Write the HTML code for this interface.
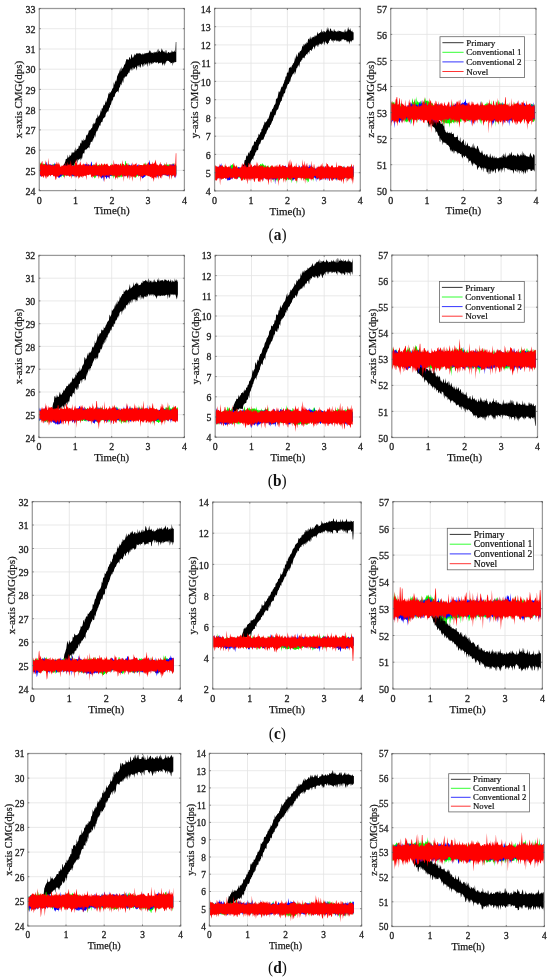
<!DOCTYPE html>
<html><head><meta charset="utf-8"><title>CMG figure</title>
<style>html,body{margin:0;padding:0;background:#fff;width:550px;height:979px;overflow:hidden}svg{display:block}</style>
</head><body>
<svg width="550" height="979" viewBox="0 0 550 979">
<rect width="550" height="979" fill="#fff"/>
<defs><clipPath id="ca1"><rect x="39.3" y="8.5" width="145.1" height="182.1"/></clipPath><clipPath id="ca2"><rect x="214.6" y="8.4" width="145.7" height="182.5"/></clipPath><clipPath id="ca3"><rect x="390.7" y="8.4" width="145.3" height="182.3"/></clipPath><clipPath id="cb1"><rect x="38.9" y="255.4" width="145.5" height="182.1"/></clipPath><clipPath id="cb2"><rect x="215.2" y="255.4" width="145.3" height="181.8"/></clipPath><clipPath id="cb3"><rect x="391.8" y="255.1" width="145.7" height="182.4"/></clipPath><clipPath id="cc1"><rect x="32.3" y="501.6" width="148" height="187.4"/></clipPath><clipPath id="cc2"><rect x="212.7" y="502.1" width="148.5" height="186.9"/></clipPath><clipPath id="cc3"><rect x="392.9" y="501.6" width="149.5" height="187.4"/></clipPath><clipPath id="cd1"><rect x="27.8" y="753.5" width="152.9" height="172.5"/></clipPath><clipPath id="cd2"><rect x="209.4" y="753.4" width="152.2" height="172.6"/></clipPath><clipPath id="cd3"><rect x="391.9" y="753.6" width="152.5" height="172.9"/></clipPath></defs>
<g font-family="'Liberation Serif', 'DejaVu Serif', serif">
<g><path d="M75.6 8.5V190.6M111.9 8.5V190.6M148.1 8.5V190.6M39.3 170.4H184.4M39.3 150.1H184.4M39.3 129.9H184.4M39.3 109.7H184.4M39.3 89.4H184.4M39.3 69.2H184.4M39.3 49H184.4M39.3 28.7H184.4" stroke="#e3e3e3" stroke-width="0.8" fill="none"/><g clip-path="url(#ca1)"><path d="M61.3 168L61.8 168.2 62.3 167.5 62.8 165.9 63.3 166.4 63.8 164.5 64.3 164 64.8 162.8 65.3 161.5 65.8 158.9 66.3 158.8 66.8 159.1 67.3 158 67.8 154.5 68.3 157.8 68.8 157.3 69.3 156.7 69.8 154.5 70.3 155.9 70.8 155.6 71.3 154.4 71.8 152.3 72.3 151.9 72.8 153.4 73.3 151.9 73.8 152.8 74.3 152.3 74.8 149.2 75.3 151.5 75.8 147.1 76.3 151 76.8 149.2 77.3 148.9 77.8 148.7 78.3 148.5 78.8 145.6 79.3 146.5 79.8 145.5 80.3 143.6 80.8 142.4 81.3 143.8 81.8 139.6 82.3 140.7 82.8 140.2 83.3 141.6 83.8 138.4 84.3 140.2 84.8 140.3 85.3 139.8 85.8 137.7 86.3 134.6 86.8 135.5 87.3 135.2 87.8 134 88.3 133 88.8 130.7 89.3 129.8 89.8 131.1 90.3 128.9 90.8 130 91.3 128.2 91.8 127.9 92.3 127.3 92.8 123.8 93.3 124.7 93.8 122.4 94.3 124.3 94.8 122.8 95.3 122.8 95.8 119.3 96.3 117.4 96.8 118.8 97.3 117.6 97.8 113.9 98.3 116.8 98.8 116.4 99.3 115.6 99.8 114.8 100.3 112.7 100.8 110.1 101.3 112 101.8 108.2 102.3 108.6 102.8 108.3 103.3 104 103.8 106.6 104.3 104.5 104.8 105.3 105.3 100.2 105.8 103 106.3 102 106.8 100.6 107.3 98.6 107.8 97.5 108.3 94.3 108.8 92.9 109.3 94.3 109.8 91.7 110.3 92.7 110.8 92.2 111.3 91 111.8 90.5 112.3 88.5 112.8 88.5 113.3 87.6 113.8 82.1 114.3 84.9 114.8 83.1 115.3 80.1 115.8 82.1 116.3 81.1 116.8 79 117.3 74.4 117.8 76.6 118.3 72.5 118.8 74 119.3 71.7 119.8 70.1 120.3 67.7 120.8 71.7 121.3 70.5 121.8 66.2 122.3 68.9 122.8 68.3 123.3 67.4 123.8 66.3 124.3 64.3 124.8 64.7 125.3 63.3 125.8 61.2 126.3 59.4 126.8 59 127.3 59.8 127.8 58.9 128.3 59.9 128.8 59.4 129.3 56.7 129.8 57.5 130.3 59.6 130.8 58 131.3 54.7 131.8 54 132.3 57.9 132.8 57.2 133.3 57.6 133.8 55.9 134.3 53.6 134.8 55.8 135.3 55.1 135.8 54.4 136.3 53.4 136.8 53.2 137.3 53.4 137.8 53.6 138.3 53 138.8 54.1 139.3 53.6 139.8 52.8 140.3 54.3 140.8 52.9 141.3 54.4 141.8 54.5 142.3 54.6 142.8 53 143.3 54.7 143.8 53.5 144.3 54.2 144.8 52.7 145.3 53.3 145.8 53.5 146.3 53.2 146.8 52.8 147.3 53.3 147.8 52.7 148.3 52.2 148.8 53.3 149.3 49.8 149.8 51.6 150.3 50.4 150.8 52.5 151.3 53.3 151.8 52 152.3 52.8 152.8 53 153.3 53.6 153.8 51.7 154.3 53.1 154.8 51.5 155.3 52.8 155.8 51.8 156.3 52.4 156.8 51.4 157.3 48.9 157.8 53 158.3 51.3 158.8 48.4 159.3 51.6 159.8 50.7 160.3 52 160.8 52.3 161.3 50.2 161.8 48 162.3 51.5 162.8 48.9 163.3 52.3 163.8 51.2 164.3 51.3 164.8 52.6 165.3 52.7 165.8 50.1 166.3 50.3 166.8 53.3 167.3 53.5 167.8 52.6 168.3 51.9 168.8 51.9 169.3 52.9 169.8 52.6 170.3 52.5 170.8 52.4 171.3 52.5 171.8 50.3 172.3 51 172.8 52.2 173.3 52.1 173.8 51.5 174.3 50.2 174.8 51.8 175.3 52.1 175.8 41.9 176.3 41.9 176.3 61.8 175.8 62.3 175.3 62 174.8 61.8 174.3 62.6 173.8 63.2 173.3 61.9 172.8 66.3 172.3 62.3 171.8 63 171.3 62.9 170.8 63.6 170.3 62.2 169.8 62 169.3 61.8 168.8 61.1 168.3 60.9 167.8 60.5 167.3 61.1 166.8 61.3 166.3 61.1 165.8 64.5 165.3 62 164.8 63.4 164.3 66.2 163.8 62.4 163.3 64.2 162.8 64.3 162.3 66.1 161.8 62 161.3 63 160.8 63.3 160.3 62.6 159.8 62.7 159.3 62.9 158.8 63.4 158.3 63.8 157.8 62.2 157.3 62 156.8 63.2 156.3 62.6 155.8 61.7 155.3 63.2 154.8 62.1 154.3 62.2 153.8 62.6 153.3 63.6 152.8 61.9 152.3 64.2 151.8 63.1 151.3 64.8 150.8 62.2 150.3 63.2 149.8 66.2 149.3 63 148.8 64.1 148.3 62 147.8 63.7 147.3 67.1 146.8 64.6 146.3 63 145.8 64.8 145.3 64.6 144.8 62.8 144.3 65.2 143.8 66.9 143.3 63.8 142.8 65.1 142.3 67.4 141.8 64.1 141.3 64.1 140.8 66.7 140.3 68.2 139.8 64.5 139.3 67.2 138.8 66.9 138.3 65.3 137.8 65.4 137.3 66.3 136.8 70.7 136.3 68.6 135.8 66.8 135.3 66.9 134.8 68.7 134.3 68.7 133.8 67.3 133.3 70 132.8 67.1 132.3 70.3 131.8 70.8 131.3 68.8 130.8 68.5 130.3 70.3 129.8 70.5 129.3 73.2 128.8 72.3 128.3 73.2 127.8 74 127.3 74.5 126.8 77.2 126.3 75.8 125.8 76.6 125.3 76.7 124.8 76.8 124.3 78.7 123.8 77.4 123.3 82.6 122.8 82.8 122.3 80 121.8 82.9 121.3 85.5 120.8 83.8 120.3 85.6 119.8 87.7 119.3 87.3 118.8 89.9 118.3 92.8 117.8 91.6 117.3 91.1 116.8 92 116.3 92 115.8 93.2 115.3 93.6 114.8 96 114.3 96.9 113.8 96.9 113.3 97.5 112.8 101.6 112.3 99.6 111.8 101 111.3 103.1 110.8 105.2 110.3 104.5 109.8 107.9 109.3 107.2 108.8 109.5 108.3 111.6 107.8 112.1 107.3 111.1 106.8 112.2 106.3 113.1 105.8 114.1 105.3 116.8 104.8 117.1 104.3 117.7 103.8 117.9 103.3 118.5 102.8 119.8 102.3 122.3 101.8 121.7 101.3 122.3 100.8 123.1 100.3 126 99.8 125.1 99.3 126.1 98.8 127.2 98.3 128.4 97.8 129.5 97.3 131.3 96.8 130.8 96.3 132.1 95.8 133.4 95.3 137.7 94.8 134.8 94.3 136.9 93.8 138.2 93.3 138.8 92.8 142.6 92.3 139.4 91.8 141.8 91.3 142.1 90.8 142.1 90.3 144.5 89.8 145 89.3 148.4 88.8 147.2 88.3 147.6 87.8 147.9 87.3 148.2 86.8 149.4 86.3 149.3 85.8 149.3 85.3 150 84.8 150.1 84.3 153.6 83.8 153.8 83.3 152.7 82.8 154.1 82.3 157.4 81.8 159.7 81.3 157.2 80.8 161.2 80.3 158 79.8 159.6 79.3 158.4 78.8 160.4 78.3 159.5 77.8 159.1 77.3 163.8 76.8 160.2 76.3 160.4 75.8 162 75.3 161.9 74.8 163.4 74.3 165 73.8 167.1 73.3 165.9 72.8 164.9 72.3 165.9 71.8 168.2 71.3 166.8 70.8 167.8 70.3 167.7 69.8 167.1 69.3 167.4 68.8 167.9 68.3 171 67.8 168.5 67.3 168.7 66.8 170.6 66.3 172 65.8 170.1 65.3 171.3 64.8 171.3 64.3 171.5 63.8 171.2 63.3 171.5 62.8 172.5 62.3 171.9 61.8 172.1 61.3 173.8Z" fill="#000"/><path d="M39.3 163.8L39.8 163.5 40.3 162.6 40.8 164.1 41.3 163.6 41.8 164.2 42.3 164.3 42.8 164.7 43.3 163.2 43.8 164.1 44.3 164.3 44.8 163.7 45.3 164.5 45.8 163.9 46.3 165.6 46.8 165.4 47.3 164.5 47.8 165.6 48.3 163.2 48.8 165.3 49.3 165.7 49.8 166.3 50.3 166.5 50.8 166.4 51.3 164.6 51.8 166.2 52.3 164.9 52.8 164.7 53.3 164.3 53.8 164.3 54.3 164 54.8 164.2 55.3 163.8 55.8 165.1 56.3 165 56.8 164.3 57.3 163.8 57.8 164.9 58.3 165.3 58.8 165.1 59.3 166.6 59.8 166.9 60.3 167 60.8 167.1 61.3 166.5 61.8 167.2 62.3 166.1 62.8 166.2 63.3 167 63.8 167.9 64.3 167.6 64.8 167.8 65.3 167.9 65.8 167.6 66.3 165.4 66.8 167.8 67.3 167 67.8 167.5 68.3 165.2 68.8 166.1 69.3 166.8 69.8 166.6 70.3 166.6 70.8 166.6 71.3 166.2 71.8 165.9 72.3 165.8 72.8 166.3 73.3 165.6 73.8 165.4 74.3 165.7 74.8 162.6 75.3 165.8 75.8 166 76.3 165.7 76.8 166.3 77.3 165.6 77.8 166.8 78.3 166.1 78.8 166.4 79.3 166.6 79.8 166.8 80.3 167 80.8 167.1 81.3 165.8 81.8 167 82.3 167.2 82.8 166 83.3 166.2 83.8 166.2 84.3 165.8 84.8 165.3 85.3 164.7 85.8 166.1 86.3 165.4 86.8 165.6 87.3 165.2 87.8 164.3 88.3 166.2 88.8 166.5 89.3 165.9 89.8 166.7 90.3 165.8 90.8 166.3 91.3 165.2 91.8 165.3 92.3 165.5 92.8 165.8 93.3 165.5 93.8 164.1 94.3 164.2 94.8 165.9 95.3 164.9 95.8 166.6 96.3 167.3 96.8 166.9 97.3 163.9 97.8 166.3 98.3 164.7 98.8 165.1 99.3 166 99.8 164.7 100.3 165.2 100.8 165.5 101.3 164.7 101.8 165.2 102.3 165 102.8 165.2 103.3 165.2 103.8 164.6 104.3 165.3 104.8 165.3 105.3 165.4 105.8 166 106.3 165.8 106.8 166.8 107.3 166.5 107.8 166.8 108.3 165.8 108.8 166.9 109.3 166.9 109.8 166.6 110.3 166.1 110.8 166.7 111.3 162.8 111.8 165.9 112.3 166.8 112.8 166.5 113.3 166 113.8 166.6 114.3 166.8 114.8 167 115.3 166.7 115.8 167.4 116.3 167.6 116.8 166.4 117.3 167.9 117.8 167.7 118.3 166.8 118.8 166.6 119.3 166.4 119.8 167.4 120.3 164.8 120.8 165.6 121.3 165.5 121.8 163.1 122.3 165.5 122.8 165.1 123.3 165.6 123.8 164 124.3 164.9 124.8 165.4 125.3 160.8 125.8 160.9 126.3 165.2 126.8 163.1 127.3 165.9 127.8 165.4 128.3 165 128.8 162.7 129.3 166.1 129.8 165.4 130.3 166.7 130.8 167.7 131.3 164.9 131.8 169 132.3 166.4 132.8 169.2 133.3 167.6 133.8 168.2 134.3 167.8 134.8 167.1 135.3 167.2 135.8 163.7 136.3 167.7 136.8 167.9 137.3 166.7 137.8 167.3 138.3 167.9 138.8 167.3 139.3 167.3 139.8 166.4 140.3 166.5 140.8 166.5 141.3 164.9 141.8 166.3 142.3 165.2 142.8 165.3 143.3 165.1 143.8 164.6 144.3 164.4 144.8 163.7 145.3 162.3 145.8 164.8 146.3 164.9 146.8 164.4 147.3 164.9 147.8 164.9 148.3 164.2 148.8 166.5 149.3 166.7 149.8 165.2 150.3 166.5 150.8 164.7 151.3 166.4 151.8 165.8 152.3 165.7 152.8 166.3 153.3 166.8 153.8 166.3 154.3 166.4 154.8 166.2 155.3 165.5 155.8 166.8 156.3 167.1 156.8 166.1 157.3 166.7 157.8 165.2 158.3 166.5 158.8 166.4 159.3 166.3 159.8 166.6 160.3 167.7 160.8 167.6 161.3 167.8 161.8 167.7 162.3 166.7 162.8 166.7 163.3 166.3 163.8 165.4 164.3 165.6 164.8 163.2 165.3 164.9 165.8 164.3 166.3 164.8 166.8 164.7 167.3 164.9 167.8 163.9 168.3 165.4 168.8 164 169.3 165.1 169.8 164.3 170.3 165.3 170.8 165.8 171.3 165.7 171.8 163.8 172.3 165.4 172.8 165.2 173.3 165 173.8 162.6 174.3 165.1 174.8 165.8 175.3 164.8 175.8 164.9 176.3 164.8 176.3 173.9 175.8 173.8 175.3 173.9 174.8 174.4 174.3 174.4 173.8 174 173.3 175 172.8 176.1 172.3 175.8 171.8 173.5 171.3 173.3 170.8 174.8 170.3 174.4 169.8 174.4 169.3 173.7 168.8 173.8 168.3 174.4 167.8 173.3 167.3 174 166.8 174 166.3 173.4 165.8 175.4 165.3 175.2 164.8 173.6 164.3 173.5 163.8 173.6 163.3 174.9 162.8 174.5 162.3 173.2 161.8 173.2 161.3 173.3 160.8 175.4 160.3 174.6 159.8 174.7 159.3 175.5 158.8 175.1 158.3 177.7 157.8 175 157.3 174.7 156.8 174.6 156.3 174.4 155.8 174.3 155.3 175.4 154.8 173.9 154.3 173.8 153.8 174.8 153.3 174.6 152.8 174.5 152.3 175.5 151.8 176.6 151.3 174.6 150.8 174.7 150.3 174.7 149.8 176 149.3 175.2 148.8 174.5 148.3 174.4 147.8 175 147.3 175.5 146.8 175.6 146.3 174.4 145.8 175.2 145.3 174.9 144.8 174.8 144.3 174.3 143.8 174 143.3 174 142.8 174.8 142.3 174.8 141.8 174.8 141.3 175.5 140.8 174.5 140.3 174.7 139.8 175.5 139.3 175.1 138.8 175.6 138.3 175.4 137.8 175.8 137.3 175.7 136.8 175.9 136.3 177.3 135.8 177.3 135.3 176.7 134.8 178.3 134.3 176.5 133.8 176.2 133.3 175.9 132.8 175.9 132.3 175.8 131.8 175.3 131.3 175.8 130.8 175.1 130.3 175.4 129.8 175.4 129.3 175.1 128.8 174.3 128.3 174.2 127.8 173.9 127.3 173.4 126.8 174.2 126.3 173.6 125.8 173.2 125.3 174 124.8 173.5 124.3 173.9 123.8 174.9 123.3 174.3 122.8 175.3 122.3 175 121.8 177.8 121.3 176.6 120.8 176.2 120.3 177 119.8 177.8 119.3 176.5 118.8 177.2 118.3 177.1 117.8 176.3 117.3 178 116.8 177.1 116.3 176.3 115.8 177.2 115.3 177.1 114.8 176.9 114.3 175.9 113.8 176 113.3 178.9 112.8 175.8 112.3 175.7 111.8 176.6 111.3 175.8 110.8 175.7 110.3 175.6 109.8 175.1 109.3 175.1 108.8 175.6 108.3 175.1 107.8 174 107.3 174.2 106.8 173.4 106.3 174.4 105.8 173.6 105.3 175.5 104.8 174.2 104.3 174.1 103.8 175.5 103.3 176.6 102.8 174.5 102.3 174 101.8 175.5 101.3 175.5 100.8 173.9 100.3 175.4 99.8 174.2 99.3 174.5 98.8 175.7 98.3 174.8 97.8 174.7 97.3 174.7 96.8 175 96.3 175.2 95.8 176.7 95.3 178.1 94.8 177.3 94.3 178.8 93.8 176.5 93.3 176.5 92.8 175.6 92.3 176.2 91.8 174.7 91.3 174.5 90.8 174.2 90.3 174 89.8 173.5 89.3 174 88.8 174.2 88.3 173.5 87.8 174 87.3 174.2 86.8 174.7 86.3 174.2 85.8 175.2 85.3 175.8 84.8 174.6 84.3 173.9 83.8 174 83.3 174.2 82.8 174.1 82.3 174.6 81.8 175.6 81.3 177 80.8 176.1 80.3 176.1 79.8 177.1 79.3 176.8 78.8 177.5 78.3 176.3 77.8 175.7 77.3 175.3 76.8 175.1 76.3 175.2 75.8 176.8 75.3 175 74.8 175.6 74.3 174.3 73.8 175.1 73.3 174.9 72.8 177.1 72.3 175.7 71.8 174.2 71.3 174.5 70.8 174.8 70.3 174.4 69.8 174.9 69.3 175.1 68.8 174.6 68.3 175.4 67.8 175.5 67.3 174.5 66.8 176.6 66.3 175.4 65.8 175 65.3 174.8 64.8 177.2 64.3 174.6 63.8 176.3 63.3 177.2 62.8 175.5 62.3 175.5 61.8 175.3 61.3 177.7 60.8 176.2 60.3 177.1 59.8 174.3 59.3 174.4 58.8 174.5 58.3 175.1 57.8 173.6 57.3 173.1 56.8 173.2 56.3 172.9 55.8 173.2 55.3 173 54.8 174.2 54.3 176 53.8 173.4 53.3 175.5 52.8 174.5 52.3 173.8 51.8 174.1 51.3 174.3 50.8 175.2 50.3 175.2 49.8 174.5 49.3 174.8 48.8 175 48.3 176.6 47.8 175.4 47.3 175.6 46.8 173.9 46.3 173.5 45.8 173.1 45.3 172.4 44.8 172.4 44.3 173 43.8 172.1 43.3 172.9 42.8 171.3 42.3 172 41.8 172.1 41.3 172.4 40.8 171.7 40.3 172.1 39.8 174.3 39.3 173.8Z" fill="#00ff00"/><path d="M39.3 165.9L39.8 165 40.3 165.8 40.8 165.7 41.3 166.1 41.8 166.4 42.3 165.8 42.8 164.2 43.3 165.8 43.8 166.4 44.3 165.3 44.8 164.4 45.3 165.2 45.8 163.5 46.3 161.4 46.8 163.9 47.3 164.5 47.8 164.7 48.3 164.7 48.8 165.1 49.3 164.5 49.8 164.6 50.3 163.7 50.8 165.3 51.3 164.9 51.8 164.5 52.3 165.4 52.8 164.9 53.3 165.4 53.8 165.5 54.3 164.8 54.8 162.4 55.3 163.9 55.8 165.9 56.3 166 56.8 165.9 57.3 167.1 57.8 164.4 58.3 167.2 58.8 167.1 59.3 167.3 59.8 167.7 60.3 168.2 60.8 168.3 61.3 166.9 61.8 167.7 62.3 167.4 62.8 166.5 63.3 165.1 63.8 165.7 64.3 166.5 64.8 164.9 65.3 164.8 65.8 166.5 66.3 166.4 66.8 166.2 67.3 165.8 67.8 164.9 68.3 165.7 68.8 166.5 69.3 165.9 69.8 166.6 70.3 165.7 70.8 167 71.3 167.1 71.8 166.7 72.3 168.1 72.8 168.1 73.3 164.4 73.8 165.2 74.3 166.8 74.8 167.4 75.3 167.1 75.8 166.7 76.3 166.1 76.8 166 77.3 166.2 77.8 165.1 78.3 166.1 78.8 165.1 79.3 166 79.8 166.3 80.3 165.8 80.8 164.1 81.3 166.8 81.8 166.9 82.3 166.7 82.8 165.4 83.3 165.7 83.8 165.2 84.3 165.3 84.8 164.4 85.3 163.5 85.8 164.8 86.3 163.9 86.8 164 87.3 164.8 87.8 165 88.3 164 88.8 164.4 89.3 165.6 89.8 164.8 90.3 164.9 90.8 165.8 91.3 162.1 91.8 161.6 92.3 166.5 92.8 166.2 93.3 166.6 93.8 166.6 94.3 167.1 94.8 166.7 95.3 167.4 95.8 166.8 96.3 167.4 96.8 167.3 97.3 166.8 97.8 167.3 98.3 167.6 98.8 167.9 99.3 168.1 99.8 166.5 100.3 167.9 100.8 166 101.3 168.6 101.8 166.1 102.3 168.8 102.8 168.9 103.3 169.5 103.8 169.1 104.3 168.4 104.8 169.3 105.3 169.4 105.8 169.3 106.3 168.8 106.8 168.5 107.3 167.5 107.8 167 108.3 166.1 108.8 167.3 109.3 166.6 109.8 166.5 110.3 165.2 110.8 166.1 111.3 166.6 111.8 166.2 112.3 166.5 112.8 165.8 113.3 166.1 113.8 166.6 114.3 165.8 114.8 163.3 115.3 165.3 115.8 165.2 116.3 163.4 116.8 165.7 117.3 165.8 117.8 164.4 118.3 165.7 118.8 164 119.3 166.2 119.8 166.6 120.3 166.7 120.8 167.6 121.3 168 121.8 167.9 122.3 166.9 122.8 167 123.3 167.7 123.8 167.1 124.3 166.2 124.8 166.6 125.3 166.2 125.8 164.7 126.3 166.5 126.8 166.1 127.3 166.6 127.8 166.3 128.3 166.1 128.8 164.9 129.3 164.9 129.8 164.4 130.3 165.6 130.8 166.1 131.3 165.6 131.8 162.9 132.3 166.8 132.8 167.2 133.3 166.7 133.8 165 134.3 165.9 134.8 167 135.3 167 135.8 165.2 136.3 166.5 136.8 166.1 137.3 164.5 137.8 165.6 138.3 166.2 138.8 163.8 139.3 166.3 139.8 165.6 140.3 166.8 140.8 166 141.3 167.3 141.8 167.5 142.3 165.9 142.8 167.3 143.3 167.8 143.8 167.6 144.3 168.1 144.8 165.1 145.3 167.7 145.8 166 146.3 166.2 146.8 166.9 147.3 163.5 147.8 165.4 148.3 164.9 148.8 164.1 149.3 159.7 149.8 162.4 150.3 164.2 150.8 164.4 151.3 164.6 151.8 164.9 152.3 165.4 152.8 165.3 153.3 165.8 153.8 163.8 154.3 165.8 154.8 166.4 155.3 164.3 155.8 166.3 156.3 165.9 156.8 166.6 157.3 166.6 157.8 164.4 158.3 166.4 158.8 166.3 159.3 166.1 159.8 165.7 160.3 164 160.8 165.4 161.3 163.7 161.8 165.1 162.3 166.4 162.8 165.7 163.3 165 163.8 166.6 164.3 165.6 164.8 165.1 165.3 166.6 165.8 166.4 166.3 166.3 166.8 165.9 167.3 165.4 167.8 166.6 168.3 165.9 168.8 166.5 169.3 165.9 169.8 166 170.3 163.9 170.8 165 171.3 165.2 171.8 164.2 172.3 164.4 172.8 164.2 173.3 163.7 173.8 164.6 174.3 165.3 174.8 165 175.3 165.6 175.8 165.8 176.3 166.3 176.3 175 175.8 178.6 175.3 175.1 174.8 177.9 174.3 175.3 173.8 175.3 173.3 175.2 172.8 176.4 172.3 174.5 171.8 174 171.3 174.8 170.8 174 170.3 173.8 169.8 174.4 169.3 174.2 168.8 176.9 168.3 175.3 167.8 175.5 167.3 176.4 166.8 175.5 166.3 175.5 165.8 175.2 165.3 174.9 164.8 175 164.3 174.6 163.8 174.6 163.3 174.8 162.8 175.6 162.3 174.9 161.8 175.4 161.3 175.2 160.8 178.3 160.3 175.2 159.8 175 159.3 175.4 158.8 175 158.3 175 157.8 178 157.3 175.7 156.8 175.5 156.3 175.8 155.8 177 155.3 177.2 154.8 175.1 154.3 175.3 153.8 175.8 153.3 176.1 152.8 175.5 152.3 175.4 151.8 174.9 151.3 174.6 150.8 176.3 150.3 175 149.8 173.6 149.3 174.1 148.8 173.8 148.3 174 147.8 175.3 147.3 174.6 146.8 174.7 146.3 174.8 145.8 175 145.3 176.6 144.8 177.1 144.3 176.6 143.8 177.7 143.3 177.4 142.8 178.5 142.3 178.3 141.8 177.1 141.3 176.7 140.8 176.4 140.3 176.2 139.8 175.6 139.3 175.4 138.8 176 138.3 174.1 137.8 174.5 137.3 174.8 136.8 175.2 136.3 174 135.8 175.2 135.3 176.2 134.8 174.2 134.3 175 133.8 174.7 133.3 174.4 132.8 174.9 132.3 174.7 131.8 176.3 131.3 175.5 130.8 176 130.3 175 129.8 175.7 129.3 174.7 128.8 178.3 128.3 174.5 127.8 175.6 127.3 174.3 126.8 174.8 126.3 175.3 125.8 176 125.3 175.5 124.8 176.2 124.3 176.3 123.8 176.6 123.3 174.9 122.8 175.3 122.3 174.8 121.8 173.9 121.3 174.1 120.8 175.9 120.3 174.2 119.8 174.3 119.3 173.6 118.8 175.2 118.3 174.3 117.8 173.6 117.3 173.9 116.8 173.2 116.3 173.3 115.8 173.6 115.3 176.5 114.8 173 114.3 173.3 113.8 173.4 113.3 173.8 112.8 174.3 112.3 175.2 111.8 175.4 111.3 175.5 110.8 175.4 110.3 176 109.8 176.1 109.3 178.9 108.8 177.9 108.3 176.9 107.8 176.9 107.3 177 106.8 178.8 106.3 178.8 105.8 176.7 105.3 177.2 104.8 176.3 104.3 177.3 103.8 181.7 103.3 177.3 102.8 177 102.3 177.9 101.8 178.4 101.3 178.4 100.8 176.6 100.3 176.7 99.8 176.6 99.3 175.3 98.8 176.6 98.3 175.2 97.8 176.4 97.3 175.6 96.8 175.3 96.3 175.4 95.8 175.5 95.3 174.3 94.8 174.4 94.3 175.1 93.8 175.7 93.3 175.2 92.8 175.1 92.3 176.2 91.8 175 91.3 173.9 90.8 173.1 90.3 173.3 89.8 173.5 89.3 173.3 88.8 173.6 88.3 175.5 87.8 174.1 87.3 173.3 86.8 174.5 86.3 173.6 85.8 173.3 85.3 173.8 84.8 174.6 84.3 174.6 83.8 173.6 83.3 173.6 82.8 174.2 82.3 174.6 81.8 176.7 81.3 175.2 80.8 173.8 80.3 174.1 79.8 174 79.3 173.9 78.8 175.8 78.3 174.3 77.8 174.6 77.3 174.6 76.8 174.9 76.3 177.9 75.8 175.4 75.3 175.6 74.8 175.4 74.3 176 73.8 175.8 73.3 176.4 72.8 176 72.3 174.9 71.8 176.8 71.3 175 70.8 175.4 70.3 174.8 69.8 174.8 69.3 174.5 68.8 174.8 68.3 174.7 67.8 175.5 67.3 175.7 66.8 173.9 66.3 173.8 65.8 173.6 65.3 173.5 64.8 173.2 64.3 173.8 63.8 173.5 63.3 175.1 62.8 175.7 62.3 174.5 61.8 176 61.3 175.7 60.8 177.3 60.3 176.1 59.8 178.5 59.3 177 58.8 177.4 58.3 177.7 57.8 176.7 57.3 175.9 56.8 175.4 56.3 175.8 55.8 174.8 55.3 175.1 54.8 176.3 54.3 174 53.8 175.1 53.3 173.8 52.8 174.4 52.3 174.7 51.8 175.1 51.3 173.9 50.8 176.7 50.3 173.2 49.8 172.7 49.3 172.9 48.8 173 48.3 172.1 47.8 172.4 47.3 172.6 46.8 174.6 46.3 173.3 45.8 172.2 45.3 172.2 44.8 172.4 44.3 172.9 43.8 173 43.3 173.1 42.8 174 42.3 174.3 41.8 176.5 41.3 175.7 40.8 175.4 40.3 176.8 39.8 175.7 39.3 175.6Z" fill="#0000ff"/><path d="M39.3 162L39.8 161.9 40.3 165 40.8 163.8 41.3 163.3 41.8 161.7 42.3 160.7 42.8 165 43.3 163.8 43.8 165 44.3 165 44.8 164.5 45.3 163.6 45.8 160.1 46.3 165 46.8 163.8 47.3 165.4 47.8 164.8 48.3 157.8 48.8 165.3 49.3 164.8 49.8 164.6 50.3 165.2 50.8 164.8 51.3 165.3 51.8 165.5 52.3 165.9 52.8 163.6 53.3 165 53.8 165.8 54.3 165.2 54.8 165.3 55.3 163.6 55.8 164.7 56.3 163.9 56.8 161.5 57.3 163.1 57.8 164.7 58.3 164.3 58.8 161.7 59.3 165.8 59.8 163 60.3 166.9 60.8 166.4 61.3 166.4 61.8 165.3 62.3 165.8 62.8 165.7 63.3 165.4 63.8 164.4 64.3 166.1 64.8 164.4 65.3 166.3 65.8 162.5 66.3 164.9 66.8 166.1 67.3 165.6 67.8 161.8 68.3 164.8 68.8 164.8 69.3 165.3 69.8 163.5 70.3 164.8 70.8 160.3 71.3 164.2 71.8 166 72.3 166 72.8 165.3 73.3 165.5 73.8 165.5 74.3 165.5 74.8 164.9 75.3 159.9 75.8 162.7 76.3 163.6 76.8 158.3 77.3 165.7 77.8 164.6 78.3 164.7 78.8 164.6 79.3 164.8 79.8 163.2 80.3 161.1 80.8 163.8 81.3 164.9 81.8 165.2 82.3 165.2 82.8 163.9 83.3 163.2 83.8 164.6 84.3 164 84.8 164.7 85.3 164.9 85.8 165.7 86.3 165.8 86.8 161.6 87.3 163.8 87.8 165.8 88.3 166.3 88.8 164.1 89.3 165.5 89.8 164.6 90.3 163.2 90.8 165.5 91.3 166.2 91.8 166 92.3 165 92.8 165.3 93.3 165.4 93.8 164.5 94.3 165.1 94.8 164.7 95.3 162.3 95.8 165.7 96.3 161.2 96.8 163.9 97.3 165.9 97.8 165.4 98.3 165.8 98.8 165.4 99.3 163.5 99.8 165.6 100.3 165.7 100.8 164.8 101.3 163.1 101.8 164.2 102.3 163.7 102.8 166.2 103.3 165 103.8 164.6 104.3 163.8 104.8 163.6 105.3 164.2 105.8 165.1 106.3 164.1 106.8 163.7 107.3 163.6 107.8 164.7 108.3 165.9 108.8 165.4 109.3 166.4 109.8 166.2 110.3 164.5 110.8 165.6 111.3 165.6 111.8 164.5 112.3 163.9 112.8 165 113.3 165.5 113.8 159.6 114.3 164.9 114.8 164.1 115.3 163.7 115.8 164.5 116.3 164.3 116.8 163.8 117.3 165.2 117.8 164.3 118.3 163.7 118.8 164.9 119.3 165.6 119.8 164.4 120.3 163.5 120.8 163.4 121.3 165.9 121.8 165.2 122.3 160.1 122.8 164.1 123.3 164.2 123.8 164 124.3 165.8 124.8 165.6 125.3 165.7 125.8 164.3 126.3 162.9 126.8 164 127.3 165.5 127.8 162.7 128.3 165.7 128.8 165 129.3 164.7 129.8 166.1 130.3 165.7 130.8 165.1 131.3 165.1 131.8 165.5 132.3 165.7 132.8 162.1 133.3 165.4 133.8 164.3 134.3 164.7 134.8 164.4 135.3 164.1 135.8 163.8 136.3 162.5 136.8 165.8 137.3 166.4 137.8 166.1 138.3 164.3 138.8 166.3 139.3 164.1 139.8 165.3 140.3 164.9 140.8 165.1 141.3 165.1 141.8 165 142.3 165.6 142.8 165.3 143.3 165.1 143.8 163.6 144.3 163.3 144.8 164.8 145.3 164.4 145.8 164.3 146.3 165.7 146.8 163.2 147.3 164.6 147.8 163.2 148.3 162.7 148.8 161.8 149.3 164.8 149.8 164.9 150.3 163.5 150.8 164.6 151.3 164.2 151.8 164 152.3 161.4 152.8 163.9 153.3 164 153.8 163.3 154.3 163.2 154.8 162.6 155.3 159.6 155.8 161.5 156.3 163.2 156.8 164.8 157.3 164.6 157.8 165.3 158.3 165.1 158.8 166 159.3 164.6 159.8 163.8 160.3 161.7 160.8 164.5 161.3 164.3 161.8 165.2 162.3 165.2 162.8 166.1 163.3 165.7 163.8 165 164.3 165.1 164.8 163.3 165.3 165.3 165.8 165.6 166.3 161.4 166.8 166.3 167.3 165.6 167.8 166 168.3 166.4 168.8 165.6 169.3 163.5 169.8 165.9 170.3 165.1 170.8 163.9 171.3 164.8 171.8 165.4 172.3 165.9 172.8 162.8 173.3 165 173.8 166.1 174.3 165.2 174.8 162.8 175.3 164.9 175.8 153.2 176.3 153.2 176.3 175.2 175.8 175.4 175.3 176.9 174.8 177.6 174.3 176.5 173.8 174.8 173.3 175.6 172.8 176.6 172.3 175.1 171.8 176 171.3 179.7 170.8 175.3 170.3 174.9 169.8 175.7 169.3 179.9 168.8 175.3 168.3 174.4 167.8 175.2 167.3 176 166.8 174.6 166.3 176.1 165.8 175.4 165.3 174.3 164.8 174.5 164.3 175.4 163.8 175.2 163.3 174.5 162.8 174.5 162.3 176 161.8 178.9 161.3 175.3 160.8 177.2 160.3 178.6 159.8 175.8 159.3 176.6 158.8 175.3 158.3 179.8 157.8 175.7 157.3 175.1 156.8 176.3 156.3 178.7 155.8 176.5 155.3 178.5 154.8 176.8 154.3 178 153.8 182 153.3 179.1 152.8 177.8 152.3 178.6 151.8 176.3 151.3 178.9 150.8 176.7 150.3 176.9 149.8 177.1 149.3 175.8 148.8 176.2 148.3 176.1 147.8 176.2 147.3 175.3 146.8 175.4 146.3 175.3 145.8 175.6 145.3 175.7 144.8 175.3 144.3 175.1 143.8 175.7 143.3 175.5 142.8 177.1 142.3 176.5 141.8 176.2 141.3 175.6 140.8 182 140.3 176.2 139.8 175.6 139.3 175.9 138.8 177 138.3 175.7 137.8 174.4 137.3 174.4 136.8 175.6 136.3 175.1 135.8 177.7 135.3 177.6 134.8 177.1 134.3 176.2 133.8 176.3 133.3 177.5 132.8 176.1 132.3 181.8 131.8 176.9 131.3 176.3 130.8 178.3 130.3 176 129.8 174.8 129.3 180.4 128.8 175.2 128.3 175.7 127.8 177.6 127.3 179.1 126.8 175.3 126.3 176.4 125.8 175.4 125.3 177 124.8 175.6 124.3 175.8 123.8 182.1 123.3 174.5 122.8 176.9 122.3 176.7 121.8 174.9 121.3 174.8 120.8 176.1 120.3 175.6 119.8 176.5 119.3 176.8 118.8 175.1 118.3 176.9 117.8 179.6 117.3 176.1 116.8 177 116.3 178 115.8 177.5 115.3 180.2 114.8 175.5 114.3 175.5 113.8 175.5 113.3 176.4 112.8 175 112.3 176.5 111.8 175 111.3 175.2 110.8 175.4 110.3 174.9 109.8 174.3 109.3 179.5 108.8 174.6 108.3 177 107.8 174.9 107.3 177.6 106.8 175.2 106.3 175 105.8 176.6 105.3 175.7 104.8 174.4 104.3 182.5 103.8 178.1 103.3 175.1 102.8 175.4 102.3 175.8 101.8 176.2 101.3 177.4 100.8 177.9 100.3 176.4 99.8 174.9 99.3 176.7 98.8 179 98.3 176.3 97.8 175 97.3 175.1 96.8 175 96.3 176.7 95.8 175.1 95.3 176.2 94.8 176.7 94.3 175.1 93.8 177.1 93.3 175.9 92.8 178.5 92.3 175.8 91.8 177.1 91.3 177.5 90.8 174.6 90.3 174.4 89.8 174.3 89.3 174.9 88.8 174.9 88.3 175.3 87.8 174.8 87.3 175 86.8 174.8 86.3 180.3 85.8 176 85.3 175.8 84.8 175.5 84.3 176.1 83.8 176 83.3 176.5 82.8 178.2 82.3 175.6 81.8 177.4 81.3 176.2 80.8 176 80.3 176.4 79.8 178.3 79.3 177 78.8 176.1 78.3 179.4 77.8 176.2 77.3 175.4 76.8 177.5 76.3 175.4 75.8 177.9 75.3 175.3 74.8 177.7 74.3 175.2 73.8 175.7 73.3 175.2 72.8 174.6 72.3 174.9 71.8 174.5 71.3 179 70.8 176.5 70.3 175.4 69.8 176.3 69.3 177.3 68.8 175.4 68.3 175.8 67.8 176.1 67.3 174.7 66.8 175 66.3 176.2 65.8 175.8 65.3 175.3 64.8 174.9 64.3 178.9 63.8 175 63.3 174.8 62.8 174.5 62.3 175.6 61.8 173.9 61.3 176.1 60.8 173.9 60.3 175.3 59.8 175.2 59.3 175.8 58.8 177.3 58.3 176.3 57.8 175.8 57.3 177.2 56.8 176.3 56.3 178.8 55.8 180.2 55.3 178.4 54.8 175.5 54.3 176.8 53.8 176 53.3 176.5 52.8 174.7 52.3 174.8 51.8 174.9 51.3 175.1 50.8 175.4 50.3 176.2 49.8 175.1 49.3 175.1 48.8 176.8 48.3 175.1 47.8 177.6 47.3 176.7 46.8 175.4 46.3 179.3 45.8 175.7 45.3 179 44.8 175.5 44.3 175.5 43.8 178.2 43.3 177.1 42.8 175.8 42.3 176.7 41.8 176.3 41.3 177.2 40.8 175.5 40.3 175.2 39.8 175.1 39.3 175.8Z" fill="#ff0000"/></g><rect x="39.3" y="8.5" width="145.1" height="182.1" fill="none" stroke="#999" stroke-width="1.25"/><path d="M39.3 190.6v-1.5M39.3 8.5v1.5M75.6 190.6v-1.5M75.6 8.5v1.5M111.9 190.6v-1.5M111.9 8.5v1.5M148.1 190.6v-1.5M148.1 8.5v1.5M184.4 190.6v-1.5M184.4 8.5v1.5M39.3 190.6h1.5M184.4 190.6h-1.5M39.3 170.4h1.5M184.4 170.4h-1.5M39.3 150.1h1.5M184.4 150.1h-1.5M39.3 129.9h1.5M184.4 129.9h-1.5M39.3 109.7h1.5M184.4 109.7h-1.5M39.3 89.4h1.5M184.4 89.4h-1.5M39.3 69.2h1.5M184.4 69.2h-1.5M39.3 49h1.5M184.4 49h-1.5M39.3 28.7h1.5M184.4 28.7h-1.5M39.3 8.5h1.5M184.4 8.5h-1.5" stroke="#555" stroke-width="0.7" fill="none"/><g font-size="10" fill="#222" stroke="#222" stroke-width="0.3"><text x="39.3" y="203.8" text-anchor="middle">0</text><text x="75.6" y="203.8" text-anchor="middle">1</text><text x="111.9" y="203.8" text-anchor="middle">2</text><text x="148.1" y="203.8" text-anchor="middle">3</text><text x="184.4" y="203.8" text-anchor="middle">4</text><text x="35.5" y="194.7" text-anchor="end">24</text><text x="35.5" y="174.5" text-anchor="end">25</text><text x="35.5" y="154.2" text-anchor="end">26</text><text x="35.5" y="134" text-anchor="end">27</text><text x="35.5" y="113.8" text-anchor="end">28</text><text x="35.5" y="93.5" text-anchor="end">29</text><text x="35.5" y="73.3" text-anchor="end">30</text><text x="35.5" y="53.1" text-anchor="end">31</text><text x="35.5" y="32.8" text-anchor="end">32</text><text x="35.5" y="12.6" text-anchor="end">33</text></g><text x="111.8" y="214.2" text-anchor="middle" font-size="11.00" fill="#1a1a1a" stroke="#1a1a1a" stroke-width="0.25">Time(h)</text><text transform="translate(21.8 99.5) rotate(-90)" text-anchor="middle" font-size="11.00" fill="#1a1a1a" stroke="#1a1a1a" stroke-width="0.22">x-axis CMG(dps)</text></g>
<g><path d="M251 8.4V190.9M287.4 8.4V190.9M323.9 8.4V190.9M214.6 172.7H360.3M214.6 154.4H360.3M214.6 136.2H360.3M214.6 117.9H360.3M214.6 99.7H360.3M214.6 81.4H360.3M214.6 63.2H360.3M214.6 44.9H360.3M214.6 26.7H360.3" stroke="#e3e3e3" stroke-width="0.8" fill="none"/><g clip-path="url(#ca2)"><path d="M240.1 170.6L240.6 170.6 241.1 169.5 241.6 169.8 242.1 168.6 242.6 167.1 243.1 164.3 243.6 165 244.1 163.5 244.6 160.2 245.1 160 245.6 160.1 246.1 156.8 246.6 155.6 247.1 155.2 247.6 156.5 248.1 153.6 248.6 152 249.1 154.1 249.6 152.2 250.1 150.8 250.6 150.7 251.1 149.9 251.6 148.1 252.1 146.5 252.6 146 253.1 144.4 253.6 145.7 254.1 141.4 254.6 141.6 255.1 141.8 255.6 142.1 256.1 140.1 256.6 140.1 257.1 137.6 257.6 138.1 258.1 137 258.6 133.6 259.1 135.1 259.6 134.4 260.1 133.2 260.6 132.1 261.1 132.2 261.6 128.8 262.1 129.2 262.6 127.8 263.1 126.5 263.6 124.8 264.1 124.4 264.6 121.2 265.1 123.1 265.6 122 266.1 121.7 266.6 121.2 267.1 120.4 267.6 118.7 268.1 119 268.6 117.9 269.1 116.5 269.6 114.8 270.1 113.1 270.6 111.2 271.1 112.2 271.6 111.3 272.1 109.3 272.6 109.1 273.1 108.3 273.6 106.9 274.1 105.2 274.6 104.8 275.1 104.2 275.6 102.9 276.1 97.9 276.6 99.2 277.1 98.6 277.6 97.6 278.1 94.8 278.6 91.9 279.1 90.8 279.6 92.6 280.1 91.6 280.6 89.5 281.1 87.9 281.6 86.4 282.1 87.1 282.6 86.2 283.1 84.3 283.6 83.6 284.1 82.1 284.6 80.1 285.1 79.5 285.6 76.5 286.1 76.7 286.6 75.8 287.1 71.5 287.6 73.1 288.1 72.9 288.6 71.1 289.1 67.3 289.6 68.1 290.1 67.8 290.6 66.6 291.1 68 291.6 66.5 292.1 65.2 292.6 64.9 293.1 62.7 293.6 63.7 294.1 61.9 294.6 60.3 295.1 56.1 295.6 59.5 296.1 56.7 296.6 53.5 297.1 57 297.6 56.2 298.1 53.6 298.6 52.1 299.1 53.8 299.6 51.7 300.1 51.3 300.6 50.9 301.1 50.4 301.6 49.5 302.1 47 302.6 45.4 303.1 46.8 303.6 44.5 304.1 43.4 304.6 45.5 305.1 44.6 305.6 43 306.1 44.5 306.6 42.1 307.1 43.1 307.6 42.4 308.1 39 308.6 39.3 309.1 37.9 309.6 40.4 310.1 35.9 310.6 38.2 311.1 39.5 311.6 38 312.1 36.7 312.6 38 313.1 36.5 313.6 37 314.1 37.4 314.6 36.1 315.1 34.8 315.6 36.5 316.1 36.1 316.6 35.4 317.1 34.1 317.6 31.4 318.1 34.3 318.6 33.8 319.1 33 319.6 33.3 320.1 32.4 320.6 31.9 321.1 32.8 321.6 28.6 322.1 32.5 322.6 30.9 323.1 33 323.6 30.8 324.1 31.1 324.6 31.6 325.1 32.5 325.6 31.9 326.1 31.3 326.6 30.4 327.1 26.8 327.6 30.5 328.1 27.5 328.6 29.8 329.1 31.1 329.6 31.7 330.1 28.4 330.6 28.5 331.1 29.6 331.6 31 332.1 31.1 332.6 31.4 333.1 29.2 333.6 31.9 334.1 31.2 334.6 28.7 335.1 31.8 335.6 30.7 336.1 31.6 336.6 31.9 337.1 30.8 337.6 32 338.1 30 338.6 31.8 339.1 30.7 339.6 31 340.1 31.3 340.6 31.1 341.1 31.8 341.6 31.6 342.1 31.4 342.6 32.3 343.1 31.4 343.6 32 344.1 32.7 344.6 30.7 345.1 28.7 345.6 31.5 346.1 32.2 346.6 31 347.1 31.5 347.6 29.5 348.1 26.8 348.6 29 349.1 30 349.6 29.3 350.1 31 350.6 27.8 351.1 31.2 351.6 31.4 352.1 30.2 352.6 32 353.1 32.5 353.6 32 353.6 39.3 353.1 40.6 352.6 40 352.1 40.6 351.6 41 351.1 42.6 350.6 40.6 350.1 41.4 349.6 44.6 349.1 41.5 348.6 41 348.1 42.6 347.6 40.7 347.1 42.6 346.6 41.2 346.1 40.1 345.6 40.3 345.1 39.7 344.6 40.4 344.1 39.5 343.6 39.5 343.1 39 342.6 39.4 342.1 39.6 341.6 39.4 341.1 41.6 340.6 40.4 340.1 41.6 339.6 42 339.1 40.5 338.6 40.7 338.1 42.1 337.6 40.7 337.1 40.5 336.6 40.5 336.1 41.7 335.6 39.5 335.1 40.4 334.6 40.7 334.1 40.4 333.6 40.1 333.1 43.2 332.6 40 332.1 41 331.6 40.7 331.1 39.4 330.6 39.1 330.1 39.3 329.6 40.7 329.1 40.8 328.6 43.1 328.1 42.9 327.6 44.5 327.1 44 326.6 42.4 326.1 43.6 325.6 41.7 325.1 41.3 324.6 43.7 324.1 45.4 323.6 41.6 323.1 41.8 322.6 43.8 322.1 43.8 321.6 45.2 321.1 43.3 320.6 44.2 320.1 43.7 319.6 43.6 319.1 45 318.6 44.4 318.1 47.1 317.6 46.4 317.1 44.6 316.6 45.3 316.1 46.1 315.6 45.6 315.1 47.4 314.6 49.7 314.1 47.1 313.6 46.5 313.1 47.2 312.6 49.7 312.1 48.6 311.6 51.3 311.1 50.6 310.6 50.1 310.1 50.1 309.6 51 309.1 54.3 308.6 51.7 308.1 52.3 307.6 53.4 307.1 55.1 306.6 54 306.1 54.3 305.6 56.1 305.1 55.5 304.6 57.8 304.1 58.5 303.6 57.7 303.1 57.6 302.6 58 302.1 59.9 301.6 59.8 301.1 61.6 300.6 61.5 300.1 62.1 299.6 64.7 299.1 67.5 298.6 64.4 298.1 66 297.6 66.5 297.1 68.2 296.6 68.1 296.1 70.3 295.6 74.3 295.1 71.6 294.6 71.7 294.1 74.9 293.6 73.2 293.1 73.6 292.6 74.5 292.1 75.8 291.6 76.8 291.1 77.4 290.6 79.4 290.1 82.1 289.6 81.2 289.1 83.2 288.6 83.9 288.1 84.1 287.6 84.7 287.1 85.9 286.6 88.1 286.1 89.1 285.6 89.6 285.1 92.6 284.6 93.7 284.1 93 283.6 94.5 283.1 97.6 282.6 95.9 282.1 98.5 281.6 101 281.1 101 280.6 102 280.1 103 279.6 104.9 279.1 105.4 278.6 107.4 278.1 109.3 277.6 109.6 277.1 109.9 276.6 110.5 276.1 112.2 275.6 114.6 275.1 115.5 274.6 114.8 274.1 116.4 273.6 117.5 273.1 119.2 272.6 121 272.1 121.3 271.6 122.8 271.1 123.9 270.6 124.9 270.1 125.2 269.6 128.1 269.1 126.9 268.6 127.5 268.1 128.8 267.6 130 267.1 130.5 266.6 132.1 266.1 133.7 265.6 133.8 265.1 135.1 264.6 136.6 264.1 137.5 263.6 139.3 263.1 139.7 262.6 140 262.1 139.6 261.6 140.1 261.1 140.8 260.6 142.4 260.1 143.9 259.6 143.8 259.1 144.9 258.6 145.9 258.1 149.8 257.6 150.4 257.1 149.7 256.6 150.6 256.1 152.1 255.6 152.3 255.1 153.8 254.6 155.9 254.1 155.6 253.6 157.3 253.1 160.3 252.6 158.6 252.1 158.9 251.6 160.5 251.1 160.7 250.6 162.6 250.1 165.7 249.6 163.2 249.1 166.2 248.6 164.8 248.1 166.8 247.6 168.3 247.1 168.5 246.6 172 246.1 172.8 245.6 170.5 245.1 170.8 244.6 174 244.1 172 243.6 172.1 243.1 172.1 242.6 173.1 242.1 173.3 241.6 173.7 241.1 174.1 240.6 174.8 240.1 174.8Z" fill="#000"/><path d="M214.6 165.1L215.1 165.4 215.6 166.6 216.1 167.7 216.6 166.8 217.1 168 217.6 168.6 218.1 168.2 218.6 167.9 219.1 168.8 219.6 167 220.1 167.8 220.6 168.2 221.1 168.8 221.6 168.7 222.1 169.2 222.6 169.4 223.1 169.7 223.6 169.8 224.1 164.8 224.6 168.3 225.1 169.2 225.6 169.2 226.1 169.4 226.6 167.8 227.1 169 227.6 168.5 228.1 168.7 228.6 168.4 229.1 167.8 229.6 167.3 230.1 166.3 230.6 166.6 231.1 165.2 231.6 165.3 232.1 164.5 232.6 164.1 233.1 165.3 233.6 165.9 234.1 166.1 234.6 164.9 235.1 166.2 235.6 167.9 236.1 167.9 236.6 168.2 237.1 165.9 237.6 168.9 238.1 168.9 238.6 169 239.1 168.9 239.6 168 240.1 167.9 240.6 168.9 241.1 168.4 241.6 168.1 242.1 168.7 242.6 164.5 243.1 168.2 243.6 168.1 244.1 168 244.6 166.4 245.1 166.4 245.6 167.9 246.1 169.3 246.6 169.2 247.1 169 247.6 167.9 248.1 168.4 248.6 168.3 249.1 168.1 249.6 168.1 250.1 168.6 250.6 167.8 251.1 168.7 251.6 165.4 252.1 165.9 252.6 167.9 253.1 167.8 253.6 167.5 254.1 166.1 254.6 167 255.1 166 255.6 166.2 256.1 166.5 256.6 166.8 257.1 165.8 257.6 166.7 258.1 166 258.6 166.7 259.1 165.3 259.6 165.4 260.1 164.6 260.6 163.7 261.1 164.6 261.6 164.9 262.1 162.8 262.6 164 263.1 164.7 263.6 164.2 264.1 165.8 264.6 165.8 265.1 164.4 265.6 166.4 266.1 166 266.6 166.6 267.1 167.2 267.6 166.4 268.1 167.5 268.6 164.8 269.1 167.9 269.6 167.7 270.1 165.9 270.6 166.8 271.1 166.2 271.6 167 272.1 166.3 272.6 166.8 273.1 166.6 273.6 167.7 274.1 168.5 274.6 168 275.1 165.9 275.6 166.9 276.1 168 276.6 168.1 277.1 168.7 277.6 168.3 278.1 168 278.6 168.7 279.1 168.7 279.6 169 280.1 169.1 280.6 168.7 281.1 168.4 281.6 168.5 282.1 168.1 282.6 169.3 283.1 168.6 283.6 169.6 284.1 170.2 284.6 169.1 285.1 170.8 285.6 170.6 286.1 169.9 286.6 168.5 287.1 169.9 287.6 169.1 288.1 168 288.6 169.8 289.1 168.4 289.6 169.8 290.1 170 290.6 169.5 291.1 167.7 291.6 169.6 292.1 166 292.6 169.2 293.1 169.6 293.6 169.5 294.1 169.5 294.6 170.9 295.1 170.3 295.6 166.6 296.1 169.4 296.6 167.6 297.1 168.5 297.6 167.6 298.1 168.4 298.6 168.9 299.1 168.2 299.6 168.6 300.1 168.6 300.6 167.3 301.1 167.7 301.6 168.3 302.1 167.5 302.6 168.9 303.1 169.2 303.6 169.3 304.1 169.4 304.6 167.7 305.1 168.3 305.6 168.7 306.1 169.6 306.6 169.1 307.1 169.3 307.6 167.2 308.1 170.2 308.6 168.3 309.1 170.2 309.6 170 310.1 168.5 310.6 169.5 311.1 169 311.6 167.8 312.1 168 312.6 167.9 313.1 166.3 313.6 168.1 314.1 168.4 314.6 168.7 315.1 168.7 315.6 169.5 316.1 169.3 316.6 169.8 317.1 169.7 317.6 169.1 318.1 169.2 318.6 167.7 319.1 166.9 319.6 168.4 320.1 166.5 320.6 167.7 321.1 166.3 321.6 168 322.1 168 322.6 168.3 323.1 165.5 323.6 167.2 324.1 168.3 324.6 168.5 325.1 168.7 325.6 168.4 326.1 168.4 326.6 167.9 327.1 168.1 327.6 168.7 328.1 168 328.6 169.1 329.1 167.8 329.6 168.4 330.1 168.9 330.6 169.2 331.1 166.5 331.6 169.3 332.1 169.2 332.6 170.1 333.1 169.9 333.6 169.8 334.1 170 334.6 170 335.1 169.8 335.6 168.9 336.1 167.2 336.6 168.1 337.1 169.7 337.6 169.4 338.1 167.8 338.6 169.2 339.1 166.6 339.6 169.2 340.1 169.2 340.6 169.9 341.1 167.1 341.6 168.5 342.1 166.8 342.6 166.9 343.1 167 343.6 166.1 344.1 169.3 344.6 169.4 345.1 168.8 345.6 169.1 346.1 169.2 346.6 168 347.1 168.2 347.6 168.4 348.1 168.7 348.6 166.3 349.1 167.6 349.6 167.5 350.1 167.2 350.6 166.1 351.1 166.8 351.6 165 352.1 166.8 352.6 168.1 353.1 168.8 353.6 168.4 353.6 177.2 353.1 176.9 352.6 177 352.1 180.3 351.6 177.6 351.1 177.2 350.6 176.7 350.1 177.6 349.6 180.1 349.1 176.6 348.6 176.9 348.1 175.6 347.6 177.2 347.1 178.6 346.6 176.6 346.1 177 345.6 177.8 345.1 178.3 344.6 178.8 344.1 178.1 343.6 179.5 343.1 178.4 342.6 178.3 342.1 179.4 341.6 178.9 341.1 177.8 340.6 178.7 340.1 178.3 339.6 180.2 339.1 177.5 338.6 178.4 338.1 179.7 337.6 178.7 337.1 178.3 336.6 179.3 336.1 179.3 335.6 179.5 335.1 177.1 334.6 177.5 334.1 178.4 333.6 176.7 333.1 180.1 332.6 177.1 332.1 179.5 331.6 179.4 331.1 178.3 330.6 177.6 330.1 177.5 329.6 177.6 329.1 179.6 328.6 177.4 328.1 177.3 327.6 178.1 327.1 176.8 326.6 177.8 326.1 177.1 325.6 177 325.1 177.2 324.6 176.3 324.1 178.3 323.6 177.4 323.1 177.1 322.6 176.4 322.1 177 321.6 177.5 321.1 176.8 320.6 176.5 320.1 177.2 319.6 177.2 319.1 176.9 318.6 180.1 318.1 177.3 317.6 177.4 317.1 176.7 316.6 178.2 316.1 176.6 315.6 177.7 315.1 176.8 314.6 177.3 314.1 177.5 313.6 177.9 313.1 181.7 312.6 177.9 312.1 178.4 311.6 178 311.1 177.9 310.6 178.5 310.1 177.6 309.6 178 309.1 178.3 308.6 182.3 308.1 181.6 307.6 179.4 307.1 183.3 306.6 179.6 306.1 180.2 305.6 179 305.1 179.9 304.6 178.3 304.1 178.4 303.6 178 303.1 177.6 302.6 178.8 302.1 177.4 301.6 177.8 301.1 176.7 300.6 176.4 300.1 176.9 299.6 177.5 299.1 176.7 298.6 178 298.1 177.7 297.6 178.2 297.1 179.3 296.6 184 296.1 179 295.6 178.4 295.1 178.3 294.6 178.8 294.1 180.1 293.6 178.6 293.1 179.4 292.6 179.3 292.1 179.4 291.6 183.6 291.1 178.8 290.6 178.9 290.1 179.9 289.6 178.3 289.1 179.5 288.6 180.3 288.1 179.1 287.6 178.9 287.1 179.9 286.6 179.2 286.1 181.4 285.6 178.9 285.1 178.4 284.6 178.6 284.1 179.1 283.6 178.4 283.1 179.6 282.6 177.3 282.1 176.9 281.6 176.5 281.1 179.5 280.6 177.4 280.1 176.7 279.6 177.1 279.1 176.6 278.6 178.2 278.1 177.5 277.6 181.9 277.1 179.4 276.6 180.8 276.1 178.3 275.6 178.1 275.1 177.7 274.6 177.4 274.1 178.1 273.6 182.4 273.1 176.7 272.6 176.6 272.1 176.8 271.6 177.4 271.1 177.7 270.6 177.9 270.1 176.5 269.6 177.9 269.1 175.9 268.6 175.7 268.1 177.2 267.6 176.1 267.1 176.4 266.6 174.6 266.1 174.3 265.6 173.6 265.1 173.6 264.6 172.9 264.1 173.3 263.6 173.8 263.1 175.1 262.6 174.2 262.1 175.9 261.6 175.1 261.1 175 260.6 174.8 260.1 175 259.6 175.2 259.1 174.9 258.6 176.7 258.1 175.3 257.6 174.9 257.1 175.7 256.6 176.4 256.1 175.7 255.6 175.3 255.1 175.5 254.6 177 254.1 175.4 253.6 175.2 253.1 177 252.6 180 252.1 175.2 251.6 176.2 251.1 175.1 250.6 174.9 250.1 175.3 249.6 175.6 249.1 175.6 248.6 177.7 248.1 177.6 247.6 175.6 247.1 176.3 246.6 175.6 246.1 177.4 245.6 177.4 245.1 178.1 244.6 176.7 244.1 177.2 243.6 180.4 243.1 177.3 242.6 177 242.1 176.9 241.6 177.3 241.1 177.5 240.6 179.6 240.1 177.6 239.6 177.5 239.1 177.8 238.6 177.5 238.1 177 237.6 177.1 237.1 177.4 236.6 176.7 236.1 178.4 235.6 176.8 235.1 177.2 234.6 179 234.1 177.5 233.6 176.6 233.1 176.5 232.6 177 232.1 176.3 231.6 175.9 231.1 175.4 230.6 175.4 230.1 174.8 229.6 174.7 229.1 174.8 228.6 175.7 228.1 175.5 227.6 177.5 227.1 176.6 226.6 177 226.1 177 225.6 178.6 225.1 177.1 224.6 177.2 224.1 177.5 223.6 177.2 223.1 177.8 222.6 177.9 222.1 179.6 221.6 178.5 221.1 178.1 220.6 176.7 220.1 176.4 219.6 177.5 219.1 176.5 218.6 174.5 218.1 174 217.6 174.5 217.1 175.7 216.6 175.7 216.1 175.3 215.6 175.3 215.1 175.3 214.6 176.1Z" fill="#00ff00"/><path d="M214.6 166.8L215.1 167 215.6 167.5 216.1 167.8 216.6 166.9 217.1 167 217.6 167.1 218.1 167.3 218.6 166.8 219.1 165.7 219.6 166.8 220.1 164.7 220.6 164.4 221.1 167.2 221.6 162.7 222.1 167.7 222.6 166.7 223.1 166.4 223.6 168.1 224.1 168.1 224.6 167.7 225.1 168.5 225.6 168.6 226.1 168.5 226.6 168 227.1 168.1 227.6 169.1 228.1 168.9 228.6 168.8 229.1 168 229.6 168.9 230.1 169.3 230.6 163.7 231.1 169.8 231.6 168.7 232.1 167.2 232.6 169.9 233.1 169.7 233.6 169.4 234.1 168.6 234.6 168.9 235.1 167.6 235.6 167.2 236.1 167.3 236.6 166.2 237.1 168.3 237.6 168.1 238.1 167.2 238.6 166.8 239.1 168 239.6 167.1 240.1 167.7 240.6 168.9 241.1 167.1 241.6 169.2 242.1 163.3 242.6 166.4 243.1 167.3 243.6 165.9 244.1 165.9 244.6 168.1 245.1 165.8 245.6 165.5 246.1 168.6 246.6 168.3 247.1 167.8 247.6 169 248.1 168.5 248.6 169.3 249.1 168.9 249.6 168.5 250.1 168.7 250.6 168.5 251.1 167.9 251.6 166.8 252.1 167 252.6 167.5 253.1 166.6 253.6 165.8 254.1 166.5 254.6 165.9 255.1 167 255.6 165 256.1 166.7 256.6 166.9 257.1 166.9 257.6 167.5 258.1 167.7 258.6 167.9 259.1 166.3 259.6 167.3 260.1 167.6 260.6 167.5 261.1 167.1 261.6 168.7 262.1 167 262.6 168.6 263.1 168.7 263.6 168.9 264.1 168 264.6 169.8 265.1 169.4 265.6 169.1 266.1 167.7 266.6 167.1 267.1 168.7 267.6 168.9 268.1 168.2 268.6 168.6 269.1 168.2 269.6 168.7 270.1 167.8 270.6 168.5 271.1 169 271.6 169.4 272.1 167 272.6 168 273.1 169 273.6 168.3 274.1 168.2 274.6 167.9 275.1 168 275.6 166.9 276.1 169.1 276.6 169 277.1 168.2 277.6 166.5 278.1 166.9 278.6 167.8 279.1 167.1 279.6 167.7 280.1 168.1 280.6 165.8 281.1 167.2 281.6 167.2 282.1 167.3 282.6 166.8 283.1 167 283.6 165.6 284.1 166.2 284.6 166.7 285.1 165.5 285.6 165.8 286.1 166.8 286.6 167.3 287.1 167.6 287.6 167.8 288.1 166.8 288.6 164 289.1 167.7 289.6 167.9 290.1 168.3 290.6 169.6 291.1 168.1 291.6 169.9 292.1 170.2 292.6 168.8 293.1 168.1 293.6 169.8 294.1 170.4 294.6 170.9 295.1 169.5 295.6 170.1 296.1 170.2 296.6 169.6 297.1 169.9 297.6 168 298.1 170 298.6 164.1 299.1 169.6 299.6 169 300.1 168.7 300.6 168.9 301.1 165.9 301.6 166.5 302.1 167.6 302.6 165.3 303.1 168.3 303.6 167.8 304.1 168 304.6 167.1 305.1 168.4 305.6 168 306.1 167.6 306.6 164 307.1 167.2 307.6 166.2 308.1 167.1 308.6 167.2 309.1 166.9 309.6 165.1 310.1 164.2 310.6 166.8 311.1 166.4 311.6 165.7 312.1 167.1 312.6 167.2 313.1 168 313.6 167.9 314.1 169 314.6 169.1 315.1 168.2 315.6 169 316.1 167.9 316.6 168.8 317.1 169 317.6 166.6 318.1 167.7 318.6 167.9 319.1 167.8 319.6 167.1 320.1 167.4 320.6 168.2 321.1 165.8 321.6 167.9 322.1 168.4 322.6 168.4 323.1 168.7 323.6 167.4 324.1 166.1 324.6 168.9 325.1 165.4 325.6 169.1 326.1 169.6 326.6 169 327.1 169.9 327.6 170.3 328.1 169.7 328.6 170.8 329.1 170.5 329.6 170.7 330.1 170.8 330.6 168.8 331.1 169.4 331.6 170.2 332.1 168.3 332.6 169.6 333.1 169.4 333.6 169 334.1 168.7 334.6 167.5 335.1 168.3 335.6 168 336.1 168.7 336.6 169.1 337.1 169.1 337.6 169.6 338.1 167.8 338.6 166.6 339.1 169.5 339.6 169.2 340.1 168.1 340.6 168.2 341.1 168 341.6 167.9 342.1 167.1 342.6 168.4 343.1 168.5 343.6 167.5 344.1 165.6 344.6 168.4 345.1 168.4 345.6 168 346.1 168.6 346.6 167.7 347.1 167.4 347.6 169.1 348.1 168.6 348.6 168.5 349.1 168 349.6 167.6 350.1 167.5 350.6 167.2 351.1 167 351.6 167.1 352.1 165.8 352.6 167.2 353.1 167 353.6 166 353.6 177.2 353.1 175.3 352.6 175.3 352.1 179.8 351.6 176.1 351.1 175.6 350.6 175.7 350.1 175.4 349.6 176.5 349.1 176.6 348.6 175.3 348.1 174.9 347.6 176.7 347.1 175.9 346.6 175.7 346.1 176.7 345.6 177.4 345.1 177.7 344.6 179.6 344.1 177.6 343.6 178.4 343.1 177.7 342.6 178.4 342.1 176.8 341.6 176.5 341.1 177.4 340.6 180.9 340.1 177 339.6 176.2 339.1 178.7 338.6 177 338.1 177.2 337.6 178 337.1 177.6 336.6 180.9 336.1 179 335.6 177.8 335.1 178.3 334.6 178.5 334.1 178.2 333.6 179.4 333.1 179.6 332.6 178.7 332.1 178.2 331.6 178.7 331.1 180.4 330.6 177.7 330.1 177.9 329.6 180.6 329.1 180.4 328.6 178.2 328.1 177.5 327.6 177.8 327.1 180.9 326.6 177.8 326.1 178.8 325.6 177.8 325.1 180.3 324.6 178.7 324.1 177.3 323.6 178.6 323.1 178.1 322.6 177.3 322.1 179.2 321.6 179.7 321.1 178.8 320.6 180.8 320.1 178.2 319.6 178.5 319.1 178.5 318.6 178.6 318.1 178 317.6 179.9 317.1 178.8 316.6 177.6 316.1 182.3 315.6 178 315.1 178.4 314.6 177.7 314.1 177 313.6 177.5 313.1 177.5 312.6 177.6 312.1 177.5 311.6 177.3 311.1 176.9 310.6 176.7 310.1 177.2 309.6 176 309.1 176.6 308.6 176.3 308.1 176 307.6 176.1 307.1 179.1 306.6 175.9 306.1 175.6 305.6 176.9 305.1 176.8 304.6 176.5 304.1 176.9 303.6 176.8 303.1 177.2 302.6 178.4 302.1 177 301.6 177.9 301.1 177.1 300.6 177.7 300.1 177.2 299.6 176.7 299.1 176.6 298.6 176.9 298.1 177.4 297.6 178.2 297.1 178 296.6 178.2 296.1 180.1 295.6 179 295.1 179 294.6 179.1 294.1 178.9 293.6 180.7 293.1 178.8 292.6 181.4 292.1 178.6 291.6 178.1 291.1 177.4 290.6 177.3 290.1 177.2 289.6 179.3 289.1 177.7 288.6 179.8 288.1 177.1 287.6 176.8 287.1 177.5 286.6 176.7 286.1 176.9 285.6 176.4 285.1 176.2 284.6 176.9 284.1 176.5 283.6 176.5 283.1 177.2 282.6 176.1 282.1 176.4 281.6 176.2 281.1 177.7 280.6 176.9 280.1 179.5 279.6 177.2 279.1 178.4 278.6 177.6 278.1 177.4 277.6 178.1 277.1 178.5 276.6 179 276.1 180.2 275.6 179.5 275.1 184.4 274.6 178.5 274.1 178.9 273.6 179.4 273.1 179.2 272.6 178.9 272.1 180.1 271.6 179 271.1 178.3 270.6 179 270.1 178.1 269.6 180.1 269.1 178.6 268.6 179.6 268.1 179.8 267.6 178.9 267.1 178.9 266.6 179.5 266.1 177.1 265.6 176.9 265.1 179.3 264.6 176.3 264.1 176.9 263.6 180.8 263.1 176.8 262.6 177.4 262.1 177.1 261.6 177.2 261.1 177.5 260.6 177.2 260.1 177 259.6 177.4 259.1 176.3 258.6 176.2 258.1 175.9 257.6 175.8 257.1 176.3 256.6 176.2 256.1 177.1 255.6 177.5 255.1 177.6 254.6 177 254.1 176.9 253.6 177.6 253.1 178 252.6 178.5 252.1 179 251.6 177.6 251.1 179.2 250.6 177.7 250.1 177.5 249.6 177.7 249.1 177.4 248.6 178.6 248.1 178.2 247.6 178.4 247.1 177.9 246.6 176.8 246.1 176.6 245.6 176.5 245.1 178.8 244.6 175.8 244.1 175.7 243.6 175.5 243.1 175.9 242.6 175.7 242.1 177 241.6 177.2 241.1 177.4 240.6 178.3 240.1 177.8 239.6 176.2 239.1 176.3 238.6 176.5 238.1 178 237.6 178.3 237.1 179.3 236.6 176.6 236.1 176.4 235.6 177 235.1 176.4 234.6 178.2 234.1 176.6 233.6 177.4 233.1 178 232.6 178.5 232.1 178.3 231.6 178.4 231.1 179.3 230.6 179.2 230.1 179.7 229.6 180.2 229.1 179.9 228.6 180.6 228.1 179.5 227.6 180.9 227.1 179.3 226.6 178.2 226.1 177.9 225.6 179.1 225.1 177.8 224.6 177.8 224.1 177.6 223.6 177.9 223.1 177.6 222.6 177.3 222.1 176.9 221.6 176.9 221.1 177.1 220.6 179.4 220.1 177.9 219.6 177.1 219.1 177.3 218.6 176.3 218.1 179.1 217.6 178.7 217.1 175.9 216.6 178 216.1 176.2 215.6 176.9 215.1 176.3 214.6 177.1Z" fill="#0000ff"/><path d="M214.6 164.5L215.1 164.9 215.6 166.1 216.1 166.6 216.6 166.3 217.1 166 217.6 167.3 218.1 166.2 218.6 167.5 219.1 167.2 219.6 163.5 220.1 167.3 220.6 165 221.1 166.2 221.6 165.2 222.1 165.7 222.6 165 223.1 166.9 223.6 166.7 224.1 167.2 224.6 167.2 225.1 163.2 225.6 166 226.1 165.4 226.6 166.6 227.1 167.1 227.6 167.2 228.1 167 228.6 166 229.1 167.4 229.6 165.4 230.1 168.6 230.6 165.4 231.1 168.4 231.6 168.9 232.1 168.5 232.6 168.5 233.1 165.9 233.6 162.9 234.1 163.6 234.6 166.6 235.1 166.4 235.6 167 236.1 164.9 236.6 165.8 237.1 166.9 237.6 167.8 238.1 168.1 238.6 168.2 239.1 169 239.6 167.6 240.1 166.9 240.6 167.8 241.1 167.2 241.6 166.3 242.1 163.1 242.6 164.6 243.1 166.3 243.6 166.4 244.1 162.5 244.6 164.1 245.1 167.3 245.6 165.3 246.1 165.1 246.6 167.3 247.1 167.5 247.6 166.7 248.1 166.9 248.6 162.8 249.1 163.2 249.6 167.1 250.1 166.6 250.6 162.7 251.1 164.8 251.6 164.7 252.1 166.6 252.6 167.2 253.1 166.6 253.6 166.1 254.1 165.7 254.6 165 255.1 164.5 255.6 166.2 256.1 166.7 256.6 161.3 257.1 166.9 257.6 162 258.1 164.4 258.6 166.7 259.1 165.7 259.6 164.8 260.1 165.9 260.6 166.2 261.1 164.6 261.6 166.7 262.1 165.5 262.6 165.9 263.1 164.7 263.6 167.4 264.1 167.2 264.6 166.9 265.1 167.2 265.6 164.8 266.1 167.4 266.6 167.5 267.1 165.9 267.6 165.5 268.1 166.7 268.6 166.7 269.1 167.7 269.6 167.4 270.1 166.5 270.6 167.7 271.1 164.7 271.6 165.9 272.1 166.5 272.6 164.8 273.1 167.1 273.6 167.3 274.1 165.6 274.6 167 275.1 167.5 275.6 166 276.1 165 276.6 167 277.1 164.2 277.6 167.1 278.1 166.7 278.6 166.4 279.1 164.8 279.6 164.8 280.1 163.7 280.6 167 281.1 165.7 281.6 167.3 282.1 164.9 282.6 165.3 283.1 166.3 283.6 165.4 284.1 166.1 284.6 165.9 285.1 166.3 285.6 166.5 286.1 166.7 286.6 167.4 287.1 167.7 287.6 166.9 288.1 166 288.6 161 289.1 166.2 289.6 161.7 290.1 159.3 290.6 165.8 291.1 164.3 291.6 160.8 292.1 165.5 292.6 167.6 293.1 167.2 293.6 166.8 294.1 166.5 294.6 165.4 295.1 166.8 295.6 166.5 296.1 162.6 296.6 166.2 297.1 167 297.6 167 298.1 167.6 298.6 166.9 299.1 166.7 299.6 165.1 300.1 166.5 300.6 167.8 301.1 167.8 301.6 166.6 302.1 167.6 302.6 159.2 303.1 165.1 303.6 164.2 304.1 166.8 304.6 160.6 305.1 165.2 305.6 167.1 306.1 162.7 306.6 167.6 307.1 162.5 307.6 167.5 308.1 165 308.6 167.9 309.1 167.9 309.6 168.3 310.1 166.3 310.6 166.6 311.1 167.4 311.6 160.6 312.1 167.2 312.6 167.4 313.1 163.7 313.6 168.2 314.1 168.3 314.6 163.5 315.1 169.8 315.6 169.5 316.1 166.2 316.6 168.9 317.1 167.3 317.6 167.9 318.1 165.6 318.6 167 319.1 166.9 319.6 166.2 320.1 166.8 320.6 166 321.1 164 321.6 166.7 322.1 162.4 322.6 165.9 323.1 167.4 323.6 166 324.1 167.6 324.6 167.8 325.1 166.6 325.6 165.8 326.1 167.8 326.6 162.4 327.1 164.1 327.6 163.9 328.1 165.1 328.6 166.4 329.1 166.1 329.6 167.2 330.1 167.1 330.6 167.4 331.1 166 331.6 165.3 332.1 166.3 332.6 164.7 333.1 167.1 333.6 167.6 334.1 167.3 334.6 167.5 335.1 167.3 335.6 167 336.1 167.6 336.6 161.3 337.1 167.3 337.6 167.2 338.1 166.4 338.6 165.5 339.1 165.2 339.6 166.3 340.1 165.5 340.6 165.9 341.1 166.3 341.6 166.1 342.1 166.5 342.6 167.6 343.1 166.3 343.6 167.9 344.1 167.2 344.6 166.6 345.1 168 345.6 167 346.1 167.9 346.6 167 347.1 166.8 347.6 166 348.1 165.7 348.6 167.1 349.1 167.4 349.6 166.4 350.1 166 350.6 167.9 351.1 165 351.6 163.5 352.1 167.6 352.6 167.5 353.1 165.6 353.6 164.5 353.6 183.5 353.1 178.6 352.6 184.7 352.1 177.9 351.6 178.6 351.1 180.9 350.6 177.8 350.1 178.4 349.6 178.5 349.1 178.5 348.6 179.1 348.1 180.6 347.6 181.6 347.1 177.7 346.6 178 346.1 183 345.6 177.2 345.1 177.6 344.6 178.8 344.1 177.4 343.6 184.5 343.1 181 342.6 179.3 342.1 179.1 341.6 182.5 341.1 180.4 340.6 179.1 340.1 180.8 339.6 180.4 339.1 180.1 338.6 179.6 338.1 180.3 337.6 180.2 337.1 177.8 336.6 178.3 336.1 178.4 335.6 178.2 335.1 180.2 334.6 178.7 334.1 178.1 333.6 178.5 333.1 178.3 332.6 181.1 332.1 180.4 331.6 180.5 331.1 178 330.6 178.6 330.1 178.6 329.6 180.8 329.1 180.9 328.6 178.1 328.1 178.4 327.6 178.6 327.1 178.5 326.6 177.7 326.1 178.1 325.6 180.6 325.1 178.4 324.6 177.7 324.1 178.5 323.6 178.4 323.1 179.8 322.6 177.8 322.1 180.2 321.6 179 321.1 179.6 320.6 180.1 320.1 179.3 319.6 181.4 319.1 178.1 318.6 178.8 318.1 177.1 317.6 179.3 317.1 177.7 316.6 178.7 316.1 177.7 315.6 176.3 315.1 175.8 314.6 176.3 314.1 176.2 313.6 178.3 313.1 180.2 312.6 179 312.1 178.9 311.6 179.3 311.1 180.9 310.6 178.3 310.1 179.5 309.6 179.1 309.1 178.3 308.6 178.9 308.1 178.1 307.6 178.3 307.1 180.6 306.6 178.1 306.1 178.4 305.6 178.8 305.1 184.1 304.6 178.5 304.1 178.8 303.6 181.3 303.1 177.9 302.6 178.1 302.1 177.8 301.6 178.9 301.1 180.8 300.6 177.4 300.1 178.5 299.6 177.6 299.1 178.6 298.6 177.8 298.1 177.4 297.6 177.9 297.1 182.5 296.6 180.1 296.1 181.1 295.6 180.9 295.1 179.2 294.6 178.4 294.1 178 293.6 177.7 293.1 178.1 292.6 178.6 292.1 180.8 291.6 178.2 291.1 178.1 290.6 180.5 290.1 179.4 289.6 178.8 289.1 180.2 288.6 178.3 288.1 178.1 287.6 177.3 287.1 178.2 286.6 180.1 286.1 180.3 285.6 178.8 285.1 182.7 284.6 178.4 284.1 178.7 283.6 183 283.1 178.1 282.6 177.9 282.1 178.5 281.6 178.9 281.1 178.5 280.6 178.1 280.1 179 279.6 180.4 279.1 179.4 278.6 186.2 278.1 178.3 277.6 177.9 277.1 178.7 276.6 178.6 276.1 179.2 275.6 178 275.1 181.7 274.6 178.7 274.1 178 273.6 178.6 273.1 179.3 272.6 179.9 272.1 178.3 271.6 178 271.1 183.4 270.6 180.1 270.1 177.9 269.6 180.1 269.1 178.3 268.6 185.4 268.1 182.1 267.6 178 267.1 181.1 266.6 178.7 266.1 179.6 265.6 178.4 265.1 179.4 264.6 177.9 264.1 178.3 263.6 177.7 263.1 180.7 262.6 181.7 262.1 179.3 261.6 180.1 261.1 178.9 260.6 182.8 260.1 178.7 259.6 181.6 259.1 182 258.6 181.3 258.1 181.6 257.6 178.1 257.1 178.1 256.6 178.2 256.1 178.9 255.6 178.1 255.1 179.7 254.6 181.7 254.1 181.9 253.6 178.1 253.1 180.6 252.6 178 252.1 178.4 251.6 178.4 251.1 180.6 250.6 178.3 250.1 181.6 249.6 178.6 249.1 180.6 248.6 178.1 248.1 181 247.6 184.5 247.1 178 246.6 181.3 246.1 178.4 245.6 178.5 245.1 180.2 244.6 179.5 244.1 180 243.6 177.9 243.1 179 242.6 181 242.1 179.6 241.6 181.2 241.1 180.3 240.6 178.2 240.1 177.2 239.6 177 239.1 176.4 238.6 177.2 238.1 176.6 237.6 178 237.1 179.2 236.6 179.5 236.1 178.4 235.6 178.8 235.1 179.3 234.6 178.3 234.1 178.7 233.6 177.5 233.1 176.9 232.6 179.7 232.1 177.9 231.6 177.5 231.1 178.3 230.6 179.9 230.1 177.5 229.6 176.5 229.1 178.3 228.6 178.3 228.1 178 227.6 177.6 227.1 179.8 226.6 178.8 226.1 177.7 225.6 178.9 225.1 178 224.6 178 224.1 178 223.6 178.7 223.1 178.9 222.6 178.8 222.1 178.8 221.6 180.2 221.1 178.6 220.6 177.7 220.1 185.5 219.6 178.9 219.1 177.8 218.6 178.2 218.1 178.2 217.6 178.3 217.1 180.1 216.6 180.4 216.1 180.5 215.6 179.7 215.1 181.1 214.6 178.5Z" fill="#ff0000"/></g><rect x="214.6" y="8.4" width="145.7" height="182.5" fill="none" stroke="#999" stroke-width="1.25"/><path d="M214.6 190.9v-1.5M214.6 8.4v1.5M251 190.9v-1.5M251 8.4v1.5M287.4 190.9v-1.5M287.4 8.4v1.5M323.9 190.9v-1.5M323.9 8.4v1.5M360.3 190.9v-1.5M360.3 8.4v1.5M214.6 190.9h1.5M360.3 190.9h-1.5M214.6 172.7h1.5M360.3 172.7h-1.5M214.6 154.4h1.5M360.3 154.4h-1.5M214.6 136.2h1.5M360.3 136.2h-1.5M214.6 117.9h1.5M360.3 117.9h-1.5M214.6 99.7h1.5M360.3 99.7h-1.5M214.6 81.4h1.5M360.3 81.4h-1.5M214.6 63.2h1.5M360.3 63.2h-1.5M214.6 44.9h1.5M360.3 44.9h-1.5M214.6 26.7h1.5M360.3 26.7h-1.5M214.6 8.4h1.5M360.3 8.4h-1.5" stroke="#555" stroke-width="0.7" fill="none"/><g font-size="10" fill="#222" stroke="#222" stroke-width="0.3"><text x="214.6" y="204.1" text-anchor="middle">0</text><text x="251" y="204.1" text-anchor="middle">1</text><text x="287.4" y="204.1" text-anchor="middle">2</text><text x="323.9" y="204.1" text-anchor="middle">3</text><text x="360.3" y="204.1" text-anchor="middle">4</text><text x="210.8" y="195" text-anchor="end">4</text><text x="210.8" y="176.8" text-anchor="end">5</text><text x="210.8" y="158.5" text-anchor="end">6</text><text x="210.8" y="140.2" text-anchor="end">7</text><text x="210.8" y="122" text-anchor="end">8</text><text x="210.8" y="103.8" text-anchor="end">9</text><text x="210.8" y="85.5" text-anchor="end">10</text><text x="210.8" y="67.2" text-anchor="end">11</text><text x="210.8" y="49" text-anchor="end">12</text><text x="210.8" y="30.8" text-anchor="end">13</text><text x="210.8" y="12.5" text-anchor="end">14</text></g><text x="287.4" y="214.5" text-anchor="middle" font-size="11.00" fill="#1a1a1a" stroke="#1a1a1a" stroke-width="0.25">Time(h)</text><text transform="translate(198.3 99.7) rotate(-90)" text-anchor="middle" font-size="11.00" fill="#1a1a1a" stroke="#1a1a1a" stroke-width="0.22">y-axis CMG(dps)</text></g>
<g><path d="M427 8.4V190.7M463.4 8.4V190.7M499.7 8.4V190.7M390.7 164.7H536M390.7 138.6H536M390.7 112.6H536M390.7 86.5H536M390.7 60.5H536M390.7 34.4H536" stroke="#e3e3e3" stroke-width="0.8" fill="none"/><g clip-path="url(#ca3)"><path d="M423.7 110.5L424.2 109.2 424.7 110.9 425.2 110.9 425.7 108.4 426.2 108.2 426.7 109.3 427.2 109.3 427.7 107.6 428.2 106.3 428.7 108.3 429.2 107.1 429.7 108.9 430.2 106 430.7 111.2 431.2 112.6 431.7 113 432.2 113.3 432.7 113 433.2 114 433.7 114.6 434.2 115.9 434.7 116.9 435.2 116.9 435.7 116.1 436.2 118 436.7 117.9 437.2 118.7 437.7 119.5 438.2 119.4 438.7 121.1 439.2 121.3 439.7 120.7 440.2 121.6 440.7 123.8 441.2 123.7 441.7 123.9 442.2 122.1 442.7 124.6 443.2 124.6 443.7 126.5 444.2 125 444.7 129.7 445.2 130.3 445.7 131.9 446.2 132.2 446.7 132.7 447.2 133.1 447.7 131 448.2 133.3 448.7 132.9 449.2 132.2 449.7 132.9 450.2 133.5 450.7 132.9 451.2 131.4 451.7 133.6 452.2 134.1 452.7 133.9 453.2 134 453.7 132.7 454.2 137.2 454.7 136.9 455.2 137 455.7 137.5 456.2 136.7 456.7 136.9 457.2 137.1 457.7 134.6 458.2 140.3 458.7 139.9 459.2 141.2 459.7 140.5 460.2 136.7 460.7 141.4 461.2 142.4 461.7 142.6 462.2 140.4 462.7 141.7 463.2 139.6 463.7 139.6 464.2 144.7 464.7 145.2 465.2 140.4 465.7 146.1 466.2 145.4 466.7 145 467.2 144.1 467.7 142.3 468.2 146.4 468.7 145.7 469.2 146.1 469.7 146.3 470.2 146.7 470.7 147.7 471.2 147.7 471.7 146.2 472.2 147.9 472.7 145 473.2 142.9 473.7 147.6 474.2 148.2 474.7 144.9 475.2 148.9 475.7 148 476.2 149.4 476.7 148.1 477.2 146.1 477.7 145.7 478.2 147.7 478.7 149 479.2 150.3 479.7 152.1 480.2 152.5 480.7 152.8 481.2 153 481.7 150.3 482.2 154.2 482.7 149.9 483.2 155.2 483.7 154.9 484.2 153.7 484.7 154.3 485.2 156.4 485.7 155.3 486.2 153.9 486.7 154.9 487.2 153.7 487.7 156.4 488.2 156.6 488.7 157.2 489.2 157.8 489.7 155.8 490.2 153.3 490.7 155.9 491.2 158 491.7 157.6 492.2 155.2 492.7 156.4 493.2 158.4 493.7 157.1 494.2 155.6 494.7 158.5 495.2 157.3 495.7 158 496.2 158.6 496.7 156.5 497.2 158.2 497.7 158.3 498.2 158.6 498.7 157.8 499.2 158.2 499.7 157.1 500.2 157.1 500.7 157.9 501.2 155.9 501.7 157.5 502.2 158.2 502.7 154.7 503.2 156.2 503.7 153.5 504.2 154.5 504.7 156.8 505.2 157.5 505.7 152.1 506.2 157.2 506.7 157.4 507.2 155.1 507.7 157 508.2 154.6 508.7 155.9 509.2 155.5 509.7 153 510.2 153.8 510.7 155.4 511.2 151.5 511.7 153.1 512.2 155.7 512.7 155.7 513.2 155.1 513.7 154.6 514.2 156.1 514.7 155.2 515.2 155.4 515.7 155.4 516.2 156.2 516.7 156.8 517.2 152.8 517.7 154.6 518.2 155.5 518.7 154.3 519.2 155.9 519.7 156.4 520.2 153.8 520.7 155.6 521.2 155.4 521.7 154.8 522.2 150.7 522.7 155.7 523.2 155 523.7 152.4 524.2 153.9 524.7 155.6 525.2 156 525.7 154.5 526.2 156.4 526.7 155.9 527.2 156.7 527.7 156.3 528.2 156.6 528.7 156.9 529.2 157.2 529.7 155 530.2 153.8 530.7 152.5 531.2 156.8 531.7 154.9 532.2 157.4 532.7 157.5 533.2 154 533.7 154.6 534.2 154.7 534.7 156.3 534.7 170.1 534.2 171.7 533.7 169.2 533.2 170.4 532.7 169.3 532.2 170.7 531.7 170.9 531.2 170.7 530.7 170.9 530.2 169.2 529.7 169.6 529.2 169.1 528.7 169.8 528.2 169.1 527.7 169.8 527.2 172.8 526.7 169.6 526.2 171 525.7 174.1 525.2 172.5 524.7 169.7 524.2 173 523.7 171.5 523.2 174.8 522.7 171.2 522.2 171 521.7 173 521.2 169.7 520.7 170.8 520.2 170.9 519.7 169.8 519.2 174.2 518.7 170.5 518.2 169.9 517.7 173.1 517.2 169.6 516.7 169 516.2 172.3 515.7 170.4 515.2 171.5 514.7 169.2 514.2 170 513.7 174 513.2 172.1 512.7 169.8 512.2 170.7 511.7 170.2 511.2 169.9 510.7 170.5 510.2 169.5 509.7 168.7 509.2 170.3 508.7 169.9 508.2 168.4 507.7 168.4 507.2 169.9 506.7 167.8 506.2 168.4 505.7 168.1 505.2 168.1 504.7 167.5 504.2 172.8 503.7 167.5 503.2 168.1 502.7 168.9 502.2 170.9 501.7 168.5 501.2 172.9 500.7 170.1 500.2 168.3 499.7 171.4 499.2 169.4 498.7 172.5 498.2 170.7 497.7 169.3 497.2 168.1 496.7 169.3 496.2 168.4 495.7 172.5 495.2 173.4 494.7 169.6 494.2 169.4 493.7 172 493.2 170.7 492.7 170.4 492.2 172.7 491.7 171.2 491.2 169.4 490.7 171.4 490.2 174 489.7 174 489.2 168.8 488.7 169.5 488.2 174.7 487.7 172.4 487.2 171.8 486.7 171.9 486.2 168.6 485.7 168.3 485.2 168.7 484.7 167.2 484.2 169.3 483.7 167.5 483.2 172.4 482.7 167.7 482.2 167.6 481.7 170.7 481.2 167.9 480.7 167.2 480.2 168.5 479.7 166.7 479.2 165.8 478.7 167.8 478.2 167.4 477.7 168.9 477.2 170.2 476.7 164.8 476.2 165.4 475.7 164 475.2 165.3 474.7 163.6 474.2 163.3 473.7 164.5 473.2 162.2 472.7 164.8 472.2 166.5 471.7 164 471.2 162.5 470.7 159.9 470.2 161.6 469.7 160.8 469.2 160.8 468.7 163.2 468.2 158.6 467.7 158.7 467.2 158.1 466.7 158.3 466.2 156.6 465.7 156.1 465.2 155.5 464.7 157.3 464.2 157.1 463.7 155.8 463.2 155.6 462.7 158.7 462.2 157.2 461.7 156.6 461.2 153.8 460.7 153.9 460.2 154.2 459.7 153 459.2 153.3 458.7 153.5 458.2 152.4 457.7 154.6 457.2 152.3 456.7 152.6 456.2 150.9 455.7 151.3 455.2 151 454.7 150.5 454.2 153.7 453.7 149.4 453.2 154.1 452.7 151.1 452.2 151.7 451.7 149.3 451.2 152.1 450.7 149 450.2 151.7 449.7 147.2 449.2 146.7 448.7 145.7 448.2 145.5 447.7 144.8 447.2 144.9 446.7 144.8 446.2 143.2 445.7 143.4 445.2 142.8 444.7 142.4 444.2 142.7 443.7 142.9 443.2 141.5 442.7 145.3 442.2 141.2 441.7 140.2 441.2 139.8 440.7 138.1 440.2 142.2 439.7 141.2 439.2 135.8 438.7 135.8 438.2 135.8 437.7 134 437.2 132.3 436.7 131.7 436.2 131.2 435.7 133.1 435.2 129.1 434.7 128.3 434.2 127.6 433.7 127.2 433.2 127 432.7 125.8 432.2 127 431.7 124.3 431.2 123.4 430.7 124.1 430.2 125.2 429.7 127.4 429.2 123.7 428.7 127.8 428.2 123.5 427.7 122.3 427.2 119.2 426.7 118.1 426.2 117.3 425.7 116.3 425.2 115.9 424.7 115.1 424.2 114.9 423.7 115.9Z" fill="#000"/><path d="M390.7 103.3L391.2 103.4 391.7 102.3 392.2 101.5 392.7 103.2 393.2 101.7 393.7 103.1 394.2 101.6 394.7 104.4 395.2 102.4 395.7 105.4 396.2 104.4 396.7 104.9 397.2 106.9 397.7 106 398.2 106.5 398.7 106 399.2 105.9 399.7 104.2 400.2 103.3 400.7 106.1 401.2 106.2 401.7 104.3 402.2 106.3 402.7 104.1 403.2 106.2 403.7 106.4 404.2 107.2 404.7 108.4 405.2 106.8 405.7 108.9 406.2 106.6 406.7 109.8 407.2 110 407.7 108.8 408.2 108.9 408.7 109.3 409.2 108 409.7 106.7 410.2 106.7 410.7 106.3 411.2 105.4 411.7 104.7 412.2 97.9 412.7 100 413.2 101.9 413.7 102.6 414.2 101.7 414.7 100.9 415.2 98.3 415.7 102.8 416.2 103.1 416.7 96.3 417.2 102.2 417.7 100.6 418.2 103.1 418.7 101.4 419.2 103.2 419.7 102.4 420.2 100.4 420.7 102 421.2 103.2 421.7 103.3 422.2 102.6 422.7 103 423.2 102.8 423.7 101.2 424.2 102.6 424.7 97.8 425.2 101.4 425.7 97.2 426.2 101 426.7 100.9 427.2 100.2 427.7 101.1 428.2 102.1 428.7 100.3 429.2 102.5 429.7 101.9 430.2 103.7 430.7 102.1 431.2 103 431.7 103.3 432.2 103.7 432.7 103.4 433.2 105.3 433.7 105.2 434.2 104.7 434.7 106.6 435.2 106.3 435.7 104.6 436.2 105.7 436.7 105.3 437.2 104.1 437.7 104.4 438.2 106.2 438.7 106 439.2 105.9 439.7 106 440.2 105 440.7 106.7 441.2 106.5 441.7 106.7 442.2 106.4 442.7 107.2 443.2 106.8 443.7 109 444.2 108.8 444.7 109.3 445.2 110.7 445.7 108.5 446.2 108.7 446.7 108.2 447.2 109.5 447.7 108.2 448.2 109.2 448.7 109 449.2 108.5 449.7 108.2 450.2 107.4 450.7 108.4 451.2 108 451.7 105.5 452.2 108.2 452.7 100.9 453.2 108.6 453.7 108.7 454.2 109 454.7 109.1 455.2 108.8 455.7 108.7 456.2 110.1 456.7 108.5 457.2 108.1 457.7 108.5 458.2 109.8 458.7 109.4 459.2 108.2 459.7 107.6 460.2 108.5 460.7 108.2 461.2 107.7 461.7 107.2 462.2 105.9 462.7 106.4 463.2 106.7 463.7 105.4 464.2 105.6 464.7 106.8 465.2 107.2 465.7 107.6 466.2 106.3 466.7 108.6 467.2 108.5 467.7 108 468.2 109.5 468.7 109.2 469.2 108.4 469.7 109.1 470.2 108.4 470.7 106.9 471.2 107.3 471.7 106.7 472.2 106.5 472.7 105.1 473.2 104.4 473.7 104.4 474.2 106.4 474.7 106.6 475.2 106.1 475.7 106.2 476.2 106.8 476.7 106.6 477.2 104.9 477.7 107.4 478.2 106.8 478.7 106.4 479.2 105.5 479.7 106.5 480.2 107 480.7 106.5 481.2 105.2 481.7 100.4 482.2 106.3 482.7 104.4 483.2 107.2 483.7 106.4 484.2 106.4 484.7 104.6 485.2 104.5 485.7 103.6 486.2 104.5 486.7 102.8 487.2 102.1 487.7 104.7 488.2 102.7 488.7 105.1 489.2 105.2 489.7 103.4 490.2 103.2 490.7 106.1 491.2 99.9 491.7 106.5 492.2 107 492.7 107.1 493.2 107.8 493.7 105.2 494.2 105.4 494.7 105.9 495.2 100.2 495.7 108.1 496.2 107.5 496.7 108.1 497.2 107.7 497.7 107.3 498.2 102.5 498.7 99.7 499.2 103 499.7 105 500.2 104.6 500.7 102.6 501.2 103.5 501.7 103.7 502.2 105.1 502.7 102.6 503.2 103.1 503.7 104.3 504.2 104.6 504.7 104.3 505.2 105 505.7 103.6 506.2 105.1 506.7 105 507.2 102.7 507.7 106.8 508.2 105.7 508.7 107.5 509.2 106.1 509.7 108.9 510.2 105.7 510.7 107.8 511.2 108.5 511.7 101.9 512.2 109.1 512.7 108.9 513.2 107.4 513.7 105.7 514.2 101.4 514.7 105.5 515.2 104.2 515.7 104.6 516.2 105.4 516.7 105.3 517.2 106.1 517.7 106.3 518.2 106.8 518.7 106.8 519.2 107 519.7 105.5 520.2 105.5 520.7 106.1 521.2 105.1 521.7 107.6 522.2 107.3 522.7 107.6 523.2 105.1 523.7 107.4 524.2 106.6 524.7 104.4 525.2 106.6 525.7 104.1 526.2 107.2 526.7 106.6 527.2 107.3 527.7 106.8 528.2 105.9 528.7 106.2 529.2 105.9 529.7 105.7 530.2 105.3 530.7 105.5 531.2 104.1 531.7 103.8 532.2 105.1 532.7 103.7 533.2 105.2 533.7 105.2 534.2 104.3 534.7 105.7 534.7 120.1 534.2 121.1 533.7 121.9 533.2 121.7 532.7 118.5 532.2 118.1 531.7 117.9 531.2 117.8 530.7 120.5 530.2 119.4 529.7 118.1 529.2 116.8 528.7 116 528.2 116.8 527.7 115.7 527.2 115.8 526.7 116.7 526.2 118.4 525.7 117.2 525.2 118.6 524.7 118.6 524.2 120.2 523.7 119 523.2 118.6 522.7 121.5 522.2 118.9 521.7 120 521.2 119.6 520.7 119.1 520.2 120.7 519.7 120 519.2 118.8 518.7 117.7 518.2 119.4 517.7 117.3 517.2 118.9 516.7 118.4 516.2 119.3 515.7 121.4 515.2 119.9 514.7 120.7 514.2 118.7 513.7 118.5 513.2 120.3 512.7 118.7 512.2 118.2 511.7 119.9 511.2 121.4 510.7 118.3 510.2 119.3 509.7 119 509.2 118.9 508.7 119.3 508.2 119.4 507.7 120.1 507.2 119.3 506.7 118.1 506.2 117.8 505.7 119.9 505.2 119.3 504.7 121.7 504.2 120.6 503.7 116.9 503.2 118.6 502.7 116.3 502.2 117.3 501.7 116.3 501.2 117 500.7 117.7 500.2 118.3 499.7 118.2 499.2 118.8 498.7 124.1 498.2 123.2 497.7 120.1 497.2 120.1 496.7 121.5 496.2 120.9 495.7 119.3 495.2 127 494.7 118.2 494.2 117.8 493.7 117.6 493.2 118.5 492.7 118.9 492.2 118.8 491.7 117.1 491.2 119 490.7 117 490.2 116.8 489.7 118.1 489.2 116 488.7 119.8 488.2 117 487.7 117.8 487.2 118.3 486.7 120 486.2 118.1 485.7 122.3 485.2 118.6 484.7 118.6 484.2 120.3 483.7 119 483.2 119.8 482.7 119.2 482.2 119.4 481.7 120.1 481.2 125.1 480.7 119.8 480.2 123.7 479.7 119.5 479.2 119.2 478.7 119.4 478.2 117.9 477.7 119.5 477.2 118.1 476.7 119.4 476.2 117.9 475.7 117.7 475.2 117.7 474.7 118.2 474.2 117.6 473.7 118 473.2 117.8 472.7 117.6 472.2 120.6 471.7 118 471.2 118.3 470.7 118.6 470.2 118.7 469.7 122.2 469.2 120.4 468.7 119.3 468.2 121.2 467.7 121.1 467.2 120.9 466.7 119.9 466.2 121 465.7 119.1 465.2 118.9 464.7 119.7 464.2 119.2 463.7 120.4 463.2 119.9 462.7 119.6 462.2 119.3 461.7 119.3 461.2 122 460.7 122 460.2 121.2 459.7 120.9 459.2 122.2 458.7 121.3 458.2 121.9 457.7 121.4 457.2 124.3 456.7 120.9 456.2 120.8 455.7 121.7 455.2 122.7 454.7 120.9 454.2 122.6 453.7 122.3 453.2 123.4 452.7 121.7 452.2 121.8 451.7 122.4 451.2 123.6 450.7 123 450.2 122.8 449.7 127.8 449.2 123.6 448.7 123.5 448.2 123.1 447.7 123.5 447.2 123.2 446.7 123.5 446.2 123 445.7 122.5 445.2 123.7 444.7 121.9 444.2 124 443.7 125.5 443.2 122 442.7 121.4 442.2 122.5 441.7 120.9 441.2 120.2 440.7 120.4 440.2 118.9 439.7 119.7 439.2 120.4 438.7 119.1 438.2 119.2 437.7 118.2 437.2 118.9 436.7 118.1 436.2 119 435.7 120.1 435.2 119.2 434.7 119.2 434.2 121 433.7 118.2 433.2 120.9 432.7 120.1 432.2 118.5 431.7 119.3 431.2 118.4 430.7 118.2 430.2 116.9 429.7 115.7 429.2 115.1 428.7 115.8 428.2 114.5 427.7 116.2 427.2 114.6 426.7 114.2 426.2 114.8 425.7 114.3 425.2 117.8 424.7 112.5 424.2 112.7 423.7 112.9 423.2 113.8 422.7 113.9 422.2 116.2 421.7 117.1 421.2 114.7 420.7 118.2 420.2 118 419.7 115.3 419.2 116.3 418.7 119.3 418.2 117.1 417.7 123.6 417.2 115.5 416.7 115.3 416.2 116.2 415.7 116.9 415.2 116 414.7 117 414.2 116.8 413.7 121.5 413.2 118.3 412.7 117.6 412.2 117.3 411.7 122.5 411.2 124 410.7 118.1 410.2 119.2 409.7 118.3 409.2 121.9 408.7 119.4 408.2 120.7 407.7 122.4 407.2 120.8 406.7 121.8 406.2 122.4 405.7 121.4 405.2 121.3 404.7 119 404.2 120.8 403.7 121.3 403.2 118.3 402.7 117.6 402.2 117.3 401.7 117.5 401.2 118.1 400.7 119.7 400.2 117.8 399.7 120.8 399.2 119.3 398.7 122.4 398.2 119.2 397.7 121.2 397.2 120.2 396.7 120.6 396.2 119.3 395.7 119.4 395.2 118.1 394.7 120.8 394.2 119.3 393.7 117.5 393.2 118.2 392.7 118.4 392.2 117.7 391.7 120.2 391.2 119.6 390.7 121.5Z" fill="#00ff00"/><path d="M390.7 103.4L391.2 107.4 391.7 106.6 392.2 107.9 392.7 109.3 393.2 109.6 393.7 108.6 394.2 108.2 394.7 107.5 395.2 108.3 395.7 109 396.2 106 396.7 109.5 397.2 109.3 397.7 109.6 398.2 109.2 398.7 109.6 399.2 108.3 399.7 109.4 400.2 107.5 400.7 108.2 401.2 105.4 401.7 104.3 402.2 107.1 402.7 103.8 403.2 106.7 403.7 107.4 404.2 107.2 404.7 105.2 405.2 108.4 405.7 107.9 406.2 108.8 406.7 108.4 407.2 107.7 407.7 105 408.2 105 408.7 105.7 409.2 105.3 409.7 105.2 410.2 104.5 410.7 102.3 411.2 104.7 411.7 102.2 412.2 104.6 412.7 104.2 413.2 104.1 413.7 105.4 414.2 105.7 414.7 104.6 415.2 104.1 415.7 106 416.2 104.3 416.7 104.4 417.2 105 417.7 105.4 418.2 105.9 418.7 104.2 419.2 103.9 419.7 101.7 420.2 102.7 420.7 104.5 421.2 103.9 421.7 100.3 422.2 102.9 422.7 104.8 423.2 105.3 423.7 104.9 424.2 104.6 424.7 103.4 425.2 101.8 425.7 104.2 426.2 104.4 426.7 105.5 427.2 105.5 427.7 105.2 428.2 104.9 428.7 105.2 429.2 104.1 429.7 106.8 430.2 102.7 430.7 105.3 431.2 106.9 431.7 107.5 432.2 108.5 432.7 107 433.2 108.1 433.7 108.3 434.2 107.6 434.7 107 435.2 107.4 435.7 105.5 436.2 106.2 436.7 105.3 437.2 105.1 437.7 104.5 438.2 103.5 438.7 105.7 439.2 106.5 439.7 103.5 440.2 105.4 440.7 106.2 441.2 106.6 441.7 107.1 442.2 107.5 442.7 107.4 443.2 106.9 443.7 107.3 444.2 106.7 444.7 108.1 445.2 106.1 445.7 104.7 446.2 106.7 446.7 108.3 447.2 108.4 447.7 108 448.2 107.7 448.7 108.2 449.2 107.9 449.7 108.4 450.2 104.2 450.7 107.3 451.2 105.8 451.7 106.5 452.2 106.7 452.7 106.3 453.2 105.1 453.7 105.4 454.2 105.1 454.7 105 455.2 104.1 455.7 103.2 456.2 105.4 456.7 101.8 457.2 105.7 457.7 104.7 458.2 105.1 458.7 105.7 459.2 105.1 459.7 104.5 460.2 104.4 460.7 104.2 461.2 103.8 461.7 103.3 462.2 103.6 462.7 102.1 463.2 103.2 463.7 103.1 464.2 101.9 464.7 102 465.2 101 465.7 98.5 466.2 103.2 466.7 103 467.2 102.9 467.7 104 468.2 105.3 468.7 103.6 469.2 104.7 469.7 104.7 470.2 107.2 470.7 106.7 471.2 106.6 471.7 109 472.2 109.5 472.7 109.7 473.2 109.9 473.7 109.8 474.2 109.7 474.7 109 475.2 107.2 475.7 108.9 476.2 109.4 476.7 107 477.2 107 477.7 108.9 478.2 107.1 478.7 107 479.2 105.9 479.7 107.4 480.2 100.9 480.7 105.6 481.2 104.9 481.7 104.7 482.2 105.9 482.7 106 483.2 105.6 483.7 106.1 484.2 106.5 484.7 105.7 485.2 108.2 485.7 106.4 486.2 108.3 486.7 106.5 487.2 106.7 487.7 106.7 488.2 107.9 488.7 103.4 489.2 107.3 489.7 107.9 490.2 107.7 490.7 106.6 491.2 104.1 491.7 105 492.2 107.2 492.7 107.7 493.2 103.1 493.7 107.1 494.2 108.2 494.7 107.3 495.2 104.3 495.7 108.2 496.2 105.6 496.7 107.7 497.2 106.6 497.7 105.5 498.2 104.8 498.7 107 499.2 106.2 499.7 105.1 500.2 106.3 500.7 102.9 501.2 106.3 501.7 105.2 502.2 104.9 502.7 101.6 503.2 106.7 503.7 105.2 504.2 105.2 504.7 105.1 505.2 107 505.7 106.6 506.2 107.4 506.7 105.9 507.2 108.5 507.7 108.9 508.2 109.1 508.7 104.4 509.2 108.1 509.7 107 510.2 108.5 510.7 105.6 511.2 107.6 511.7 107.5 512.2 107.1 512.7 107.8 513.2 107.6 513.7 106.1 514.2 107.1 514.7 106.1 515.2 105.5 515.7 105.8 516.2 104.4 516.7 105.4 517.2 105.3 517.7 100.7 518.2 105.3 518.7 105.1 519.2 103.1 519.7 106.1 520.2 105.5 520.7 102.8 521.2 106.4 521.7 106 522.2 105.9 522.7 104.2 523.2 103.2 523.7 104.4 524.2 102.7 524.7 103.4 525.2 105.1 525.7 105.3 526.2 103.8 526.7 105.9 527.2 107.3 527.7 106.4 528.2 105.4 528.7 105.5 529.2 108.1 529.7 106.4 530.2 105.6 530.7 105.8 531.2 103.4 531.7 105.9 532.2 106.4 532.7 105 533.2 102.3 533.7 105.5 534.2 106.4 534.7 105.3 534.7 118.8 534.2 119.2 533.7 119.8 533.2 118.5 532.7 119.1 532.2 119.4 531.7 120 531.2 119.4 530.7 118.3 530.2 121.1 529.7 118.3 529.2 117.5 528.7 117.5 528.2 117.5 527.7 117.8 527.2 117.2 526.7 117.2 526.2 117.7 525.7 118.3 525.2 119.4 524.7 118.2 524.2 117.6 523.7 118.8 523.2 116.3 522.7 117.6 522.2 119.5 521.7 118.9 521.2 116.8 520.7 118.1 520.2 119.3 519.7 118 519.2 118.6 518.7 119.1 518.2 121.3 517.7 120.9 517.2 119.1 516.7 119.3 516.2 120.9 515.7 119.3 515.2 117.7 514.7 119.7 514.2 117.7 513.7 119.9 513.2 118 512.7 118.8 512.2 122.6 511.7 119.3 511.2 121.6 510.7 120.4 510.2 119.8 509.7 126.5 509.2 119.7 508.7 119.9 508.2 123.4 507.7 121.9 507.2 120.3 506.7 120.4 506.2 121.2 505.7 120.4 505.2 120.1 504.7 122.4 504.2 120.6 503.7 121.1 503.2 125 502.7 118.7 502.2 117.9 501.7 118.8 501.2 119.2 500.7 118.8 500.2 119.6 499.7 118.7 499.2 119.4 498.7 118.9 498.2 120.3 497.7 119.9 497.2 119.6 496.7 119.8 496.2 120.2 495.7 122.3 495.2 120.3 494.7 120.2 494.2 121.1 493.7 123.9 493.2 121.9 492.7 125.7 492.2 121.6 491.7 122.7 491.2 121.1 490.7 120 490.2 120.6 489.7 119.7 489.2 119.1 488.7 120.4 488.2 118.9 487.7 118.6 487.2 118.4 486.7 121.3 486.2 118.6 485.7 117.9 485.2 118.4 484.7 120.5 484.2 120.1 483.7 119.5 483.2 118.9 482.7 120.6 482.2 118.5 481.7 118.6 481.2 117.8 480.7 117.6 480.2 119.5 479.7 117.3 479.2 121.2 478.7 116.9 478.2 119.3 477.7 118.3 477.2 118.5 476.7 119.8 476.2 119.5 475.7 120.3 475.2 120.4 474.7 120.2 474.2 124.8 473.7 120.9 473.2 119.8 472.7 122.3 472.2 119.1 471.7 125.8 471.2 118.6 470.7 118.6 470.2 118.3 469.7 118.2 469.2 119 468.7 121.6 468.2 119.4 467.7 118.1 467.2 117.7 466.7 118.1 466.2 118.6 465.7 117.5 465.2 117.5 464.7 121.2 464.2 118.1 463.7 118.1 463.2 120.7 462.7 116.7 462.2 117.9 461.7 116.7 461.2 116.8 460.7 118.3 460.2 119.3 459.7 117.6 459.2 117.5 458.7 117.5 458.2 120.8 457.7 118.8 457.2 118.4 456.7 118.5 456.2 117.8 455.7 118.6 455.2 117.7 454.7 120.1 454.2 118.6 453.7 118 453.2 117.7 452.7 117.2 452.2 118.6 451.7 117.3 451.2 117.6 450.7 117.7 450.2 117.8 449.7 117.5 449.2 119.2 448.7 119 448.2 120.2 447.7 118.7 447.2 119.8 446.7 119.1 446.2 118.1 445.7 118 445.2 118.9 444.7 118.1 444.2 118.1 443.7 117.2 443.2 117.1 442.7 119 442.2 121.1 441.7 117.7 441.2 118 440.7 118.1 440.2 117.4 439.7 119.4 439.2 117.6 438.7 121.6 438.2 121 437.7 121 437.2 120.7 436.7 121.7 436.2 123 435.7 120.4 435.2 123.1 434.7 122 434.2 120.4 433.7 120.6 433.2 121.4 432.7 119.5 432.2 119.9 431.7 119.9 431.2 119.6 430.7 118.1 430.2 117.2 429.7 120.1 429.2 117.7 428.7 118.3 428.2 117.1 427.7 117.3 427.2 117.8 426.7 120.9 426.2 117.9 425.7 120.6 425.2 117.3 424.7 117.5 424.2 117.4 423.7 117.4 423.2 116.8 422.7 116.4 422.2 116.3 421.7 117.3 421.2 117.9 420.7 119 420.2 121.5 419.7 119.9 419.2 117.5 418.7 117 418.2 118.1 417.7 117 417.2 116.7 416.7 120.2 416.2 118.3 415.7 118.2 415.2 117.4 414.7 117.3 414.2 116.4 413.7 117.8 413.2 117.1 412.7 117.9 412.2 117.8 411.7 117.9 411.2 118.2 410.7 118.5 410.2 124.8 409.7 121.2 409.2 119.2 408.7 119.5 408.2 118.7 407.7 117.6 407.2 118 406.7 120.8 406.2 117.8 405.7 116.2 405.2 116.7 404.7 117.3 404.2 117.6 403.7 118.2 403.2 118.6 402.7 120.5 402.2 122.3 401.7 119.6 401.2 122.6 400.7 120.1 400.2 120.5 399.7 122.7 399.2 122.7 398.7 120.5 398.2 120.7 397.7 119.9 397.2 121.1 396.7 121.1 396.2 120.4 395.7 121 395.2 121.7 394.7 128.3 394.2 121.5 393.7 119.7 393.2 119.6 392.7 121 392.2 121.4 391.7 122.2 391.2 123 390.7 119.3Z" fill="#0000ff"/><path d="M390.7 102.5L391.2 103.8 391.7 101.5 392.2 101.2 392.7 105.2 393.2 102.7 393.7 103.1 394.2 105 394.7 103.5 395.2 103.7 395.7 99.3 396.2 99.4 396.7 96.9 397.2 96.9 397.7 104.8 398.2 104.6 398.7 104 399.2 98.2 399.7 98.2 400.2 106.1 400.7 107.6 401.2 98.6 401.7 103.5 402.2 103.6 402.7 103.9 403.2 105.2 403.7 104 404.2 105.7 404.7 106.4 405.2 99.4 405.7 105.9 406.2 105.2 406.7 107.3 407.2 105.2 407.7 106.6 408.2 107.1 408.7 102.6 409.2 99 409.7 103.5 410.2 101.5 410.7 106.2 411.2 107.1 411.7 104.9 412.2 106.5 412.7 100.9 413.2 105.1 413.7 104.3 414.2 104.6 414.7 98.3 415.2 103.2 415.7 105.8 416.2 105.8 416.7 106.1 417.2 106.4 417.7 106.5 418.2 106.2 418.7 103.8 419.2 105.5 419.7 106.9 420.2 106.2 420.7 105.7 421.2 104 421.7 106 422.2 105.5 422.7 99.5 423.2 102.8 423.7 100.2 424.2 104.9 424.7 96.4 425.2 105.2 425.7 104 426.2 103.5 426.7 100.3 427.2 105 427.7 106 428.2 104.2 428.7 101.7 429.2 104.6 429.7 97.7 430.2 102.1 430.7 99.7 431.2 101.9 431.7 104.9 432.2 106.1 432.7 102.2 433.2 104.7 433.7 106.1 434.2 105.1 434.7 102.6 435.2 104.3 435.7 100.5 436.2 101.2 436.7 103.4 437.2 104 437.7 105.6 438.2 105.5 438.7 101 439.2 105.5 439.7 104.4 440.2 104.7 440.7 102.7 441.2 104.6 441.7 102.4 442.2 102.9 442.7 105.1 443.2 105.9 443.7 105.8 444.2 101.7 444.7 103.5 445.2 104.9 445.7 106.3 446.2 105 446.7 106.6 447.2 105 447.7 103.9 448.2 103.1 448.7 101.4 449.2 102.3 449.7 106.5 450.2 106.9 450.7 107.1 451.2 104.8 451.7 98.8 452.2 105.3 452.7 105.9 453.2 105.6 453.7 103.6 454.2 103.2 454.7 106 455.2 106.6 455.7 103.3 456.2 104.7 456.7 101.3 457.2 102.4 457.7 100.7 458.2 105.6 458.7 100 459.2 103.9 459.7 100.7 460.2 99.6 460.7 106.1 461.2 103.5 461.7 105.2 462.2 104.8 462.7 103.3 463.2 105 463.7 103.7 464.2 104.4 464.7 105.6 465.2 104.8 465.7 106.3 466.2 103.7 466.7 105.9 467.2 102.3 467.7 105.9 468.2 103.4 468.7 102.5 469.2 101.4 469.7 105.2 470.2 105.2 470.7 105.4 471.2 100.7 471.7 104.8 472.2 103.9 472.7 101.4 473.2 102.3 473.7 104.3 474.2 104.6 474.7 105.3 475.2 104.8 475.7 104.6 476.2 104.2 476.7 104.5 477.2 102.3 477.7 104.5 478.2 103.4 478.7 105.6 479.2 104.9 479.7 106.6 480.2 101.6 480.7 106.4 481.2 101 481.7 105.5 482.2 104.4 482.7 101.8 483.2 105.4 483.7 105.3 484.2 104.8 484.7 105.5 485.2 105.2 485.7 105.8 486.2 105 486.7 104.7 487.2 103.1 487.7 105.6 488.2 104.8 488.7 102.6 489.2 103.7 489.7 99 490.2 104.4 490.7 104 491.2 105.2 491.7 103.5 492.2 105.4 492.7 105.1 493.2 100.6 493.7 100.9 494.2 104.3 494.7 105.5 495.2 104.9 495.7 106.5 496.2 101.9 496.7 101.6 497.2 106.1 497.7 97.7 498.2 104.5 498.7 104.4 499.2 101.6 499.7 103.9 500.2 104.3 500.7 104.9 501.2 102.3 501.7 104.6 502.2 104.4 502.7 105 503.2 104.3 503.7 104.6 504.2 103.5 504.7 104.6 505.2 97.4 505.7 97 506.2 105.6 506.7 104.1 507.2 105.2 507.7 104.7 508.2 103.5 508.7 106.6 509.2 101.9 509.7 106.7 510.2 105.8 510.7 107 511.2 97.9 511.7 105.3 512.2 103.8 512.7 106.2 513.2 101.3 513.7 106.1 514.2 103 514.7 104.5 515.2 103.1 515.7 104.4 516.2 103.6 516.7 103.4 517.2 102.7 517.7 103.1 518.2 100 518.7 103.6 519.2 104.5 519.7 104.9 520.2 103.9 520.7 105.2 521.2 104.9 521.7 101.9 522.2 102.6 522.7 102.3 523.2 104 523.7 100.1 524.2 104.9 524.7 105.8 525.2 106.3 525.7 104.9 526.2 104.6 526.7 100.2 527.2 105.2 527.7 104.5 528.2 104.3 528.7 104.9 529.2 103.4 529.7 103.9 530.2 103.1 530.7 105 531.2 105.8 531.7 106.4 532.2 106.2 532.7 106.6 533.2 104.8 533.7 105.9 534.2 105.8 534.7 103.7 534.7 121.4 534.2 119.6 533.7 118.6 533.2 117.8 532.7 122.3 532.2 121.5 531.7 125.2 531.2 119.4 530.7 120.9 530.2 121.1 529.7 121.6 529.2 121.9 528.7 123.4 528.2 124.3 527.7 122.3 527.2 129.9 526.7 120.8 526.2 121.7 525.7 119.4 525.2 119.2 524.7 121.9 524.2 124 523.7 119 523.2 119.1 522.7 120.4 522.2 119.4 521.7 122.4 521.2 121.4 520.7 123.2 520.2 123.7 519.7 121.1 519.2 122 518.7 121.6 518.2 120.8 517.7 124.4 517.2 122.9 516.7 120.7 516.2 125.3 515.7 124.3 515.2 121.6 514.7 121.2 514.2 123.5 513.7 120.5 513.2 118.4 512.7 123.6 512.2 122.6 511.7 120 511.2 117.7 510.7 119.2 510.2 120 509.7 118.9 509.2 120 508.7 120.3 508.2 120.7 507.7 123.1 507.2 119.5 506.7 120.1 506.2 121.1 505.7 119.8 505.2 122.9 504.7 122.8 504.2 121.4 503.7 119.8 503.2 121.7 502.7 127.2 502.2 120.2 501.7 120.5 501.2 121.9 500.7 122.6 500.2 122.1 499.7 121.8 499.2 120.3 498.7 121.5 498.2 125 497.7 121.6 497.2 122.6 496.7 122 496.2 120.6 495.7 120.2 495.2 122.5 494.7 119.3 494.2 119 493.7 122 493.2 119.2 492.7 121.4 492.2 120.3 491.7 128.8 491.2 122 490.7 120.3 490.2 122.6 489.7 122.9 489.2 120.4 488.7 133.7 488.2 119.9 487.7 120.2 487.2 121.3 486.7 121.4 486.2 122.1 485.7 120.2 485.2 120.1 484.7 122.7 484.2 121.3 483.7 124.1 483.2 125.9 482.7 119.9 482.2 120.6 481.7 120 481.2 121.4 480.7 119.9 480.2 118.5 479.7 118.7 479.2 120.6 478.7 119 478.2 119.9 477.7 119.6 477.2 123.6 476.7 120.3 476.2 120.6 475.7 120 475.2 122.8 474.7 119.8 474.2 121.9 473.7 123 473.2 123.7 472.7 126.7 472.2 122 471.7 119.3 471.2 120.6 470.7 122 470.2 119.8 469.7 120.2 469.2 119.7 468.7 120.4 468.2 120.4 467.7 121.5 467.2 119 466.7 119.3 466.2 122 465.7 122.5 465.2 121.4 464.7 120.9 464.2 123.7 463.7 120.3 463.2 120.4 462.7 120.8 462.2 119 461.7 119.8 461.2 118.7 460.7 118.8 460.2 118.3 459.7 127.9 459.2 124.5 458.7 119.9 458.2 123.1 457.7 121.8 457.2 119.5 456.7 123.5 456.2 120.2 455.7 121.3 455.2 119.6 454.7 124 454.2 119.3 453.7 120.5 453.2 119.1 452.7 120.6 452.2 120 451.7 118.7 451.2 123.6 450.7 122.5 450.2 117.8 449.7 118.7 449.2 118.2 448.7 119.1 448.2 120 447.7 119.4 447.2 119.8 446.7 118.6 446.2 123.7 445.7 120.1 445.2 119.3 444.7 119 444.2 125.6 443.7 123 443.2 119.4 442.7 119.8 442.2 120 441.7 124.3 441.2 120.5 440.7 121.3 440.2 120.2 439.7 119.8 439.2 120.4 438.7 121.3 438.2 123.8 437.7 122.6 437.2 121.7 436.7 126.1 436.2 119.7 435.7 121.4 435.2 123.5 434.7 123.2 434.2 120 433.7 120 433.2 124.6 432.7 126.2 432.2 118.8 431.7 119.8 431.2 133 430.7 120.5 430.2 128.3 429.7 123.2 429.2 124.6 428.7 120.3 428.2 121.6 427.7 123.3 427.2 121.3 426.7 119.9 426.2 120.2 425.7 120.2 425.2 119.9 424.7 120.6 424.2 123.4 423.7 122.1 423.2 123.3 422.7 120 422.2 119.7 421.7 121.6 421.2 119.2 420.7 119.9 420.2 119.7 419.7 118.9 419.2 118.9 418.7 119.7 418.2 119.9 417.7 118.3 417.2 120.7 416.7 123.1 416.2 119.9 415.7 119.7 415.2 120.4 414.7 119.6 414.2 122.6 413.7 126.7 413.2 123.3 412.7 119.2 412.2 119.8 411.7 118 411.2 119.9 410.7 120.1 410.2 119.3 409.7 121.9 409.2 122.6 408.7 118.9 408.2 122.4 407.7 119 407.2 117.6 406.7 117.9 406.2 116.4 405.7 118.7 405.2 120.7 404.7 118.3 404.2 123 403.7 119.5 403.2 120.8 402.7 123.7 402.2 119.1 401.7 123.5 401.2 118.2 400.7 119.5 400.2 118.3 399.7 118.6 399.2 118 398.7 121 398.2 120.5 397.7 126.4 397.2 122 396.7 122.9 396.2 121 395.7 121.5 395.2 121.3 394.7 121.2 394.2 124.1 393.7 122.2 393.2 120.5 392.7 120 392.2 120.4 391.7 120.7 391.2 126.6 390.7 121Z" fill="#ff0000"/></g><rect x="390.7" y="8.4" width="145.3" height="182.3" fill="none" stroke="#999" stroke-width="1.25"/><path d="M390.7 190.7v-1.5M390.7 8.4v1.5M427 190.7v-1.5M427 8.4v1.5M463.4 190.7v-1.5M463.4 8.4v1.5M499.7 190.7v-1.5M499.7 8.4v1.5M536 190.7v-1.5M536 8.4v1.5M390.7 190.7h1.5M536 190.7h-1.5M390.7 164.7h1.5M536 164.7h-1.5M390.7 138.6h1.5M536 138.6h-1.5M390.7 112.6h1.5M536 112.6h-1.5M390.7 86.5h1.5M536 86.5h-1.5M390.7 60.5h1.5M536 60.5h-1.5M390.7 34.4h1.5M536 34.4h-1.5M390.7 8.4h1.5M536 8.4h-1.5" stroke="#555" stroke-width="0.7" fill="none"/><g font-size="10" fill="#222" stroke="#222" stroke-width="0.3"><text x="390.7" y="203.9" text-anchor="middle">0</text><text x="427" y="203.9" text-anchor="middle">1</text><text x="463.4" y="203.9" text-anchor="middle">2</text><text x="499.7" y="203.9" text-anchor="middle">3</text><text x="536" y="203.9" text-anchor="middle">4</text><text x="386.9" y="194.8" text-anchor="end">50</text><text x="386.9" y="168.8" text-anchor="end">51</text><text x="386.9" y="142.7" text-anchor="end">52</text><text x="386.9" y="116.7" text-anchor="end">53</text><text x="386.9" y="90.6" text-anchor="end">54</text><text x="386.9" y="64.6" text-anchor="end">55</text><text x="386.9" y="38.5" text-anchor="end">56</text><text x="386.9" y="12.5" text-anchor="end">57</text></g><text x="463.4" y="214.3" text-anchor="middle" font-size="11.00" fill="#1a1a1a" stroke="#1a1a1a" stroke-width="0.25">Time(h)</text><text transform="translate(374.1 99.5) rotate(-90)" text-anchor="middle" font-size="11.00" fill="#1a1a1a" stroke="#1a1a1a" stroke-width="0.22">z-axis CMG(dps)</text><rect x="440" y="36.7" width="84.5" height="40.9" fill="#fff" stroke="#666" stroke-width="0.8"/><path d="M442.4 42.7H463.6" stroke="#000" stroke-width="0.8"/><text x="466.2" y="45.8" font-size="9.00" fill="#111" stroke="#111" stroke-width="0.2">Primary</text><path d="M442.4 52.3H463.6" stroke="#00ff00" stroke-width="0.8"/><text x="466.2" y="55.4" font-size="9.00" fill="#111" stroke="#111" stroke-width="0.2">Conventional 1</text><path d="M442.4 61.9H463.6" stroke="#0000ff" stroke-width="0.8"/><text x="466.2" y="65" font-size="9.00" fill="#111" stroke="#111" stroke-width="0.2">Conventional 2</text><path d="M442.4 71.5H463.6" stroke="#ff0000" stroke-width="0.8"/><text x="466.2" y="74.6" font-size="9.00" fill="#111" stroke="#111" stroke-width="0.2">Novel</text></g>
<g><path d="M75.3 255.4V437.5M111.7 255.4V437.5M148 255.4V437.5M38.9 414.7H184.4M38.9 392H184.4M38.9 369.2H184.4M38.9 346.4H184.4M38.9 323.7H184.4M38.9 300.9H184.4M38.9 278.2H184.4" stroke="#e3e3e3" stroke-width="0.8" fill="none"/><g clip-path="url(#cb1)"><path d="M49.9 412.8L50.4 412.5 50.9 412.1 51.4 410.9 51.9 409.4 52.4 407.4 52.9 404.4 53.4 402.4 53.9 402.1 54.4 396.1 54.9 396.4 55.4 398.2 55.9 395.5 56.4 398.3 56.9 394.3 57.4 396 57.9 397.1 58.4 397 58.9 396.2 59.4 393.4 59.9 391.8 60.4 393.8 60.9 395 61.4 394.4 61.9 394.2 62.4 392.2 62.9 392.9 63.4 389.3 63.9 391.3 64.4 390.6 64.9 389.5 65.4 388.2 65.9 388.1 66.4 386.2 66.9 385.8 67.4 386.3 67.9 385.7 68.4 383.2 68.9 385.4 69.4 383.1 69.9 384.5 70.4 381.8 70.9 383 71.4 381.9 71.9 380.8 72.4 377 72.9 379.2 73.4 378.7 73.9 378.5 74.4 376.8 74.9 379 75.4 375.1 75.9 374.2 76.4 376 76.9 371.9 77.4 373.2 77.9 372.5 78.4 371.6 78.9 371.3 79.4 371.2 79.9 367 80.4 371.3 80.9 369.9 81.4 369.2 81.9 367.9 82.4 365.4 82.9 365.6 83.4 364.5 83.9 363.6 84.4 357.8 84.9 357 85.4 360.2 85.9 357.7 86.4 359.3 86.9 356.7 87.4 352.8 87.9 356.2 88.4 354.7 88.9 352.6 89.4 353.5 89.9 351.4 90.4 353.1 90.9 351.8 91.4 350.9 91.9 348.7 92.4 346.9 92.9 346.7 93.4 347.7 93.9 346.1 94.4 345 94.9 340.5 95.4 343.2 95.9 343.1 96.4 340.9 96.9 339.5 97.4 336.8 97.9 333 98.4 337.1 98.9 336.1 99.4 334.6 99.9 332.9 100.4 333.2 100.9 333.4 101.4 329.6 101.9 329.7 102.4 330.8 102.9 329.7 103.4 330.5 103.9 326.6 104.4 328.2 104.9 328.1 105.4 326.6 105.9 325.1 106.4 324.4 106.9 323.3 107.4 321.8 107.9 321.5 108.4 320.8 108.9 320.2 109.4 315.5 109.9 314.4 110.4 316.9 110.9 315.8 111.4 313.9 111.9 309.5 112.4 310.3 112.9 310.9 113.4 308.6 113.9 309.1 114.4 304.8 114.9 308.9 115.4 302.9 115.9 306.3 116.4 301.5 116.9 304.8 117.4 303.4 117.9 300.1 118.4 302.1 118.9 301.3 119.4 299.8 119.9 296.1 120.4 298.6 120.9 297.1 121.4 296 121.9 295.2 122.4 294.1 122.9 294.1 123.4 293.9 123.9 290.1 124.4 291.8 124.9 291.7 125.4 289.6 125.9 290.9 126.4 289.6 126.9 289.8 127.4 290.9 127.9 289.7 128.4 289.8 128.9 289.2 129.4 286.4 129.9 284.1 130.4 288.3 130.9 288.6 131.4 287.8 131.9 287.6 132.4 286.8 132.9 286.5 133.4 281.9 133.9 286.1 134.4 285.5 134.9 284.7 135.4 283.6 135.9 284 136.4 281.9 136.9 284.2 137.4 283.9 137.9 282.6 138.4 285.1 138.9 285.6 139.4 284.9 139.9 285 140.4 284.7 140.9 284.3 141.4 282.1 141.9 283.3 142.4 283 142.9 280.3 143.4 281.9 143.9 280.8 144.4 281 144.9 281.2 145.4 279.7 145.9 280.6 146.4 280.6 146.9 281.4 147.4 281.9 147.9 280.3 148.4 278 148.9 282.8 149.4 281.9 149.9 279.7 150.4 281.6 150.9 280.6 151.4 282.8 151.9 280.2 152.4 282.1 152.9 282.4 153.4 281.8 153.9 279.8 154.4 279.6 154.9 281.9 155.4 281.2 155.9 281.8 156.4 282.3 156.9 282 157.4 278.7 157.9 280.4 158.4 280.8 158.9 277.4 159.4 281.9 159.9 280.2 160.4 280.4 160.9 280.8 161.4 279.9 161.9 280.7 162.4 280.3 162.9 279.7 163.4 280.9 163.9 281.6 164.4 280.1 164.9 278.9 165.4 280.3 165.9 279.2 166.4 280.9 166.9 279.7 167.4 281.2 167.9 280.8 168.4 279.4 168.9 280.4 169.4 281.8 169.9 281.2 170.4 280.8 170.9 278.9 171.4 281.6 171.9 282.6 172.4 279.7 172.9 281.8 173.4 281 173.9 281.9 174.4 281.8 174.9 278.3 175.4 281.1 175.9 280.5 176.4 280.8 176.9 279.1 177.4 281.2 177.9 282.2 177.9 294.3 177.4 296.4 176.9 299.4 176.4 298.1 175.9 296.3 175.4 294.5 174.9 294.7 174.4 294.3 173.9 295.5 173.4 294.3 172.9 294.7 172.4 294.3 171.9 295.1 171.4 294.6 170.9 293.7 170.4 295.3 169.9 297.4 169.4 297.7 168.9 294.6 168.4 295 167.9 299.3 167.4 295.4 166.9 295.1 166.4 294.6 165.9 295.2 165.4 295.3 164.9 295.3 164.4 296.2 163.9 295.3 163.4 295.8 162.9 295.2 162.4 296.2 161.9 295.1 161.4 295.8 160.9 296 160.4 296.3 159.9 295 159.4 296.3 158.9 296.1 158.4 295.4 157.9 295.4 157.4 296 156.9 297.5 156.4 298.9 155.9 295.9 155.4 297 154.9 294.8 154.4 295 153.9 296.7 153.4 294.4 152.9 294.1 152.4 294.8 151.9 296 151.4 294.4 150.9 293.8 150.4 295.8 149.9 294.2 149.4 296.4 148.9 293.8 148.4 294.3 147.9 295.3 147.4 296.9 146.9 295.1 146.4 297.3 145.9 297.1 145.4 296.2 144.9 297.6 144.4 295.7 143.9 297.2 143.4 299.8 142.9 296.4 142.4 298.9 141.9 296.3 141.4 297.9 140.9 300 140.4 294.8 139.9 295.6 139.4 298.5 138.9 296 138.4 298.2 137.9 296.7 137.4 301.5 136.9 299.8 136.4 300.6 135.9 302.4 135.4 299.1 134.9 300.5 134.4 298.8 133.9 300 133.4 299.3 132.9 299.3 132.4 301.3 131.9 303.4 131.4 299.6 130.9 300.8 130.4 303.2 129.9 300.7 129.4 305.2 128.9 302.3 128.4 303.2 127.9 305.9 127.4 303.9 126.9 305.1 126.4 305.1 125.9 306.4 125.4 309.6 124.9 307.2 124.4 308.7 123.9 310.8 123.4 309.1 122.9 311.8 122.4 310 121.9 315.3 121.4 311.1 120.9 311.4 120.4 311.4 119.9 312.2 119.4 313.4 118.9 318.1 118.4 315.2 117.9 316.8 117.4 317.8 116.9 319.2 116.4 320.2 115.9 320.5 115.4 320.8 114.9 324.7 114.4 323.6 113.9 323.6 113.4 327.2 112.9 326.5 112.4 326.5 111.9 327.5 111.4 330.8 110.9 329.3 110.4 330.8 109.9 331.4 109.4 333.2 108.9 333 108.4 334.5 107.9 334.8 107.4 337.8 106.9 337.1 106.4 338.3 105.9 342.7 105.4 338.9 104.9 340 104.4 343.4 103.9 342.1 103.4 344.8 102.9 343.9 102.4 347 101.9 348.2 101.4 349.7 100.9 348.8 100.4 349.7 99.9 352.8 99.4 352.5 98.9 352.8 98.4 354 97.9 359.5 97.4 357.1 96.9 359.6 96.4 356.7 95.9 360.6 95.4 357.9 94.9 357.9 94.4 359.1 93.9 360.3 93.4 361.2 92.9 362.5 92.4 363.8 91.9 366.3 91.4 365.7 90.9 368 90.4 368.3 89.9 371.7 89.4 368.4 88.9 369 88.4 370.5 87.9 372.1 87.4 373.3 86.9 376.4 86.4 373.6 85.9 379.1 85.4 380.1 84.9 380.9 84.4 378.3 83.9 378.9 83.4 379.1 82.9 379.5 82.4 379.3 81.9 383.7 81.4 380 80.9 380.4 80.4 380.4 79.9 383.9 79.4 383.8 78.9 383.7 78.4 389.5 77.9 386.4 77.4 389.4 76.9 390.3 76.4 389.3 75.9 387.8 75.4 388.6 74.9 389.7 74.4 394.5 73.9 393.5 73.4 392.7 72.9 393 72.4 394.7 71.9 397.4 71.4 396.4 70.9 396.1 70.4 396.1 69.9 397.2 69.4 400.8 68.9 402.9 68.4 401.2 67.9 401.4 67.4 404.7 66.9 404.2 66.4 402.3 65.9 403.6 65.4 405.4 64.9 407.6 64.4 403.7 63.9 408.3 63.4 406.4 62.9 406.2 62.4 405.3 61.9 410.2 61.4 406.3 60.9 407.1 60.4 409.3 59.9 408.6 59.4 408.5 58.9 410 58.4 408.4 57.9 410.7 57.4 409.4 56.9 412 56.4 412.6 55.9 413.1 55.4 410.8 54.9 414.8 54.4 412.6 53.9 414.5 53.4 413.8 52.9 415 52.4 414.6 51.9 415.4 51.4 416.4 50.9 415.8 50.4 416.4 49.9 416.5Z" fill="#000"/><path d="M38.9 410.3L39.4 411.5 39.9 409.2 40.4 411.8 40.9 411.4 41.4 411.1 41.9 411.8 42.4 408.8 42.9 409.6 43.4 410.7 43.9 408.7 44.4 410 44.9 410.7 45.4 409.2 45.9 411.4 46.4 410.2 46.9 408.8 47.4 411.3 47.9 410.7 48.4 409.8 48.9 410.4 49.4 410.8 49.9 410.4 50.4 410.4 50.9 410.1 51.4 408.6 51.9 411.4 52.4 411.9 52.9 409.7 53.4 411.4 53.9 412.7 54.4 413.3 54.9 412 55.4 410.4 55.9 412.9 56.4 411.5 56.9 412.8 57.4 412.1 57.9 412.3 58.4 410.3 58.9 410.7 59.4 410.8 59.9 412 60.4 410.1 60.9 411.3 61.4 410.3 61.9 409.9 62.4 409.8 62.9 407.9 63.4 410.3 63.9 409.1 64.4 409.9 64.9 409.5 65.4 409 65.9 408.4 66.4 409.6 66.9 409.8 67.4 409.9 67.9 409.8 68.4 409.8 68.9 409.5 69.4 409 69.9 408.6 70.4 410.4 70.9 409.1 71.4 409.7 71.9 411.1 72.4 410.7 72.9 411.2 73.4 411.2 73.9 410.1 74.4 410.6 74.9 410.2 75.4 410.2 75.9 409.3 76.4 409.5 76.9 408.7 77.4 408.8 77.9 409.5 78.4 409.3 78.9 409.2 79.4 407.8 79.9 408.7 80.4 409.1 80.9 408.7 81.4 409.4 81.9 410 82.4 410.2 82.9 410.8 83.4 410.1 83.9 410.5 84.4 409.5 84.9 409.4 85.4 407.5 85.9 409.1 86.4 409 86.9 408.9 87.4 407.5 87.9 409.1 88.4 409.7 88.9 410.4 89.4 409.2 89.9 409.3 90.4 408.9 90.9 409.5 91.4 409.2 91.9 409.2 92.4 409 92.9 409.6 93.4 410 93.9 410.1 94.4 410.3 94.9 410.2 95.4 410.2 95.9 409.1 96.4 409.8 96.9 407.9 97.4 407 97.9 409.1 98.4 408.9 98.9 408.4 99.4 408.8 99.9 408.6 100.4 407.2 100.9 408.1 101.4 408.1 101.9 408.5 102.4 409 102.9 408.4 103.4 409.5 103.9 409.3 104.4 409.6 104.9 410.7 105.4 410.1 105.9 409.9 106.4 410.7 106.9 411.4 107.4 412.1 107.9 409.5 108.4 409.7 108.9 410.5 109.4 411.7 109.9 412.2 110.4 411.5 110.9 410.6 111.4 411.3 111.9 410.9 112.4 409.1 112.9 410 113.4 409.4 113.9 408 114.4 407.5 114.9 406.1 115.4 408 115.9 409.2 116.4 409.6 116.9 406.1 117.4 409 117.9 406.7 118.4 409.4 118.9 410.3 119.4 409.4 119.9 410.7 120.4 409.8 120.9 411.3 121.4 411.5 121.9 411.6 122.4 411.1 122.9 409.6 123.4 411.7 123.9 411.3 124.4 411.4 124.9 410.8 125.4 409 125.9 411.9 126.4 409.7 126.9 411.1 127.4 412.3 127.9 411.9 128.4 409 128.9 410.5 129.4 409.9 129.9 409.9 130.4 409.8 130.9 408.7 131.4 406.9 131.9 409.7 132.4 408.4 132.9 410.3 133.4 409.9 133.9 410 134.4 410.6 134.9 409.8 135.4 409.6 135.9 409 136.4 409.7 136.9 409.4 137.4 409.3 137.9 408.1 138.4 409.6 138.9 405 139.4 408.4 139.9 407.2 140.4 408.8 140.9 409.1 141.4 408 141.9 407.6 142.4 408.3 142.9 409.3 143.4 409.9 143.9 409.7 144.4 409.4 144.9 409.6 145.4 410 145.9 408.8 146.4 408.5 146.9 409.8 147.4 410.1 147.9 410 148.4 408.9 148.9 410.1 149.4 409.3 149.9 407 150.4 408.9 150.9 409.3 151.4 409 151.9 409.9 152.4 410.1 152.9 410.7 153.4 407.6 153.9 410.8 154.4 410.3 154.9 407.8 155.4 411.1 155.9 410.2 156.4 411 156.9 410.2 157.4 410.5 157.9 410.8 158.4 411.3 158.9 411.8 159.4 411.8 159.9 411.3 160.4 411.3 160.9 412.1 161.4 411.8 161.9 411.2 162.4 410.4 162.9 409 163.4 408.2 163.9 408.7 164.4 409.1 164.9 408.5 165.4 408.7 165.9 406.8 166.4 407.8 166.9 408 167.4 407.6 167.9 408.2 168.4 407.2 168.9 406.1 169.4 404.9 169.9 408.6 170.4 408.8 170.9 407.9 171.4 408.7 171.9 408.7 172.4 407.3 172.9 407.3 173.4 407.3 173.9 407.5 174.4 407.8 174.9 408.2 175.4 408.5 175.9 408.8 176.4 408.4 176.9 408.2 177.4 407.4 177.9 407.2 177.9 418.8 177.4 418.8 176.9 417.2 176.4 417.9 175.9 419 175.4 418.3 174.9 418.2 174.4 420.4 173.9 419 173.4 419.2 172.9 418.8 172.4 418.9 171.9 420.1 171.4 418.9 170.9 419 170.4 419.4 169.9 418.2 169.4 417.7 168.9 420.4 168.4 418.5 167.9 418.6 167.4 420.6 166.9 418.5 166.4 419 165.9 421.9 165.4 418.8 164.9 419.4 164.4 420 163.9 419.7 163.4 420.7 162.9 422.3 162.4 420.2 161.9 421.8 161.4 420.3 160.9 420.7 160.4 422.1 159.9 422.3 159.4 421.6 158.9 423 158.4 422.9 157.9 422.1 157.4 422.1 156.9 421.7 156.4 421.4 155.9 421.3 155.4 421.1 154.9 420.2 154.4 420.5 153.9 420.8 153.4 422.1 152.9 424.7 152.4 418.9 151.9 419.8 151.4 418.9 150.9 421.9 150.4 418.3 149.9 418.3 149.4 418.9 148.9 418.5 148.4 417.9 147.9 421.8 147.4 418 146.9 418.1 146.4 418.9 145.9 417.9 145.4 420.2 144.9 417.1 144.4 417.6 143.9 417.2 143.4 417.7 142.9 417.7 142.4 418.4 141.9 418.9 141.4 419.8 140.9 422.3 140.4 418.6 139.9 418.8 139.4 418.6 138.9 418.9 138.4 419.5 137.9 418.5 137.4 418.9 136.9 418.8 136.4 418.3 135.9 418.7 135.4 417.8 134.9 418.1 134.4 418.4 133.9 418.7 133.4 418.2 132.9 418.1 132.4 418.5 131.9 418.4 131.4 420.8 130.9 419.1 130.4 419.8 129.9 420.4 129.4 421 128.9 420.3 128.4 420.1 127.9 420.2 127.4 420.8 126.9 423.4 126.4 421.2 125.9 421.8 125.4 421.8 124.9 422 124.4 422 123.9 423.2 123.4 421.5 122.9 421.3 122.4 421.6 121.9 421.2 121.4 424.2 120.9 422.9 120.4 420.8 119.9 420.6 119.4 421.8 118.9 421 118.4 420.1 117.9 420.2 117.4 418.9 116.9 418.4 116.4 419.7 115.9 418.9 115.4 418.7 114.9 420.1 114.4 420 113.9 418.8 113.4 418.8 112.9 419.2 112.4 419.5 111.9 419.1 111.4 418.8 110.9 420.8 110.4 420.1 109.9 421.1 109.4 421.6 108.9 422.7 108.4 420.3 107.9 420.3 107.4 420.7 106.9 420.2 106.4 419.9 105.9 420 105.4 421.1 104.9 419.7 104.4 421 103.9 420.6 103.4 420.2 102.9 420.1 102.4 419.6 101.9 421.3 101.4 419.8 100.9 419.3 100.4 419.2 99.9 422.4 99.4 419.1 98.9 418.7 98.4 420.9 97.9 420.5 97.4 423.2 96.9 420.6 96.4 421.7 95.9 421.5 95.4 421 94.9 419.9 94.4 420 93.9 421.1 93.4 421.5 92.9 420 92.4 420.1 91.9 420 91.4 420 90.9 420.2 90.4 421.8 89.9 419.4 89.4 420.8 88.9 419 88.4 418.3 87.9 419.1 87.4 419.2 86.9 419.5 86.4 421.5 85.9 421.4 85.4 420.3 84.9 421 84.4 421 83.9 419.9 83.4 420.3 82.9 421 82.4 420.7 81.9 421.2 81.4 420.6 80.9 420.4 80.4 421 79.9 420.2 79.4 419.4 78.9 420 78.4 419.6 77.9 419.6 77.4 418.5 76.9 423.3 76.4 418.5 75.9 418.9 75.4 418.7 74.9 420 74.4 418.6 73.9 418.7 73.4 418.7 72.9 418.9 72.4 419.8 71.9 419 71.4 418.9 70.9 420.5 70.4 419.6 69.9 419 69.4 419.2 68.9 419 68.4 419.3 67.9 418.6 67.4 419.3 66.9 419.3 66.4 421.8 65.9 419.6 65.4 421.1 64.9 420.7 64.4 420.1 63.9 420.8 63.4 421.4 62.9 419.4 62.4 421.1 61.9 418.8 61.4 419.3 60.9 419.5 60.4 418.3 59.9 418.4 59.4 419.5 58.9 419.3 58.4 419.8 57.9 420 57.4 420.3 56.9 420.7 56.4 420.9 55.9 422.1 55.4 420.9 54.9 421.3 54.4 420.9 53.9 421 53.4 421.2 52.9 420.6 52.4 421 51.9 420.8 51.4 420.6 50.9 420.6 50.4 420.6 49.9 421.6 49.4 420.9 48.9 420.9 48.4 421 47.9 422.7 47.4 421.7 46.9 421 46.4 421.3 45.9 421.1 45.4 422.4 44.9 420.9 44.4 421.8 43.9 421.7 43.4 420.6 42.9 420.3 42.4 421.2 41.9 419.6 41.4 419.3 40.9 419.1 40.4 418.6 39.9 421.5 39.4 419.7 38.9 421Z" fill="#00ff00"/><path d="M38.9 411.1L39.4 409 39.9 407.6 40.4 409.2 40.9 410.8 41.4 409.8 41.9 410.2 42.4 409.8 42.9 410.4 43.4 410 43.9 407.8 44.4 409.4 44.9 409.4 45.4 406.1 45.9 408.1 46.4 410 46.9 410.2 47.4 409.8 47.9 410.5 48.4 410.1 48.9 410.7 49.4 409.7 49.9 410.6 50.4 411.5 50.9 410.2 51.4 412.4 51.9 413.1 52.4 413.3 52.9 412.3 53.4 413.1 53.9 412.1 54.4 410.5 54.9 410.6 55.4 409.7 55.9 412.4 56.4 412.6 56.9 413.2 57.4 411 57.9 413.2 58.4 412.8 58.9 410.4 59.4 412 59.9 411 60.4 410 60.9 411.6 61.4 410.2 61.9 410.9 62.4 411.7 62.9 410.5 63.4 411.6 63.9 411.3 64.4 410.1 64.9 408.1 65.4 410.7 65.9 410.8 66.4 410.8 66.9 410.6 67.4 410.9 67.9 410.9 68.4 410.9 68.9 410.1 69.4 410.1 69.9 411.4 70.4 410.3 70.9 407.7 71.4 412.1 71.9 412.2 72.4 411 72.9 411.4 73.4 410.3 73.9 412.2 74.4 411.6 74.9 411.8 75.4 411.1 75.9 410.3 76.4 410.8 76.9 409.3 77.4 408.8 77.9 407.9 78.4 408.4 78.9 407.8 79.4 405.9 79.9 406.2 80.4 407.9 80.9 407.7 81.4 408.1 81.9 407.5 82.4 407 82.9 408.9 83.4 407.4 83.9 409.2 84.4 409 84.9 406.8 85.4 409.3 85.9 409.9 86.4 409.2 86.9 409.6 87.4 410 87.9 409.7 88.4 410.2 88.9 410.5 89.4 410.7 89.9 409.8 90.4 408.9 90.9 410.9 91.4 412 91.9 411.4 92.4 412.2 92.9 408.8 93.4 412.7 93.9 412.6 94.4 412.5 94.9 412.3 95.4 410.9 95.9 411.2 96.4 411.3 96.9 410.7 97.4 409.6 97.9 406.6 98.4 408.1 98.9 408.9 99.4 408.8 99.9 407.3 100.4 409.1 100.9 409.1 101.4 409.6 101.9 409.8 102.4 409.7 102.9 407.8 103.4 410.2 103.9 410.8 104.4 410.3 104.9 410.9 105.4 410.4 105.9 410 106.4 410.3 106.9 409.1 107.4 411.2 107.9 410.6 108.4 410.7 108.9 410.5 109.4 410.6 109.9 410.6 110.4 409.7 110.9 407.3 111.4 410.5 111.9 410.1 112.4 410 112.9 409.5 113.4 409.9 113.9 409.3 114.4 407.9 114.9 408.5 115.4 408.6 115.9 407.3 116.4 407.2 116.9 409 117.4 409.3 117.9 407.9 118.4 409.9 118.9 410.3 119.4 410.4 119.9 409.7 120.4 410.4 120.9 407.9 121.4 410.8 121.9 409.8 122.4 410.3 122.9 410.1 123.4 410.1 123.9 406.3 124.4 409 124.9 409.3 125.4 409.3 125.9 408.7 126.4 408.2 126.9 404 127.4 408.2 127.9 408.9 128.4 409.4 128.9 409.5 129.4 405.8 129.9 409.2 130.4 407.8 130.9 408.4 131.4 407.9 131.9 409.6 132.4 409.5 132.9 408.9 133.4 410.2 133.9 410.3 134.4 408.3 134.9 409 135.4 408.5 135.9 410.1 136.4 410.2 136.9 408.5 137.4 410.5 137.9 407.4 138.4 407.8 138.9 409.1 139.4 409.4 139.9 408.7 140.4 409.5 140.9 409.2 141.4 409.3 141.9 408.4 142.4 409 142.9 409.1 143.4 407.4 143.9 409.5 144.4 409.6 144.9 409.3 145.4 408.6 145.9 409.1 146.4 409.6 146.9 410 147.4 410.2 147.9 404.8 148.4 410.8 148.9 410.2 149.4 409.4 149.9 410.6 150.4 410.9 150.9 410.8 151.4 411.9 151.9 411.2 152.4 410.6 152.9 411.4 153.4 410.8 153.9 411.3 154.4 410.4 154.9 411.3 155.4 410.5 155.9 411.6 156.4 411.3 156.9 410.6 157.4 410.7 157.9 410.1 158.4 410.6 158.9 410.4 159.4 409.6 159.9 410 160.4 408.5 160.9 408.7 161.4 409.2 161.9 409 162.4 409.3 162.9 408.2 163.4 408.3 163.9 410.1 164.4 408.8 164.9 410.2 165.4 409.6 165.9 408.9 166.4 411.2 166.9 410.4 167.4 411.1 167.9 410.3 168.4 411.4 168.9 409.9 169.4 411 169.9 410.8 170.4 409.8 170.9 409 171.4 410.4 171.9 410.3 172.4 409.5 172.9 410 173.4 409.8 173.9 408.6 174.4 409.7 174.9 410.2 175.4 410.3 175.9 410.4 176.4 410.6 176.9 410.1 177.4 410.7 177.9 410.4 177.9 420.9 177.4 419.3 176.9 421.3 176.4 419.6 175.9 421.2 175.4 420.9 174.9 419.3 174.4 419.7 173.9 418.9 173.4 419.3 172.9 418.8 172.4 418.8 171.9 420.4 171.4 419.8 170.9 423.1 170.4 419.8 169.9 419.3 169.4 419.5 168.9 419.4 168.4 421 167.9 421.3 167.4 420.2 166.9 419.4 166.4 420 165.9 419.5 165.4 419.1 164.9 420.4 164.4 419.5 163.9 418.8 163.4 418.3 162.9 418.5 162.4 418.5 161.9 419.2 161.4 418.4 160.9 418.6 160.4 422 159.9 419.3 159.4 419.6 158.9 419.2 158.4 419.8 157.9 419.8 157.4 419.4 156.9 421.3 156.4 420.4 155.9 419.5 155.4 420.9 154.9 420.2 154.4 422.1 153.9 423.1 153.4 420.3 152.9 420.1 152.4 420.8 151.9 420.3 151.4 420.5 150.9 420 150.4 420.9 149.9 420 149.4 421 148.9 420.7 148.4 420.8 147.9 420.5 147.4 420.4 146.9 420.9 146.4 420 145.9 420.1 145.4 419.4 144.9 420.2 144.4 419 143.9 421.9 143.4 418.8 142.9 418.8 142.4 419.4 141.9 418.8 141.4 419 140.9 419.6 140.4 421.2 139.9 419.7 139.4 418.6 138.9 418.8 138.4 418.5 137.9 417.6 137.4 418.5 136.9 417.4 136.4 416.7 135.9 416.7 135.4 416.6 134.9 418.6 134.4 417.2 133.9 418.8 133.4 419.7 132.9 419.6 132.4 419.3 131.9 419.2 131.4 419.7 130.9 421.9 130.4 421.5 129.9 420.2 129.4 419.8 128.9 421.4 128.4 422.4 127.9 419.2 127.4 419 126.9 419.5 126.4 419 125.9 418.9 125.4 420.9 124.9 419.1 124.4 420.8 123.9 418.6 123.4 419.2 122.9 419.6 122.4 418.8 121.9 419.9 121.4 419.1 120.9 418.9 120.4 418.9 119.9 419 119.4 419.1 118.9 420.8 118.4 419.5 117.9 420.4 117.4 420.1 116.9 420.7 116.4 419.5 115.9 423 115.4 419.9 114.9 420.2 114.4 419.7 113.9 419 113.4 419.1 112.9 420.5 112.4 417.9 111.9 423 111.4 422.2 110.9 417.6 110.4 418.2 109.9 418 109.4 418.6 108.9 419.1 108.4 419.9 107.9 422.6 107.4 421.2 106.9 419.8 106.4 419.8 105.9 420.7 105.4 420.9 104.9 421.7 104.4 419.7 103.9 420.1 103.4 419.5 102.9 418.8 102.4 419.9 101.9 418.6 101.4 419.6 100.9 418.4 100.4 418.8 99.9 419.3 99.4 422.3 98.9 420.7 98.4 420.4 97.9 421.5 97.4 421.8 96.9 422 96.4 421 95.9 421.6 95.4 421.1 94.9 422.5 94.4 424.3 93.9 422.4 93.4 423 92.9 422.8 92.4 420.9 91.9 420.9 91.4 420 90.9 421.1 90.4 420.2 89.9 420.3 89.4 420.3 88.9 421.9 88.4 420.9 87.9 421.5 87.4 419.7 86.9 420.2 86.4 419.9 85.9 419.8 85.4 421.3 84.9 419.2 84.4 419 83.9 419.1 83.4 419.6 82.9 418 82.4 417.8 81.9 418.4 81.4 418.7 80.9 418.6 80.4 418.4 79.9 419.6 79.4 419.6 78.9 420.7 78.4 419.8 77.9 420.9 77.4 419.9 76.9 419.6 76.4 419.9 75.9 423.1 75.4 420.2 74.9 422.5 74.4 422.8 73.9 421.6 73.4 420.6 72.9 422.5 72.4 422.3 71.9 420.9 71.4 420.1 70.9 419.4 70.4 421.2 69.9 420.9 69.4 420.3 68.9 421.3 68.4 421.7 67.9 419.5 67.4 420 66.9 419.9 66.4 419.8 65.9 420.4 65.4 421.5 64.9 420.4 64.4 421.2 63.9 420.6 63.4 421.5 62.9 421 62.4 421 61.9 421.8 61.4 423 60.9 423.6 60.4 423.3 59.9 423.8 59.4 424.2 58.9 424.4 58.4 423.8 57.9 424 57.4 424.9 56.9 423.4 56.4 423.4 55.9 424.7 55.4 423.4 54.9 423.6 54.4 422.7 53.9 422.2 53.4 423.1 52.9 421.9 52.4 421.6 51.9 421.3 51.4 420.5 50.9 423.4 50.4 421.6 49.9 420.5 49.4 420.1 48.9 420.5 48.4 420.8 47.9 419.4 47.4 419.6 46.9 418.8 46.4 418 45.9 419.4 45.4 419.2 44.9 423.5 44.4 418.4 43.9 417.5 43.4 417.7 42.9 419.2 42.4 418.9 41.9 418.1 41.4 418.3 40.9 418.9 40.4 420.3 39.9 419.9 39.4 420.7 38.9 421.3Z" fill="#0000ff"/><path d="M38.9 411L39.4 410.1 39.9 411.5 40.4 411.1 40.9 410 41.4 409.1 41.9 407.3 42.4 409.4 42.9 407.1 43.4 409.3 43.9 409.2 44.4 408 44.9 409 45.4 402.7 45.9 409.2 46.4 406.9 46.9 404.8 47.4 410.2 47.9 410.1 48.4 405.6 48.9 408.6 49.4 407.6 49.9 407.1 50.4 408.1 50.9 406.9 51.4 407.2 51.9 407 52.4 409.3 52.9 406.7 53.4 408.9 53.9 409.2 54.4 408 54.9 409.4 55.4 407.9 55.9 409 56.4 407.7 56.9 408.8 57.4 408.5 57.9 404.7 58.4 405.6 58.9 409.7 59.4 409 59.9 409.8 60.4 408.3 60.9 407.2 61.4 408 61.9 409 62.4 409.1 62.9 408.4 63.4 409.2 63.9 408.4 64.4 405.1 64.9 408.9 65.4 408.9 65.9 408.4 66.4 403.5 66.9 403.8 67.4 407.8 67.9 406.7 68.4 409.2 68.9 407.2 69.4 408.2 69.9 408.2 70.4 408.5 70.9 409.1 71.4 407.3 71.9 409.9 72.4 403.9 72.9 410 73.4 410.2 73.9 409.6 74.4 405.7 74.9 409.3 75.4 405.1 75.9 409.2 76.4 407.9 76.9 408.5 77.4 408.3 77.9 409.4 78.4 409 78.9 407.7 79.4 409.1 79.9 407.9 80.4 407.8 80.9 405.3 81.4 406.1 81.9 408.1 82.4 404.6 82.9 409.9 83.4 410.3 83.9 407.5 84.4 406.2 84.9 410.3 85.4 408.7 85.9 409.6 86.4 409.8 86.9 408.6 87.4 408.1 87.9 408.9 88.4 408.3 88.9 409 89.4 405.6 89.9 407.9 90.4 406.6 90.9 408.7 91.4 407.9 91.9 407.9 92.4 402.7 92.9 408.4 93.4 405.3 93.9 409.8 94.4 408.1 94.9 409 95.4 407.6 95.9 407.6 96.4 401.1 96.9 401.1 97.4 409 97.9 409.2 98.4 407.6 98.9 409.3 99.4 408.6 99.9 408.6 100.4 408.9 100.9 405.9 101.4 408.5 101.9 408.8 102.4 404.7 102.9 409.2 103.4 410.1 103.9 409.7 104.4 401 104.9 409.7 105.4 408.6 105.9 408.9 106.4 407.4 106.9 407.7 107.4 409.9 107.9 409 108.4 408.1 108.9 409 109.4 407 109.9 405.7 110.4 409.7 110.9 407.9 111.4 408.6 111.9 408.4 112.4 407.5 112.9 405.3 113.4 408 113.9 406.5 114.4 404.6 114.9 407.9 115.4 408.6 115.9 406.8 116.4 409.3 116.9 410.2 117.4 409.7 117.9 409.7 118.4 409.2 118.9 408.8 119.4 408.2 119.9 410.4 120.4 410.3 120.9 409.8 121.4 408.2 121.9 409.1 122.4 409.6 122.9 408.2 123.4 408.7 123.9 408.1 124.4 408.4 124.9 409.1 125.4 408.7 125.9 408.6 126.4 407.9 126.9 402.7 127.4 405.4 127.9 407.1 128.4 409.7 128.9 408 129.4 408.2 129.9 408.8 130.4 405.4 130.9 409.4 131.4 409.5 131.9 408.7 132.4 408.1 132.9 407.6 133.4 408.5 133.9 409.2 134.4 402.9 134.9 408.1 135.4 408.6 135.9 405 136.4 408 136.9 408.5 137.4 406.9 137.9 410.1 138.4 409.8 138.9 406.9 139.4 409.1 139.9 406.2 140.4 409.5 140.9 409.2 141.4 409.7 141.9 405.1 142.4 409.7 142.9 406.5 143.4 400.6 143.9 409 144.4 407.9 144.9 409.6 145.4 408.3 145.9 407.8 146.4 407.8 146.9 408.8 147.4 408.2 147.9 408.2 148.4 409.4 148.9 409.1 149.4 407.7 149.9 404.9 150.4 407.9 150.9 408.2 151.4 408.3 151.9 407.7 152.4 404.8 152.9 402.7 153.4 408.2 153.9 408.5 154.4 408.5 154.9 409.2 155.4 408.9 155.9 409.3 156.4 408.6 156.9 408.6 157.4 409.5 157.9 410 158.4 409.5 158.9 410.9 159.4 410.7 159.9 410.1 160.4 408.7 160.9 405.7 161.4 408 161.9 403.2 162.4 408.1 162.9 403.5 163.4 408.1 163.9 409.5 164.4 409.7 164.9 409.9 165.4 409.9 165.9 408.7 166.4 406.8 166.9 410.1 167.4 409.2 167.9 402 168.4 407.1 168.9 410.5 169.4 409.6 169.9 410.6 170.4 410.6 170.9 409.7 171.4 409.3 171.9 409.4 172.4 408.4 172.9 408.3 173.4 408.4 173.9 405 174.4 407.7 174.9 406.8 175.4 405.7 175.9 406.4 176.4 408.5 176.9 408.9 177.4 409.4 177.9 408.1 177.9 420.2 177.4 422.2 176.9 420.5 176.4 420.8 175.9 423.1 175.4 422 174.9 421.3 174.4 421.8 173.9 421.3 173.4 421.5 172.9 420.4 172.4 421.7 171.9 419.4 171.4 419.2 170.9 419 170.4 421.4 169.9 419 169.4 419.6 168.9 419.7 168.4 421.8 167.9 419.8 167.4 421 166.9 420 166.4 419.6 165.9 420.8 165.4 419.3 164.9 424.9 164.4 420.5 163.9 420.7 163.4 420.3 162.9 422.7 162.4 421.7 161.9 425.8 161.4 422.4 160.9 422.3 160.4 419.6 159.9 420.5 159.4 420.4 158.9 420.4 158.4 418.5 157.9 418.7 157.4 419.1 156.9 419.7 156.4 420 155.9 420.2 155.4 420.8 154.9 420.8 154.4 426.5 153.9 421.1 153.4 421.8 152.9 420.9 152.4 421.3 151.9 421.2 151.4 422.7 150.9 420.8 150.4 424.8 149.9 421.5 149.4 423.1 148.9 420.9 148.4 423.3 147.9 420.9 147.4 421.1 146.9 422.9 146.4 421.9 145.9 423.2 145.4 419.6 144.9 420.3 144.4 420.6 143.9 422.9 143.4 421.8 142.9 421.2 142.4 422.7 141.9 421 141.4 420.9 140.9 421.8 140.4 426.9 139.9 419.7 139.4 419.5 138.9 421 138.4 422.2 137.9 420.3 137.4 421.1 136.9 420.7 136.4 420.5 135.9 422.5 135.4 420.5 134.9 420.9 134.4 420.7 133.9 422.6 133.4 421.7 132.9 421.2 132.4 420.3 131.9 422.4 131.4 420.7 130.9 419.9 130.4 420.1 129.9 420.3 129.4 421 128.9 424.2 128.4 420.1 127.9 421.3 127.4 420.1 126.9 420.3 126.4 420.4 125.9 420.7 125.4 423.5 124.9 420.9 124.4 421.7 123.9 423.1 123.4 420.3 122.9 421.5 122.4 420.4 121.9 423.1 121.4 421.5 120.9 420.1 120.4 419.8 119.9 418.9 119.4 422.5 118.9 418.6 118.4 419 117.9 420 117.4 419.1 116.9 419.7 116.4 423.8 115.9 421.5 115.4 423 114.9 420.7 114.4 420.8 113.9 424 113.4 424.1 112.9 420.6 112.4 420.6 111.9 420.8 111.4 421.8 110.9 425.1 110.4 419.9 109.9 419.9 109.4 419.8 108.9 419.7 108.4 420.3 107.9 419.8 107.4 419.9 106.9 423.2 106.4 422.4 105.9 419.8 105.4 420.1 104.9 421.3 104.4 424.1 103.9 420.2 103.4 420 102.9 419.5 102.4 420.3 101.9 420.1 101.4 420.3 100.9 420.2 100.4 421.4 99.9 423.1 99.4 421.6 98.9 429.5 98.4 425 97.9 421.4 97.4 423.2 96.9 419.5 96.4 421.6 95.9 420.4 95.4 419.7 94.9 419.7 94.4 419.6 93.9 422.5 93.4 419.6 92.9 421.7 92.4 421.2 91.9 420 91.4 424.9 90.9 420.7 90.4 421.2 89.9 420.9 89.4 421.3 88.9 421.1 88.4 420.6 87.9 420.8 87.4 420.4 86.9 420.1 86.4 420.1 85.9 420 85.4 419.3 84.9 420.2 84.4 419.1 83.9 419.5 83.4 419.3 82.9 420.4 82.4 421 81.9 419.9 81.4 419.6 80.9 420.7 80.4 423.4 79.9 420.3 79.4 420.6 78.9 421.1 78.4 420.7 77.9 421 77.4 420.4 76.9 420.1 76.4 427.9 75.9 420.1 75.4 420.6 74.9 423.9 74.4 422.6 73.9 420.2 73.4 420.5 72.9 419.4 72.4 422.6 71.9 421.3 71.4 420.1 70.9 420.6 70.4 420.9 69.9 421.8 69.4 420.6 68.9 422.6 68.4 426.2 67.9 421.5 67.4 420.9 66.9 420.8 66.4 420.8 65.9 422.9 65.4 423.9 64.9 420.7 64.4 420.6 63.9 420.9 63.4 424.2 62.9 424.6 62.4 421 61.9 421.7 61.4 424.4 60.9 420.7 60.4 419.6 59.9 421.6 59.4 422.7 58.9 425.3 58.4 422.3 57.9 419.7 57.4 421.2 56.9 422.4 56.4 422.8 55.9 421.2 55.4 423.5 54.9 419.7 54.4 422.2 53.9 419.6 53.4 421.3 52.9 421.6 52.4 420.1 51.9 421 51.4 423.2 50.9 421.8 50.4 421.3 49.9 421.4 49.4 425.6 48.9 419.9 48.4 425.9 47.9 419.1 47.4 422.8 46.9 422.2 46.4 419.8 45.9 420.6 45.4 421.4 44.9 421.3 44.4 420.9 43.9 420.8 43.4 423.2 42.9 423.1 42.4 420.1 41.9 422.8 41.4 421 40.9 419.1 40.4 419.4 39.9 418.8 39.4 418.5 38.9 417.7Z" fill="#ff0000"/></g><rect x="38.9" y="255.4" width="145.5" height="182.1" fill="none" stroke="#999" stroke-width="1.25"/><path d="M38.9 437.5v-1.5M38.9 255.4v1.5M75.3 437.5v-1.5M75.3 255.4v1.5M111.7 437.5v-1.5M111.7 255.4v1.5M148 437.5v-1.5M148 255.4v1.5M184.4 437.5v-1.5M184.4 255.4v1.5M38.9 437.5h1.5M184.4 437.5h-1.5M38.9 414.7h1.5M184.4 414.7h-1.5M38.9 392h1.5M184.4 392h-1.5M38.9 369.2h1.5M184.4 369.2h-1.5M38.9 346.4h1.5M184.4 346.4h-1.5M38.9 323.7h1.5M184.4 323.7h-1.5M38.9 300.9h1.5M184.4 300.9h-1.5M38.9 278.2h1.5M184.4 278.2h-1.5M38.9 255.4h1.5M184.4 255.4h-1.5" stroke="#555" stroke-width="0.7" fill="none"/><g font-size="9.8" fill="#222" stroke="#222" stroke-width="0.3"><text x="38.9" y="450.3" text-anchor="middle">0</text><text x="75.3" y="450.3" text-anchor="middle">1</text><text x="111.7" y="450.3" text-anchor="middle">2</text><text x="148" y="450.3" text-anchor="middle">3</text><text x="184.4" y="450.3" text-anchor="middle">4</text><text x="35.2" y="441.5" text-anchor="end">24</text><text x="35.2" y="418.8" text-anchor="end">25</text><text x="35.2" y="396" text-anchor="end">26</text><text x="35.2" y="373.2" text-anchor="end">27</text><text x="35.2" y="350.5" text-anchor="end">28</text><text x="35.2" y="327.7" text-anchor="end">29</text><text x="35.2" y="304.9" text-anchor="end">30</text><text x="35.2" y="282.2" text-anchor="end">31</text><text x="35.2" y="259.4" text-anchor="end">32</text></g><text x="111.7" y="461" text-anchor="middle" font-size="10.78" fill="#1a1a1a" stroke="#1a1a1a" stroke-width="0.25">Time(h)</text><text transform="translate(21.8 346.4) rotate(-90)" text-anchor="middle" font-size="10.78" fill="#1a1a1a" stroke="#1a1a1a" stroke-width="0.22">x-axis CMG(dps)</text></g>
<g><path d="M251.5 255.4V437.2M287.9 255.4V437.2M324.2 255.4V437.2M215.2 417H360.5M215.2 396.8H360.5M215.2 376.6H360.5M215.2 356.4H360.5M215.2 336.2H360.5M215.2 316H360.5M215.2 295.8H360.5M215.2 275.6H360.5" stroke="#e3e3e3" stroke-width="0.8" fill="none"/><g clip-path="url(#cb2)"><path d="M230.2 414.6L230.7 414.7 231.2 413.4 231.7 412.5 232.2 410.7 232.7 407 233.2 406.9 233.7 405.2 234.2 404 234.7 403.1 235.2 401.2 235.7 401.6 236.2 399.4 236.7 398.4 237.2 399 237.7 398.9 238.2 397.5 238.7 394.4 239.2 397.6 239.7 396 240.2 395.2 240.7 395.3 241.2 393.1 241.7 393.3 242.2 392.8 242.7 392.1 243.2 393.5 243.7 391.6 244.2 388.9 244.7 391.4 245.2 389.9 245.7 390.5 246.2 387.3 246.7 387.7 247.2 387.6 247.7 384.9 248.2 384.8 248.7 384.2 249.2 381.2 249.7 380.7 250.2 380.5 250.7 379.1 251.2 378 251.7 376.8 252.2 373.1 252.7 369.4 253.2 372 253.7 370.2 254.2 369.4 254.7 369 255.2 363.3 255.7 362 256.2 365.5 256.7 363.5 257.2 361.8 257.7 359.2 258.2 361 258.7 359.9 259.2 356.8 259.7 356 260.2 353.8 260.7 354.2 261.2 353.5 261.7 352.6 262.2 350.2 262.7 348.7 263.2 347.4 263.7 347.5 264.2 345.9 264.7 343.5 265.2 342.6 265.7 341.7 266.2 340.4 266.7 338.6 267.2 337.1 267.7 337.9 268.2 335.5 268.7 335.4 269.2 331.6 269.7 330.8 270.2 329.4 270.7 330.1 271.2 325.4 271.7 325.7 272.2 326.2 272.7 326.2 273.2 324.1 273.7 324.4 274.2 323.1 274.7 320.1 275.2 320.8 275.7 319.4 276.2 313.9 276.7 314.7 277.2 315.3 277.7 314.8 278.2 313.6 278.7 310 279.2 310.8 279.7 309.1 280.2 304.9 280.7 307 281.2 308.2 281.7 307 282.2 305.5 282.7 304.7 283.2 303.5 283.7 302.5 284.2 302 284.7 301.3 285.2 300.4 285.7 298.5 286.2 296.6 286.7 294.8 287.2 293.1 287.7 296.9 288.2 295.5 288.7 294.7 289.2 294.7 289.7 292.2 290.2 291.4 290.7 289.5 291.2 290.4 291.7 290.3 292.2 288.3 292.7 288.9 293.2 287.6 293.7 286.4 294.2 286 294.7 283.1 295.2 284.7 295.7 284.7 296.2 282.4 296.7 279.7 297.2 281.6 297.7 280.7 298.2 278.6 298.7 280.1 299.2 279.6 299.7 278.5 300.2 278.1 300.7 272.9 301.2 276 301.7 274.6 302.2 270.5 302.7 273.7 303.2 270.4 303.7 272.4 304.2 272.5 304.7 270 305.2 271.3 305.7 270.6 306.2 270.4 306.7 269.7 307.2 269.9 307.7 267.6 308.2 268.7 308.7 268.6 309.2 267.1 309.7 268.3 310.2 267 310.7 267 311.2 264.9 311.7 267 312.2 262.9 312.7 264.3 313.2 265.6 313.7 266.2 314.2 265.8 314.7 264.3 315.2 263 315.7 264.6 316.2 261.6 316.7 262.7 317.2 262.1 317.7 262.3 318.2 260.3 318.7 262.2 319.2 258.5 319.7 263.4 320.2 260.1 320.7 263.3 321.2 262.5 321.7 260.7 322.2 261.7 322.7 261.6 323.2 260.6 323.7 260.9 324.2 261.4 324.7 262.3 325.2 261.6 325.7 262.6 326.2 260.6 326.7 259.2 327.2 261.1 327.7 261.2 328.2 262.9 328.7 261.4 329.2 261.9 329.7 261.8 330.2 262.2 330.7 262.1 331.2 259.7 331.7 261.5 332.2 261.2 332.7 261.4 333.2 261.4 333.7 259.4 334.2 261.5 334.7 261.6 335.2 262.5 335.7 261.2 336.2 258.6 336.7 262.4 337.2 262.7 337.7 258 338.2 258.5 338.7 262.4 339.2 260.7 339.7 260.7 340.2 258.3 340.7 261.3 341.2 260.3 341.7 260.3 342.2 261.3 342.7 260.9 343.2 258.9 343.7 261.7 344.2 261.2 344.7 260.9 345.2 260.6 345.7 260.1 346.2 262.2 346.7 261.2 347.2 260.6 347.7 261.8 348.2 261.8 348.7 258.6 349.2 261 349.7 261.4 350.2 261 350.7 262.2 351.2 262.2 351.7 262.4 352.2 261.2 352.7 257.9 352.7 271.5 352.2 275 351.7 272.2 351.2 271.7 350.7 271.7 350.2 276.5 349.7 272.2 349.2 273.7 348.7 272.8 348.2 272.6 347.7 272 347.2 275.5 346.7 272.1 346.2 272.7 345.7 271.6 345.2 274.3 344.7 274.7 344.2 275.1 343.7 272.8 343.2 274 342.7 272.5 342.2 274.2 341.7 274.8 341.2 273.1 340.7 272.7 340.2 273.7 339.7 271.9 339.2 272.6 338.7 272.4 338.2 271.2 337.7 270.9 337.2 275.6 336.7 273.3 336.2 273.5 335.7 271.2 335.2 272.3 334.7 272.8 334.2 271.7 333.7 271.7 333.2 272.2 332.7 273.3 332.2 271.8 331.7 271.6 331.2 273.5 330.7 271.5 330.2 271.8 329.7 272.5 329.2 271.3 328.7 274.8 328.2 271.7 327.7 271.4 327.2 274.7 326.7 271.3 326.2 272.2 325.7 271.9 325.2 275.8 324.7 273.3 324.2 273.8 323.7 274.9 323.2 275.3 322.7 278.3 322.2 277.4 321.7 273.6 321.2 276.8 320.7 273.6 320.2 275.1 319.7 276.4 319.2 276.7 318.7 275.2 318.2 278.3 317.7 277.1 317.2 278.8 316.7 276.2 316.2 276 315.7 275.6 315.2 277.8 314.7 276.6 314.2 278.2 313.7 276.9 313.2 276.7 312.7 276.2 312.2 276.7 311.7 278.9 311.2 278 310.7 278.3 310.2 280.5 309.7 278.8 309.2 284 308.7 283.5 308.2 280.5 307.7 281.1 307.2 281 306.7 283.6 306.2 283.4 305.7 284.6 305.2 282.8 304.7 288.2 304.2 284.3 303.7 287.8 303.2 285.6 302.7 286.9 302.2 288.5 301.7 288.4 301.2 288.6 300.7 289.7 300.2 288.4 299.7 289.8 299.2 290.7 298.7 290.4 298.2 291.8 297.7 296.3 297.2 292.8 296.7 297.4 296.2 296.1 295.7 294.9 295.2 295.8 294.7 298.1 294.2 298 293.7 297.6 293.2 298.8 292.7 299.3 292.2 300.5 291.7 302.7 291.2 302.5 290.7 304.8 290.2 303.4 289.7 307 289.2 305.8 288.7 307.3 288.2 307.3 287.7 309.3 287.2 311.2 286.7 309.6 286.2 312.7 285.7 311.9 285.2 313.8 284.7 316.2 284.2 315.4 283.7 318.2 283.2 317.1 282.7 318.2 282.2 319.3 281.7 319 281.2 320.4 280.7 321.3 280.2 325.9 279.7 324.3 279.2 324.7 278.7 330.4 278.2 327.8 277.7 328.8 277.2 331.9 276.7 332 276.2 331.1 275.7 330.6 275.2 331.5 274.7 335.9 274.2 333.8 273.7 335.4 273.2 337.7 272.7 339.1 272.2 340.7 271.7 341.6 271.2 341.6 270.7 343 270.2 344.5 269.7 344.5 269.2 346.5 268.7 349.3 268.2 347.8 267.7 349.8 267.2 351.6 266.7 352.2 266.2 353.5 265.7 355 265.2 360.1 264.7 357.7 264.2 358.2 263.7 360.1 263.2 360.4 262.7 364.1 262.2 365.2 261.7 363.2 261.2 364.3 260.7 365.7 260.2 366.9 259.7 370.2 259.2 369.9 258.7 373.5 258.2 371.4 257.7 374.5 257.2 375.4 256.7 376.4 256.2 380.1 255.7 377.4 255.2 378.2 254.7 379.1 254.2 380.6 253.7 381.7 253.2 383.9 252.7 384.3 252.2 387.1 251.7 387.4 251.2 388.9 250.7 390.9 250.2 391.4 249.7 393.2 249.2 398.5 248.7 395.2 248.2 397.8 247.7 399.7 247.2 399.6 246.7 400.2 246.2 403 245.7 403.3 245.2 403 244.7 403.4 244.2 404.2 243.7 404.6 243.2 405.9 242.7 409.3 242.2 408.9 241.7 409 241.2 408.4 240.7 409.5 240.2 408.2 239.7 407.9 239.2 409.6 238.7 409.4 238.2 409.4 237.7 408.8 237.2 413.4 236.7 410.1 236.2 411.3 235.7 411.2 235.2 415.6 234.7 412.7 234.2 416.7 233.7 417.6 233.2 415.5 232.7 416.8 232.2 417.2 231.7 417.7 231.2 418.9 230.7 418.2 230.2 419.4Z" fill="#000"/><path d="M215.2 412.4L215.7 411.9 216.2 412.2 216.7 411.1 217.2 412.5 217.7 412.4 218.2 411.6 218.7 411.6 219.2 413.4 219.7 412.9 220.2 412.9 220.7 412.9 221.2 411.4 221.7 412.4 222.2 412.6 222.7 411.1 223.2 411.8 223.7 411.4 224.2 411.6 224.7 410.9 225.2 408.1 225.7 411.5 226.2 409.8 226.7 411.1 227.2 408.8 227.7 406.6 228.2 407.8 228.7 409.8 229.2 406.9 229.7 409.5 230.2 410.3 230.7 410.2 231.2 408.2 231.7 409.2 232.2 410.8 232.7 410.3 233.2 410.7 233.7 410.4 234.2 411.6 234.7 411.7 235.2 412.3 235.7 411.8 236.2 412.4 236.7 409.6 237.2 410 237.7 412.7 238.2 412.9 238.7 412.9 239.2 410.8 239.7 410.2 240.2 411.5 240.7 411.2 241.2 411 241.7 410.4 242.2 411.1 242.7 411.3 243.2 410.9 243.7 410.8 244.2 408.1 244.7 406.1 245.2 410 245.7 410.4 246.2 410.5 246.7 408.8 247.2 409.4 247.7 408 248.2 407.8 248.7 409.4 249.2 407.1 249.7 408.5 250.2 409.2 250.7 408.9 251.2 409.5 251.7 409.2 252.2 408.6 252.7 408.6 253.2 409.1 253.7 408.4 254.2 408.4 254.7 408.5 255.2 408.5 255.7 409.5 256.2 409.7 256.7 406.2 257.2 410.2 257.7 410.1 258.2 409.4 258.7 410.7 259.2 410.5 259.7 409.8 260.2 411.1 260.7 410.4 261.2 410.2 261.7 408.3 262.2 410.6 262.7 410.4 263.2 410.4 263.7 410.4 264.2 410.3 264.7 410.3 265.2 407.9 265.7 408.9 266.2 409.4 266.7 409.6 267.2 408.8 267.7 409.3 268.2 406.9 268.7 411.6 269.2 412 269.7 411.6 270.2 412.2 270.7 412.1 271.2 410.7 271.7 411.4 272.2 412.2 272.7 412.4 273.2 413 273.7 412.9 274.2 412.5 274.7 409.8 275.2 412.1 275.7 413.5 276.2 413.5 276.7 412.3 277.2 412.2 277.7 409.8 278.2 411.7 278.7 410.5 279.2 411.5 279.7 411.5 280.2 412.3 280.7 412.6 281.2 406.4 281.7 411.7 282.2 412.5 282.7 411.1 283.2 412.7 283.7 412.7 284.2 410.6 284.7 412 285.2 411.5 285.7 411.5 286.2 404.9 286.7 408.8 287.2 409.3 287.7 408.4 288.2 409.8 288.7 409.5 289.2 410.5 289.7 410 290.2 409.9 290.7 410 291.2 410.1 291.7 410.4 292.2 410.6 292.7 407.7 293.2 408.4 293.7 411.2 294.2 410.2 294.7 411.3 295.2 411 295.7 411.9 296.2 409.9 296.7 411.7 297.2 411.2 297.7 411.9 298.2 413.1 298.7 413.4 299.2 412.9 299.7 413.3 300.2 414.3 300.7 411.6 301.2 413.5 301.7 414.5 302.2 414.6 302.7 414 303.2 410.7 303.7 414 304.2 413.3 304.7 413.5 305.2 411.9 305.7 412 306.2 412.7 306.7 412.7 307.2 410.7 307.7 412.2 308.2 412.7 308.7 411.1 309.2 412.3 309.7 412.3 310.2 411.7 310.7 411.5 311.2 410.5 311.7 410.7 312.2 409.6 312.7 409.8 313.2 409.8 313.7 407.8 314.2 407.2 314.7 407.9 315.2 410.2 315.7 409.8 316.2 411.3 316.7 411.6 317.2 411.8 317.7 411.8 318.2 412.5 318.7 412.8 319.2 411.4 319.7 412.8 320.2 410 320.7 412.3 321.2 411.4 321.7 409.9 322.2 411.3 322.7 410.7 323.2 411.8 323.7 412.2 324.2 412.9 324.7 413.2 325.2 413 325.7 413.3 326.2 413.7 326.7 413.8 327.2 413.6 327.7 413.6 328.2 412.5 328.7 413.6 329.2 413 329.7 414.4 330.2 414 330.7 414.3 331.2 415 331.7 414.6 332.2 414.2 332.7 413.2 333.2 410.1 333.7 410.6 334.2 411.2 334.7 411.2 335.2 410.8 335.7 409.2 336.2 410.4 336.7 409.9 337.2 410.1 337.7 407.2 338.2 409.9 338.7 408.9 339.2 410.7 339.7 408.8 340.2 409.7 340.7 411.2 341.2 411.1 341.7 410.8 342.2 409.1 342.7 411.6 343.2 410.9 343.7 411.6 344.2 411 344.7 411 345.2 408.5 345.7 410.6 346.2 410.5 346.7 410.3 347.2 408.9 347.7 409 348.2 408.9 348.7 409.7 349.2 410.7 349.7 408 350.2 411.3 350.7 409.8 351.2 411.1 351.7 411.6 352.2 411.6 352.7 411.2 352.7 422.3 352.2 421.7 351.7 420.7 351.2 420.7 350.7 422.1 350.2 420.8 349.7 425 349.2 421.7 348.7 421.4 348.2 422.8 347.7 422 347.2 423 346.7 422 346.2 422.2 345.7 423.5 345.2 422.5 344.7 422 344.2 421.6 343.7 421 343.2 421 342.7 421 342.2 421.2 341.7 420.8 341.2 426.4 340.7 419.4 340.2 419.2 339.7 419 339.2 419.7 338.7 419 338.2 419.5 337.7 420.5 337.2 420.1 336.7 420.5 336.2 421.5 335.7 421.9 335.2 423.1 334.7 421.8 334.2 422.8 333.7 422.6 333.2 422.4 332.7 422.6 332.2 422.6 331.7 422.2 331.2 422.9 330.7 422.5 330.2 422.6 329.7 424.1 329.2 422.5 328.7 423.2 328.2 423.4 327.7 422.2 327.2 422.3 326.7 421.1 326.2 421.5 325.7 421.5 325.2 420.3 324.7 420.7 324.2 420.9 323.7 422.7 323.2 421.9 322.7 422.1 322.2 421.8 321.7 422.8 321.2 421.8 320.7 422.5 320.2 424 319.7 421.9 319.2 420.5 318.7 420.6 318.2 422.9 317.7 421.4 317.2 420.6 316.7 421.7 316.2 420.4 315.7 422.4 315.2 421.1 314.7 420.6 314.2 423.8 313.7 422 313.2 424.4 312.7 422.3 312.2 422.7 311.7 422.3 311.2 421.2 310.7 421.3 310.2 421.7 309.7 422 309.2 422.4 308.7 423.4 308.2 423.4 307.7 425.3 307.2 424 306.7 424.1 306.2 425.3 305.7 424.4 305.2 424 304.7 423.7 304.2 423.9 303.7 424 303.2 424.2 302.7 423.4 302.2 425.4 301.7 423.9 301.2 424 300.7 423.7 300.2 423.5 299.7 425.3 299.2 424.1 298.7 425.3 298.2 423.8 297.7 424.6 297.2 425.3 296.7 424.5 296.2 424.4 295.7 423.3 295.2 423.3 294.7 422.4 294.2 423.1 293.7 424.4 293.2 423.8 292.7 421.8 292.2 421.6 291.7 421 291.2 421.4 290.7 424.8 290.2 421.5 289.7 420.1 289.2 419.8 288.7 421.6 288.2 422.1 287.7 420.8 287.2 422.6 286.7 420.7 286.2 422.5 285.7 422.2 285.2 420.9 284.7 422.3 284.2 422.8 283.7 422.7 283.2 423.2 282.7 421.5 282.2 422.2 281.7 423.4 281.2 422.5 280.7 423 280.2 422.1 279.7 422.5 279.2 422.6 278.7 424.8 278.2 422.6 277.7 424.8 277.2 421.6 276.7 421.1 276.2 420.8 275.7 420.5 275.2 423 274.7 423.9 274.2 421.9 273.7 423.1 273.2 421.7 272.7 421.4 272.2 421.6 271.7 421.9 271.2 422.6 270.7 423.5 270.2 424.4 269.7 422.2 269.2 422.2 268.7 422.5 268.2 422.9 267.7 422.8 267.2 422.3 266.7 421.4 266.2 420.8 265.7 420.6 265.2 421 264.7 421 264.2 420.4 263.7 419.8 263.2 420.8 262.7 421.7 262.2 421.7 261.7 420 261.2 420.9 260.7 419.6 260.2 419.6 259.7 425.5 259.2 420.1 258.7 419 258.2 420.6 257.7 420 257.2 419.3 256.7 419.7 256.2 424.3 255.7 422.4 255.2 421 254.7 420.5 254.2 420.3 253.7 419.2 253.2 420.5 252.7 419.7 252.2 419.5 251.7 418.7 251.2 418.9 250.7 418.3 250.2 418.6 249.7 418.4 249.2 418.6 248.7 419.6 248.2 418.9 247.7 419 247.2 419.9 246.7 418.7 246.2 419.2 245.7 419.4 245.2 420.4 244.7 419.4 244.2 419.7 243.7 422.5 243.2 421 242.7 421.3 242.2 421.4 241.7 421.7 241.2 421.8 240.7 422.6 240.2 423.9 239.7 424.6 239.2 421.8 238.7 424.7 238.2 423.5 237.7 421.9 237.2 424.5 236.7 423.8 236.2 422.6 235.7 423.2 235.2 422.6 234.7 422.1 234.2 421.9 233.7 423.7 233.2 424.2 232.7 420.1 232.2 419.7 231.7 420.1 231.2 420.4 230.7 420.5 230.2 420.4 229.7 421.2 229.2 421.8 228.7 422.4 228.2 422.8 227.7 422.3 227.2 425.9 226.7 422.6 226.2 425.2 225.7 422.5 225.2 423.6 224.7 422.7 224.2 423 223.7 423.9 223.2 422.7 222.7 422.6 222.2 422.7 221.7 422.4 221.2 422.1 220.7 422.3 220.2 422.6 219.7 421.9 219.2 422.5 218.7 425.1 218.2 422.3 217.7 422.9 217.2 424.9 216.7 423.9 216.2 422.5 215.7 422.6 215.2 423.2Z" fill="#00ff00"/><path d="M215.2 412.3L215.7 411.8 216.2 410.2 216.7 408.1 217.2 411.9 217.7 412.4 218.2 411.9 218.7 412.1 219.2 412.6 219.7 412.5 220.2 412.3 220.7 412 221.2 412.9 221.7 412.5 222.2 411.9 222.7 413.1 223.2 411.9 223.7 412.6 224.2 413 224.7 408.8 225.2 411.3 225.7 413 226.2 412.9 226.7 413.5 227.2 413.4 227.7 412.8 228.2 411.1 228.7 410.7 229.2 409.4 229.7 412.3 230.2 410 230.7 411.8 231.2 412.3 231.7 410.7 232.2 411.4 232.7 410.9 233.2 409.4 233.7 410 234.2 411 234.7 411.5 235.2 411.4 235.7 410.8 236.2 412.3 236.7 411.5 237.2 412.2 237.7 412.7 238.2 411.2 238.7 411.5 239.2 411.7 239.7 410.9 240.2 411 240.7 411.9 241.2 410.9 241.7 411.4 242.2 409.3 242.7 411.1 243.2 409.9 243.7 411.3 244.2 410 244.7 411.3 245.2 412.2 245.7 411.8 246.2 412.8 246.7 412.7 247.2 413.6 247.7 412.5 248.2 409.7 248.7 414.6 249.2 414.1 249.7 412.8 250.2 412.9 250.7 413.1 251.2 410.9 251.7 413.2 252.2 413.8 252.7 412.2 253.2 412.5 253.7 412.1 254.2 413.9 254.7 412.6 255.2 413.8 255.7 414.5 256.2 415 256.7 413.9 257.2 413.7 257.7 413.9 258.2 413.9 258.7 413.4 259.2 412.7 259.7 412.6 260.2 412.2 260.7 409.6 261.2 412.5 261.7 410.4 262.2 412.4 262.7 410 263.2 411.6 263.7 410.5 264.2 411.3 264.7 410 265.2 410.6 265.7 409 266.2 410.3 266.7 410.5 267.2 411.6 267.7 412.1 268.2 412.7 268.7 412.1 269.2 412.5 269.7 413 270.2 413.1 270.7 412 271.2 412.5 271.7 412.5 272.2 411.5 272.7 411.9 273.2 410.6 273.7 408.9 274.2 409 274.7 409.8 275.2 412.6 275.7 412.3 276.2 411 276.7 412.4 277.2 412.2 277.7 408.7 278.2 412.3 278.7 410 279.2 411.5 279.7 411 280.2 409.2 280.7 409.3 281.2 409.5 281.7 410.9 282.2 410.3 282.7 409.4 283.2 410.2 283.7 410.9 284.2 411.3 284.7 411.9 285.2 410.5 285.7 412.1 286.2 409.6 286.7 410.6 287.2 409.9 287.7 411.1 288.2 411.2 288.7 411.4 289.2 410.8 289.7 410.5 290.2 411.4 290.7 409.1 291.2 412.2 291.7 411.2 292.2 412 292.7 411.2 293.2 412.3 293.7 412.5 294.2 412.5 294.7 412.9 295.2 411.1 295.7 413.4 296.2 413.1 296.7 412.1 297.2 412.4 297.7 413.5 298.2 412.7 298.7 411.5 299.2 411.3 299.7 410.5 300.2 412.3 300.7 411.4 301.2 412.4 301.7 409.6 302.2 411 302.7 411.9 303.2 409.7 303.7 409.3 304.2 411.3 304.7 411.3 305.2 411.6 305.7 411.6 306.2 410.3 306.7 408.2 307.2 410.8 307.7 409.8 308.2 409.4 308.7 410.3 309.2 407.8 309.7 410.2 310.2 408.9 310.7 410.2 311.2 410.3 311.7 409.5 312.2 411.1 312.7 411.1 313.2 411.5 313.7 411.2 314.2 409.6 314.7 407.8 315.2 411.5 315.7 413 316.2 411.6 316.7 413.4 317.2 413.4 317.7 411 318.2 412.3 318.7 411 319.2 409.3 319.7 411.2 320.2 410.8 320.7 410.5 321.2 410.6 321.7 410.6 322.2 411 322.7 411.3 323.2 411.5 323.7 411.9 324.2 412.3 324.7 412.4 325.2 412.1 325.7 411.1 326.2 412.8 326.7 411.7 327.2 410 327.7 411.4 328.2 413.4 328.7 413.4 329.2 413.4 329.7 412.8 330.2 411.5 330.7 411.9 331.2 411.7 331.7 413.3 332.2 413.1 332.7 414.1 333.2 413.2 333.7 411.5 334.2 411 334.7 413 335.2 413 335.7 413.1 336.2 413.4 336.7 411.7 337.2 413 337.7 411.3 338.2 412.3 338.7 411.8 339.2 412.3 339.7 412.5 340.2 409.9 340.7 412.8 341.2 412.4 341.7 411.7 342.2 412.6 342.7 412 343.2 412.9 343.7 412.5 344.2 409.2 344.7 412.5 345.2 411.4 345.7 412.2 346.2 412.4 346.7 413 347.2 411.4 347.7 410.6 348.2 410.8 348.7 413 349.2 412 349.7 412 350.2 411.6 350.7 412.3 351.2 412.4 351.7 411.7 352.2 412.3 352.7 412.3 352.7 421 352.2 421.4 351.7 421.7 351.2 421.2 350.7 421.2 350.2 421.3 349.7 422.3 349.2 422.6 348.7 421.7 348.2 422.2 347.7 422 347.2 426.4 346.7 424.5 346.2 422.9 345.7 423.4 345.2 423.9 344.7 423.2 344.2 423.4 343.7 422.3 343.2 423.2 342.7 421.4 342.2 421.9 341.7 421.4 341.2 420.8 340.7 420.2 340.2 420.7 339.7 420.1 339.2 423.6 338.7 420.4 338.2 420.5 337.7 420.9 337.2 420.2 336.7 420.9 336.2 420.7 335.7 421.3 335.2 422.4 334.7 421.6 334.2 421.8 333.7 421.9 333.2 421.9 332.7 424.7 332.2 422.2 331.7 422.8 331.2 423.5 330.7 422.6 330.2 423.9 329.7 422.9 329.2 424.6 328.7 422.9 328.2 422.8 327.7 423.3 327.2 422.4 326.7 422.3 326.2 424.3 325.7 421.9 325.2 421.8 324.7 422.3 324.2 421.4 323.7 421.4 323.2 422.5 322.7 420.7 322.2 420.8 321.7 422.2 321.2 422.6 320.7 424.1 320.2 423.6 319.7 423 319.2 421.7 318.7 422.9 318.2 422.6 317.7 423.3 317.2 423.4 316.7 422.2 316.2 422.7 315.7 422.6 315.2 423 314.7 422.4 314.2 422.3 313.7 422.3 313.2 422.5 312.7 421.3 312.2 421 311.7 422.4 311.2 420.2 310.7 420.5 310.2 419.9 309.7 419.6 309.2 419.9 308.7 420.1 308.2 419.4 307.7 420.7 307.2 420.7 306.7 420.1 306.2 420.9 305.7 421.7 305.2 421.6 304.7 421.2 304.2 421.6 303.7 421.7 303.2 422.1 302.7 421.8 302.2 422.2 301.7 425.5 301.2 422.2 300.7 421.4 300.2 421.8 299.7 421.5 299.2 423.7 298.7 421.8 298.2 424.1 297.7 420.8 297.2 421.3 296.7 421 296.2 420.7 295.7 422.6 295.2 425.8 294.7 422.3 294.2 422.3 293.7 423.6 293.2 422.9 292.7 422.8 292.2 421.9 291.7 422.6 291.2 422 290.7 422.3 290.2 424.3 289.7 423.7 289.2 424.8 288.7 424.8 288.2 423.7 287.7 424.5 287.2 421.3 286.7 421.1 286.2 420.7 285.7 421.1 285.2 421.7 284.7 421.6 284.2 422.2 283.7 421.2 283.2 422 282.7 421 282.2 421.2 281.7 420.8 281.2 422.4 280.7 421.2 280.2 422 279.7 421.1 279.2 421.4 278.7 421.1 278.2 421.5 277.7 425.5 277.2 421.8 276.7 421.8 276.2 422.5 275.7 424.5 275.2 426.9 274.7 423.7 274.2 423.6 273.7 424 273.2 424.8 272.7 424.1 272.2 424.1 271.7 424.9 271.2 423.3 270.7 423.7 270.2 426.4 269.7 425 269.2 424.6 268.7 422.8 268.2 422.3 267.7 422.7 267.2 422.4 266.7 422.8 266.2 423.7 265.7 422.8 265.2 422.3 264.7 422.2 264.2 422.9 263.7 422.1 263.2 423.4 262.7 422.1 262.2 422.8 261.7 422.8 261.2 423.5 260.7 423 260.2 423.9 259.7 423.9 259.2 424.3 258.7 425.7 258.2 423.5 257.7 427.2 257.2 424.6 256.7 423.4 256.2 423.6 255.7 423.6 255.2 424.3 254.7 425.7 254.2 424.4 253.7 424.6 253.2 424.3 252.7 424.6 252.2 424 251.7 426.3 251.2 428.2 250.7 426.5 250.2 422.8 249.7 423.9 249.2 422.7 248.7 424.2 248.2 422.5 247.7 424.2 247.2 423.7 246.7 421.9 246.2 421.7 245.7 421.5 245.2 423 244.7 421 244.2 420.5 243.7 419.9 243.2 419.3 242.7 419.4 242.2 422.6 241.7 419.3 241.2 419.7 240.7 419.9 240.2 419.7 239.7 419.9 239.2 422 238.7 419.8 238.2 420.2 237.7 419.8 237.2 420.2 236.7 419.5 236.2 422.3 235.7 419.5 235.2 420.6 234.7 421.1 234.2 422.8 233.7 420.7 233.2 421 232.7 421.7 232.2 421.9 231.7 425.2 231.2 421.2 230.7 422.1 230.2 424.1 229.7 423.1 229.2 423.3 228.7 424.4 228.2 423.5 227.7 425.1 227.2 424.6 226.7 424 226.2 424.7 225.7 425.6 225.2 424.7 224.7 423.4 224.2 424.4 223.7 423.2 223.2 425.9 222.7 423.2 222.2 422.5 221.7 425.6 221.2 423.5 220.7 423.8 220.2 423.5 219.7 422.6 219.2 424 218.7 422.2 218.2 423.5 217.7 423.1 217.2 424 216.7 423.5 216.2 423.8 215.7 422.5 215.2 423Z" fill="#0000ff"/><path d="M215.2 411.7L215.7 410.5 216.2 409.4 216.7 411.1 217.2 405.9 217.7 410.4 218.2 409.9 218.7 409.8 219.2 410.8 219.7 411.1 220.2 409.9 220.7 403.9 221.2 412.1 221.7 411.7 222.2 412.2 222.7 411 223.2 411.3 223.7 410.5 224.2 411.1 224.7 407.1 225.2 406.7 225.7 410.4 226.2 411.8 226.7 409.2 227.2 411.8 227.7 409.4 228.2 411.2 228.7 411 229.2 407.4 229.7 408.4 230.2 410.9 230.7 410.6 231.2 411.3 231.7 411.4 232.2 404.7 232.7 411.5 233.2 412.2 233.7 412.3 234.2 410.3 234.7 411.6 235.2 411 235.7 411.2 236.2 407.9 236.7 411 237.2 408.4 237.7 412.3 238.2 412.6 238.7 411.2 239.2 410.3 239.7 411.7 240.2 409.9 240.7 409.7 241.2 410.9 241.7 410 242.2 411.7 242.7 410.9 243.2 410.8 243.7 408.3 244.2 411.7 244.7 411.3 245.2 409.5 245.7 410.6 246.2 410.7 246.7 409.3 247.2 409 247.7 407.3 248.2 410 248.7 410.3 249.2 409.5 249.7 411 250.2 410.5 250.7 410.5 251.2 405.7 251.7 411.9 252.2 411.4 252.7 411.4 253.2 408.1 253.7 411 254.2 411.7 254.7 410.1 255.2 409.9 255.7 411.2 256.2 409.8 256.7 411.7 257.2 411.1 257.7 413.3 258.2 411 258.7 413.3 259.2 412.3 259.7 411.7 260.2 409.9 260.7 411.7 261.2 410.7 261.7 411 262.2 410.6 262.7 411.2 263.2 411.5 263.7 411.1 264.2 411.3 264.7 411.1 265.2 406.6 265.7 411.2 266.2 409.2 266.7 409.7 267.2 410.3 267.7 404.2 268.2 411.2 268.7 410.9 269.2 411.2 269.7 411.3 270.2 410.7 270.7 411.9 271.2 410.9 271.7 410.6 272.2 410.4 272.7 409.5 273.2 408.2 273.7 409.8 274.2 409.4 274.7 411.6 275.2 410.6 275.7 411.1 276.2 411.6 276.7 407.1 277.2 412.1 277.7 407.3 278.2 412.3 278.7 407.8 279.2 411.9 279.7 411.7 280.2 411.4 280.7 409.7 281.2 411.7 281.7 409.4 282.2 410.5 282.7 410.5 283.2 409.1 283.7 408 284.2 411.3 284.7 410.9 285.2 409.6 285.7 408.4 286.2 410.4 286.7 410.6 287.2 407 287.7 408.7 288.2 408.7 288.7 410.1 289.2 410.5 289.7 408.8 290.2 411.8 290.7 410.3 291.2 411.7 291.7 410.4 292.2 411.6 292.7 411.1 293.2 411.1 293.7 408.4 294.2 409.4 294.7 411.1 295.2 405.3 295.7 407.2 296.2 410 296.7 408.5 297.2 408.6 297.7 409.4 298.2 406.4 298.7 410.7 299.2 411.1 299.7 410.9 300.2 410.5 300.7 411.4 301.2 411.7 301.7 405.2 302.2 409.1 302.7 401 303.2 406.4 303.7 409 304.2 410.3 304.7 406.3 305.2 410.1 305.7 407.1 306.2 410.6 306.7 408.7 307.2 411 307.7 410 308.2 410 308.7 409.7 309.2 410.9 309.7 410.8 310.2 411.9 310.7 412.6 311.2 410.8 311.7 412.3 312.2 412.2 312.7 411.9 313.2 412.5 313.7 411.4 314.2 411.3 314.7 410.7 315.2 411.2 315.7 411.2 316.2 410.3 316.7 409.9 317.2 411.7 317.7 410.6 318.2 410.2 318.7 409.1 319.2 412 319.7 406.5 320.2 410.6 320.7 409 321.2 411.2 321.7 411.6 322.2 412.3 322.7 412 323.2 411.4 323.7 411.2 324.2 409.9 324.7 410.6 325.2 411.9 325.7 411.8 326.2 411.7 326.7 410.9 327.2 409.7 327.7 408.5 328.2 408.7 328.7 409.7 329.2 409.4 329.7 406.8 330.2 409 330.7 412 331.2 408.2 331.7 411.9 332.2 405.4 332.7 411.8 333.2 411.8 333.7 409.4 334.2 411.3 334.7 410.8 335.2 411.1 335.7 406.3 336.2 411.4 336.7 409.7 337.2 411.1 337.7 411.5 338.2 410.3 338.7 408.5 339.2 411.4 339.7 407.6 340.2 402.7 340.7 410.7 341.2 410.8 341.7 408.7 342.2 405.5 342.7 411 343.2 410.1 343.7 410.5 344.2 410.4 344.7 410.2 345.2 411.6 345.7 411.3 346.2 411.4 346.7 409.9 347.2 410.5 347.7 405.7 348.2 407.9 348.7 409.9 349.2 409.2 349.7 410.2 350.2 408 350.7 410.2 351.2 404.6 351.7 410.4 352.2 408.1 352.7 409.8 352.7 424.4 352.2 424.4 351.7 424.5 351.2 423.6 350.7 427 350.2 428 349.7 424.7 349.2 425.6 348.7 424.4 348.2 425 347.7 423.6 347.2 426.1 346.7 423.3 346.2 423.4 345.7 422.5 345.2 422.3 344.7 429.6 344.2 428 343.7 422.6 343.2 424.5 342.7 422.8 342.2 429.8 341.7 425 341.2 423.9 340.7 424.3 340.2 426.6 339.7 423.5 339.2 425.2 338.7 423.2 338.2 422.5 337.7 425.9 337.2 423.5 336.7 423.6 336.2 424.4 335.7 422.7 335.2 424 334.7 427.2 334.2 422.5 333.7 422.4 333.2 423 332.7 423.5 332.2 425.7 331.7 424.2 331.2 423.4 330.7 423.2 330.2 423.1 329.7 424 329.2 423.4 328.7 424.3 328.2 426.2 327.7 425.8 327.2 423.6 326.7 422.7 326.2 423.8 325.7 423.3 325.2 427 324.7 424.3 324.2 423.3 323.7 424.6 323.2 423 322.7 423.3 322.2 424 321.7 422.7 321.2 422.2 320.7 421.8 320.2 421.6 319.7 422.2 319.2 422.6 318.7 422.8 318.2 424.3 317.7 425 317.2 422.1 316.7 426.5 316.2 422.6 315.7 423.9 315.2 424.4 314.7 423.3 314.2 426.5 313.7 424.3 313.2 428 312.7 421.5 312.2 423.3 311.7 423.6 311.2 424.3 310.7 422.2 310.2 422.8 309.7 424.3 309.2 422.5 308.7 424 308.2 422.7 307.7 423.5 307.2 423.7 306.7 425.1 306.2 423.7 305.7 422.9 305.2 424.3 304.7 423.6 304.2 425.4 303.7 427.3 303.2 424 302.7 426.3 302.2 423.2 301.7 426 301.2 422.7 300.7 422 300.2 421.9 299.7 421.8 299.2 424.5 298.7 423 298.2 422.9 297.7 423.7 297.2 428.6 296.7 423.5 296.2 424.4 295.7 432.1 295.2 426.2 294.7 425.5 294.2 425.3 293.7 422.7 293.2 424.1 292.7 422.4 292.2 426.5 291.7 423.6 291.2 422.6 290.7 424.3 290.2 422.6 289.7 422.9 289.2 422.8 288.7 422.8 288.2 427.6 287.7 426.9 287.2 423.4 286.7 425.7 286.2 423.3 285.7 425 285.2 422.8 284.7 423.1 284.2 423 283.7 423.3 283.2 426.4 282.7 422.7 282.2 422.9 281.7 422.9 281.2 422.5 280.7 422.3 280.2 422.2 279.7 428 279.2 422.6 278.7 423.6 278.2 427.3 277.7 424.2 277.2 421.7 276.7 422.7 276.2 421.4 275.7 422.8 275.2 421.9 274.7 423.4 274.2 422.7 273.7 423.2 273.2 423.2 272.7 423.4 272.2 424.6 271.7 423.5 271.2 425.1 270.7 422.5 270.2 422.7 269.7 421.5 269.2 425 268.7 424.4 268.2 422 267.7 422.4 267.2 423.8 266.7 422.8 266.2 423.2 265.7 422.7 265.2 428.4 264.7 426 264.2 422.6 263.7 422.1 263.2 422.9 262.7 424 262.2 423 261.7 422.8 261.2 428.7 260.7 422.1 260.2 422.1 259.7 424.1 259.2 421.4 258.7 422.6 258.2 420.7 257.7 422.4 257.2 423.3 256.7 422.4 256.2 426.2 255.7 422.6 255.2 422.3 254.7 423.3 254.2 423.4 253.7 425 253.2 423.4 252.7 426.8 252.2 422.6 251.7 425.1 251.2 426.4 250.7 425.2 250.2 423.2 249.7 424.7 249.2 424.3 248.7 425.1 248.2 425.2 247.7 424.3 247.2 425.4 246.7 425.6 246.2 422.8 245.7 428.1 245.2 427.3 244.7 423.9 244.2 422.5 243.7 426 243.2 422.5 242.7 423.8 242.2 423.8 241.7 422.8 241.2 422.8 240.7 422.7 240.2 423 239.7 423.1 239.2 422.4 238.7 421.4 238.2 421.8 237.7 424.4 237.2 422.2 236.7 422.7 236.2 423 235.7 422.7 235.2 422.8 234.7 427.7 234.2 422.9 233.7 422.6 233.2 422.8 232.7 424.4 232.2 424.8 231.7 422.9 231.2 423.6 230.7 423.5 230.2 423.8 229.7 425.3 229.2 422.7 228.7 422.7 228.2 423.8 227.7 427.6 227.2 421.8 226.7 422.4 226.2 423.4 225.7 422.5 225.2 423.1 224.7 422.4 224.2 422.7 223.7 425 223.2 426.5 222.7 422.2 222.2 423.3 221.7 425.4 221.2 421.9 220.7 422.5 220.2 422.4 219.7 424.9 219.2 422.5 218.7 422.9 218.2 423.8 217.7 423.9 217.2 423.2 216.7 423.4 216.2 424.9 215.7 423.8 215.2 422.7Z" fill="#ff0000"/></g><rect x="215.2" y="255.4" width="145.3" height="181.8" fill="none" stroke="#999" stroke-width="1.25"/><path d="M215.2 437.2v-1.5M215.2 255.4v1.5M251.5 437.2v-1.5M251.5 255.4v1.5M287.9 437.2v-1.5M287.9 255.4v1.5M324.2 437.2v-1.5M324.2 255.4v1.5M360.5 437.2v-1.5M360.5 255.4v1.5M215.2 437.2h1.5M360.5 437.2h-1.5M215.2 417h1.5M360.5 417h-1.5M215.2 396.8h1.5M360.5 396.8h-1.5M215.2 376.6h1.5M360.5 376.6h-1.5M215.2 356.4h1.5M360.5 356.4h-1.5M215.2 336.2h1.5M360.5 336.2h-1.5M215.2 316h1.5M360.5 316h-1.5M215.2 295.8h1.5M360.5 295.8h-1.5M215.2 275.6h1.5M360.5 275.6h-1.5M215.2 255.4h1.5M360.5 255.4h-1.5" stroke="#555" stroke-width="0.7" fill="none"/><g font-size="9.8" fill="#222" stroke="#222" stroke-width="0.3"><text x="215.2" y="450" text-anchor="middle">0</text><text x="251.5" y="450" text-anchor="middle">1</text><text x="287.9" y="450" text-anchor="middle">2</text><text x="324.2" y="450" text-anchor="middle">3</text><text x="360.5" y="450" text-anchor="middle">4</text><text x="211.5" y="441.2" text-anchor="end">4</text><text x="211.5" y="421" text-anchor="end">5</text><text x="211.5" y="400.8" text-anchor="end">6</text><text x="211.5" y="380.6" text-anchor="end">7</text><text x="211.5" y="360.4" text-anchor="end">8</text><text x="211.5" y="340.2" text-anchor="end">9</text><text x="211.5" y="320" text-anchor="end">10</text><text x="211.5" y="299.8" text-anchor="end">11</text><text x="211.5" y="279.6" text-anchor="end">12</text><text x="211.5" y="259.4" text-anchor="end">13</text></g><text x="287.9" y="460.7" text-anchor="middle" font-size="10.78" fill="#1a1a1a" stroke="#1a1a1a" stroke-width="0.25">Time(h)</text><text transform="translate(199.2 346.3) rotate(-90)" text-anchor="middle" font-size="10.78" fill="#1a1a1a" stroke="#1a1a1a" stroke-width="0.22">y-axis CMG(dps)</text></g>
<g><path d="M428.2 255.1V437.5M464.6 255.1V437.5M501.1 255.1V437.5M391.8 411.4H537.5M391.8 385.4H537.5M391.8 359.3H537.5M391.8 333.3H537.5M391.8 307.2H537.5M391.8 281.2H537.5" stroke="#e3e3e3" stroke-width="0.8" fill="none"/><g clip-path="url(#cb3)"><path d="M412.3 355.6L412.8 357 413.3 357.1 413.8 357.1 414.3 357.3 414.8 356.3 415.3 358.3 415.8 358.6 416.3 356.3 416.8 358.7 417.3 359.1 417.8 353.9 418.3 357.3 418.8 358.7 419.3 359.9 419.8 355.6 420.3 360.8 420.8 362.4 421.3 362.1 421.8 361.9 422.3 364 422.8 364.5 423.3 363.1 423.8 365.4 424.3 364.5 424.8 362.9 425.3 367.6 425.8 368.4 426.3 368.8 426.8 369.1 427.3 369.1 427.8 369.5 428.3 370.6 428.8 370.7 429.3 370.4 429.8 367.4 430.3 371.5 430.8 368.1 431.3 370.5 431.8 373.1 432.3 372.9 432.8 373.4 433.3 372.8 433.8 368.9 434.3 369.4 434.8 373.4 435.3 372.3 435.8 376.2 436.3 376 436.8 377.2 437.3 376.6 437.8 374.8 438.3 377.9 438.8 376 439.3 377.3 439.8 375.6 440.3 379.3 440.8 380.9 441.3 382 441.8 380 442.3 383.1 442.8 381.9 443.3 378.5 443.8 380.3 444.3 382.7 444.8 383.3 445.3 378.1 445.8 382.1 446.3 383.7 446.8 382.7 447.3 382.8 447.8 382.1 448.3 381.1 448.8 385.6 449.3 384.7 449.8 381 450.3 386.4 450.8 385.1 451.3 382.6 451.8 385.1 452.3 387.1 452.8 386.7 453.3 389 453.8 385.9 454.3 388.9 454.8 385.8 455.3 389.4 455.8 389.4 456.3 389.1 456.8 385.9 457.3 389.9 457.8 389.1 458.3 387.1 458.8 388.4 459.3 390.9 459.8 391.3 460.3 388.9 460.8 389.4 461.3 392.5 461.8 393.2 462.3 394 462.8 391.6 463.3 392.7 463.8 394.4 464.3 394.8 464.8 394 465.3 395.3 465.8 394 466.3 391.4 466.8 395.8 467.3 396.1 467.8 398.6 468.3 398 468.8 398.7 469.3 397.9 469.8 396.3 470.3 396.1 470.8 399.2 471.3 399.3 471.8 399.9 472.3 394.6 472.8 397.7 473.3 399.5 473.8 398.7 474.3 397.9 474.8 399.2 475.3 400.1 475.8 400.7 476.3 399 476.8 401.3 477.3 402.3 477.8 401.4 478.3 400.8 478.8 398.6 479.3 401.5 479.8 401.6 480.3 399.4 480.8 397 481.3 399.2 481.8 400.5 482.3 402.2 482.8 400 483.3 402.4 483.8 400.1 484.3 399.8 484.8 402.4 485.3 399.9 485.8 401.2 486.3 398 486.8 401 487.3 400.9 487.8 402.9 488.3 404.2 488.8 404.3 489.3 402.7 489.8 401.2 490.3 402.8 490.8 401.1 491.3 403.5 491.8 403.1 492.3 400.9 492.8 401.9 493.3 397.8 493.8 401 494.3 401.9 494.8 402 495.3 402.7 495.8 400.3 496.3 400 496.8 402.9 497.3 401.7 497.8 403.9 498.3 402.1 498.8 402.8 499.3 403.7 499.8 403.8 500.3 404.2 500.8 403.5 501.3 403.9 501.8 405.2 502.3 404.5 502.8 402.6 503.3 399.3 503.8 403.4 504.3 404.2 504.8 402.4 505.3 403.7 505.8 403.4 506.3 402.2 506.8 403.9 507.3 404.5 507.8 402.2 508.3 403.8 508.8 402.3 509.3 403.6 509.8 402.1 510.3 399.3 510.8 403.8 511.3 402.4 511.8 399.8 512.3 403.8 512.8 400.1 513.3 401.4 513.8 404.3 514.3 404.5 514.8 405.1 515.3 404.9 515.8 405.2 516.3 402.9 516.8 401.1 517.3 404.7 517.8 401 518.3 404.4 518.8 404.7 519.3 403.8 519.8 403.2 520.3 404.7 520.8 404.5 521.3 405.1 521.8 404.8 522.3 404.2 522.8 400.2 523.3 404.8 523.8 404.4 524.3 404.6 524.8 402.2 525.3 404.2 525.8 405.8 526.3 405.9 526.8 404.7 527.3 405.6 527.8 406 528.3 405.8 528.8 402 529.3 404.8 529.8 402.2 530.3 403.3 530.8 405.3 531.3 404.3 531.8 403 532.3 406 532.8 404.8 533.3 403.3 533.8 405.5 534.3 406.3 534.8 406.1 535.3 405.5 535.8 405.1 535.8 425.8 535.3 425.8 534.8 421.3 534.3 417.3 533.8 416.9 533.3 418.9 532.8 417.6 532.3 418.6 531.8 417.4 531.3 417.1 530.8 418.3 530.3 419.4 529.8 417.6 529.3 418.5 528.8 418.5 528.3 416.6 527.8 417 527.3 416.5 526.8 416.4 526.3 416.7 525.8 418.7 525.3 417.6 524.8 419.9 524.3 416.4 523.8 419.4 523.3 417.4 522.8 418.2 522.3 416.6 521.8 417.3 521.3 416.3 520.8 417.5 520.3 417.7 519.8 417.6 519.3 419.4 518.8 418.1 518.3 421.8 517.8 417.5 517.3 420.4 516.8 418.5 516.3 417.1 515.8 415.8 515.3 418.6 514.8 420.8 514.3 418.2 513.8 417.3 513.3 416.7 512.8 417 512.3 416.9 511.8 417.5 511.3 419.8 510.8 416.9 510.3 416.4 509.8 420 509.3 415.9 508.8 416.4 508.3 416.4 507.8 416.1 507.3 415.9 506.8 415.4 506.3 415.6 505.8 415.7 505.3 415.8 504.8 414.8 504.3 415.6 503.8 415.9 503.3 414.7 502.8 414.7 502.3 419.4 501.8 414.7 501.3 414.9 500.8 414.8 500.3 417.5 499.8 415.5 499.3 416.6 498.8 415.2 498.3 415 497.8 415.1 497.3 417.7 496.8 414.8 496.3 416.3 495.8 415.2 495.3 419.8 494.8 417.1 494.3 419.1 493.8 419.4 493.3 417.1 492.8 417.9 492.3 415.9 491.8 416.6 491.3 415 490.8 414.6 490.3 415.5 489.8 415.3 489.3 415.9 488.8 414.9 488.3 418.6 487.8 414.9 487.3 416.1 486.8 417.4 486.3 416 485.8 421.2 485.3 417.1 484.8 416.4 484.3 420.4 483.8 416.5 483.3 418.9 482.8 416.5 482.3 418.8 481.8 417.1 481.3 416.7 480.8 418.1 480.3 416.1 479.8 418.1 479.3 416.9 478.8 417.9 478.3 418.3 477.8 416.8 477.3 419.3 476.8 415.3 476.3 415.7 475.8 414.7 475.3 417.8 474.8 415.6 474.3 415.4 473.8 414.4 473.3 416.8 472.8 413.7 472.3 413.5 471.8 412.1 471.3 412.1 470.8 411 470.3 412.1 469.8 410.1 469.3 410.4 468.8 409.7 468.3 408.7 467.8 410.8 467.3 410 466.8 408.6 466.3 410.2 465.8 408.3 465.3 412.7 464.8 410.9 464.3 407.7 463.8 409.4 463.3 407.3 462.8 407.6 462.3 406.5 461.8 406 461.3 410.3 460.8 408.1 460.3 406.5 459.8 406.5 459.3 407.8 458.8 405.2 458.3 404.6 457.8 404.8 457.3 404.8 456.8 405.7 456.3 405.1 455.8 404.5 455.3 402.8 454.8 402.4 454.3 402.2 453.8 402.7 453.3 401 452.8 401.3 452.3 400 451.8 401.2 451.3 400 450.8 403.4 450.3 401.2 449.8 400 449.3 399.2 448.8 399.5 448.3 398.3 447.8 400.5 447.3 396.8 446.8 397.7 446.3 396.2 445.8 396.2 445.3 396.5 444.8 394.4 444.3 399 443.8 395.9 443.3 392.4 442.8 392.3 442.3 391.7 441.8 391.2 441.3 394.7 440.8 393.3 440.3 393.6 439.8 392.8 439.3 390.8 438.8 392.7 438.3 393.3 437.8 390 437.3 390.1 436.8 389.5 436.3 391.9 435.8 387.5 435.3 388.6 434.8 390.3 434.3 387 433.8 387.4 433.3 386.2 432.8 386.8 432.3 389 431.8 385.3 431.3 386.4 430.8 385.6 430.3 384 429.8 384.1 429.3 382.6 428.8 385.8 428.3 383.5 427.8 382.8 427.3 381.7 426.8 380.9 426.3 379.9 425.8 380.3 425.3 379.2 424.8 382.8 424.3 380.6 423.8 377.9 423.3 377.1 422.8 376.5 422.3 378.6 421.8 375.5 421.3 376.4 420.8 375.3 420.3 374.9 419.8 374.2 419.3 374.1 418.8 373 418.3 373.4 417.8 374.3 417.3 372.3 416.8 370.7 416.3 368.3 415.8 368.3 415.3 365.9 414.8 365 414.3 363.9 413.8 364 413.3 362.8 412.8 363.4 412.3 361.6Z" fill="#000"/><path d="M391.8 351.3L392.3 350.6 392.8 347 393.3 350.8 393.8 352.5 394.3 352 394.8 352.3 395.3 349.6 395.8 352.9 396.3 348.4 396.8 350.7 397.3 352.7 397.8 351.8 398.3 350 398.8 353.6 399.3 352.9 399.8 353.4 400.3 353.7 400.8 352.2 401.3 351.7 401.8 353.8 402.3 353.8 402.8 353.9 403.3 353.8 403.8 352.7 404.3 353.1 404.8 353.3 405.3 351 405.8 351.4 406.3 349.7 406.8 351.3 407.3 346.4 407.8 350.4 408.3 349.6 408.8 349.4 409.3 347.8 409.8 347.8 410.3 352.2 410.8 349.8 411.3 352.6 411.8 353.1 412.3 351.4 412.8 351.9 413.3 352.1 413.8 350.7 414.3 350.3 414.8 347 415.3 347.4 415.8 344.9 416.3 346.5 416.8 346.6 417.3 349.2 417.8 350.5 418.3 350.3 418.8 349.7 419.3 349.3 419.8 348.1 420.3 351.2 420.8 352.1 421.3 351.7 421.8 352.7 422.3 353.3 422.8 352.5 423.3 351.9 423.8 351.7 424.3 352.8 424.8 353.5 425.3 352.9 425.8 349.6 426.3 352.2 426.8 354 427.3 354.2 427.8 354.1 428.3 355 428.8 352.6 429.3 355 429.8 354.7 430.3 355.5 430.8 355.7 431.3 355.4 431.8 355.9 432.3 352 432.8 355.5 433.3 354.8 433.8 352.3 434.3 351.7 434.8 352.4 435.3 354.7 435.8 354.1 436.3 354.4 436.8 355.2 437.3 355 437.8 352.4 438.3 354.3 438.8 354.8 439.3 353.3 439.8 353 440.3 354.6 440.8 354.1 441.3 353.8 441.8 354.1 442.3 348.3 442.8 353.5 443.3 353.8 443.8 353.6 444.3 353.7 444.8 352.7 445.3 350.7 445.8 353.4 446.3 350.3 446.8 352.4 447.3 353.3 447.8 348.1 448.3 353.4 448.8 352.8 449.3 352.1 449.8 349.6 450.3 354.1 450.8 353.4 451.3 349.4 451.8 354 452.3 353.3 452.8 353.8 453.3 352.9 453.8 348.9 454.3 352.6 454.8 350.8 455.3 352.4 455.8 352.4 456.3 350.5 456.8 347 457.3 351 457.8 349.8 458.3 351.1 458.8 348.6 459.3 348 459.8 348.6 460.3 349.2 460.8 348.6 461.3 349.5 461.8 347.8 462.3 348.1 462.8 349.9 463.3 350.5 463.8 349.8 464.3 351.3 464.8 351.5 465.3 351.8 465.8 352 466.3 352.8 466.8 353.2 467.3 351.7 467.8 348.9 468.3 353.5 468.8 353.3 469.3 354.8 469.8 354.3 470.3 353.7 470.8 354.4 471.3 353.2 471.8 352.6 472.3 352.1 472.8 352.8 473.3 350.6 473.8 352.9 474.3 351.2 474.8 353.2 475.3 354.2 475.8 353.5 476.3 353.3 476.8 351.7 477.3 349.4 477.8 353.7 478.3 353.3 478.8 351.6 479.3 347.7 479.8 352 480.3 351.2 480.8 352.4 481.3 352.3 481.8 351.9 482.3 351.4 482.8 351.6 483.3 348.1 483.8 352.8 484.3 352.1 484.8 353.8 485.3 352.7 485.8 353.9 486.3 352.8 486.8 355 487.3 354.3 487.8 355.3 488.3 354.8 488.8 354.9 489.3 355.8 489.8 355.4 490.3 353.3 490.8 353.5 491.3 354.1 491.8 355.1 492.3 354.3 492.8 354 493.3 349.6 493.8 354 494.3 354.5 494.8 349.3 495.3 354 495.8 354.6 496.3 354.7 496.8 351.1 497.3 353.9 497.8 353.2 498.3 351.2 498.8 350.1 499.3 352.5 499.8 349.9 500.3 350.4 500.8 353.6 501.3 352.4 501.8 354.1 502.3 352.5 502.8 354.5 503.3 353.7 503.8 354.1 504.3 354 504.8 353.2 505.3 352.5 505.8 353.3 506.3 351.8 506.8 352.9 507.3 349.5 507.8 353 508.3 352.2 508.8 352.6 509.3 353.8 509.8 354 510.3 353.6 510.8 353.2 511.3 353.7 511.8 352.8 512.3 351.7 512.8 353.2 513.3 353.8 513.8 353.3 514.3 353.8 514.8 352.1 515.3 354.4 515.8 354.7 516.3 354.5 516.8 354.3 517.3 353.7 517.8 352.3 518.3 352.9 518.8 352.3 519.3 352.5 519.8 351.2 520.3 351.2 520.8 350.8 521.3 346.9 521.8 351.9 522.3 350.7 522.8 350.5 523.3 352.4 523.8 353 524.3 351.8 524.8 351.1 525.3 350.9 525.8 350.8 526.3 348 526.8 352 527.3 351.5 527.8 347.9 528.3 351.4 528.8 350.5 529.3 350.6 529.8 351.8 530.3 351.8 530.8 352.3 531.3 350.2 531.8 352.6 532.3 351.6 532.8 352.8 533.3 352.8 533.8 348.4 534.3 352.4 534.8 352.5 535.3 349.9 535.8 351.4 535.8 365.5 535.3 365.8 534.8 366 534.3 370 533.8 367.9 533.3 365.6 532.8 365.5 532.3 364.2 531.8 364.3 531.3 363.9 530.8 363.5 530.3 363.8 529.8 364.7 529.3 365.4 528.8 363.4 528.3 364.7 527.8 363.3 527.3 363.7 526.8 367.5 526.3 365.3 525.8 366.4 525.3 364.9 524.8 368.1 524.3 366.3 523.8 366 523.3 365.3 522.8 365.9 522.3 367.4 521.8 366.3 521.3 367.4 520.8 367.9 520.3 366.7 519.8 367.1 519.3 367.8 518.8 367.6 518.3 366.1 517.8 365.7 517.3 365.7 516.8 369.1 516.3 365.8 515.8 365 515.3 365.3 514.8 364.8 514.3 365.8 513.8 366.5 513.3 366.9 512.8 368.3 512.3 367.1 511.8 366.8 511.3 366.5 510.8 369.5 510.3 365.9 509.8 369.8 509.3 366.6 508.8 366.7 508.3 368.3 507.8 369.6 507.3 367.1 506.8 369.1 506.3 368.1 505.8 368.1 505.3 368.8 504.8 370.9 504.3 367 503.8 366.7 503.3 367.4 502.8 368.2 502.3 365.9 501.8 365.9 501.3 370.1 500.8 366.2 500.3 366.7 499.8 365.7 499.3 368.9 498.8 369.2 498.3 364.2 497.8 364 497.3 363.5 496.8 365.1 496.3 363.3 495.8 364.5 495.3 364.7 494.8 366.2 494.3 366.2 493.8 366.3 493.3 368 492.8 367.6 492.3 368 491.8 367.4 491.3 367.9 490.8 367.9 490.3 368.6 489.8 368 489.3 367.6 488.8 366.8 488.3 366.4 487.8 365.7 487.3 365.9 486.8 367.8 486.3 364.8 485.8 364.9 485.3 365 484.8 364.8 484.3 364 483.8 365.2 483.3 364.7 482.8 370.5 482.3 365.9 481.8 365.5 481.3 366.7 480.8 371.1 480.3 367.7 479.8 368.8 479.3 374.2 478.8 369.5 478.3 369.5 477.8 368.8 477.3 368.3 476.8 369.2 476.3 367.6 475.8 367.8 475.3 366.7 474.8 366.4 474.3 366.6 473.8 368.8 473.3 368.5 472.8 367.4 472.3 367.6 471.8 367.5 471.3 366.6 470.8 366.1 470.3 365.8 469.8 365.2 469.3 365.6 468.8 368.2 468.3 369.8 467.8 366.2 467.3 366.3 466.8 367.9 466.3 366.6 465.8 366.7 465.3 365.7 464.8 365.4 464.3 366 463.8 366 463.3 364.2 462.8 365.1 462.3 366.4 461.8 364.2 461.3 363.2 460.8 363.6 460.3 363 459.8 364.4 459.3 362.5 458.8 363.4 458.3 364.7 457.8 364 457.3 363.7 456.8 365.9 456.3 364.9 455.8 365 455.3 366.3 454.8 365.1 454.3 369.5 453.8 366.2 453.3 367.7 452.8 367.6 452.3 368.3 451.8 367.9 451.3 376.5 450.8 368.8 450.3 371.5 449.8 368.8 449.3 368.1 448.8 368.2 448.3 368.4 447.8 368.3 447.3 367.9 446.8 365.8 446.3 367.6 445.8 366.7 445.3 364.7 444.8 363.7 444.3 365.9 443.8 364 443.3 365 442.8 364.6 442.3 365.2 441.8 366.2 441.3 369.4 440.8 366.7 440.3 368.1 439.8 367.4 439.3 366.9 438.8 367 438.3 366.7 437.8 366.6 437.3 368.6 436.8 367.6 436.3 366.2 435.8 366.9 435.3 370.2 434.8 367.7 434.3 366.7 433.8 368.1 433.3 367.9 432.8 366.5 432.3 366.7 431.8 368.3 431.3 368.2 430.8 367.3 430.3 369.3 429.8 367.6 429.3 366.5 428.8 367 428.3 367.6 427.8 367.8 427.3 367.1 426.8 366.5 426.3 368.3 425.8 366.6 425.3 368.2 424.8 366.1 424.3 368.1 423.8 366.3 423.3 365.5 422.8 365 422.3 365.2 421.8 364.3 421.3 364.7 420.8 365.5 420.3 365.4 419.8 365.8 419.3 364.8 418.8 363.4 418.3 363.2 417.8 363.3 417.3 362.5 416.8 361.7 416.3 364.6 415.8 365 415.3 363.2 414.8 362.8 414.3 364.3 413.8 362.9 413.3 363 412.8 363.1 412.3 364.4 411.8 365.3 411.3 365.1 410.8 367.7 410.3 368.3 409.8 364.3 409.3 368.2 408.8 364.3 408.3 364 407.8 364.5 407.3 363.8 406.8 365.8 406.3 370.1 405.8 363.7 405.3 365.8 404.8 363.8 404.3 364.9 403.8 366.1 403.3 363.9 402.8 364.8 402.3 365.3 401.8 365.3 401.3 366.3 400.8 366.2 400.3 365.8 399.8 365.9 399.3 365.7 398.8 367.8 398.3 365.2 397.8 365.3 397.3 366.2 396.8 367.2 396.3 364.8 395.8 365.6 395.3 364.8 394.8 364.5 394.3 364.5 393.8 365.7 393.3 364.6 392.8 364.7 392.3 364.7 391.8 368.8Z" fill="#00ff00"/><path d="M391.8 352.5L392.3 351.5 392.8 351.2 393.3 351 393.8 351 394.3 350.1 394.8 351.1 395.3 349.9 395.8 349.4 396.3 351.5 396.8 350.3 397.3 352.2 397.8 352.2 398.3 352.6 398.8 351.1 399.3 351.4 399.8 352.8 400.3 352.6 400.8 352.6 401.3 351.3 401.8 352 402.3 353.5 402.8 352.1 403.3 352.3 403.8 354 404.3 353.5 404.8 353.3 405.3 354.2 405.8 353.3 406.3 353.2 406.8 353 407.3 352.1 407.8 353.7 408.3 354 408.8 350.1 409.3 353.6 409.8 352.4 410.3 353.5 410.8 352.9 411.3 349.9 411.8 353.4 412.3 353.9 412.8 350.6 413.3 353.9 413.8 352.7 414.3 353.9 414.8 353.5 415.3 353.3 415.8 353.6 416.3 352.5 416.8 354.8 417.3 354 417.8 353.8 418.3 351.6 418.8 349.5 419.3 352.7 419.8 350.5 420.3 352.3 420.8 352.1 421.3 352.9 421.8 352.1 422.3 354.5 422.8 353.8 423.3 352.1 423.8 352.7 424.3 351.5 424.8 351 425.3 353.2 425.8 353.7 426.3 352.4 426.8 354.5 427.3 349.2 427.8 353.4 428.3 355 428.8 354.7 429.3 352.3 429.8 353.1 430.3 354.3 430.8 353.4 431.3 355 431.8 353.1 432.3 354.7 432.8 354.5 433.3 353.1 433.8 352 434.3 353 434.8 350.8 435.3 352.8 435.8 352.7 436.3 352.1 436.8 350.9 437.3 352.1 437.8 349.8 438.3 352.1 438.8 352 439.3 349.4 439.8 349.6 440.3 351.2 440.8 348 441.3 351.4 441.8 350.5 442.3 350.9 442.8 351.2 443.3 352.5 443.8 351.2 444.3 353.3 444.8 352.8 445.3 352.9 445.8 350.8 446.3 352.7 446.8 352.1 447.3 352.8 447.8 352.3 448.3 353.1 448.8 353.4 449.3 353.6 449.8 353.7 450.3 351 450.8 354.2 451.3 354.1 451.8 355.3 452.3 356 452.8 353.2 453.3 354.8 453.8 355.8 454.3 355.4 454.8 355.4 455.3 355.2 455.8 353.6 456.3 353.3 456.8 353.7 457.3 352.1 457.8 351.8 458.3 351.9 458.8 353 459.3 352.2 459.8 353 460.3 353.1 460.8 353.3 461.3 354.6 461.8 354.3 462.3 353.5 462.8 354.5 463.3 353.3 463.8 346.4 464.3 354.4 464.8 354.3 465.3 355.3 465.8 355.7 466.3 356.2 466.8 354.3 467.3 355.6 467.8 356 468.3 356.2 468.8 354.8 469.3 355.3 469.8 349.3 470.3 355.3 470.8 355.4 471.3 355 471.8 353.7 472.3 354.3 472.8 352.6 473.3 353.9 473.8 350.6 474.3 352.1 474.8 350.4 475.3 351.8 475.8 349 476.3 352 476.8 352.3 477.3 350.8 477.8 352.9 478.3 353.2 478.8 353 479.3 352.2 479.8 353.9 480.3 354.5 480.8 352.6 481.3 353.1 481.8 355 482.3 355.6 482.8 353.5 483.3 355.9 483.8 354.7 484.3 353.9 484.8 355.5 485.3 355.6 485.8 355.7 486.3 355.6 486.8 355.6 487.3 353.5 487.8 355.9 488.3 354.5 488.8 355.2 489.3 355.6 489.8 354.9 490.3 355.2 490.8 353 491.3 354.8 491.8 353.3 492.3 354.3 492.8 354.3 493.3 354.3 493.8 354.4 494.3 353.7 494.8 352.1 495.3 354.6 495.8 353.7 496.3 353.8 496.8 353.6 497.3 349.6 497.8 353.2 498.3 349.4 498.8 352.9 499.3 352.6 499.8 351.4 500.3 349.9 500.8 352.6 501.3 352.6 501.8 351.4 502.3 352.2 502.8 352.8 503.3 353 503.8 351.8 504.3 353.1 504.8 352.6 505.3 350.9 505.8 352.8 506.3 354.3 506.8 355.4 507.3 354.8 507.8 355.7 508.3 351.8 508.8 354.5 509.3 354 509.8 353.7 510.3 352.6 510.8 351.9 511.3 350.1 511.8 351.9 512.3 349 512.8 352.1 513.3 351 513.8 352.3 514.3 347.8 514.8 352.2 515.3 351.8 515.8 352.4 516.3 352.7 516.8 350.5 517.3 352.3 517.8 353.6 518.3 352.8 518.8 354.1 519.3 353.9 519.8 352.6 520.3 353.2 520.8 352.1 521.3 352.4 521.8 352.5 522.3 352 522.8 352.1 523.3 352.4 523.8 352.2 524.3 352.4 524.8 352.8 525.3 350.9 525.8 350.8 526.3 352.7 526.8 352 527.3 350.5 527.8 351.8 528.3 352.5 528.8 353.3 529.3 353.8 529.8 354.2 530.3 353.8 530.8 353.7 531.3 349.7 531.8 353.4 532.3 355 532.8 354.7 533.3 354.2 533.8 353.2 534.3 353.2 534.8 354.9 535.3 352.4 535.8 353.8 535.8 366.2 535.3 367.5 534.8 368.1 534.3 367 533.8 367.1 533.3 367.3 532.8 367 532.3 367.6 531.8 367.9 531.3 366.1 530.8 365.9 530.3 369.2 529.8 367.7 529.3 365 528.8 368.3 528.3 366.8 527.8 365.8 527.3 365.3 526.8 365.4 526.3 367.1 525.8 366.3 525.3 366.5 524.8 364.3 524.3 367.3 523.8 364.9 523.3 365.6 522.8 366.4 522.3 366.3 521.8 367.9 521.3 368.3 520.8 370.1 520.3 369.4 519.8 368.8 519.3 367.4 518.8 367.8 518.3 367.6 517.8 367.2 517.3 366.8 516.8 366.4 516.3 366.8 515.8 366.4 515.3 367 514.8 367.6 514.3 371.2 513.8 367 513.3 368.3 512.8 363.4 512.3 364.1 511.8 366.8 511.3 365.4 510.8 369.8 510.3 366.3 509.8 364 509.3 367.1 508.8 364.9 508.3 367.4 507.8 365.1 507.3 364.7 506.8 366.3 506.3 367.5 505.8 365.3 505.3 365.2 504.8 364.6 504.3 365 503.8 365.2 503.3 364.1 502.8 363.4 502.3 364.2 501.8 362.7 501.3 363.7 500.8 363.2 500.3 364.3 499.8 364.8 499.3 365.6 498.8 367.5 498.3 365.2 497.8 365.6 497.3 365.7 496.8 366.7 496.3 367 495.8 366.1 495.3 366.1 494.8 368.1 494.3 367.5 493.8 368.4 493.3 366.6 492.8 368.5 492.3 366.8 491.8 368.8 491.3 369.1 490.8 366.9 490.3 369.3 489.8 367.4 489.3 369.9 488.8 367.3 488.3 369.2 487.8 368.1 487.3 369 486.8 367.4 486.3 367 485.8 367.4 485.3 367.3 484.8 374.5 484.3 367.9 483.8 369.6 483.3 368.7 482.8 367.1 482.3 368.9 481.8 369.5 481.3 368.1 480.8 368.2 480.3 367.4 479.8 367.4 479.3 368.7 478.8 367.2 478.3 367.2 477.8 366.7 477.3 367.4 476.8 367.6 476.3 367.3 475.8 367.4 475.3 368.1 474.8 366.2 474.3 365.4 473.8 365.8 473.3 368.2 472.8 365.1 472.3 369.2 471.8 366.8 471.3 365.3 470.8 368 470.3 365.6 469.8 365.8 469.3 367.5 468.8 366.2 468.3 367.8 467.8 365.5 467.3 368 466.8 366.9 466.3 366.4 465.8 367.6 465.3 366.6 464.8 368.3 464.3 367.9 463.8 369.5 463.3 368.3 462.8 367.8 462.3 367.8 461.8 367.1 461.3 367 460.8 366.7 460.3 365.9 459.8 366.6 459.3 367.7 458.8 366.1 458.3 366.7 457.8 366.9 457.3 365.4 456.8 365.5 456.3 366.2 455.8 371 455.3 367.2 454.8 366.9 454.3 367.1 453.8 366.9 453.3 366.8 452.8 367.9 452.3 366.7 451.8 365.7 451.3 366 450.8 366.1 450.3 364.9 449.8 363.8 449.3 367.1 448.8 364.4 448.3 363.1 447.8 363.3 447.3 365.1 446.8 364.3 446.3 365.2 445.8 363.9 445.3 363.7 444.8 364.1 444.3 364.7 443.8 364.3 443.3 365 442.8 364.7 442.3 367.3 441.8 363.9 441.3 363.1 440.8 366.9 440.3 363.5 439.8 363 439.3 366.4 438.8 364.7 438.3 366.8 437.8 364.8 437.3 365.3 436.8 370.5 436.3 365.1 435.8 365.4 435.3 366.3 434.8 365.1 434.3 364.8 433.8 363.5 433.3 366.9 432.8 363.8 432.3 366.7 431.8 363.5 431.3 363.3 430.8 363.3 430.3 364.1 429.8 366.9 429.3 364.2 428.8 365.1 428.3 365.2 427.8 364.6 427.3 368.2 426.8 365.4 426.3 368.3 425.8 374.2 425.3 366.4 424.8 365.7 424.3 366.5 423.8 366.9 423.3 366.5 422.8 368 422.3 367.5 421.8 366.9 421.3 368 420.8 367.2 420.3 367.1 419.8 366.9 419.3 368.1 418.8 373.8 418.3 369.9 417.8 366.2 417.3 366.5 416.8 366.6 416.3 365.2 415.8 365.8 415.3 368.4 414.8 365.7 414.3 367.7 413.8 368.4 413.3 365.5 412.8 365.7 412.3 365 411.8 365.5 411.3 365.6 410.8 366.7 410.3 366.1 409.8 368 409.3 367.9 408.8 367.4 408.3 369.6 407.8 367.7 407.3 368.6 406.8 370.2 406.3 369.4 405.8 368.3 405.3 367.3 404.8 368 404.3 367 403.8 367.1 403.3 366.9 402.8 365.5 402.3 365.3 401.8 365.1 401.3 364.9 400.8 367.5 400.3 363.7 399.8 364.5 399.3 363.5 398.8 363.1 398.3 363.3 397.8 362.6 397.3 366.7 396.8 363.4 396.3 364.1 395.8 362.4 395.3 364 394.8 363.1 394.3 363.9 393.8 362.6 393.3 363.8 392.8 363.4 392.3 363.6 391.8 364.2Z" fill="#0000ff"/><path d="M391.8 353L392.3 352.5 392.8 349.9 393.3 348.9 393.8 346.3 394.3 354.2 394.8 349.4 395.3 351.2 395.8 353.8 396.3 351.3 396.8 353.6 397.3 353.1 397.8 352.6 398.3 350 398.8 350.4 399.3 347.2 399.8 348.5 400.3 351.6 400.8 352.1 401.3 351.5 401.8 351.1 402.3 351.2 402.8 353 403.3 349.4 403.8 350.3 404.3 348.8 404.8 347.9 405.3 345.8 405.8 346.1 406.3 352 406.8 352.1 407.3 350.3 407.8 349.2 408.3 352.2 408.8 344.3 409.3 348.6 409.8 352.7 410.3 351.2 410.8 351.6 411.3 352.7 411.8 353.4 412.3 350.3 412.8 349 413.3 352.2 413.8 345.8 414.3 348.9 414.8 351.3 415.3 348.6 415.8 345.5 416.3 350.8 416.8 351 417.3 349.4 417.8 350 418.3 351.3 418.8 352.5 419.3 349.1 419.8 343.7 420.3 343.7 420.8 353.3 421.3 350.3 421.8 353.2 422.3 349.5 422.8 352.3 423.3 351.8 423.8 348.2 424.3 347.9 424.8 348.3 425.3 351.7 425.8 349.6 426.3 352.2 426.8 351.5 427.3 351.3 427.8 350.6 428.3 352.9 428.8 349.4 429.3 353.9 429.8 353.1 430.3 353 430.8 353.3 431.3 352.4 431.8 347.8 432.3 352.2 432.8 350.2 433.3 352.5 433.8 351.7 434.3 350.5 434.8 349.9 435.3 350.9 435.8 351.9 436.3 350.9 436.8 351.5 437.3 348.6 437.8 348.1 438.3 346.9 438.8 350.3 439.3 351.2 439.8 349.6 440.3 347.2 440.8 348.5 441.3 349.4 441.8 351.4 442.3 351.2 442.8 349.2 443.3 352.3 443.8 346.4 444.3 352.6 444.8 346.1 445.3 351.6 445.8 350.6 446.3 351.7 446.8 346.9 447.3 350.3 447.8 351.3 448.3 350.5 448.8 351 449.3 348.2 449.8 345.1 450.3 350.1 450.8 351.9 451.3 350.7 451.8 351 452.3 350.2 452.8 347.2 453.3 351.8 453.8 351 454.3 349 454.8 345 455.3 347.6 455.8 349.3 456.3 351.1 456.8 348 457.3 350 457.8 348.7 458.3 351.2 458.8 350.8 459.3 344.8 459.8 338.4 460.3 350.3 460.8 349.8 461.3 347.4 461.8 348.9 462.3 351.6 462.8 350.9 463.3 352.3 463.8 352.8 464.3 350.2 464.8 348.9 465.3 352.5 465.8 352.7 466.3 349.7 466.8 352.6 467.3 352.6 467.8 352.5 468.3 352.8 468.8 351.7 469.3 343.1 469.8 351.8 470.3 350.6 470.8 351.6 471.3 351.3 471.8 350 472.3 350.2 472.8 352.3 473.3 349.9 473.8 350.7 474.3 351.8 474.8 352.3 475.3 347.4 475.8 352.3 476.3 353 476.8 348.6 477.3 350.3 477.8 352.4 478.3 351.4 478.8 350.9 479.3 352.3 479.8 344.4 480.3 351.6 480.8 350.2 481.3 351.3 481.8 349 482.3 347.8 482.8 349.8 483.3 351.4 483.8 351.9 484.3 348.2 484.8 351.4 485.3 349.1 485.8 350.9 486.3 349.1 486.8 352.1 487.3 352.7 487.8 349.1 488.3 352.4 488.8 351.7 489.3 349.5 489.8 352.5 490.3 352.9 490.8 351.6 491.3 353.3 491.8 351.5 492.3 351.6 492.8 345.2 493.3 354 493.8 353.9 494.3 353.4 494.8 350.8 495.3 353.3 495.8 352.2 496.3 349.4 496.8 353 497.3 348.5 497.8 350.2 498.3 351.9 498.8 349.6 499.3 350.6 499.8 350.4 500.3 349.3 500.8 352.3 501.3 351 501.8 351.6 502.3 352.4 502.8 352.1 503.3 351.8 503.8 353 504.3 353 504.8 345.3 505.3 348 505.8 351.8 506.3 351.3 506.8 352.4 507.3 353.2 507.8 350 508.3 350.4 508.8 353.3 509.3 349.8 509.8 352 510.3 346.8 510.8 347.8 511.3 348.5 511.8 348 512.3 351.3 512.8 351.7 513.3 351.9 513.8 348 514.3 352.6 514.8 350.6 515.3 352.6 515.8 352.9 516.3 350.9 516.8 351.2 517.3 352.7 517.8 350.2 518.3 348.4 518.8 351.9 519.3 352.2 519.8 352.7 520.3 353.2 520.8 353 521.3 345.7 521.8 352.4 522.3 348.8 522.8 351.3 523.3 349.5 523.8 350 524.3 348 524.8 350.9 525.3 352.3 525.8 352.8 526.3 352 526.8 352.4 527.3 351.5 527.8 352 528.3 352.2 528.8 349.9 529.3 351.7 529.8 351.4 530.3 350.8 530.8 350.6 531.3 346.3 531.8 351 532.3 352.2 532.8 349.1 533.3 351.7 533.8 351.3 534.3 349.6 534.8 350.8 535.3 349.8 535.8 349.9 535.8 367.7 535.3 367.5 534.8 370 534.3 367.8 533.8 368.1 533.3 366.7 532.8 367.4 532.3 372 531.8 368.1 531.3 369.8 530.8 367 530.3 368.2 529.8 372.6 529.3 367.3 528.8 368 528.3 365.8 527.8 367.2 527.3 367.3 526.8 368.4 526.3 367 525.8 366.3 525.3 366.7 524.8 372.4 524.3 368.2 523.8 367 523.3 366.7 522.8 368.7 522.3 367.1 521.8 369.8 521.3 366.3 520.8 368.8 520.3 369.3 519.8 366 519.3 366 518.8 369.9 518.3 366 517.8 367.4 517.3 374.2 516.8 366 516.3 368.7 515.8 367.9 515.3 366.3 514.8 365.6 514.3 367.3 513.8 370.7 513.3 371.5 512.8 375.7 512.3 373.1 511.8 369.8 511.3 368.7 510.8 368.5 510.3 371.5 509.8 367.3 509.3 365.7 508.8 366 508.3 367.3 507.8 365.9 507.3 366.6 506.8 365.1 506.3 365.4 505.8 367.5 505.3 365.8 504.8 368.2 504.3 368.6 503.8 369.8 503.3 367.4 502.8 366.6 502.3 366.8 501.8 367.6 501.3 371 500.8 371.9 500.3 366.8 499.8 371.8 499.3 372.6 498.8 368 498.3 367.9 497.8 367.4 497.3 367 496.8 365.7 496.3 371.8 495.8 365.5 495.3 374.4 494.8 367.8 494.3 364.7 493.8 365.2 493.3 367.6 492.8 369.1 492.3 373.8 491.8 366 491.3 364.9 490.8 375.7 490.3 366.4 489.8 366.3 489.3 368.9 488.8 367 488.3 368.8 487.8 368 487.3 366.1 486.8 367.9 486.3 368.5 485.8 369.5 485.3 367 484.8 368.1 484.3 370.8 483.8 369.3 483.3 369 482.8 370 482.3 368.4 481.8 370.2 481.3 370 480.8 367.3 480.3 366.5 479.8 367.3 479.3 366.2 478.8 366.3 478.3 365.2 477.8 365.9 477.3 367.5 476.8 372.5 476.3 368 475.8 365.9 475.3 379.5 474.8 366.6 474.3 367.4 473.8 366.2 473.3 368.4 472.8 366.2 472.3 366.3 471.8 375.2 471.3 367.3 470.8 367.2 470.3 369.9 469.8 367.3 469.3 374.7 468.8 366.3 468.3 367.5 467.8 367.7 467.3 365.8 466.8 367.2 466.3 365.6 465.8 371.2 465.3 366.9 464.8 369 464.3 370.9 463.8 367.6 463.3 366.7 462.8 371.6 462.3 367.1 461.8 367.2 461.3 366.9 460.8 367.1 460.3 370.1 459.8 372.6 459.3 367.5 458.8 367.8 458.3 370 457.8 373.4 457.3 369 456.8 368.2 456.3 367.8 455.8 370.7 455.3 371.5 454.8 366.3 454.3 366.6 453.8 367.7 453.3 365.3 452.8 364.9 452.3 367.5 451.8 369.1 451.3 365.8 450.8 366.3 450.3 371.3 449.8 375 449.3 368.3 448.8 368 448.3 369.3 447.8 367.3 447.3 368.7 446.8 368.4 446.3 369.9 445.8 370.2 445.3 367.8 444.8 366.7 444.3 366 443.8 367.2 443.3 366.5 442.8 369 442.3 366.8 441.8 366.6 441.3 367.4 440.8 370.4 440.3 368.3 439.8 370.8 439.3 371.2 438.8 367.4 438.3 369 437.8 367.9 437.3 367.8 436.8 371.9 436.3 368.2 435.8 367.3 435.3 367.8 434.8 369.8 434.3 370.4 433.8 374.8 433.3 368.4 432.8 371.9 432.3 369 431.8 366.6 431.3 366.4 430.8 365 430.3 364.7 429.8 372.2 429.3 365.8 428.8 367.9 428.3 365.3 427.8 368.6 427.3 367 426.8 368.4 426.3 366.6 425.8 371 425.3 371.9 424.8 367.7 424.3 367.8 423.8 373.7 423.3 369.3 422.8 366.6 422.3 379.4 421.8 365.9 421.3 365.2 420.8 364.8 420.3 364.7 419.8 369.9 419.3 367.6 418.8 370 418.3 367.7 417.8 367.3 417.3 369.9 416.8 370.7 416.3 369.4 415.8 371.9 415.3 369 414.8 367.3 414.3 370.9 413.8 366.6 413.3 370.2 412.8 373.1 412.3 367 411.8 365.7 411.3 366 410.8 368.8 410.3 367.1 409.8 366.5 409.3 366.8 408.8 366.2 408.3 366.9 407.8 370.7 407.3 370 406.8 368.9 406.3 367.2 405.8 366.5 405.3 370.6 404.8 367.2 404.3 370.3 403.8 372.2 403.3 366 402.8 367.6 402.3 369.4 401.8 366.6 401.3 366.5 400.8 368.1 400.3 375.6 399.8 366.5 399.3 372.9 398.8 367.3 398.3 367.7 397.8 365.3 397.3 366.5 396.8 365 396.3 369.5 395.8 370.3 395.3 365.9 394.8 364.9 394.3 369.2 393.8 364.4 393.3 365.3 392.8 369.8 392.3 368.1 391.8 366.3Z" fill="#ff0000"/></g><rect x="391.8" y="255.1" width="145.7" height="182.4" fill="none" stroke="#999" stroke-width="1.25"/><path d="M391.8 437.5v-1.5M391.8 255.1v1.5M428.2 437.5v-1.5M428.2 255.1v1.5M464.6 437.5v-1.5M464.6 255.1v1.5M501.1 437.5v-1.5M501.1 255.1v1.5M537.5 437.5v-1.5M537.5 255.1v1.5M391.8 437.5h1.5M537.5 437.5h-1.5M391.8 411.4h1.5M537.5 411.4h-1.5M391.8 385.4h1.5M537.5 385.4h-1.5M391.8 359.3h1.5M537.5 359.3h-1.5M391.8 333.3h1.5M537.5 333.3h-1.5M391.8 307.2h1.5M537.5 307.2h-1.5M391.8 281.2h1.5M537.5 281.2h-1.5M391.8 255.1h1.5M537.5 255.1h-1.5" stroke="#555" stroke-width="0.7" fill="none"/><g font-size="9.8" fill="#222" stroke="#222" stroke-width="0.3"><text x="391.8" y="450.3" text-anchor="middle">0</text><text x="428.2" y="450.3" text-anchor="middle">1</text><text x="464.6" y="450.3" text-anchor="middle">2</text><text x="501.1" y="450.3" text-anchor="middle">3</text><text x="537.5" y="450.3" text-anchor="middle">4</text><text x="388.1" y="441.5" text-anchor="end">50</text><text x="388.1" y="415.5" text-anchor="end">51</text><text x="388.1" y="389.4" text-anchor="end">52</text><text x="388.1" y="363.3" text-anchor="end">53</text><text x="388.1" y="337.3" text-anchor="end">54</text><text x="388.1" y="311.2" text-anchor="end">55</text><text x="388.1" y="285.2" text-anchor="end">56</text><text x="388.1" y="259.1" text-anchor="end">57</text></g><text x="464.6" y="461" text-anchor="middle" font-size="10.78" fill="#1a1a1a" stroke="#1a1a1a" stroke-width="0.25">Time(h)</text><text transform="translate(375.5 346.3) rotate(-90)" text-anchor="middle" font-size="10.78" fill="#1a1a1a" stroke="#1a1a1a" stroke-width="0.22">z-axis CMG(dps)</text><rect x="439.5" y="281.4" width="84.8" height="40.9" fill="#fff" stroke="#666" stroke-width="0.8"/><path d="M441.9 287.4H462.6" stroke="#000" stroke-width="0.8"/><text x="465.2" y="290.6" font-size="9.25" fill="#111" stroke="#111" stroke-width="0.2">Primary</text><path d="M441.9 297H462.6" stroke="#00ff00" stroke-width="0.8"/><text x="465.2" y="300.2" font-size="9.25" fill="#111" stroke="#111" stroke-width="0.2">Conventional 1</text><path d="M441.9 306.6H462.6" stroke="#0000ff" stroke-width="0.8"/><text x="465.2" y="309.8" font-size="9.25" fill="#111" stroke="#111" stroke-width="0.2">Conventional 2</text><path d="M441.9 316.2H462.6" stroke="#ff0000" stroke-width="0.8"/><text x="465.2" y="319.4" font-size="9.25" fill="#111" stroke="#111" stroke-width="0.2">Novel</text></g>
<g><path d="M69.3 501.6V689M106.3 501.6V689M143.3 501.6V689M32.3 665.6H180.3M32.3 642.1H180.3M32.3 618.7H180.3M32.3 595.3H180.3M32.3 571.9H180.3M32.3 548.5H180.3M32.3 525H180.3" stroke="#e3e3e3" stroke-width="0.8" fill="none"/><g clip-path="url(#cc1)"><path d="M62.3 662.4L62.8 660.6 63.3 660 63.8 658.8 64.3 654.7 64.8 653.3 65.3 652 65.8 650 66.3 648.4 66.8 644.2 67.3 640.8 67.8 642.4 68.3 644.8 68.8 642.9 69.3 639.7 69.8 642.3 70.3 642.9 70.8 642.1 71.3 641.6 71.8 641.3 72.3 640.4 72.8 636.5 73.3 637.2 73.8 637.5 74.3 634.3 74.8 633.4 75.3 635.8 75.8 634.7 76.3 635.3 76.8 635.2 77.3 634.2 77.8 634.9 78.3 633.3 78.8 633.5 79.3 631.6 79.8 629.9 80.3 629.3 80.8 626 81.3 627.1 81.8 626.2 82.3 626.1 82.8 624 83.3 620.6 83.8 620.1 84.3 622.8 84.8 619.2 85.3 619.2 85.8 617.4 86.3 615.7 86.8 617.1 87.3 616.4 87.8 613.4 88.3 613.4 88.8 614.2 89.3 611.9 89.8 612.8 90.3 610.7 90.8 610.9 91.3 610.5 91.8 609.3 92.3 608.8 92.8 604 93.3 604.9 93.8 603.9 94.3 602.1 94.8 599.4 95.3 599 95.8 598.2 96.3 595.7 96.8 594.8 97.3 591.1 97.8 594.1 98.3 591.5 98.8 590.7 99.3 589 99.8 590.1 100.3 588.5 100.8 587.6 101.3 585.7 101.8 581.4 102.3 583.3 102.8 580.2 103.3 576.9 103.8 578 104.3 577.1 104.8 573 105.3 573.5 105.8 574.2 106.3 570.9 106.8 571.8 107.3 570.8 107.8 568.5 108.3 566.3 108.8 566.9 109.3 564.5 109.8 564.2 110.3 563.6 110.8 560.5 111.3 562.6 111.8 561.8 112.3 558.9 112.8 558.4 113.3 553.4 113.8 555.8 114.3 552.7 114.8 554.5 115.3 554.8 115.8 552.1 116.3 552.6 116.8 551.1 117.3 545.7 117.8 549 118.3 548 118.8 547.3 119.3 543.3 119.8 546.5 120.3 545 120.8 544.7 121.3 543.6 121.8 541.6 122.3 542 122.8 538.9 123.3 539.8 123.8 540.7 124.3 540 124.8 539.6 125.3 538.2 125.8 536.2 126.3 533.1 126.8 537.5 127.3 534.9 127.8 536.7 128.3 533.5 128.8 534.6 129.3 535.3 129.8 534.2 130.3 531.8 130.8 534.3 131.3 531.3 131.8 533.3 132.3 530.5 132.8 532.3 133.3 533.6 133.8 534.2 134.3 532.3 134.8 531.8 135.3 534.6 135.8 531.8 136.3 533.7 136.8 532.8 137.3 534 137.8 528.7 138.3 532.9 138.8 532.2 139.3 530 139.8 532.2 140.3 532.7 140.8 532.4 141.3 529.5 141.8 532 142.3 532.2 142.8 529.1 143.3 532.2 143.8 529.8 144.3 531.3 144.8 531.3 145.3 527.2 145.8 525.7 146.3 527.5 146.8 529.5 147.3 530.4 147.8 530.3 148.3 530 148.8 527.8 149.3 525.6 149.8 529.9 150.3 529.8 150.8 529.8 151.3 528.4 151.8 529.9 152.3 531 152.8 531.3 153.3 529.2 153.8 531.8 154.3 530.7 154.8 531.8 155.3 531.1 155.8 530.5 156.3 530 156.8 529.8 157.3 527.6 157.8 529.7 158.3 529.4 158.8 528.7 159.3 527.4 159.8 529.4 160.3 528.2 160.8 528.8 161.3 529.1 161.8 526.7 162.3 529.7 162.8 529.2 163.3 529.2 163.8 527.9 164.3 527.3 164.8 528.6 165.3 525.3 165.8 526.8 166.3 528.7 166.8 529.5 167.3 526.7 167.8 527.6 168.3 528.7 168.8 530.3 169.3 528.5 169.8 529.3 170.3 529.5 170.8 527.8 171.3 529.3 171.8 523.9 172.3 527.5 172.8 528.4 173.3 528.8 173.8 528.9 173.8 541.9 173.3 542.6 172.8 545.6 172.3 542.3 171.8 541.6 171.3 543 170.8 541.3 170.3 543.8 169.8 545.8 169.3 540.4 168.8 540.4 168.3 542.6 167.8 542.3 167.3 540.9 166.8 541.5 166.3 541.5 165.8 541.5 165.3 541.6 164.8 542.3 164.3 541.8 163.8 543.5 163.3 541.9 162.8 540.9 162.3 543 161.8 543.5 161.3 542.1 160.8 542.5 160.3 545.3 159.8 541.8 159.3 542.2 158.8 541.8 158.3 546.7 157.8 541.5 157.3 542.1 156.8 541.3 156.3 543.3 155.8 541.9 155.3 540.2 154.8 539.9 154.3 543.4 153.8 540.6 153.3 539.4 152.8 541.7 152.3 541.2 151.8 546.3 151.3 546 150.8 541.8 150.3 542.2 149.8 541.9 149.3 542.2 148.8 542 148.3 544.4 147.8 543.9 147.3 543.3 146.8 543.6 146.3 543.9 145.8 544.2 145.3 544.7 144.8 543.6 144.3 545.9 143.8 542 143.3 542.3 142.8 542.2 142.3 543.8 141.8 543.9 141.3 544 140.8 543.5 140.3 545.7 139.8 543.7 139.3 544.3 138.8 545.5 138.3 544.4 137.8 544.7 137.3 545 136.8 544.2 136.3 547.3 135.8 549.5 135.3 548.5 134.8 548.8 134.3 550.3 133.8 548.2 133.3 547.9 132.8 550.1 132.3 548 131.8 549.1 131.3 550.5 130.8 549.2 130.3 551.5 129.8 552.8 129.3 549.9 128.8 555.4 128.3 552.8 127.8 552 127.3 551.6 126.8 553.4 126.3 552.8 125.8 555.4 125.3 556.2 124.8 553.3 124.3 554.4 123.8 557.8 123.3 555.4 122.8 559.7 122.3 559.1 121.8 558.9 121.3 557.9 120.8 558.9 120.3 559.9 119.8 559.2 119.3 564 118.8 561.5 118.3 562.4 117.8 562.8 117.3 563.3 116.8 564 116.3 565.4 115.8 567.3 115.3 566.5 114.8 568.1 114.3 569.1 113.8 570.9 113.3 572.2 112.8 571.9 112.3 574.6 111.8 573.4 111.3 574.9 110.8 575.8 110.3 577.3 109.8 579.5 109.3 580.4 108.8 582.4 108.3 581.8 107.8 586.2 107.3 583.4 106.8 589.9 106.3 587.2 105.8 589.3 105.3 588.7 104.8 595.3 104.3 593.6 103.8 594.8 103.3 594.6 102.8 597.1 102.3 600 101.8 598.4 101.3 599.2 100.8 600.2 100.3 601.3 99.8 603.9 99.3 604.4 98.8 605.8 98.3 607.5 97.8 607.9 97.3 609.9 96.8 611.1 96.3 612 95.8 614.5 95.3 616.8 94.8 614.8 94.3 619.5 93.8 620.1 93.3 620.3 92.8 618.5 92.3 619.9 91.8 621.6 91.3 621.7 90.8 623.3 90.3 624.5 89.8 626.5 89.3 628.3 88.8 628.5 88.3 630.3 87.8 630.2 87.3 630.1 86.8 632.1 86.3 632.6 85.8 634.1 85.3 639 84.8 636.8 84.3 637.2 83.8 638.6 83.3 639.1 82.8 640.1 82.3 640.7 81.8 640.5 81.3 641.5 80.8 644.3 80.3 642.5 79.8 643.4 79.3 647.1 78.8 644.1 78.3 645.2 77.8 649 77.3 647.5 76.8 648 76.3 650.4 75.8 650.2 75.3 651.2 74.8 650.9 74.3 653.3 73.8 655 73.3 653.4 72.8 652.9 72.3 654.8 71.8 653.9 71.3 658.8 70.8 654.8 70.3 655.3 69.8 656.5 69.3 657.1 68.8 658.4 68.3 662.9 67.8 663.3 67.3 659.9 66.8 663 66.3 660.3 65.8 660.6 65.3 661.5 64.8 661.9 64.3 663.1 63.8 664 63.3 665.9 62.8 667.5 62.3 667.8Z" fill="#000"/><path d="M32.3 655.5L32.8 659.6 33.3 660 33.8 660.1 34.3 660.5 34.8 659.9 35.3 658.9 35.8 661 36.3 660.7 36.8 658.5 37.3 658 37.8 659.5 38.3 660.4 38.8 660.2 39.3 660 39.8 660.3 40.3 660.3 40.8 660 41.3 660.6 41.8 660.4 42.3 657.3 42.8 659.6 43.3 660 43.8 660 44.3 658.9 44.8 657 45.3 659.5 45.8 659.4 46.3 656.6 46.8 658.4 47.3 659.5 47.8 660.7 48.3 659 48.8 660.5 49.3 661.4 49.8 661.8 50.3 662.4 50.8 662.4 51.3 662.9 51.8 662.3 52.3 662.6 52.8 661.7 53.3 662.1 53.8 661.9 54.3 658.6 54.8 661.8 55.3 661.3 55.8 660.3 56.3 659.9 56.8 659.3 57.3 659.9 57.8 658.9 58.3 659.9 58.8 660.2 59.3 659.8 59.8 660 60.3 661 60.8 659.9 61.3 660.9 61.8 659.7 62.3 658.7 62.8 660.3 63.3 660 63.8 657.9 64.3 658 64.8 659.4 65.3 660.6 65.8 660.3 66.3 661.1 66.8 659.1 67.3 660.1 67.8 660.1 68.3 659.9 68.8 659.3 69.3 659.2 69.8 656 70.3 658.4 70.8 658.4 71.3 658.9 71.8 656.8 72.3 659.4 72.8 655.8 73.3 659.3 73.8 659.7 74.3 659.8 74.8 659.7 75.3 659.8 75.8 660.1 76.3 659.3 76.8 659.6 77.3 659.5 77.8 659.7 78.3 658.5 78.8 660 79.3 660.7 79.8 660.8 80.3 660.6 80.8 661 81.3 660.6 81.8 661.7 82.3 659.6 82.8 660.1 83.3 660.1 83.8 658.8 84.3 660.2 84.8 659.7 85.3 660 85.8 660.4 86.3 660.5 86.8 660.4 87.3 660.6 87.8 659.8 88.3 659.1 88.8 658.8 89.3 659.5 89.8 657.6 90.3 658.6 90.8 659 91.3 660.2 91.8 658.7 92.3 659.4 92.8 659.9 93.3 659.8 93.8 659.7 94.3 660 94.8 656.9 95.3 659.5 95.8 656.6 96.3 660.3 96.8 659 97.3 659.1 97.8 661.5 98.3 661 98.8 662.3 99.3 663 99.8 663.2 100.3 663.5 100.8 663.7 101.3 661.1 101.8 661.9 102.3 658 102.8 663.4 103.3 662.4 103.8 663 104.3 661.8 104.8 662.8 105.3 662.1 105.8 661.5 106.3 661 106.8 660.8 107.3 659.6 107.8 659.7 108.3 659.7 108.8 660.3 109.3 659.4 109.8 659.7 110.3 659.4 110.8 660.3 111.3 659.3 111.8 659.7 112.3 660.8 112.8 660.2 113.3 661.1 113.8 661.3 114.3 661.9 114.8 662.5 115.3 660.3 115.8 661.4 116.3 662.5 116.8 662.2 117.3 662.1 117.8 661.5 118.3 660 118.8 657 119.3 657.1 119.8 659.2 120.3 661.3 120.8 661.4 121.3 660.8 121.8 661.7 122.3 661 122.8 661.4 123.3 658.6 123.8 662.9 124.3 662.7 124.8 662.3 125.3 659.8 125.8 661.8 126.3 661.2 126.8 661.1 127.3 661.1 127.8 660.7 128.3 661.5 128.8 661.4 129.3 662.1 129.8 661.8 130.3 662.1 130.8 661.5 131.3 661.2 131.8 662.2 132.3 662.2 132.8 661.7 133.3 661.5 133.8 660.6 134.3 661.3 134.8 661.2 135.3 661.8 135.8 661.9 136.3 659.8 136.8 661 137.3 661.4 137.8 660.7 138.3 660.1 138.8 659.8 139.3 658.1 139.8 659.2 140.3 658.8 140.8 658.9 141.3 657.8 141.8 659.4 142.3 660.1 142.8 659.6 143.3 658.8 143.8 660.1 144.3 660 144.8 660.4 145.3 659.8 145.8 659.3 146.3 660.6 146.8 660 147.3 660.5 147.8 659.7 148.3 661.3 148.8 660.8 149.3 661.7 149.8 661.2 150.3 661.5 150.8 661.2 151.3 660.4 151.8 656.9 152.3 660.6 152.8 660.3 153.3 660.8 153.8 660.9 154.3 660.9 154.8 659.4 155.3 661 155.8 660.4 156.3 660.8 156.8 662 157.3 659.2 157.8 662.3 158.3 661.9 158.8 662.7 159.3 662.4 159.8 663.3 160.3 660.5 160.8 662.6 161.3 662.2 161.8 661.6 162.3 661 162.8 660.7 163.3 654.8 163.8 659.7 164.3 659.6 164.8 659.4 165.3 656.4 165.8 655.4 166.3 658.9 166.8 658.6 167.3 658.6 167.8 658.2 168.3 659.8 168.8 660.2 169.3 660.6 169.8 659.1 170.3 658.6 170.8 661 171.3 660.3 171.8 659.6 172.3 661.8 172.8 661.7 173.3 659.5 173.8 661.6 173.8 673 173.3 670.3 172.8 670.8 172.3 670.4 171.8 670.8 171.3 670.3 170.8 670.5 170.3 670.5 169.8 670 169.3 670 168.8 669.8 168.3 669.6 167.8 670.1 167.3 669.4 166.8 670.2 166.3 669.4 165.8 670.4 165.3 669.5 164.8 668.9 164.3 668.5 163.8 669.2 163.3 668.7 162.8 668.9 162.3 671 161.8 669.4 161.3 671.1 160.8 670.9 160.3 672.5 159.8 671.4 159.3 672.6 158.8 673.8 158.3 671.9 157.8 671.8 157.3 672.6 156.8 673.2 156.3 671.5 155.8 673.5 155.3 671.4 154.8 671.6 154.3 671.4 153.8 671.2 153.3 670.6 152.8 671.3 152.3 669.4 151.8 670.2 151.3 669.9 150.8 670 150.3 670.1 149.8 670.4 149.3 672.5 148.8 670.2 148.3 670.5 147.8 670.9 147.3 671.8 146.8 672.1 146.3 671.1 145.8 670.7 145.3 670.5 144.8 669.4 144.3 668.4 143.8 669 143.3 667.9 142.8 667.9 142.3 667.7 141.8 668.7 141.3 673.3 140.8 669.9 140.3 672 139.8 670.5 139.3 671.7 138.8 671.7 138.3 672.2 137.8 671 137.3 670.9 136.8 671 136.3 671.2 135.8 671.7 135.3 672.7 134.8 672.1 134.3 673 133.8 672.8 133.3 672.3 132.8 672.7 132.3 671.8 131.8 671.6 131.3 672.5 130.8 670.9 130.3 670.5 129.8 672.1 129.3 670.8 128.8 671 128.3 670.7 127.8 669.9 127.3 671.2 126.8 670.6 126.3 670.3 125.8 671.3 125.3 670.5 124.8 672.3 124.3 670.5 123.8 673.9 123.3 671.9 122.8 674.3 122.3 673.8 121.8 671.3 121.3 672.5 120.8 671.5 120.3 671.3 119.8 672.4 119.3 672.8 118.8 671 118.3 671.3 117.8 672.5 117.3 669.8 116.8 670.4 116.3 668.8 115.8 668.9 115.3 668.8 114.8 668.9 114.3 669.9 113.8 669.5 113.3 670.2 112.8 669.4 112.3 670.5 111.8 672 111.3 670.3 110.8 670.2 110.3 670.4 109.8 669.6 109.3 672.3 108.8 671.3 108.3 670.9 107.8 672.8 107.3 672.5 106.8 672.5 106.3 673.9 105.8 672.7 105.3 672.7 104.8 674.1 104.3 674 103.8 675 103.3 675.1 102.8 675.2 102.3 673.4 101.8 673.6 101.3 673.5 100.8 673.6 100.3 672.5 99.8 672.4 99.3 671.5 98.8 671.4 98.3 671.2 97.8 673 97.3 670.6 96.8 670.1 96.3 670.4 95.8 669.2 95.3 668.7 94.8 668.7 94.3 669.2 93.8 669.2 93.3 669.3 92.8 669.6 92.3 670.7 91.8 669.5 91.3 672 90.8 670.5 90.3 670.6 89.8 673.2 89.3 671.3 88.8 670.8 88.3 670.5 87.8 669.6 87.3 669.6 86.8 670.4 86.3 670.3 85.8 670 85.3 670.3 84.8 674 84.3 672 83.8 673.8 83.3 671.8 82.8 672.3 82.3 672.6 81.8 673.3 81.3 671.5 80.8 671.8 80.3 672 79.8 671.8 79.3 672.9 78.8 671.5 78.3 672.1 77.8 671.6 77.3 670.5 76.8 672.1 76.3 670.2 75.8 669.7 75.3 670.2 74.8 669.9 74.3 673 73.8 668.5 73.3 668.6 72.8 668.1 72.3 667.9 71.8 668.1 71.3 669 70.8 668.1 70.3 671.6 69.8 668.8 69.3 668.8 68.8 671.3 68.3 669.5 67.8 669.2 67.3 668.7 66.8 669.6 66.3 672.2 65.8 670.2 65.3 671.2 64.8 671.5 64.3 670.5 63.8 671.9 63.3 671.6 62.8 670.1 62.3 670.1 61.8 671.6 61.3 670.1 60.8 670.4 60.3 670.7 59.8 670.9 59.3 671.8 58.8 672.2 58.3 672.4 57.8 671.8 57.3 672.6 56.8 671.9 56.3 671.7 55.8 674.2 55.3 671.7 54.8 671.1 54.3 671.8 53.8 672.6 53.3 673.2 52.8 671.6 52.3 670.8 51.8 672.9 51.3 670.3 50.8 670.7 50.3 670.9 49.8 671.6 49.3 670.7 48.8 670.9 48.3 670.9 47.8 670.2 47.3 670.3 46.8 672.8 46.3 671.4 45.8 671.8 45.3 669.2 44.8 670.3 44.3 668.6 43.8 672.3 43.3 668.2 42.8 668.8 42.3 669.1 41.8 669.9 41.3 670.3 40.8 670 40.3 671.3 39.8 673.1 39.3 672.4 38.8 671.7 38.3 671.5 37.8 673.7 37.3 670.8 36.8 670.9 36.3 670.1 35.8 670.5 35.3 669.4 34.8 670 34.3 670.3 33.8 669.8 33.3 667.9 32.8 671.7 32.3 669.3Z" fill="#00ff00"/><path d="M32.3 661.1L32.8 660 33.3 661.2 33.8 660.3 34.3 660.9 34.8 661.8 35.3 662.2 35.8 661.4 36.3 659.3 36.8 660.8 37.3 660.6 37.8 662 38.3 661.8 38.8 661.9 39.3 661.2 39.8 661.7 40.3 660.2 40.8 660.6 41.3 660.6 41.8 660.1 42.3 659.3 42.8 658.3 43.3 659.2 43.8 658.2 44.3 656.9 44.8 660 45.3 658.6 45.8 660.5 46.3 660.4 46.8 661.2 47.3 661.3 47.8 661.4 48.3 662 48.8 658.9 49.3 661.4 49.8 663 50.3 663 50.8 662.9 51.3 661.4 51.8 661.9 52.3 659.2 52.8 660.5 53.3 660 53.8 660.9 54.3 660.1 54.8 661 55.3 659.1 55.8 660.1 56.3 660.5 56.8 660.9 57.3 660.2 57.8 660.1 58.3 659.9 58.8 660 59.3 659.1 59.8 659.2 60.3 659.5 60.8 657.3 61.3 659.6 61.8 659.8 62.3 660.5 62.8 658.8 63.3 660.6 63.8 659.9 64.3 661.5 64.8 661.4 65.3 658.1 65.8 661.6 66.3 661.3 66.8 659.5 67.3 659.4 67.8 659.9 68.3 658 68.8 657.9 69.3 658.4 69.8 656.4 70.3 658.4 70.8 658.6 71.3 658.8 71.8 658.4 72.3 656.7 72.8 655.1 73.3 660.8 73.8 661.2 74.3 661.2 74.8 660.9 75.3 661.4 75.8 660.1 76.3 659.3 76.8 659 77.3 659.3 77.8 659.6 78.3 658.9 78.8 655.4 79.3 657.1 79.8 658.3 80.3 658.5 80.8 659.2 81.3 658.7 81.8 660.5 82.3 660.8 82.8 662 83.3 663 83.8 661.7 84.3 663.8 84.8 664.3 85.3 664.4 85.8 664.3 86.3 665 86.8 661.3 87.3 665.3 87.8 664.5 88.3 664 88.8 664.4 89.3 664.3 89.8 664.5 90.3 664.2 90.8 663.1 91.3 663.5 91.8 662.7 92.3 663 92.8 661.7 93.3 662.5 93.8 661.4 94.3 662.3 94.8 661.6 95.3 661.6 95.8 660.6 96.3 660.5 96.8 659.4 97.3 660.8 97.8 661.8 98.3 659.1 98.8 657.9 99.3 659.8 99.8 661.3 100.3 662.3 100.8 661.4 101.3 660.3 101.8 661.9 102.3 661.2 102.8 661.9 103.3 661.8 103.8 661.2 104.3 661.8 104.8 661.8 105.3 661.7 105.8 660.7 106.3 660.9 106.8 660.7 107.3 661.6 107.8 661.1 108.3 661.3 108.8 661.2 109.3 660.1 109.8 660.1 110.3 659.5 110.8 658.6 111.3 657.4 111.8 658.6 112.3 658.3 112.8 658.5 113.3 659.6 113.8 660 114.3 659.8 114.8 660 115.3 660.8 115.8 661.3 116.3 661.4 116.8 662 117.3 658.7 117.8 663.1 118.3 662 118.8 661.5 119.3 662.5 119.8 659.3 120.3 661.5 120.8 659.9 121.3 661.7 121.8 661.2 122.3 659.2 122.8 657.4 123.3 660.4 123.8 658 124.3 660.2 124.8 660.1 125.3 659.4 125.8 659 126.3 658.1 126.8 659.1 127.3 656.1 127.8 656.5 128.3 657.4 128.8 657.4 129.3 659.4 129.8 660.2 130.3 659.8 130.8 660.8 131.3 660.8 131.8 660.3 132.3 659.7 132.8 658.8 133.3 659.7 133.8 659 134.3 657.5 134.8 656.8 135.3 658.8 135.8 658.7 136.3 659.3 136.8 659.3 137.3 659.2 137.8 660.2 138.3 661.3 138.8 661.8 139.3 661.3 139.8 659 140.3 660.9 140.8 661.3 141.3 659.2 141.8 660.5 142.3 659.4 142.8 659.5 143.3 659.7 143.8 660.9 144.3 661.1 144.8 660.8 145.3 661.2 145.8 661 146.3 660.9 146.8 661.8 147.3 661.8 147.8 661.3 148.3 658.5 148.8 661.6 149.3 660.5 149.8 657.9 150.3 661 150.8 660 151.3 660.5 151.8 659.7 152.3 659.4 152.8 661.1 153.3 660.3 153.8 661.4 154.3 659.1 154.8 662.1 155.3 661.8 155.8 656.9 156.3 662.7 156.8 662.2 157.3 662.7 157.8 662.7 158.3 663.2 158.8 660.2 159.3 663.2 159.8 662.2 160.3 657.4 160.8 662.6 161.3 662.1 161.8 660.8 162.3 661.9 162.8 660.6 163.3 661 163.8 660.9 164.3 659.8 164.8 661 165.3 660.7 165.8 659.9 166.3 657.9 166.8 659.9 167.3 659.3 167.8 659.7 168.3 659 168.8 659.1 169.3 657.9 169.8 657.4 170.3 658 170.8 655.2 171.3 657.5 171.8 658.1 172.3 658.1 172.8 658.5 173.3 657.6 173.8 658.5 173.8 671.2 173.3 670.3 172.8 673.2 172.3 672 171.8 671.1 171.3 669.8 170.8 669.4 170.3 670.7 169.8 671 169.3 668.7 168.8 669.4 168.3 669.7 167.8 669.5 167.3 669.9 166.8 670.4 166.3 669.7 165.8 672.3 165.3 669.6 164.8 670 164.3 670.8 163.8 670.1 163.3 670.4 162.8 670 162.3 670.2 161.8 670.7 161.3 670.6 160.8 671.7 160.3 673 159.8 671.8 159.3 671.8 158.8 673.2 158.3 672 157.8 674.7 157.3 673.1 156.8 672.7 156.3 676.4 155.8 672.2 155.3 673.3 154.8 671.3 154.3 671.2 153.8 670.8 153.3 670.8 152.8 671.8 152.3 669.7 151.8 669.7 151.3 670.9 150.8 670 150.3 672 149.8 671.2 149.3 669.8 148.8 671.2 148.3 670.9 147.8 670.4 147.3 670.2 146.8 670.1 146.3 671 145.8 670.1 145.3 671.4 144.8 671.8 144.3 671 143.8 671.3 143.3 671.3 142.8 672.1 142.3 672.7 141.8 671.3 141.3 671.7 140.8 672.4 140.3 671.1 139.8 670.4 139.3 671 138.8 670.8 138.3 670.7 137.8 672.5 137.3 673 136.8 671.5 136.3 670.9 135.8 671.8 135.3 671.1 134.8 671.5 134.3 672 133.8 671 133.3 673.5 132.8 671.6 132.3 670.3 131.8 670.9 131.3 669.8 130.8 670.1 130.3 670 129.8 670.1 129.3 669.9 128.8 670.7 128.3 674.4 127.8 669.2 127.3 668.5 126.8 668.2 126.3 669.2 125.8 670.3 125.3 671.3 124.8 670.1 124.3 669.5 123.8 670.7 123.3 669.9 122.8 670 122.3 670.2 121.8 672.9 121.3 673.3 120.8 672.6 120.3 672.2 119.8 671.6 119.3 671.8 118.8 672.4 118.3 670.7 117.8 670.8 117.3 670.5 116.8 670.3 116.3 669.8 115.8 671.3 115.3 669.6 114.8 669.5 114.3 669.1 113.8 669.3 113.3 669.5 112.8 669.4 112.3 670 111.8 672.4 111.3 669.7 110.8 669.9 110.3 671.5 109.8 670.9 109.3 670.5 108.8 670.4 108.3 671.2 107.8 671.1 107.3 669.6 106.8 670.4 106.3 669.8 105.8 669.8 105.3 670.7 104.8 671.4 104.3 671 103.8 672.5 103.3 671.2 102.8 672.9 102.3 672.6 101.8 671.8 101.3 671.1 100.8 671.7 100.3 671.6 99.8 671.2 99.3 673.7 98.8 671.6 98.3 672.6 97.8 673 97.3 672.3 96.8 672.4 96.3 673.5 95.8 672.6 95.3 672.6 94.8 673.9 94.3 672.8 93.8 672.7 93.3 673 92.8 675.5 92.3 673.6 91.8 673.1 91.3 674.8 90.8 673.8 90.3 674 89.8 674.2 89.3 673.2 88.8 673.2 88.3 673.4 87.8 673.2 87.3 673.5 86.8 674.8 86.3 673 85.8 672.8 85.3 672.6 84.8 672.4 84.3 671.7 83.8 672.9 83.3 671.2 82.8 671 82.3 672 81.8 670.6 81.3 673.4 80.8 670.8 80.3 671.1 79.8 670.1 79.3 670.2 78.8 672.5 78.3 669.1 77.8 669 77.3 668.5 76.8 668.9 76.3 668.5 75.8 668.1 75.3 668.3 74.8 669.5 74.3 669.3 73.8 669.8 73.3 670.8 72.8 671.8 72.3 670.8 71.8 675.7 71.3 670.1 70.8 672 70.3 671 69.8 671.3 69.3 670.5 68.8 671 68.3 671.2 67.8 671.5 67.3 671.9 66.8 670 66.3 674.2 65.8 669.7 65.3 670 64.8 671.9 64.3 670 63.8 670 63.3 671.2 62.8 672.6 62.3 669.6 61.8 671.4 61.3 670.5 60.8 672.3 60.3 669.9 59.8 670.7 59.3 670.9 58.8 670.4 58.3 672 57.8 670.1 57.3 671.4 56.8 673 56.3 672.5 55.8 670.3 55.3 669.7 54.8 670.4 54.3 670.5 53.8 670.4 53.3 670.9 52.8 672.6 52.3 670.9 51.8 670.7 51.3 670.7 50.8 670.9 50.3 670.2 49.8 674.1 49.3 671.1 48.8 672.6 48.3 671.6 47.8 671.6 47.3 670.2 46.8 670.7 46.3 669.9 45.8 670.5 45.3 669.3 44.8 669.5 44.3 669.5 43.8 669.3 43.3 669.3 42.8 670.2 42.3 670.2 41.8 670 41.3 672.1 40.8 670.6 40.3 671.5 39.8 672.2 39.3 671.1 38.8 671.9 38.3 672.2 37.8 672 37.3 675.4 36.8 677.2 36.3 672.9 35.8 672.4 35.3 671.9 34.8 674.1 34.3 671.9 33.8 672 33.3 671.2 32.8 671.8 32.3 672.1Z" fill="#0000ff"/><path d="M32.3 660.3L32.8 660.5 33.3 661.1 33.8 657.6 34.3 661.2 34.8 660.8 35.3 657.4 35.8 659.8 36.3 657.5 36.8 660.3 37.3 659.9 37.8 659.7 38.3 660 38.8 651.8 39.3 650.6 39.8 658.2 40.3 657.3 40.8 655.4 41.3 658.9 41.8 658.9 42.3 659.9 42.8 657.8 43.3 659.7 43.8 660.7 44.3 660.7 44.8 659 45.3 658.6 45.8 657.9 46.3 659 46.8 659.6 47.3 658.6 47.8 659.2 48.3 659.6 48.8 658.5 49.3 657.8 49.8 660.3 50.3 656.7 50.8 660.2 51.3 659.9 51.8 659.3 52.3 657.4 52.8 659.8 53.3 658.7 53.8 659.4 54.3 659.2 54.8 660.7 55.3 661.3 55.8 657.7 56.3 660.5 56.8 660.3 57.3 658.6 57.8 659.7 58.3 659 58.8 658.3 59.3 659.4 59.8 657.8 60.3 659.7 60.8 660.2 61.3 660.1 61.8 660.1 62.3 659.8 62.8 660.2 63.3 659.9 63.8 659.8 64.3 658.8 64.8 660.3 65.3 660.2 65.8 656.7 66.3 660.2 66.8 657.2 67.3 660.5 67.8 657.8 68.3 653.6 68.8 658.9 69.3 658.3 69.8 654.2 70.3 660.3 70.8 660.2 71.3 660.4 71.8 660.2 72.3 658.3 72.8 656.9 73.3 660.1 73.8 660 74.3 659.4 74.8 658.1 75.3 659.3 75.8 659.3 76.3 658.9 76.8 660 77.3 660.8 77.8 661.2 78.3 656.5 78.8 661.1 79.3 653.7 79.8 660.4 80.3 659.6 80.8 659.5 81.3 659.4 81.8 659.8 82.3 659.4 82.8 659.9 83.3 659.7 83.8 658.5 84.3 659.7 84.8 656.9 85.3 659 85.8 659.5 86.3 659.4 86.8 658.2 87.3 659.9 87.8 654.5 88.3 659.9 88.8 659.8 89.3 659.7 89.8 652.8 90.3 659.8 90.8 659.7 91.3 657.8 91.8 659.8 92.3 658.7 92.8 659.2 93.3 656.9 93.8 658.1 94.3 659.4 94.8 657 95.3 657.8 95.8 659.2 96.3 659.2 96.8 659.8 97.3 657.7 97.8 658.2 98.3 658.3 98.8 659 99.3 658.3 99.8 654.5 100.3 658.9 100.8 657.5 101.3 657.1 101.8 657.9 102.3 659.9 102.8 659.4 103.3 658.9 103.8 660.3 104.3 659.7 104.8 657.2 105.3 658.2 105.8 659.3 106.3 657.8 106.8 656 107.3 659.8 107.8 659.8 108.3 659.9 108.8 659.1 109.3 659.8 109.8 660.1 110.3 657.5 110.8 659.6 111.3 657.4 111.8 658.5 112.3 660.5 112.8 660.1 113.3 660.4 113.8 661.1 114.3 654 114.8 661 115.3 655.4 115.8 657.5 116.3 656.8 116.8 660.2 117.3 659.7 117.8 660.3 118.3 659.3 118.8 658.6 119.3 659 119.8 659.3 120.3 659.6 120.8 658.6 121.3 658 121.8 659.7 122.3 658.3 122.8 658.3 123.3 659.2 123.8 660.3 124.3 659.8 124.8 660.3 125.3 659.3 125.8 658.1 126.3 660.6 126.8 659 127.3 660.5 127.8 660.3 128.3 655.4 128.8 657 129.3 659.9 129.8 660 130.3 660.2 130.8 659.1 131.3 659.1 131.8 659.8 132.3 660.1 132.8 659.3 133.3 658.9 133.8 653.9 134.3 656.7 134.8 657.8 135.3 658.1 135.8 658.6 136.3 657.7 136.8 657.5 137.3 658.3 137.8 660.2 138.3 660 138.8 660 139.3 660.4 139.8 660.2 140.3 660.1 140.8 660.4 141.3 660.1 141.8 659.8 142.3 659.6 142.8 658.6 143.3 659.4 143.8 657.7 144.3 659 144.8 657.1 145.3 658.9 145.8 657.3 146.3 655.8 146.8 651.5 147.3 658.2 147.8 658.8 148.3 657.2 148.8 658.3 149.3 660.1 149.8 660.2 150.3 660.9 150.8 657.3 151.3 660.7 151.8 659.1 152.3 656.1 152.8 658.7 153.3 660 153.8 660.1 154.3 660 154.8 659.7 155.3 660.9 155.8 660.6 156.3 658.2 156.8 660.5 157.3 660.1 157.8 661 158.3 659 158.8 658.1 159.3 660.3 159.8 659.5 160.3 660.1 160.8 657.2 161.3 660.3 161.8 659.1 162.3 660.2 162.8 659.4 163.3 660 163.8 659.7 164.3 656.1 164.8 659 165.3 658.7 165.8 659.9 166.3 661 166.8 661 167.3 661.8 167.8 660.6 168.3 661.7 168.8 661 169.3 660.9 169.8 658.2 170.3 659.8 170.8 660.6 171.3 660.5 171.8 659.8 172.3 658.8 172.8 657.6 173.3 660 173.8 657.2 173.8 671.4 173.3 672.3 172.8 674.2 172.3 672.9 171.8 672.1 171.3 670.8 170.8 670.5 170.3 670.2 169.8 673.3 169.3 670.2 168.8 669.9 168.3 670 167.8 670.2 167.3 672.7 166.8 670 166.3 670.3 165.8 670.6 165.3 671.2 164.8 672.1 164.3 672.2 163.8 672.3 163.3 673.9 162.8 676.4 162.3 673.6 161.8 678.4 161.3 673.1 160.8 675 160.3 672.1 159.8 671.9 159.3 670.9 158.8 670.5 158.3 673.8 157.8 670.1 157.3 669.2 156.8 671.2 156.3 671.6 155.8 673.3 155.3 670.4 154.8 671.4 154.3 671.3 153.8 670.9 153.3 672 152.8 671.1 152.3 671.3 151.8 670.3 151.3 672.2 150.8 673.8 150.3 670.6 149.8 671.8 149.3 671.6 148.8 671.8 148.3 673 147.8 677.2 147.3 674.4 146.8 674.8 146.3 672.6 145.8 672.4 145.3 674.1 144.8 673.4 144.3 672.7 143.8 671.3 143.3 673.2 142.8 671.6 142.3 670.7 141.8 671.1 141.3 671.6 140.8 671.7 140.3 671.1 139.8 670.5 139.3 677.2 138.8 670.6 138.3 671.1 137.8 671.7 137.3 671 136.8 673.2 136.3 671 135.8 671 135.3 671.8 134.8 672.3 134.3 674.2 133.8 671.3 133.3 671.1 132.8 673.2 132.3 671.1 131.8 671.7 131.3 671.1 130.8 673 130.3 671.7 129.8 672.8 129.3 672.3 128.8 670.8 128.3 675.4 127.8 671.7 127.3 671.4 126.8 670.5 126.3 670.7 125.8 673.2 125.3 670.7 124.8 675.1 124.3 671.4 123.8 670.5 123.3 671.2 122.8 671.3 122.3 671.7 121.8 671.1 121.3 672.5 120.8 672 120.3 675.5 119.8 672.6 119.3 673.5 118.8 671.2 118.3 675.4 117.8 676.7 117.3 671.4 116.8 671.2 116.3 672.1 115.8 670.5 115.3 671.9 114.8 670.3 114.3 672 113.8 672.5 113.3 669.9 112.8 669.5 112.3 669.7 111.8 669.6 111.3 671.2 110.8 671.1 110.3 673 109.8 671.5 109.3 671.5 108.8 671.3 108.3 672.1 107.8 671.7 107.3 671.8 106.8 674.8 106.3 673.6 105.8 671.3 105.3 673.9 104.8 671.1 104.3 671.5 103.8 671.5 103.3 671.6 102.8 676.9 102.3 673.4 101.8 672.1 101.3 671.5 100.8 672.2 100.3 673 99.8 672.4 99.3 672.1 98.8 673.7 98.3 674.5 97.8 671.6 97.3 671.6 96.8 673.3 96.3 670.8 95.8 672.2 95.3 671 94.8 671.3 94.3 671.8 93.8 673.3 93.3 672 92.8 677.2 92.3 673.5 91.8 672.6 91.3 675.1 90.8 671.5 90.3 671.2 89.8 681 89.3 671.7 88.8 671.5 88.3 672.1 87.8 673.2 87.3 671.4 86.8 671.2 86.3 675.1 85.8 673.1 85.3 672 84.8 671.5 84.3 672.8 83.8 672.7 83.3 673.8 82.8 672.8 82.3 671.6 81.8 671.5 81.3 671.2 80.8 671.4 80.3 672.3 79.8 672.4 79.3 670.2 78.8 676.2 78.3 670.3 77.8 672.1 77.3 670.7 76.8 671.6 76.3 671.4 75.8 672.3 75.3 672.5 74.8 671.2 74.3 678.4 73.8 672.4 73.3 671.5 72.8 671.6 72.3 671.5 71.8 671.1 71.3 671.2 70.8 670.7 70.3 670.9 69.8 672.3 69.3 676.2 68.8 672 68.3 671.6 67.8 670.5 67.3 670.8 66.8 674.8 66.3 670.7 65.8 671.2 65.3 671.1 64.8 671.7 64.3 670.6 63.8 672.5 63.3 672 62.8 670.1 62.3 670.3 61.8 671.5 61.3 671.8 60.8 671.1 60.3 677.4 59.8 671.6 59.3 672.6 58.8 672.5 58.3 671.3 57.8 672.6 57.3 670.8 56.8 670.4 56.3 670.1 55.8 670.7 55.3 669.9 54.8 671.7 54.3 672.9 53.8 671.1 53.3 671.5 52.8 671.7 52.3 673.6 51.8 671.9 51.3 674.8 50.8 672.5 50.3 671 49.8 671.2 49.3 671.7 48.8 670.9 48.3 671.1 47.8 672.7 47.3 678.2 46.8 679.8 46.3 673.8 45.8 671 45.3 670.8 44.8 671.3 44.3 670.7 43.8 670.4 43.3 669.9 42.8 671 42.3 671.2 41.8 671.3 41.3 673.2 40.8 672.5 40.3 673.9 39.8 671.9 39.3 673.1 38.8 673 38.3 671.6 37.8 671.1 37.3 670.4 36.8 670.3 36.3 670.2 35.8 674.4 35.3 673.5 34.8 670.2 34.3 669.9 33.8 674.5 33.3 671.5 32.8 671.2 32.3 674Z" fill="#ff0000"/></g><rect x="32.3" y="501.6" width="148" height="187.4" fill="none" stroke="#999" stroke-width="1.25"/><path d="M32.3 689v-1.5M32.3 501.6v1.5M69.3 689v-1.5M69.3 501.6v1.5M106.3 689v-1.5M106.3 501.6v1.5M143.3 689v-1.5M143.3 501.6v1.5M180.3 689v-1.5M180.3 501.6v1.5M32.3 689h1.5M180.3 689h-1.5M32.3 665.6h1.5M180.3 665.6h-1.5M32.3 642.1h1.5M180.3 642.1h-1.5M32.3 618.7h1.5M180.3 618.7h-1.5M32.3 595.3h1.5M180.3 595.3h-1.5M32.3 571.9h1.5M180.3 571.9h-1.5M32.3 548.5h1.5M180.3 548.5h-1.5M32.3 525h1.5M180.3 525h-1.5M32.3 501.6h1.5M180.3 501.6h-1.5" stroke="#555" stroke-width="0.7" fill="none"/><g font-size="10.1" fill="#222" stroke="#222" stroke-width="0.3"><text x="32.3" y="701.9" text-anchor="middle">0</text><text x="69.3" y="701.9" text-anchor="middle">1</text><text x="106.3" y="701.9" text-anchor="middle">2</text><text x="143.3" y="701.9" text-anchor="middle">3</text><text x="180.3" y="701.9" text-anchor="middle">4</text><text x="28.5" y="693.1" text-anchor="end">24</text><text x="28.5" y="669.7" text-anchor="end">25</text><text x="28.5" y="646.3" text-anchor="end">26</text><text x="28.5" y="622.9" text-anchor="end">27</text><text x="28.5" y="599.4" text-anchor="end">28</text><text x="28.5" y="576" text-anchor="end">29</text><text x="28.5" y="552.6" text-anchor="end">30</text><text x="28.5" y="529.2" text-anchor="end">31</text><text x="28.5" y="505.7" text-anchor="end">32</text></g><text x="106.3" y="713.3" text-anchor="middle" font-size="11.11" fill="#1a1a1a" stroke="#1a1a1a" stroke-width="0.25">Time(h)</text><text transform="translate(14.6 595.3) rotate(-90)" text-anchor="middle" font-size="11.11" fill="#1a1a1a" stroke="#1a1a1a" stroke-width="0.22">x-axis CMG(dps)</text></g>
<g><path d="M249.8 502.1V689M286.9 502.1V689M324.1 502.1V689M212.7 657.9H361.2M212.7 626.7H361.2M212.7 595.5H361.2M212.7 564.4H361.2M212.7 533.2H361.2" stroke="#e3e3e3" stroke-width="0.8" fill="none"/><g clip-path="url(#cc2)"><path d="M238.7 640L239.2 639.9 239.7 639.6 240.2 639.2 240.7 637.6 241.2 637.3 241.7 635.8 242.2 634.3 242.7 632.8 243.2 631.6 243.7 628.7 244.2 629 244.7 627.6 245.2 628.7 245.7 627.2 246.2 627.4 246.7 627.1 247.2 624.7 247.7 624.4 248.2 624 248.7 624 249.2 622.6 249.7 623.3 250.2 623.2 250.7 620.4 251.2 619.8 251.7 621 252.2 619.9 252.7 620.2 253.2 619.9 253.7 618.4 254.2 619.4 254.7 618.7 255.2 617.4 255.7 616.2 256.2 613.7 256.7 615.5 257.2 613.5 257.7 612.7 258.2 612.7 258.7 611.9 259.2 611.3 259.7 611 260.2 607.7 260.7 609.8 261.2 608.5 261.7 604.5 262.2 604.5 262.7 606.1 263.2 605.5 263.7 605.2 264.2 604.5 264.7 600.2 265.2 602.5 265.7 601.6 266.2 600.5 266.7 600.9 267.2 598.8 267.7 598.5 268.2 598.1 268.7 595.8 269.2 596.5 269.7 595.4 270.2 594.9 270.7 594.1 271.2 591 271.7 592.2 272.2 591.5 272.7 589.8 273.2 589.2 273.7 588.5 274.2 586.8 274.7 587.5 275.2 586.8 275.7 583.6 276.2 583.4 276.7 582.7 277.2 581.9 277.7 581.5 278.2 579.1 278.7 579 279.2 578.6 279.7 577.8 280.2 576 280.7 573 281.2 575.3 281.7 573.9 282.2 574 282.7 571.9 283.2 571.3 283.7 567.5 284.2 569 284.7 567.4 285.2 563.6 285.7 565.2 286.2 563.9 286.7 560.4 287.2 561.4 287.7 560.4 288.2 556.6 288.7 559.2 289.2 556.6 289.7 556.5 290.2 554.1 290.7 554.7 291.2 553.8 291.7 552.7 292.2 551.1 292.7 549.6 293.2 548.5 293.7 548.5 294.2 547.9 294.7 546.7 295.2 544.7 295.7 544.6 296.2 543.8 296.7 543.4 297.2 542.9 297.7 542.7 298.2 539.7 298.7 537.8 299.2 538.7 299.7 538.8 300.2 538.1 300.7 537.4 301.2 537.5 301.7 535.3 302.2 535.5 302.7 534.5 303.2 535.1 303.7 534 304.2 533.8 304.7 531.5 305.2 532.4 305.7 530.1 306.2 529.9 306.7 531.8 307.2 528.9 307.7 531.4 308.2 531.3 308.7 528 309.2 529.7 309.7 529.6 310.2 528.8 310.7 526.6 311.2 529.7 311.7 529.1 312.2 526.8 312.7 529 313.2 529.2 313.7 527.6 314.2 527.8 314.7 527.3 315.2 525.5 315.7 526.1 316.2 523.8 316.7 524.8 317.2 525.3 317.7 523.7 318.2 525.1 318.7 526.4 319.2 525.7 319.7 526.1 320.2 525.6 320.7 524.9 321.2 523.9 321.7 520.5 322.2 522.2 322.7 523.4 323.2 523.4 323.7 523.5 324.2 523.4 324.7 522.5 325.2 523.1 325.7 523.3 326.2 522.4 326.7 522.1 327.2 522.4 327.7 522.7 328.2 522.4 328.7 521.4 329.2 520.6 329.7 521.8 330.2 521.7 330.7 521.4 331.2 521.2 331.7 521.1 332.2 521.1 332.7 521.4 333.2 518.6 333.7 518.7 334.2 521.6 334.7 521.2 335.2 521.4 335.7 521.9 336.2 519.1 336.7 520.6 337.2 521.8 337.7 522.2 338.2 521.2 338.7 522.1 339.2 521.6 339.7 522 340.2 522 340.7 518.7 341.2 522.2 341.7 521.5 342.2 521.2 342.7 518.9 343.2 522 343.7 521.6 344.2 521.4 344.7 521.7 345.2 521.6 345.7 521.3 346.2 519.9 346.7 518.4 347.2 521.5 347.7 521.7 348.2 521.6 348.7 521.4 349.2 522.1 349.7 521.5 350.2 520.2 350.7 521.9 351.2 521.6 351.7 520.7 352.2 521.6 352.7 521.9 353.2 521.1 353.7 521.1 353.7 530.5 353.2 539.5 352.7 539.5 352.2 530.7 351.7 532 351.2 531.2 350.7 529.7 350.2 529.5 349.7 530 349.2 530.8 348.7 530.3 348.2 530.5 347.7 532.8 347.2 533.4 346.7 533 346.2 529.9 345.7 530.6 345.2 532.9 344.7 530.1 344.2 531.8 343.7 529.2 343.2 532.6 342.7 529.2 342.2 531.2 341.7 529.2 341.2 529.4 340.7 529.2 340.2 530.7 339.7 530.9 339.2 529.4 338.7 530.9 338.2 530.6 337.7 532.9 337.2 532.9 336.7 532.9 336.2 531.3 335.7 529.7 335.2 531.3 334.7 530.1 334.2 530 333.7 530 333.2 530.5 332.7 533.4 332.2 533.6 331.7 531.7 331.2 532.3 330.7 531.2 330.2 533.6 329.7 531.2 329.2 531.8 328.7 531 328.2 533.1 327.7 530.6 327.2 533.6 326.7 530.3 326.2 531.3 325.7 530.1 325.2 530.4 324.7 532.7 324.2 530.8 323.7 531.9 323.2 531.4 322.7 531.7 322.2 533.5 321.7 532 321.2 532.7 320.7 532.9 320.2 533.3 319.7 533.3 319.2 532.4 318.7 533.3 318.2 533.4 317.7 534.2 317.2 535 316.7 536.1 316.2 537.9 315.7 536.1 315.2 535.8 314.7 536.1 314.2 537.1 313.7 536 313.2 537 312.7 537.8 312.2 537.6 311.7 537.2 311.2 541.1 310.7 538.5 310.2 541.9 309.7 540.3 309.2 542.1 308.7 540.8 308.2 540.2 307.7 542.9 307.2 541 306.7 542.2 306.2 544.1 305.7 542.6 305.2 545.1 304.7 543.2 304.2 544.5 303.7 543.5 303.2 546.8 302.7 544.3 302.2 544.8 301.7 545 301.2 547.3 300.7 546.5 300.2 547.2 299.7 547.9 299.2 548.5 298.7 551.3 298.2 551 297.7 550.3 297.2 552.2 296.7 552.5 296.2 553.5 295.7 555 295.2 555.9 294.7 556.9 294.2 558.1 293.7 558.6 293.2 560.4 292.7 562.7 292.2 565.1 291.7 563 291.2 565 290.7 566.9 290.2 568.4 289.7 568.3 289.2 571.3 288.7 568.7 288.2 570.8 287.7 571.1 287.2 572.3 286.7 573.2 286.2 575.4 285.7 576.7 285.2 576.5 284.7 576.7 284.2 578.4 283.7 579.4 283.2 580.8 282.7 582.9 282.2 581.6 281.7 582.7 281.2 585.9 280.7 584.7 280.2 586 279.7 587.4 279.2 588.3 278.7 590.1 278.2 590.3 277.7 591.2 277.2 593.5 276.7 595.6 276.2 595.3 275.7 594.4 275.2 596.4 274.7 596.8 274.2 597.6 273.7 601.3 273.2 600.4 272.7 600.8 272.2 601.5 271.7 601.7 271.2 602.6 270.7 604.5 270.2 607 269.7 604.9 269.2 608.3 268.7 606.4 268.2 610.6 267.7 610.4 267.2 611.3 266.7 610.1 266.2 610.8 265.7 610.3 265.2 611.6 264.7 612 264.2 612.9 263.7 614.4 263.2 615.7 262.7 614.9 262.2 616.2 261.7 617.2 261.2 617 260.7 619.3 260.2 620.1 259.7 619.9 259.2 621.1 258.7 621.8 258.2 621.5 257.7 622.6 257.2 623.2 256.7 624.1 256.2 627 255.7 625.8 255.2 626 254.7 629.1 254.2 628.9 253.7 629 253.2 629.8 252.7 630.7 252.2 630.7 251.7 631.9 251.2 635.8 250.7 636.3 250.2 633.2 249.7 633.9 249.2 634.7 248.7 634.8 248.2 638.3 247.7 639.1 247.2 637.9 246.7 636.9 246.2 637.3 245.7 641.2 245.2 640.3 244.7 639.5 244.2 641.5 243.7 640.2 243.2 641.1 242.7 640.9 242.2 641.8 241.7 642.1 241.2 643.9 240.7 643.4 240.2 643.3 239.7 643.6 239.2 644 238.7 644.6Z" fill="#000"/><path d="M212.7 639.9L213.2 639.9 213.7 639.1 214.2 639.6 214.7 639.5 215.2 637.9 215.7 638.2 216.2 637.4 216.7 637.6 217.2 633.4 217.7 637.5 218.2 636.1 218.7 637.7 219.2 637.3 219.7 637.8 220.2 638.8 220.7 639.1 221.2 639.5 221.7 639.8 222.2 639.5 222.7 639.1 223.2 639.2 223.7 639.3 224.2 638.9 224.7 639.1 225.2 638.2 225.7 638.3 226.2 638.6 226.7 638.1 227.2 637 227.7 638 228.2 637.8 228.7 638.2 229.2 638.4 229.7 639.2 230.2 639.2 230.7 638.9 231.2 637.6 231.7 638.4 232.2 638 232.7 638.8 233.2 638.6 233.7 638.5 234.2 638 234.7 637.4 235.2 638.3 235.7 638.3 236.2 637.6 236.7 637.7 237.2 637.4 237.7 637.3 238.2 637 238.7 636.9 239.2 637.6 239.7 638 240.2 637.7 240.7 638.6 241.2 636 241.7 637.5 242.2 637.4 242.7 638.2 243.2 638.2 243.7 638.7 244.2 638.8 244.7 637 245.2 637.7 245.7 638.8 246.2 637.7 246.7 638 247.2 638.3 247.7 637.6 248.2 638.8 248.7 637.9 249.2 638.5 249.7 636.6 250.2 634.3 250.7 638.6 251.2 638.2 251.7 637.9 252.2 635.6 252.7 638 253.2 638 253.7 638.1 254.2 637.3 254.7 637 255.2 638.1 255.7 637.7 256.2 638 256.7 636.9 257.2 636.7 257.7 637.5 258.2 638.2 258.7 637 259.2 638.4 259.7 636.9 260.2 638.3 260.7 637.9 261.2 637.5 261.7 637.6 262.2 637.1 262.7 637.5 263.2 636.8 263.7 638 264.2 638.3 264.7 638 265.2 638.5 265.7 638.8 266.2 638.7 266.7 638 267.2 638.3 267.7 638 268.2 638 268.7 635.7 269.2 638 269.7 635.7 270.2 637.5 270.7 636.4 271.2 637.5 271.7 637.7 272.2 637.7 272.7 637.7 273.2 637 273.7 637.3 274.2 637.2 274.7 637.3 275.2 637 275.7 637.3 276.2 637.7 276.7 636.7 277.2 637.5 277.7 637.6 278.2 638.4 278.7 638.2 279.2 638.2 279.7 638.9 280.2 638.5 280.7 637.2 281.2 637.5 281.7 638.6 282.2 638.5 282.7 635.6 283.2 639.3 283.7 639.1 284.2 639.5 284.7 638.7 285.2 640.6 285.7 640.3 286.2 639.7 286.7 640.3 287.2 640 287.7 637.8 288.2 639.9 288.7 639.1 289.2 637.9 289.7 639.6 290.2 640.9 290.7 641.5 291.2 640.8 291.7 641.2 292.2 641.2 292.7 641.6 293.2 640.2 293.7 639.7 294.2 641.5 294.7 641.7 295.2 641.9 295.7 639.2 296.2 641 296.7 641.4 297.2 641.4 297.7 639.1 298.2 640.9 298.7 638.7 299.2 639.4 299.7 639.2 300.2 639.7 300.7 639.9 301.2 638.9 301.7 638 302.2 636.9 302.7 637.5 303.2 638.7 303.7 638.7 304.2 638.8 304.7 638.8 305.2 637.5 305.7 638.3 306.2 639.2 306.7 639.1 307.2 639.4 307.7 639.6 308.2 638.7 308.7 638.4 309.2 636.5 309.7 638.5 310.2 637.2 310.7 638.8 311.2 638.4 311.7 638.8 312.2 638.6 312.7 637.9 313.2 634 313.7 636.1 314.2 639.1 314.7 639.2 315.2 639 315.7 638.9 316.2 639.5 316.7 638.2 317.2 638.4 317.7 637.6 318.2 638.8 318.7 636.3 319.2 638 319.7 634.8 320.2 636.6 320.7 638.1 321.2 637.9 321.7 638.4 322.2 637.7 322.7 638.6 323.2 635.8 323.7 635.3 324.2 638.1 324.7 637.4 325.2 637.4 325.7 637.8 326.2 638.4 326.7 636.6 327.2 638.1 327.7 638 328.2 638.3 328.7 638.7 329.2 638.9 329.7 638.7 330.2 636.7 330.7 638.2 331.2 637.9 331.7 637.4 332.2 638.5 332.7 637.9 333.2 638.5 333.7 638.5 334.2 638.7 334.7 638.8 335.2 638.9 335.7 640.3 336.2 639.6 336.7 639.8 337.2 639.3 337.7 638.8 338.2 637.9 338.7 637.4 339.2 636.5 339.7 638.1 340.2 637.9 340.7 637.6 341.2 637.2 341.7 638.1 342.2 636.2 342.7 638 343.2 636.7 343.7 638.1 344.2 636.6 344.7 638.4 345.2 638 345.7 638.5 346.2 634.8 346.7 638.4 347.2 638.1 347.7 638 348.2 636.3 348.7 638.6 349.2 638.4 349.7 637.9 350.2 636.9 350.7 638.4 351.2 638.1 351.7 636.4 352.2 637.5 352.7 637.6 353.2 637.4 353.7 638.2 353.7 645.1 353.2 646.7 352.7 645.2 352.2 645.4 351.7 645.4 351.2 645.4 350.7 645.7 350.2 645.8 349.7 646 349.2 645.5 348.7 646.5 348.2 646.5 347.7 645.5 347.2 645.5 346.7 645.2 346.2 645.3 345.7 645.3 345.2 645.5 344.7 645.4 344.2 646 343.7 644.9 343.2 644.6 342.7 645.5 342.2 645.4 341.7 645.9 341.2 645.7 340.7 645 340.2 645.5 339.7 646.5 339.2 647.5 338.7 650.6 338.2 647.8 337.7 647 337.2 646.5 336.7 646.4 336.2 646.1 335.7 645.8 335.2 646.4 334.7 645.6 334.2 645.5 333.7 645.8 333.2 646.9 332.7 645.7 332.2 645 331.7 644.9 331.2 646.3 330.7 646 330.2 644.4 329.7 644.6 329.2 644.8 328.7 646.2 328.2 645.3 327.7 645.9 327.2 646 326.7 648.2 326.2 646.9 325.7 646.7 325.2 646.9 324.7 648.8 324.2 646.2 323.7 645.6 323.2 645.9 322.7 646 322.2 645.4 321.7 645.6 321.2 646.4 320.7 646.1 320.2 646.8 319.7 645.5 319.2 647.6 318.7 645.6 318.2 646 317.7 648.1 317.2 645.9 316.7 648.2 316.2 646.5 315.7 646.9 315.2 646.6 314.7 649.6 314.2 648.4 313.7 648.2 313.2 649.7 312.7 650.5 312.2 647.9 311.7 648 311.2 647.8 310.7 647.6 310.2 648.4 309.7 647.5 309.2 646.7 308.7 646.6 308.2 645.2 307.7 645.4 307.2 644.8 306.7 645.6 306.2 646.1 305.7 645.3 305.2 645.5 304.7 646 304.2 646.5 303.7 646.6 303.2 646.8 302.7 647.7 302.2 648 301.7 647.5 301.2 648.1 300.7 648.4 300.2 648.2 299.7 648.1 299.2 648.4 298.7 650 298.2 648.9 297.7 648.9 297.2 649 296.7 649.1 296.2 649.4 295.7 649.4 295.2 649.9 294.7 649.6 294.2 649.8 293.7 648.7 293.2 649.6 292.7 648 292.2 647.6 291.7 648.3 291.2 647.4 290.7 646.9 290.2 647.1 289.7 647.4 289.2 648.7 288.7 648.9 288.2 649 287.7 649.5 287.2 649.1 286.7 648.7 286.2 647.5 285.7 649.8 285.2 648.5 284.7 648 284.2 647.8 283.7 647.4 283.2 648.5 282.7 647.9 282.2 647 281.7 651.5 281.2 648 280.7 646 280.2 647.7 279.7 646 279.2 646.9 278.7 645 278.2 646 277.7 646.8 277.2 645.2 276.7 645.1 276.2 646.5 275.7 645.3 275.2 645.7 274.7 645.4 274.2 644.7 273.7 645.1 273.2 645.7 272.7 645.2 272.2 645.9 271.7 644.7 271.2 645.5 270.7 645 270.2 644.8 269.7 644.9 269.2 648.3 268.7 645.4 268.2 645.1 267.7 645.3 267.2 645.2 266.7 645.2 266.2 645.3 265.7 644.9 265.2 646.3 264.7 645.9 264.2 645.4 263.7 646.4 263.2 645.9 262.7 648.4 262.2 645.9 261.7 647 261.2 646.7 260.7 648.2 260.2 648.8 259.7 645.6 259.2 646.7 258.7 646.2 258.2 647.7 257.7 650.2 257.2 647.4 256.7 647.2 256.2 647.1 255.7 646.7 255.2 646.5 254.7 646.9 254.2 646.8 253.7 646.5 253.2 646.9 252.7 647.9 252.2 646.6 251.7 647.9 251.2 646.1 250.7 646.4 250.2 647.3 249.7 649.1 249.2 647.3 248.7 647.9 248.2 647.3 247.7 647.2 247.2 647.3 246.7 647.9 246.2 646.5 245.7 647.2 245.2 648 244.7 646.1 244.2 647 243.7 646.1 243.2 648.3 242.7 647.4 242.2 644.7 241.7 645.3 241.2 646 240.7 644.5 240.2 645.1 239.7 644.7 239.2 644.8 238.7 645.1 238.2 645.2 237.7 645.4 237.2 645.4 236.7 645 236.2 645.1 235.7 644.8 235.2 645.6 234.7 649.8 234.2 644.9 233.7 646.4 233.2 645.5 232.7 645.3 232.2 646.8 231.7 646.4 231.2 645.6 230.7 646.2 230.2 645.7 229.7 647.6 229.2 649.5 228.7 646 228.2 645.4 227.7 646.1 227.2 646.5 226.7 645.9 226.2 646.4 225.7 646.6 225.2 645.6 224.7 646.3 224.2 647.5 223.7 646.7 223.2 646.5 222.7 646.7 222.2 646.5 221.7 647.5 221.2 648.4 220.7 646.8 220.2 646.2 219.7 646.3 219.2 646.4 218.7 648.2 218.2 646.1 217.7 647.6 217.2 645.3 216.7 645.6 216.2 645.2 215.7 645.8 215.2 646.1 214.7 647 214.2 645.5 213.7 646 213.2 646.3 212.7 651.4Z" fill="#00ff00"/><path d="M212.7 634.4L213.2 636.6 213.7 637.2 214.2 635 214.7 637 215.2 638 215.7 637.9 216.2 636.4 216.7 637.5 217.2 636.8 217.7 636.9 218.2 637.2 218.7 635.8 219.2 634.9 219.7 637.3 220.2 636.7 220.7 636.9 221.2 637.8 221.7 637.6 222.2 638.3 222.7 637.9 223.2 637.8 223.7 638.4 224.2 639.8 224.7 639.2 225.2 639.9 225.7 639.5 226.2 639.5 226.7 638.9 227.2 638.9 227.7 640.9 228.2 641 228.7 638.4 229.2 641.2 229.7 640.6 230.2 639 230.7 639.6 231.2 640.1 231.7 638.9 232.2 637.7 232.7 639.5 233.2 638.3 233.7 639.4 234.2 639.2 234.7 637.7 235.2 638.2 235.7 638 236.2 637.5 236.7 638.4 237.2 638.1 237.7 638.3 238.2 637.7 238.7 638.7 239.2 636.4 239.7 637.8 240.2 637.2 240.7 638.6 241.2 638.8 241.7 639.2 242.2 637.4 242.7 639.5 243.2 639.7 243.7 639.9 244.2 637.3 244.7 639.7 245.2 639.5 245.7 638.4 246.2 638 246.7 638.8 247.2 638.7 247.7 638.6 248.2 638.3 248.7 638.3 249.2 636.6 249.7 637.4 250.2 638.7 250.7 639.2 251.2 637.9 251.7 638.1 252.2 639.2 252.7 639 253.2 639.7 253.7 639.7 254.2 637.5 254.7 639.2 255.2 639.6 255.7 639.7 256.2 639.3 256.7 638.2 257.2 639.2 257.7 637.2 258.2 638.6 258.7 638.9 259.2 639.4 259.7 636.9 260.2 639.6 260.7 640 261.2 639.7 261.7 640.7 262.2 640.3 262.7 640 263.2 640.3 263.7 639 264.2 638.6 264.7 638.1 265.2 638.9 265.7 638.8 266.2 638.9 266.7 638.9 267.2 638.9 267.7 638 268.2 638.8 268.7 636.9 269.2 638.7 269.7 637.9 270.2 638.3 270.7 633.7 271.2 638.3 271.7 638.5 272.2 637.7 272.7 636.8 273.2 635.5 273.7 638.6 274.2 637.7 274.7 638.8 275.2 639.1 275.7 638.6 276.2 639.1 276.7 638.7 277.2 638.8 277.7 638 278.2 638.7 278.7 638.2 279.2 639 279.7 638.6 280.2 639.7 280.7 638.5 281.2 639.6 281.7 638.5 282.2 637.9 282.7 638.6 283.2 638.6 283.7 638 284.2 637.9 284.7 638.2 285.2 637.4 285.7 638.2 286.2 637.5 286.7 638 287.2 637.7 287.7 637.5 288.2 636.3 288.7 638 289.2 638.3 289.7 638.2 290.2 637.9 290.7 638.9 291.2 637.8 291.7 638.4 292.2 638.7 292.7 635.3 293.2 637.2 293.7 638.2 294.2 638 294.7 638.4 295.2 638.3 295.7 638.8 296.2 637 296.7 638.4 297.2 638 297.7 633.1 298.2 637.3 298.7 637.9 299.2 638 299.7 637.8 300.2 638.1 300.7 638.2 301.2 638.1 301.7 637.5 302.2 637.3 302.7 637 303.2 637.8 303.7 637 304.2 637.8 304.7 636.6 305.2 636.7 305.7 637.3 306.2 636.7 306.7 638.9 307.2 639.1 307.7 639.4 308.2 638.2 308.7 638 309.2 638.9 309.7 639.2 310.2 638.6 310.7 637.9 311.2 638.1 311.7 636.5 312.2 637.7 312.7 637.9 313.2 637.9 313.7 637.4 314.2 637.4 314.7 639.1 315.2 639.6 315.7 639.4 316.2 640.7 316.7 640.9 317.2 640.2 317.7 639.5 318.2 640.6 318.7 639.8 319.2 639.9 319.7 638.9 320.2 640 320.7 638.9 321.2 639.8 321.7 639.5 322.2 638.9 322.7 636.6 323.2 637.6 323.7 637 324.2 636.1 324.7 637.1 325.2 637.6 325.7 637.8 326.2 637.6 326.7 637.6 327.2 635.2 327.7 637.2 328.2 637.9 328.7 638.1 329.2 637.7 329.7 637.5 330.2 638 330.7 638.5 331.2 638.4 331.7 638.3 332.2 637.5 332.7 637.9 333.2 637.9 333.7 638.5 334.2 637.6 334.7 639.1 335.2 638.1 335.7 636.1 336.2 639.1 336.7 636.4 337.2 639.1 337.7 637.5 338.2 638.5 338.7 639.2 339.2 638.4 339.7 638.4 340.2 638.9 340.7 639.3 341.2 639.4 341.7 638.6 342.2 637.9 342.7 640 343.2 640 343.7 640.3 344.2 640.5 344.7 639.7 345.2 639.4 345.7 640.1 346.2 638.2 346.7 637.7 347.2 639.3 347.7 638.4 348.2 637 348.7 636.7 349.2 637.7 349.7 637.4 350.2 639.2 350.7 638.4 351.2 638.1 351.7 638.8 352.2 637.8 352.7 636 353.2 637.8 353.7 636.3 353.7 645.8 353.2 646.1 352.7 645.5 352.2 645.8 351.7 645.5 351.2 646.9 350.7 646 350.2 646.7 349.7 647.2 349.2 647.3 348.7 647.9 348.2 647.7 347.7 649.5 347.2 647.3 346.7 648.6 346.2 648.1 345.7 647.1 345.2 648.4 344.7 648.1 344.2 647.7 343.7 648.4 343.2 647.6 342.7 648.1 342.2 648.4 341.7 648.4 341.2 648.1 340.7 652 340.2 650.8 339.7 649 339.2 649 338.7 649.9 338.2 649.7 337.7 647.9 337.2 648 336.7 648.5 336.2 647.3 335.7 648 335.2 646.7 334.7 646.6 334.2 647.3 333.7 646.4 333.2 646.4 332.7 647.1 332.2 646.8 331.7 646.8 331.2 646.4 330.7 646.8 330.2 645.7 329.7 645.8 329.2 646.9 328.7 646 328.2 647 327.7 646.4 327.2 646.3 326.7 645.6 326.2 645.8 325.7 646 325.2 646.2 324.7 645.9 324.2 646.5 323.7 645.5 323.2 645.9 322.7 646.4 322.2 646 321.7 645.7 321.2 647.4 320.7 646.2 320.2 648.2 319.7 652 319.2 648 318.7 648.8 318.2 648 317.7 648.8 317.2 648.3 316.7 647.9 316.2 647.9 315.7 649 315.2 648.1 314.7 648.4 314.2 647.4 313.7 648.6 313.2 647.5 312.7 647.1 312.2 648.2 311.7 647.5 311.2 646 310.7 647 310.2 646.2 309.7 645.7 309.2 645.8 308.7 645.7 308.2 645.7 307.7 646.1 307.2 648.8 306.7 646.7 306.2 646.8 305.7 647.7 305.2 646.7 304.7 646.9 304.2 646.5 303.7 646.5 303.2 645.8 302.7 645 302.2 645.3 301.7 644.8 301.2 646.1 300.7 646.4 300.2 644.8 299.7 645.3 299.2 645.2 298.7 646.3 298.2 647.2 297.7 646.1 297.2 645.7 296.7 645.8 296.2 645.9 295.7 646 295.2 646.8 294.7 647 294.2 646.6 293.7 647.5 293.2 648.5 292.7 647.2 292.2 646.5 291.7 646.3 291.2 646.5 290.7 646.3 290.2 650.7 289.7 647 289.2 646.4 288.7 645.8 288.2 645.5 287.7 646 287.2 645.5 286.7 646.4 286.2 645.4 285.7 646.5 285.2 648.6 284.7 645.7 284.2 648 283.7 645.7 283.2 646.2 282.7 646.2 282.2 645.4 281.7 645.8 281.2 646.5 280.7 645.1 280.2 646.9 279.7 646.4 279.2 646.6 278.7 647.4 278.2 647.4 277.7 647.6 277.2 646.9 276.7 646.2 276.2 646.4 275.7 646 275.2 646.3 274.7 646.2 274.2 646.1 273.7 646.8 273.2 646.3 272.7 646.4 272.2 646.5 271.7 646.9 271.2 647.8 270.7 646.7 270.2 646.7 269.7 646.5 269.2 648.7 268.7 646.1 268.2 646.1 267.7 646 267.2 645.9 266.7 647.2 266.2 646.2 265.7 647.2 265.2 647.8 264.7 647.6 264.2 648.7 263.7 647.8 263.2 648.4 262.7 646.7 262.2 646.3 261.7 646.8 261.2 646.4 260.7 646.2 260.2 646.1 259.7 645.5 259.2 645.7 258.7 646.4 258.2 645.5 257.7 645.3 257.2 646.3 256.7 645.3 256.2 645.7 255.7 646.4 255.2 647 254.7 647.7 254.2 647.1 253.7 647 253.2 648.2 252.7 647.2 252.2 646.6 251.7 646.5 251.2 648.6 250.7 646.8 250.2 647.4 249.7 648.5 249.2 649.7 248.7 649.1 248.2 649.4 247.7 647 247.2 646.4 246.7 646.9 246.2 648.6 245.7 646.4 245.2 647.2 244.7 646 244.2 646 243.7 646 243.2 647 242.7 646.5 242.2 645.8 241.7 646.7 241.2 645.9 240.7 647.6 240.2 646.1 239.7 646.2 239.2 645.6 238.7 645.8 238.2 645.5 237.7 645.7 237.2 646.5 236.7 646.8 236.2 647.1 235.7 647.7 235.2 651.9 234.7 649.5 234.2 647.9 233.7 647.2 233.2 650 232.7 648.3 232.2 647 231.7 647.7 231.2 647.7 230.7 647.6 230.2 649.6 229.7 647.4 229.2 649.9 228.7 648.2 228.2 647.7 227.7 648.2 227.2 647.7 226.7 649 226.2 649.3 225.7 648.7 225.2 648.3 224.7 647.6 224.2 647.4 223.7 648.5 223.2 647.6 222.7 646.8 222.2 646.5 221.7 647.2 221.2 647.2 220.7 646.2 220.2 646.6 219.7 645.9 219.2 645.9 218.7 647.3 218.2 646.3 217.7 645.7 217.2 647.9 216.7 645.3 216.2 645 215.7 645.4 215.2 644.6 214.7 645 214.2 646.1 213.7 646 213.2 645.2 212.7 645.2Z" fill="#0000ff"/><path d="M212.7 637.6L213.2 635.9 213.7 635.7 214.2 635.3 214.7 637.2 215.2 638 215.7 637.5 216.2 635.8 216.7 635.8 217.2 637.9 217.7 636.5 218.2 635.8 218.7 636.5 219.2 637.1 219.7 637.8 220.2 636.3 220.7 637.7 221.2 637.2 221.7 638 222.2 635.6 222.7 636.7 223.2 637.4 223.7 636.3 224.2 638.4 224.7 638.8 225.2 639 225.7 638.2 226.2 638.7 226.7 630.5 227.2 636.8 227.7 638.2 228.2 638 228.7 637.9 229.2 638.2 229.7 637.5 230.2 633.6 230.7 636.4 231.2 637.2 231.7 636.2 232.2 637.6 232.7 636.6 233.2 637.3 233.7 637.1 234.2 637.7 234.7 636.4 235.2 638 235.7 637.3 236.2 637.9 236.7 638 237.2 636.4 237.7 635.6 238.2 637.5 238.7 636.3 239.2 635.9 239.7 636.9 240.2 635.3 240.7 634.4 241.2 637.4 241.7 635.1 242.2 637.2 242.7 637.6 243.2 632.4 243.7 636.5 244.2 637.1 244.7 636.5 245.2 637 245.7 636.8 246.2 637.4 246.7 636.9 247.2 636 247.7 632.8 248.2 635.7 248.7 634.8 249.2 636.7 249.7 636.3 250.2 634.9 250.7 635.9 251.2 637.7 251.7 638.2 252.2 637.3 252.7 638.7 253.2 637 253.7 636.3 254.2 634.3 254.7 637.6 255.2 638.1 255.7 637.3 256.2 636.8 256.7 637.3 257.2 636.9 257.7 636 258.2 633.2 258.7 636.4 259.2 636.2 259.7 636.1 260.2 637.5 260.7 637.7 261.2 638.1 261.7 636.5 262.2 637.4 262.7 636.2 263.2 637.4 263.7 635 264.2 637.6 264.7 638.1 265.2 637.1 265.7 638.4 266.2 638.4 266.7 637.6 267.2 638.5 267.7 636.3 268.2 636.6 268.7 637.3 269.2 636.8 269.7 637.7 270.2 637.1 270.7 637.7 271.2 634.9 271.7 634.4 272.2 638 272.7 634.4 273.2 637.4 273.7 637.6 274.2 637.8 274.7 637.4 275.2 636.7 275.7 633.7 276.2 636.4 276.7 632.5 277.2 634.2 277.7 635.9 278.2 636.7 278.7 636.5 279.2 636.6 279.7 634.1 280.2 636.2 280.7 637.9 281.2 636 281.7 636.3 282.2 638 282.7 634.4 283.2 638.6 283.7 637.8 284.2 635.4 284.7 637.2 285.2 636.9 285.7 635.8 286.2 637.8 286.7 638.1 287.2 637.7 287.7 632.2 288.2 635.6 288.7 637.8 289.2 638.3 289.7 636.8 290.2 636.4 290.7 637.9 291.2 637.5 291.7 635 292.2 637.9 292.7 636.6 293.2 635.9 293.7 637.5 294.2 637.2 294.7 635 295.2 634 295.7 637 296.2 636.9 296.7 638.4 297.2 638.7 297.7 638.6 298.2 636.2 298.7 638.2 299.2 635.8 299.7 634.9 300.2 637 300.7 635.5 301.2 632.9 301.7 637.2 302.2 637.8 302.7 636.2 303.2 638.8 303.7 638.7 304.2 638 304.7 636.3 305.2 633.3 305.7 637.3 306.2 636.5 306.7 636.9 307.2 636 307.7 637.8 308.2 637 308.7 637.6 309.2 637.6 309.7 635.3 310.2 635.7 310.7 636.4 311.2 636.8 311.7 637.2 312.2 637.5 312.7 635.9 313.2 635.9 313.7 636.7 314.2 635.2 314.7 636.8 315.2 636.5 315.7 636.8 316.2 635.4 316.7 637.3 317.2 636.3 317.7 634.2 318.2 636.7 318.7 638 319.2 637.9 319.7 632.4 320.2 638.3 320.7 638.4 321.2 638.5 321.7 637.9 322.2 637.9 322.7 637.4 323.2 637.3 323.7 637.2 324.2 635.8 324.7 638.3 325.2 636.7 325.7 635.6 326.2 638.2 326.7 638.4 327.2 633 327.7 637.2 328.2 635.7 328.7 636.1 329.2 637.4 329.7 637.7 330.2 638.1 330.7 635.3 331.2 636.7 331.7 632.2 332.2 637.5 332.7 637.8 333.2 635.5 333.7 636.7 334.2 637.4 334.7 637.6 335.2 634 335.7 636.3 336.2 634.4 336.7 636 337.2 637 337.7 637.2 338.2 638.5 338.7 638 339.2 635.8 339.7 637.7 340.2 637.1 340.7 637.6 341.2 637.8 341.7 636.5 342.2 635.6 342.7 635.6 343.2 636.1 343.7 635.4 344.2 636.6 344.7 636.1 345.2 631.8 345.7 635.8 346.2 637.9 346.7 638 347.2 637.4 347.7 636.7 348.2 638.7 348.7 636.9 349.2 638.4 349.7 638.7 350.2 636.8 350.7 638 351.2 636 351.7 632.9 352.2 637 352.7 637 353.2 637.5 353.7 637.4 353.7 649.4 353.2 661 352.7 661 352.2 648.9 351.7 648 351.2 648.2 350.7 647.3 350.2 646.2 349.7 648.1 349.2 650.8 348.7 646.2 348.2 649.4 347.7 646.4 347.2 646.3 346.7 646.5 346.2 647.1 345.7 650.3 345.2 648.8 344.7 647.8 344.2 649.3 343.7 648.7 343.2 648.6 342.7 648.7 342.2 647.5 341.7 648.8 341.2 647.9 340.7 646.7 340.2 646.5 339.7 650.2 339.2 646.6 338.7 646 338.2 649.7 337.7 646 337.2 647.7 336.7 646.7 336.2 648.5 335.7 651.7 335.2 647.1 334.7 648 334.2 648.4 333.7 649.2 333.2 646.8 332.7 650.7 332.2 647.1 331.7 647 331.2 646.5 330.7 648.4 330.2 646.8 329.7 647.1 329.2 647.9 328.7 646.5 328.2 647 327.7 647.5 327.2 647.1 326.7 646.7 326.2 652.2 325.7 646.4 325.2 648.4 324.7 646.8 324.2 646.4 323.7 647.2 323.2 648.2 322.7 650.3 322.2 647 321.7 646.5 321.2 646.8 320.7 646.2 320.2 647.5 319.7 646.2 319.2 646 318.7 646.1 318.2 648 317.7 647.9 317.2 648.8 316.7 648.1 316.2 648.2 315.7 647.3 315.2 648.7 314.7 647.1 314.2 647.3 313.7 648.5 313.2 647.7 312.7 648.1 312.2 646.9 311.7 647.6 311.2 646.2 310.7 650.5 310.2 646.7 309.7 647.7 309.2 646.6 308.7 646.3 308.2 649 307.7 646.9 307.2 646.8 306.7 648.5 306.2 647.2 305.7 647.9 305.2 646.3 304.7 648.5 304.2 645.8 303.7 646.9 303.2 646.5 302.7 646.5 302.2 646.2 301.7 646.9 301.2 651.1 300.7 647.5 300.2 649.1 299.7 646.4 299.2 648.8 298.7 646.1 298.2 646.1 297.7 645.7 297.2 648.3 296.7 646.5 296.2 649.4 295.7 648 295.2 647.9 294.7 648 294.2 647.2 293.7 647.3 293.2 649.3 292.7 649 292.2 647.8 291.7 648.4 291.2 647.7 290.7 649.1 290.2 649.8 289.7 648.6 289.2 646.7 288.7 646.1 288.2 646.5 287.7 648.3 287.2 648.6 286.7 649.8 286.2 646.7 285.7 646.7 285.2 646.7 284.7 646.5 284.2 646.3 283.7 646.1 283.2 648.9 282.7 646.2 282.2 645.8 281.7 646 281.2 648.9 280.7 647 280.2 646.9 279.7 647.7 279.2 648.7 278.7 647.7 278.2 648.8 277.7 650.2 277.2 648.5 276.7 653.1 276.2 650.1 275.7 647.5 275.2 651.7 274.7 651.7 274.2 649.9 273.7 648.2 273.2 648 272.7 646.8 272.2 647 271.7 648.2 271.2 646.7 270.7 647.5 270.2 646.9 269.7 650.6 269.2 648.1 268.7 648 268.2 648.5 267.7 649.4 267.2 651.1 266.7 648.9 266.2 646.8 265.7 646.5 265.2 650.7 264.7 648.1 264.2 649.5 263.7 646.4 263.2 647.1 262.7 648.2 262.2 648.5 261.7 647.5 261.2 646.1 260.7 647 260.2 646.9 259.7 649.5 259.2 648.3 258.7 648.8 258.2 647.7 257.7 647.4 257.2 647.4 256.7 650.2 256.2 647.1 255.7 648.4 255.2 647.4 254.7 647.6 254.2 648.5 253.7 647 253.2 646.9 252.7 649.3 252.2 649.6 251.7 646.4 251.2 648.1 250.7 647.3 250.2 647.1 249.7 647.5 249.2 648.8 248.7 648.2 248.2 647.9 247.7 647.8 247.2 647.3 246.7 649.4 246.2 648.2 245.7 647.5 245.2 646.9 244.7 647 244.2 646.9 243.7 649.3 243.2 647.6 242.7 646.8 242.2 648.2 241.7 647.5 241.2 647 240.7 648.8 240.2 648.1 239.7 647 239.2 648.8 238.7 648.7 238.2 648.1 237.7 647.7 237.2 646.6 236.7 647.3 236.2 648.6 235.7 647.1 235.2 646.3 234.7 647.5 234.2 650.1 233.7 649.1 233.2 647.1 232.7 647.5 232.2 646.9 231.7 646.8 231.2 646.8 230.7 646.9 230.2 646.4 229.7 647.1 229.2 646.8 228.7 647.3 228.2 652.5 227.7 647.3 227.2 646.5 226.7 646.9 226.2 646.6 225.7 651.2 225.2 645.5 224.7 646.4 224.2 646.9 223.7 648.3 223.2 651.4 222.7 646.1 222.2 647.2 221.7 647.4 221.2 648.6 220.7 651 220.2 646.6 219.7 647.2 219.2 646.7 218.7 648.3 218.2 648.1 217.7 647 217.2 646.4 216.7 647.4 216.2 647.3 215.7 646.7 215.2 648.7 214.7 651.3 214.2 647 213.7 646.7 213.2 648.5 212.7 647.9Z" fill="#ff0000"/></g><rect x="212.7" y="502.1" width="148.5" height="186.9" fill="none" stroke="#999" stroke-width="1.25"/><path d="M212.7 689v-1.5M212.7 502.1v1.5M249.8 689v-1.5M249.8 502.1v1.5M286.9 689v-1.5M286.9 502.1v1.5M324.1 689v-1.5M324.1 502.1v1.5M361.2 689v-1.5M361.2 502.1v1.5M212.7 689h1.5M361.2 689h-1.5M212.7 657.9h1.5M361.2 657.9h-1.5M212.7 626.7h1.5M361.2 626.7h-1.5M212.7 595.5h1.5M361.2 595.5h-1.5M212.7 564.4h1.5M361.2 564.4h-1.5M212.7 533.2h1.5M361.2 533.2h-1.5M212.7 502.1h1.5M361.2 502.1h-1.5" stroke="#555" stroke-width="0.7" fill="none"/><g font-size="10.1" fill="#222" stroke="#222" stroke-width="0.3"><text x="212.7" y="701.9" text-anchor="middle">0</text><text x="249.8" y="701.9" text-anchor="middle">1</text><text x="286.9" y="701.9" text-anchor="middle">2</text><text x="324.1" y="701.9" text-anchor="middle">3</text><text x="361.2" y="701.9" text-anchor="middle">4</text><text x="208.9" y="693.1" text-anchor="end">2</text><text x="208.9" y="662" text-anchor="end">4</text><text x="208.9" y="630.8" text-anchor="end">6</text><text x="208.9" y="599.7" text-anchor="end">8</text><text x="208.9" y="568.5" text-anchor="end">10</text><text x="208.9" y="537.4" text-anchor="end">12</text><text x="208.9" y="506.2" text-anchor="end">14</text></g><text x="286.9" y="713.3" text-anchor="middle" font-size="11.11" fill="#1a1a1a" stroke="#1a1a1a" stroke-width="0.25">Time(h)</text><text transform="translate(196.2 595.5) rotate(-90)" text-anchor="middle" font-size="11.11" fill="#1a1a1a" stroke="#1a1a1a" stroke-width="0.22">y-axis CMG(dps)</text></g>
<g><path d="M430.3 501.6V689M467.6 501.6V689M505 501.6V689M392.9 662.2H542.4M392.9 635.5H542.4M392.9 608.7H542.4M392.9 581.9H542.4M392.9 555.1H542.4M392.9 528.4H542.4" stroke="#e3e3e3" stroke-width="0.8" fill="none"/><g clip-path="url(#cc3)"><path d="M428.9 606.4L429.4 606.9 429.9 606.3 430.4 607.2 430.9 606.5 431.4 606.4 431.9 603.3 432.4 606.2 432.9 607 433.4 602.7 433.9 604.6 434.4 603.5 434.9 607.5 435.4 607.6 435.9 607.3 436.4 609.6 436.9 609 437.4 611.2 437.9 611.9 438.4 611.4 438.9 613.7 439.4 609.7 439.9 614.5 440.4 611.1 440.9 614.2 441.4 613.4 441.9 617.1 442.4 617.2 442.9 617.9 443.4 619.1 443.9 617.8 444.4 619.7 444.9 621 445.4 621.4 445.9 620 446.4 618.9 446.9 623.1 447.4 624.7 447.9 623 448.4 625.8 448.9 625.5 449.4 626.3 449.9 622.9 450.4 626.6 450.9 627.2 451.4 626.4 451.9 628.8 452.4 628.6 452.9 628.1 453.4 628.5 453.9 628.8 454.4 629.5 454.9 629.1 455.4 630.1 455.9 628 456.4 627.9 456.9 631.2 457.4 631.7 457.9 631.6 458.4 631.9 458.9 632.6 459.4 634.2 459.9 634.4 460.4 631.8 460.9 633.2 461.4 635.3 461.9 631.6 462.4 636.3 462.9 636.5 463.4 636.2 463.9 636.9 464.4 634.8 464.9 635.2 465.4 637.8 465.9 633.2 466.4 638.2 466.9 636.3 467.4 638.8 467.9 639 468.4 637.5 468.9 640.9 469.4 636.5 469.9 642.1 470.4 639.6 470.9 642.3 471.4 643.1 471.9 643.3 472.4 643.1 472.9 641.6 473.4 643 473.9 641.9 474.4 644.8 474.9 643.5 475.4 646.6 475.9 646.4 476.4 647 476.9 645.7 477.4 644.7 477.9 644.9 478.4 644.3 478.9 649.7 479.4 649.6 479.9 646.4 480.4 650.6 480.9 647.7 481.4 648.8 481.9 647.7 482.4 650.4 482.9 650.2 483.4 651.4 483.9 649.8 484.4 649.9 484.9 651.9 485.4 652.1 485.9 652.3 486.4 651.3 486.9 651.3 487.4 651.8 487.9 650.9 488.4 653.2 488.9 651.2 489.4 652.1 489.9 650 490.4 653.7 490.9 654.1 491.4 650.2 491.9 653.3 492.4 648.8 492.9 652.1 493.4 650.9 493.9 653.9 494.4 651.4 494.9 653.2 495.4 652.5 495.9 650.8 496.4 652 496.9 654.6 497.4 654.6 497.9 651 498.4 652.9 498.9 651.1 499.4 651.5 499.9 653.5 500.4 648.4 500.9 653.2 501.4 653 501.9 653.6 502.4 652.5 502.9 654.6 503.4 654.8 503.9 653 504.4 653.8 504.9 653.4 505.4 654.3 505.9 654.4 506.4 651.5 506.9 653.7 507.4 653.4 507.9 654.2 508.4 653.6 508.9 652.9 509.4 651.9 509.9 652.6 510.4 653.7 510.9 650.5 511.4 652.6 511.9 653.9 512.4 650.3 512.9 651.8 513.4 653.3 513.9 652.5 514.4 654.4 514.9 653.5 515.4 654.8 515.9 654 516.4 650.6 516.9 655.2 517.4 654.4 517.9 653.2 518.4 654.1 518.9 653 519.4 648 519.9 652.2 520.4 651.5 520.9 651.7 521.4 650.6 521.9 652.5 522.4 652.5 522.9 647.5 523.4 652.4 523.9 647.7 524.4 653 524.9 652.9 525.4 653.7 525.9 653.6 526.4 652.4 526.9 653.9 527.4 649.1 527.9 652.5 528.4 654.9 528.9 651.9 529.4 650.9 529.9 653.4 530.4 654.8 530.9 654.8 531.4 654.4 531.9 654.1 532.4 654 532.9 653.4 533.4 650.2 533.9 654.4 534.4 655.4 534.9 653.3 535.4 654.5 535.9 653.6 536.4 654.6 536.9 654.4 537.4 654 537.9 652.9 538.4 654.2 538.9 649.6 539.4 651.3 539.9 653.1 540.4 653.6 540.9 652.9 540.9 669.6 540.4 667.8 539.9 667.8 539.4 666.5 538.9 667.1 538.4 669.4 537.9 671.4 537.4 666.5 536.9 667.4 536.4 666.2 535.9 667.6 535.4 665.1 534.9 670.6 534.4 669.9 533.9 665.7 533.4 666.9 532.9 665.6 532.4 670.5 531.9 670.6 531.4 668.6 530.9 666.6 530.4 669 529.9 665.6 529.4 665.7 528.9 666.4 528.4 668.6 527.9 667.3 527.4 670.5 526.9 667.6 526.4 667.3 525.9 668.8 525.4 671.1 524.9 667.3 524.4 669.4 523.9 669 523.4 668.4 522.9 669.4 522.4 670.7 521.9 669 521.4 671.7 520.9 669.5 520.4 667.3 519.9 668.8 519.4 668.8 518.9 668.9 518.4 666.1 517.9 665.5 517.4 665.5 516.9 663.9 516.4 664 515.9 666.1 515.4 664.2 514.9 667.4 514.4 670.1 513.9 666.5 513.4 666.1 512.9 666.5 512.4 671.1 511.9 666.4 511.4 668.3 510.9 665.5 510.4 666.1 509.9 666.3 509.4 668.2 508.9 667.3 508.4 670.1 507.9 666.6 507.4 667.4 506.9 668.8 506.4 666.5 505.9 668.8 505.4 669.3 504.9 665.5 504.4 665.1 503.9 665.8 503.4 666.4 502.9 665.1 502.4 666.6 501.9 667.5 501.4 667 500.9 671.6 500.4 670 499.9 667.8 499.4 670.8 498.9 666.5 498.4 667.3 497.9 667.1 497.4 666.1 496.9 671.6 496.4 668.1 495.9 666.3 495.4 670.9 494.9 667.9 494.4 667.7 493.9 666.8 493.4 667.6 492.9 667.3 492.4 666.3 491.9 666.2 491.4 668.5 490.9 669.3 490.4 667 489.9 669.8 489.4 666.6 488.9 667.1 488.4 666.9 487.9 666 487.4 667.1 486.9 667.2 486.4 666.4 485.9 665.4 485.4 668.7 484.9 667.2 484.4 666.5 483.9 664.5 483.4 664.5 482.9 663.1 482.4 664.4 481.9 662.7 481.4 661.7 480.9 666.1 480.4 660.6 479.9 665.1 479.4 665 478.9 662.2 478.4 661.4 477.9 660.4 477.4 660.5 476.9 659.6 476.4 662.6 475.9 661.3 475.4 663.6 474.9 660.2 474.4 658 473.9 659.2 473.4 657.7 472.9 658.8 472.4 659.2 471.9 658.2 471.4 656.5 470.9 655.8 470.4 656.2 469.9 656.9 469.4 654.5 468.9 654.4 468.4 657.5 467.9 654.1 467.4 653.8 466.9 654.1 466.4 658 465.9 652.2 465.4 651.9 464.9 651.5 464.4 655 463.9 650.2 463.4 651 462.9 651.1 462.4 649.2 461.9 649.7 461.4 651.5 460.9 648.5 460.4 651.2 459.9 647.7 459.4 648.4 458.9 650.1 458.4 650.8 457.9 647.8 457.4 645.5 456.9 647.7 456.4 646 455.9 644.6 455.4 644.2 454.9 644.3 454.4 644 453.9 642.3 453.4 641.6 452.9 643.5 452.4 641.8 451.9 640.7 451.4 640.6 450.9 641.3 450.4 640.3 449.9 641.1 449.4 640.3 448.9 638.8 448.4 640.4 447.9 636.7 447.4 637.8 446.9 638.3 446.4 638.3 445.9 635.5 445.4 635.7 444.9 637.9 444.4 636.4 443.9 633.9 443.4 633.5 442.9 632.9 442.4 635.4 441.9 634.5 441.4 633.5 440.9 631.4 440.4 629.9 439.9 630.5 439.4 630.8 438.9 628.1 438.4 628.4 437.9 629.6 437.4 630.2 436.9 627 436.4 626.5 435.9 624.6 435.4 625.5 434.9 625.7 434.4 622.8 433.9 621.2 433.4 623.6 432.9 620.1 432.4 618.1 431.9 618.1 431.4 615.4 430.9 614.8 430.4 612.4 429.9 611.7 429.4 611.4 428.9 611.1Z" fill="#000"/><path d="M392.9 595.2L393.4 599.2 393.9 595.3 394.4 598.4 394.9 592.2 395.4 597.3 395.9 597.7 396.4 599.7 396.9 597.2 397.4 601.3 397.9 602.4 398.4 600.7 398.9 600.7 399.4 602.5 399.9 604.3 400.4 601.6 400.9 603.3 401.4 605 401.9 604.8 402.4 604.2 402.9 605.2 403.4 604.6 403.9 603.4 404.4 605.7 404.9 602.7 405.4 606.1 405.9 605.5 406.4 606.1 406.9 604.5 407.4 605 407.9 604.4 408.4 603 408.9 600.5 409.4 602.3 409.9 601.2 410.4 595.5 410.9 600.7 411.4 597.7 411.9 597.7 412.4 596 412.9 600 413.4 599.3 413.9 599.2 414.4 600.4 414.9 599.7 415.4 596.9 415.9 601.6 416.4 601.2 416.9 599 417.4 602 417.9 602.7 418.4 601.9 418.9 599 419.4 602.2 419.9 598.7 420.4 601.7 420.9 600.5 421.4 599.6 421.9 595.3 422.4 600.8 422.9 600.2 423.4 600.1 423.9 600.5 424.4 600 424.9 599.1 425.4 598.5 425.9 597.1 426.4 596.4 426.9 594.9 427.4 595.4 427.9 596.8 428.4 594.2 428.9 597.4 429.4 597 429.9 596.4 430.4 597.8 430.9 594.3 431.4 597.9 431.9 599 432.4 596.7 432.9 599 433.4 600.6 433.9 600.7 434.4 601.7 434.9 594 435.4 602.9 435.9 602.7 436.4 602.2 436.9 603.1 437.4 600.7 437.9 603 438.4 603 438.9 600.3 439.4 601.7 439.9 600.6 440.4 602.2 440.9 599.1 441.4 601.7 441.9 603 442.4 602.3 442.9 603.7 443.4 603 443.9 602.8 444.4 602.2 444.9 601 445.4 605.7 445.9 606.1 446.4 604.6 446.9 605.4 447.4 605.6 447.9 606.8 448.4 605.3 448.9 605.9 449.4 604.4 449.9 602 450.4 604.5 450.9 605.3 451.4 603.1 451.9 605.1 452.4 602.1 452.9 606.1 453.4 605.8 453.9 606.1 454.4 602.3 454.9 603.8 455.4 605.2 455.9 604.8 456.4 605.2 456.9 605.3 457.4 602.8 457.9 604.6 458.4 605.4 458.9 604.3 459.4 602.2 459.9 599.9 460.4 602.1 460.9 604 461.4 603.8 461.9 602.6 462.4 600.9 462.9 603.2 463.4 602.1 463.9 602.7 464.4 602.3 464.9 601.1 465.4 597.5 465.9 602.3 466.4 602.2 466.9 603.5 467.4 602.4 467.9 602.5 468.4 598.8 468.9 602.7 469.4 602.4 469.9 599.7 470.4 598.1 470.9 601.1 471.4 601.6 471.9 600.9 472.4 600.3 472.9 600.7 473.4 599.5 473.9 601.1 474.4 600.6 474.9 601 475.4 601.4 475.9 601.3 476.4 601.1 476.9 602.3 477.4 602.9 477.9 603.4 478.4 602.5 478.9 603.7 479.4 603 479.9 602.7 480.4 602.6 480.9 601 481.4 600.7 481.9 601.9 482.4 602 482.9 602.6 483.4 601.7 483.9 601.5 484.4 601.9 484.9 600 485.4 600.1 485.9 601.7 486.4 604.1 486.9 601.5 487.4 604.7 487.9 603.3 488.4 604.3 488.9 603.9 489.4 603.1 489.9 603.3 490.4 603.1 490.9 600 491.4 602.7 491.9 602.4 492.4 602.4 492.9 601.3 493.4 599.5 493.9 601.1 494.4 598.8 494.9 600.8 495.4 600.6 495.9 600 496.4 597.6 496.9 599.7 497.4 596.7 497.9 600.4 498.4 601.3 498.9 602.5 499.4 602.2 499.9 602.8 500.4 601.7 500.9 598.6 501.4 602.5 501.9 599 502.4 602.1 502.9 601.1 503.4 599.7 503.9 601.4 504.4 600.9 504.9 600.2 505.4 599.2 505.9 599.8 506.4 599.3 506.9 600.5 507.4 600.8 507.9 601.3 508.4 601.7 508.9 600.4 509.4 601.8 509.9 600.9 510.4 600.6 510.9 601.9 511.4 603.8 511.9 603.6 512.4 603.2 512.9 603 513.4 601.5 513.9 600.3 514.4 600.3 514.9 599 515.4 595.2 515.9 598.7 516.4 601.6 516.9 600.5 517.4 599.7 517.9 600.5 518.4 599.9 518.9 601.3 519.4 602 519.9 601.9 520.4 602.3 520.9 602.4 521.4 602.1 521.9 600 522.4 600.7 522.9 600.2 523.4 601.4 523.9 598 524.4 600.4 524.9 602.1 525.4 602.5 525.9 604 526.4 604.1 526.9 605.1 527.4 605.7 527.9 604.4 528.4 605.4 528.9 604 529.4 604.2 529.9 604.7 530.4 605.3 530.9 605 531.4 603.4 531.9 603.1 532.4 603.1 532.9 601 533.4 601 533.9 602.8 534.4 603 534.9 603 535.4 602.9 535.9 603 536.4 602.5 536.9 603.4 537.4 602.1 537.9 602.7 538.4 602.9 538.9 601.8 539.4 601.9 539.9 601.9 540.4 601.9 540.9 602.2 540.9 612.9 540.4 618 539.9 613.4 539.4 614.1 538.9 612.2 538.4 612.8 537.9 611.9 537.4 616 536.9 613.1 536.4 615 535.9 618 535.4 614.2 534.9 614.1 534.4 615.6 533.9 616.2 533.4 616.2 532.9 616.5 532.4 615.9 531.9 616.3 531.4 618.2 530.9 618 530.4 619.2 529.9 617.9 529.4 616 528.9 618 528.4 616 527.9 616.5 527.4 618 526.9 615.5 526.4 616.4 525.9 615.9 525.4 616.7 524.9 618.7 524.4 617.9 523.9 617 523.4 617.6 522.9 619.6 522.4 616.1 521.9 616.9 521.4 616.7 520.9 614.3 520.4 615.9 519.9 613.8 519.4 614.1 518.9 617.1 518.4 613.6 517.9 613.7 517.4 613.6 516.9 612.9 516.4 613.2 515.9 613.6 515.4 616.1 514.9 615.4 514.4 614.3 513.9 615.8 513.4 615.4 512.9 616.1 512.4 616.6 511.9 613.6 511.4 613.8 510.9 614.5 510.4 618.6 509.9 615.4 509.4 614.2 508.9 614.6 508.4 614.9 507.9 614.8 507.4 617.3 506.9 615.5 506.4 615.1 505.9 613.5 505.4 613.2 504.9 612.9 504.4 613 503.9 612.7 503.4 616.8 502.9 616.2 502.4 613.5 501.9 614.4 501.4 613.9 500.9 617.5 500.4 615.4 499.9 614.2 499.4 616.7 498.9 616.2 498.4 614.7 497.9 616.4 497.4 615.2 496.9 616.6 496.4 615.8 495.9 615.5 495.4 615.9 494.9 615.1 494.4 620.4 493.9 615.9 493.4 614.3 492.9 614 492.4 614.4 491.9 615.4 491.4 614.4 490.9 616.9 490.4 614.5 489.9 618.1 489.4 615.2 488.9 618.5 488.4 616 487.9 616.6 487.4 615.8 486.9 616.3 486.4 617.2 485.9 616.9 485.4 617.6 484.9 617.5 484.4 616.7 483.9 615.6 483.4 616.9 482.9 616 482.4 618.3 481.9 616.3 481.4 616.6 480.9 615.5 480.4 616.5 479.9 615.5 479.4 616.5 478.9 616.4 478.4 617.5 477.9 616.2 477.4 615 476.9 613.7 476.4 617.1 475.9 621.3 475.4 613.6 474.9 617 474.4 616.5 473.9 615.5 473.4 614.9 472.9 613.9 472.4 617.9 471.9 615.9 471.4 615.1 470.9 616.9 470.4 617.1 469.9 618.2 469.4 620.3 468.9 621.6 468.4 618.6 467.9 615.9 467.4 615 466.9 614.6 466.4 615.4 465.9 616.4 465.4 615.8 464.9 617.8 464.4 616.5 463.9 614.5 463.4 614.8 462.9 614.9 462.4 614.4 461.9 616.3 461.4 616.2 460.9 623.6 460.4 617.6 459.9 617.9 459.4 616.8 458.9 616.9 458.4 617.5 457.9 617.7 457.4 617.9 456.9 617.8 456.4 618 455.9 619.9 455.4 617.9 454.9 618.6 454.4 617.8 453.9 617.4 453.4 617.1 452.9 618.5 452.4 620.2 451.9 617.6 451.4 618.1 450.9 617.9 450.4 621.9 449.9 624.8 449.4 617.7 448.9 617.7 448.4 619.2 447.9 618.1 447.4 619.9 446.9 619.5 446.4 623.6 445.9 624.8 445.4 620.3 444.9 621.6 444.4 620.2 443.9 618.9 443.4 621.1 442.9 620.9 442.4 618.1 441.9 617 441.4 617 440.9 621.9 440.4 615 439.9 615.1 439.4 615.1 438.9 615.9 438.4 618 437.9 615.8 437.4 615.7 436.9 618.6 436.4 616.4 435.9 616.4 435.4 616.1 434.9 615.9 434.4 617.5 433.9 616 433.4 614.8 432.9 614.4 432.4 618.1 431.9 612.9 431.4 617 430.9 612.4 430.4 613.3 429.9 610.2 429.4 610.9 428.9 611.8 428.4 610.6 427.9 610.1 427.4 609.8 426.9 610.7 426.4 610.6 425.9 611.4 425.4 611.8 424.9 610.3 424.4 614.2 423.9 610.7 423.4 613.8 422.9 615.4 422.4 612.5 421.9 617.6 421.4 615 420.9 615.6 420.4 616.8 419.9 616 419.4 616.5 418.9 618.3 418.4 617.7 417.9 616 417.4 616.8 416.9 618.9 416.4 616.6 415.9 616.1 415.4 615.2 414.9 614.7 414.4 617.1 413.9 617.2 413.4 615.5 412.9 615.4 412.4 615.3 411.9 619 411.4 616.4 410.9 616.7 410.4 617.8 409.9 620.4 409.4 621.2 408.9 617.5 408.4 617.7 407.9 616.9 407.4 617 406.9 619 406.4 615.7 405.9 615.7 405.4 616.3 404.9 615.5 404.4 616.4 403.9 616.5 403.4 617.8 402.9 616.7 402.4 617.3 401.9 617.4 401.4 617.4 400.9 617.7 400.4 617.5 399.9 617.7 399.4 618.7 398.9 616.1 398.4 617.8 397.9 615.9 397.4 616.9 396.9 615.3 396.4 613.6 395.9 614.3 395.4 612.7 394.9 611.4 394.4 612.7 393.9 611.5 393.4 611.8 392.9 612.7Z" fill="#00ff00"/><path d="M392.9 600.2L393.4 600 393.9 600.9 394.4 598.9 394.9 601.1 395.4 601.4 395.9 602.3 396.4 602.6 396.9 602.6 397.4 601.6 397.9 603.6 398.4 604.3 398.9 602.2 399.4 603.9 399.9 602.9 400.4 604.5 400.9 600.5 401.4 602.9 401.9 605 402.4 605.4 402.9 604.1 403.4 606.3 403.9 606.6 404.4 604.6 404.9 607.4 405.4 607.2 405.9 605.9 406.4 608 406.9 604.7 407.4 605.5 407.9 605.6 408.4 602.9 408.9 605.7 409.4 604.3 409.9 604.2 410.4 603.6 410.9 601.1 411.4 601.7 411.9 602.4 412.4 602.7 412.9 602.9 413.4 603 413.9 602.3 414.4 601.4 414.9 600.3 415.4 601.2 415.9 600.3 416.4 599.6 416.9 602.3 417.4 596.7 417.9 602.6 418.4 604.1 418.9 603.6 419.4 603.4 419.9 601.3 420.4 600.1 420.9 601.5 421.4 602.3 421.9 598.7 422.4 601.7 422.9 601.8 423.4 601.6 423.9 598.7 424.4 600.1 424.9 600.8 425.4 600.3 425.9 601.1 426.4 599.7 426.9 599.1 427.4 599.3 427.9 598.2 428.4 600.8 428.9 600.1 429.4 600.8 429.9 597.8 430.4 599.2 430.9 601.3 431.4 596.2 431.9 602.2 432.4 600.6 432.9 602.8 433.4 602.8 433.9 603.3 434.4 601.4 434.9 603.2 435.4 602.7 435.9 600.1 436.4 601.9 436.9 601.7 437.4 600.7 437.9 601.8 438.4 597.6 438.9 600.9 439.4 602.9 439.9 603.1 440.4 601.8 440.9 599 441.4 602.5 441.9 601.8 442.4 603.3 442.9 601.1 443.4 604.2 443.9 603.5 444.4 603.8 444.9 603.7 445.4 603.8 445.9 603.7 446.4 603.5 446.9 603.1 447.4 603.9 447.9 602.3 448.4 603.5 448.9 602.9 449.4 603.2 449.9 603.3 450.4 602.7 450.9 599 451.4 601.3 451.9 601.7 452.4 601.6 452.9 598.2 453.4 600.4 453.9 599.9 454.4 600.9 454.9 599.5 455.4 601 455.9 599.5 456.4 601.8 456.9 596.6 457.4 601.9 457.9 601.2 458.4 601.2 458.9 600.2 459.4 600.1 459.9 597.4 460.4 601.9 460.9 602.8 461.4 603.4 461.9 601.9 462.4 602.4 462.9 602.1 463.4 602.6 463.9 602.9 464.4 600.5 464.9 600.8 465.4 601.8 465.9 602.2 466.4 600.8 466.9 601.8 467.4 600.1 467.9 598.8 468.4 600.9 468.9 600 469.4 600.5 469.9 599.7 470.4 601.1 470.9 599.6 471.4 600.4 471.9 601.3 472.4 601.4 472.9 601.6 473.4 602 473.9 602.7 474.4 602.4 474.9 602.3 475.4 601.5 475.9 599.7 476.4 601.1 476.9 595.6 477.4 601.1 477.9 600.7 478.4 601.3 478.9 601.3 479.4 602.8 479.9 600.8 480.4 602.1 480.9 600 481.4 597.1 481.9 601.1 482.4 600.7 482.9 599.2 483.4 600.9 483.9 601.8 484.4 602.3 484.9 601.7 485.4 603.3 485.9 602.3 486.4 604.3 486.9 604.2 487.4 604 487.9 603.8 488.4 601 488.9 602.6 489.4 602.6 489.9 603.8 490.4 603.2 490.9 603.4 491.4 602.3 491.9 601.4 492.4 601.3 492.9 601.6 493.4 602.7 493.9 602.9 494.4 600.1 494.9 597.9 495.4 602.9 495.9 600.9 496.4 599.7 496.9 601.4 497.4 601.6 497.9 598 498.4 601.5 498.9 602.2 499.4 602.3 499.9 596.9 500.4 603.2 500.9 603.5 501.4 602.2 501.9 601.6 502.4 599.5 502.9 601.3 503.4 600.4 503.9 600.8 504.4 599.3 504.9 601.2 505.4 595.9 505.9 599.6 506.4 599.9 506.9 595.8 507.4 595.3 507.9 597.3 508.4 595.5 508.9 596.9 509.4 600 509.9 600.1 510.4 593 510.9 601.2 511.4 602 511.9 602.1 512.4 603.1 512.9 599.4 513.4 600.2 513.9 601 514.4 602.2 514.9 601.2 515.4 599.9 515.9 602.7 516.4 599.8 516.9 602.6 517.4 601.8 517.9 601.8 518.4 602.7 518.9 602.1 519.4 603.8 519.9 604.1 520.4 603.6 520.9 604.1 521.4 602.4 521.9 604 522.4 602.9 522.9 603.9 523.4 604.7 523.9 603.7 524.4 601.8 524.9 604.4 525.4 604.6 525.9 604.9 526.4 605.7 526.9 604.9 527.4 601.9 527.9 604.6 528.4 602.6 528.9 603.8 529.4 602.2 529.9 600.4 530.4 602.9 530.9 602.2 531.4 602 531.9 601.3 532.4 600.4 532.9 599.6 533.4 601.2 533.9 600.6 534.4 600.8 534.9 599.8 535.4 598.1 535.9 602.2 536.4 602.6 536.9 603.2 537.4 603.5 537.9 601.6 538.4 604.7 538.9 604.9 539.4 604.9 539.9 602.7 540.4 601.7 540.9 604.1 540.9 616.2 540.4 616.9 539.9 616 539.4 617.7 538.9 618.8 538.4 618.1 537.9 613.1 537.4 615.1 536.9 613.3 536.4 613.1 535.9 620 535.4 612.9 534.9 615.4 534.4 613.6 533.9 613.6 533.4 613.8 532.9 616 532.4 617 531.9 614.3 531.4 614.5 530.9 614.9 530.4 614.1 529.9 616.2 529.4 615.6 528.9 617.9 528.4 614.6 527.9 616.5 527.4 615.3 526.9 616.7 526.4 617.3 525.9 615.6 525.4 618.1 524.9 616.4 524.4 617.6 523.9 620.5 523.4 617.8 522.9 620.8 522.4 618.4 521.9 618 521.4 616.9 520.9 619.9 520.4 617.5 519.9 617.1 519.4 615.1 518.9 616.5 518.4 614.7 517.9 614.3 517.4 614.3 516.9 612.9 516.4 612.8 515.9 615.1 515.4 612.9 514.9 614.9 514.4 615.5 513.9 613.3 513.4 614.9 512.9 612.6 512.4 612.1 511.9 614.1 511.4 612.7 510.9 612.3 510.4 613.3 509.9 613.5 509.4 612.2 508.9 614.1 508.4 613.6 507.9 614.2 507.4 612.1 506.9 614.6 506.4 613.2 505.9 613.3 505.4 612.7 504.9 613.9 504.4 614.8 503.9 615.3 503.4 615.7 502.9 615.6 502.4 614.2 501.9 615.3 501.4 615.2 500.9 615.1 500.4 614.8 499.9 617.4 499.4 615.5 498.9 617.8 498.4 616 497.9 622.7 497.4 618.6 496.9 616.7 496.4 619.2 495.9 615.8 495.4 616.7 494.9 616.8 494.4 615.1 493.9 615 493.4 615.5 492.9 617.6 492.4 616.9 491.9 616.4 491.4 615.3 490.9 616 490.4 615.5 489.9 623.3 489.4 615.2 488.9 615.6 488.4 616.9 487.9 620.1 487.4 615.4 486.9 614.9 486.4 614.3 485.9 617 485.4 613.8 484.9 615.2 484.4 615 483.9 615.8 483.4 617 482.9 615.6 482.4 616 481.9 616.6 481.4 613.6 480.9 614 480.4 612.4 479.9 612.5 479.4 615.2 478.9 615.5 478.4 612.3 477.9 612.6 477.4 614.5 476.9 614.8 476.4 617.8 475.9 611.6 475.4 616.1 474.9 613.4 474.4 609.9 473.9 610.8 473.4 612.2 472.9 612.6 472.4 611.3 471.9 616 471.4 612 470.9 612 470.4 612.7 469.9 613.1 469.4 613.7 468.9 615.9 468.4 617 467.9 615.9 467.4 618.3 466.9 614.3 466.4 615.4 465.9 614.2 465.4 617.1 464.9 613.2 464.4 614.2 463.9 614.2 463.4 613.4 462.9 614.1 462.4 612.8 461.9 612.7 461.4 614 460.9 615.1 460.4 613.9 459.9 614.7 459.4 617.4 458.9 614.6 458.4 618.8 457.9 614.7 457.4 612.2 456.9 612 456.4 612.8 455.9 614.1 455.4 613.5 454.9 612.7 454.4 612.6 453.9 613.1 453.4 615.8 452.9 614.2 452.4 614.4 451.9 614.5 451.4 620.8 450.9 614.9 450.4 615.7 449.9 615.6 449.4 617.6 448.9 616.6 448.4 616.6 447.9 618.2 447.4 616.4 446.9 619.2 446.4 619.1 445.9 617.6 445.4 617 444.9 616.9 444.4 616.6 443.9 615.9 443.4 621.1 442.9 615 442.4 614.9 441.9 617.3 441.4 616.4 440.9 616.7 440.4 614.5 439.9 616.8 439.4 616.4 438.9 614.9 438.4 615.3 437.9 614.9 437.4 616.6 436.9 617 436.4 618.8 435.9 615.5 435.4 615.5 434.9 616.3 434.4 615.5 433.9 615 433.4 616.1 432.9 616.5 432.4 615.5 431.9 615.5 431.4 617.3 430.9 614.3 430.4 615.3 429.9 616.3 429.4 618.3 428.9 616.1 428.4 615 427.9 613.7 427.4 613.5 426.9 613.5 426.4 613.1 425.9 613.4 425.4 612.9 424.9 613.4 424.4 613.4 423.9 614.1 423.4 617.9 422.9 617.9 422.4 615.2 421.9 614.9 421.4 618.2 420.9 618.4 420.4 615.2 419.9 615.3 419.4 617.2 418.9 616.4 418.4 614.6 417.9 614.1 417.4 617 416.9 615.1 416.4 615.6 415.9 615.1 415.4 617.9 414.9 616.1 414.4 615.3 413.9 614.7 413.4 616.6 412.9 614.6 412.4 620.5 411.9 617.2 411.4 616.7 410.9 615.7 410.4 619.3 409.9 617.3 409.4 619.1 408.9 618.3 408.4 617.8 407.9 618.7 407.4 626.1 406.9 619.5 406.4 619.9 405.9 619.2 405.4 618.8 404.9 620.2 404.4 619 403.9 618.4 403.4 623.7 402.9 619.3 402.4 621.4 401.9 621 401.4 619.4 400.9 619.5 400.4 617.2 399.9 618.6 399.4 618.9 398.9 618.3 398.4 618.6 397.9 615.7 397.4 617.3 396.9 618.8 396.4 615.9 395.9 615.3 395.4 616.6 394.9 615.5 394.4 620.7 393.9 619.4 393.4 617.9 392.9 617.5Z" fill="#0000ff"/><path d="M392.9 595.6L393.4 601.1 393.9 600 394.4 591.3 394.9 597.2 395.4 595.8 395.9 599.4 396.4 599.3 396.9 599.5 397.4 601.2 397.9 594.4 398.4 599.4 398.9 599 399.4 602.1 399.9 587.3 400.4 587.3 400.9 598.4 401.4 601.8 401.9 588.6 402.4 588.6 402.9 601 403.4 600 403.9 599.7 404.4 599.2 404.9 598 405.4 600.5 405.9 601.6 406.4 601.6 406.9 599.1 407.4 600 407.9 601.7 408.4 597.3 408.9 601.5 409.4 600.9 409.9 598.6 410.4 598.8 410.9 600.3 411.4 599.4 411.9 600.9 412.4 597 412.9 600.5 413.4 592.5 413.9 600.9 414.4 593.1 414.9 597 415.4 600.5 415.9 600.9 416.4 598.9 416.9 596.7 417.4 600.9 417.9 599.3 418.4 599.8 418.9 600.5 419.4 601.5 419.9 601.6 420.4 599.3 420.9 602.6 421.4 602.4 421.9 596 422.4 597.9 422.9 602.9 423.4 603 423.9 601.8 424.4 603.2 424.9 600.9 425.4 600.2 425.9 600.8 426.4 600.6 426.9 598.2 427.4 600.1 427.9 600.3 428.4 594.5 428.9 599.1 429.4 598.9 429.9 599.9 430.4 602.2 430.9 601.8 431.4 602.1 431.9 600.4 432.4 602.2 432.9 599.6 433.4 599 433.9 598.6 434.4 601.6 434.9 596.8 435.4 588.6 435.9 588.6 436.4 602.1 436.9 601.8 437.4 601.2 437.9 602 438.4 601.7 438.9 602.7 439.4 602.2 439.9 602.1 440.4 598.8 440.9 602.6 441.4 597.8 441.9 599.7 442.4 602.4 442.9 603 443.4 600.2 443.9 601.1 444.4 601.6 444.9 602.5 445.4 600.4 445.9 602.5 446.4 601.8 446.9 600.6 447.4 603.4 447.9 603.6 448.4 593.2 448.9 600 449.4 603.9 449.9 602.1 450.4 602.5 450.9 601.9 451.4 601.9 451.9 595.7 452.4 598.6 452.9 600.7 453.4 596.2 453.9 599.7 454.4 600.2 454.9 600.8 455.4 601.6 455.9 600.7 456.4 601.8 456.9 602.5 457.4 600.5 457.9 600.2 458.4 595.6 458.9 602.5 459.4 600.2 459.9 601.8 460.4 600.1 460.9 601.2 461.4 595.7 461.9 601.4 462.4 600.4 462.9 599.2 463.4 599.3 463.9 601.1 464.4 600.7 464.9 595 465.4 597.8 465.9 593.8 466.4 592 466.9 602.8 467.4 601.7 467.9 602.8 468.4 601.8 468.9 601.2 469.4 602.7 469.9 589.4 470.4 600.3 470.9 598.5 471.4 600.2 471.9 601.4 472.4 600.3 472.9 592.7 473.4 600.1 473.9 600.3 474.4 599.1 474.9 601.7 475.4 600.1 475.9 601.1 476.4 597.4 476.9 602.8 477.4 591.4 477.9 601.8 478.4 602.5 478.9 598.5 479.4 601.3 479.9 600 480.4 594.5 480.9 593.2 481.4 598.5 481.9 601.7 482.4 601 482.9 600.5 483.4 599 483.9 600.5 484.4 602.1 484.9 599.1 485.4 599.8 485.9 602 486.4 601.6 486.9 598.2 487.4 594.9 487.9 594.5 488.4 600.1 488.9 600.7 489.4 601 489.9 599.9 490.4 599 490.9 600.5 491.4 601.5 491.9 589.7 492.4 601.1 492.9 603.1 493.4 600.7 493.9 600.1 494.4 601.6 494.9 598.3 495.4 598.9 495.9 600.6 496.4 600.9 496.9 600.6 497.4 600.7 497.9 597.4 498.4 600.7 498.9 599.5 499.4 601 499.9 596.3 500.4 600.6 500.9 600.6 501.4 601.1 501.9 600.6 502.4 600.4 502.9 597 503.4 602 503.9 596.2 504.4 600.9 504.9 600.3 505.4 598.6 505.9 598.7 506.4 600.4 506.9 599.1 507.4 598.7 507.9 598.9 508.4 601 508.9 600.8 509.4 601.7 509.9 601.5 510.4 600.9 510.9 601.2 511.4 601.5 511.9 599.6 512.4 597.6 512.9 599.8 513.4 599.4 513.9 597.3 514.4 600.9 514.9 596.7 515.4 596.4 515.9 598.6 516.4 602.1 516.9 602.1 517.4 599.3 517.9 594.7 518.4 599.6 518.9 601.6 519.4 601.3 519.9 600.2 520.4 595.8 520.9 598.5 521.4 600.1 521.9 596.8 522.4 602.5 522.9 602.4 523.4 602.3 523.9 598.4 524.4 600.8 524.9 599.9 525.4 601 525.9 602.8 526.4 596.6 526.9 602 527.4 597 527.9 599.7 528.4 600.3 528.9 600.2 529.4 598.3 529.9 591.6 530.4 595.1 530.9 599.7 531.4 600.8 531.9 599.5 532.4 601.9 532.9 602.1 533.4 602.2 533.9 602.6 534.4 601.1 534.9 599.1 535.4 597.3 535.9 599 536.4 601.6 536.9 592.3 537.4 600.1 537.9 601.1 538.4 599.2 538.9 602.2 539.4 599.1 539.9 589.9 540.4 589.9 540.9 598.6 540.9 614.9 540.4 619.7 539.9 614.6 539.4 616.5 538.9 622.3 538.4 617.8 537.9 615.5 537.4 616.3 536.9 615.5 536.4 618.6 535.9 615.4 535.4 616.1 534.9 615.3 534.4 615 533.9 614.9 533.4 616.4 532.9 615.1 532.4 618.7 531.9 618 531.4 617.8 530.9 617.5 530.4 620.3 529.9 618.8 529.4 616.7 528.9 617.2 528.4 616.7 527.9 616.5 527.4 617.1 526.9 616.6 526.4 618.1 525.9 616.9 525.4 616.5 524.9 617.5 524.4 623 523.9 617.5 523.4 615.7 522.9 617.2 522.4 616 521.9 616.7 521.4 616.7 520.9 619.6 520.4 619.6 519.9 618.5 519.4 619.4 518.9 615.9 518.4 617.1 517.9 615.5 517.4 617.6 516.9 615.3 516.4 616 515.9 615.7 515.4 615.4 514.9 617.3 514.4 625.1 513.9 617.3 513.4 619.6 512.9 619.5 512.4 618.4 511.9 616.1 511.4 619.5 510.9 616.5 510.4 616.1 509.9 616.5 509.4 615.7 508.9 616.2 508.4 616.8 507.9 619.6 507.4 616.6 506.9 617.2 506.4 616.6 505.9 618.7 505.4 617 504.9 618.5 504.4 616.5 503.9 616.4 503.4 615.2 502.9 617.9 502.4 620.4 501.9 617 501.4 621.4 500.9 629.9 500.4 618.8 499.9 617.7 499.4 616.5 498.9 621 498.4 616.3 497.9 616.2 497.4 618.7 496.9 621.6 496.4 616.7 495.9 619.5 495.4 621.7 494.9 616.1 494.4 617.7 493.9 614.6 493.4 622.7 492.9 615.2 492.4 614.8 491.9 615.2 491.4 614.7 490.9 622.2 490.4 615.7 489.9 617.1 489.4 617.6 488.9 617.8 488.4 617.7 487.9 617.2 487.4 619.4 486.9 616.7 486.4 619.3 485.9 615.1 485.4 614.9 484.9 614.7 484.4 615.4 483.9 616.4 483.4 615.4 482.9 629.3 482.4 616.5 481.9 615.6 481.4 617.6 480.9 615.8 480.4 620.7 479.9 617.5 479.4 617 478.9 616.3 478.4 614.7 477.9 614.2 477.4 616.8 476.9 615.6 476.4 614.8 475.9 617.5 475.4 618.4 474.9 616 474.4 617.4 473.9 619.7 473.4 618 472.9 627.2 472.4 617.6 471.9 617.2 471.4 621 470.9 618.6 470.4 617.3 469.9 614.7 469.4 614.7 468.9 615.2 468.4 614.9 467.9 615.6 467.4 616.7 466.9 616.7 466.4 620.2 465.9 614.9 465.4 617.3 464.9 616 464.4 616 463.9 617 463.4 617.6 462.9 621.9 462.4 616 461.9 617.6 461.4 615.9 460.9 617 460.4 616.2 459.9 615.5 459.4 619.3 458.9 617.4 458.4 614.5 457.9 614.5 457.4 615.1 456.9 623.1 456.4 626.8 455.9 615 455.4 621.2 454.9 615.8 454.4 618.7 453.9 625.7 453.4 616.3 452.9 616.2 452.4 617.9 451.9 615.4 451.4 615.4 450.9 614.4 450.4 615.2 449.9 613.8 449.4 614.6 448.9 614.4 448.4 613.2 447.9 614.9 447.4 614 446.9 614 446.4 614.7 445.9 617.6 445.4 618.4 444.9 615.5 444.4 617.6 443.9 621.7 443.4 615.6 442.9 617 442.4 614.2 441.9 619.2 441.4 615.4 440.9 615.5 440.4 615.9 439.9 615.1 439.4 617 438.9 615.2 438.4 619.2 437.9 617.8 437.4 617.6 436.9 616.1 436.4 616.2 435.9 624.7 435.4 615.1 434.9 615.9 434.4 617.7 433.9 619.2 433.4 616.2 432.9 619 432.4 614.9 431.9 617.1 431.4 615.4 430.9 616 430.4 616.1 429.9 616.5 429.4 617.6 428.9 618 428.4 618.4 427.9 617.5 427.4 620.4 426.9 616.2 426.4 615.3 425.9 615.3 425.4 615.7 424.9 615.8 424.4 618.4 423.9 616.1 423.4 614.2 422.9 618 422.4 617.1 421.9 615.4 421.4 617.1 420.9 617.2 420.4 619.1 419.9 617.2 419.4 615.7 418.9 617.2 418.4 618.5 417.9 616.7 417.4 616.4 416.9 617.7 416.4 615.4 415.9 615.6 415.4 615.2 414.9 614.7 414.4 617 413.9 618.6 413.4 618.8 412.9 616.8 412.4 619.9 411.9 618.6 411.4 616.9 410.9 622.5 410.4 618.8 409.9 616.6 409.4 616.2 408.9 624.9 408.4 620.9 407.9 619 407.4 615.7 406.9 618.8 406.4 617.5 405.9 616.9 405.4 618.9 404.9 617.1 404.4 619.2 403.9 620.5 403.4 615.9 402.9 616.9 402.4 615.4 401.9 615.4 401.4 616.2 400.9 614.8 400.4 615.5 399.9 615.6 399.4 616.5 398.9 616.3 398.4 618.1 397.9 623.3 397.4 619.1 396.9 616.7 396.4 617.1 395.9 617.4 395.4 616.3 394.9 623 394.4 617.1 393.9 620.2 393.4 619.5 392.9 618.1Z" fill="#ff0000"/></g><rect x="392.9" y="501.6" width="149.5" height="187.4" fill="none" stroke="#999" stroke-width="1.25"/><path d="M392.9 689v-1.5M392.9 501.6v1.5M430.3 689v-1.5M430.3 501.6v1.5M467.6 689v-1.5M467.6 501.6v1.5M505 689v-1.5M505 501.6v1.5M542.4 689v-1.5M542.4 501.6v1.5M392.9 689h1.5M542.4 689h-1.5M392.9 662.2h1.5M542.4 662.2h-1.5M392.9 635.5h1.5M542.4 635.5h-1.5M392.9 608.7h1.5M542.4 608.7h-1.5M392.9 581.9h1.5M542.4 581.9h-1.5M392.9 555.1h1.5M542.4 555.1h-1.5M392.9 528.4h1.5M542.4 528.4h-1.5M392.9 501.6h1.5M542.4 501.6h-1.5" stroke="#555" stroke-width="0.7" fill="none"/><g font-size="10.1" fill="#222" stroke="#222" stroke-width="0.3"><text x="392.9" y="701.9" text-anchor="middle">0</text><text x="430.3" y="701.9" text-anchor="middle">1</text><text x="467.6" y="701.9" text-anchor="middle">2</text><text x="505" y="701.9" text-anchor="middle">3</text><text x="542.4" y="701.9" text-anchor="middle">4</text><text x="389.1" y="693.1" text-anchor="end">50</text><text x="389.1" y="666.4" text-anchor="end">51</text><text x="389.1" y="639.6" text-anchor="end">52</text><text x="389.1" y="612.8" text-anchor="end">53</text><text x="389.1" y="586.1" text-anchor="end">54</text><text x="389.1" y="559.3" text-anchor="end">55</text><text x="389.1" y="532.5" text-anchor="end">56</text><text x="389.1" y="505.7" text-anchor="end">57</text></g><text x="467.6" y="713.3" text-anchor="middle" font-size="11.11" fill="#1a1a1a" stroke="#1a1a1a" stroke-width="0.25">Time(h)</text><text transform="translate(376.1 595.3) rotate(-90)" text-anchor="middle" font-size="11.11" fill="#1a1a1a" stroke="#1a1a1a" stroke-width="0.22">z-axis CMG(dps)</text><rect x="447.3" y="528.3" width="86.1" height="41.5" fill="#fff" stroke="#666" stroke-width="0.8"/><path d="M449.7 534.4H471.1" stroke="#000" stroke-width="0.8"/><text x="473.8" y="537.7" font-size="9.55" fill="#111" stroke="#111" stroke-width="0.2">Primary</text><path d="M449.7 544.2H471.1" stroke="#00ff00" stroke-width="0.8"/><text x="473.8" y="547.4" font-size="9.55" fill="#111" stroke="#111" stroke-width="0.2">Conventional 1</text><path d="M449.7 553.9H471.1" stroke="#0000ff" stroke-width="0.8"/><text x="473.8" y="557.2" font-size="9.55" fill="#111" stroke="#111" stroke-width="0.2">Conventional 2</text><path d="M449.7 563.7H471.1" stroke="#ff0000" stroke-width="0.8"/><text x="473.8" y="566.9" font-size="9.55" fill="#111" stroke="#111" stroke-width="0.2">Novel</text></g>
<g><path d="M66 753.5V926M104.2 753.5V926M142.5 753.5V926M27.8 901.4H180.7M27.8 876.7H180.7M27.8 852.1H180.7M27.8 827.4H180.7M27.8 802.8H180.7M27.8 778.1H180.7" stroke="#e3e3e3" stroke-width="0.8" fill="none"/><g clip-path="url(#cd1)"><path d="M41.3 898.7L41.8 898.7 42.3 896.3 42.8 895.7 43.3 894.6 43.8 893 44.3 888.2 44.8 887.2 45.3 885.6 45.8 884.4 46.3 883.1 46.8 883.8 47.3 878.3 47.8 882.1 48.3 882.3 48.8 881.6 49.3 881.5 49.8 881.7 50.3 879.9 50.8 876 51.3 878.6 51.8 878.4 52.3 878.8 52.8 877.3 53.3 879.8 53.8 879.5 54.3 877.8 54.8 878.5 55.3 876.7 55.8 876.7 56.3 875.2 56.8 874 57.3 874.1 57.8 873.9 58.3 874.6 58.8 870.9 59.3 871.5 59.8 870.8 60.3 870.3 60.8 868.3 61.3 869.6 61.8 870.6 62.3 864.6 62.8 863.9 63.3 867.4 63.8 867.3 64.3 865.2 64.8 864.9 65.3 862.3 65.8 862.8 66.3 863.1 66.8 859.5 67.3 861.6 67.8 859.8 68.3 860.1 68.8 858.1 69.3 855.7 69.8 857.5 70.3 854.4 70.8 854.1 71.3 854.3 71.8 847.9 72.3 849.3 72.8 848.7 73.3 844.6 73.8 846.1 74.3 844.9 74.8 845.1 75.3 846.8 75.8 844.3 76.3 844 76.8 839.1 77.3 843.1 77.8 841.2 78.3 840.8 78.8 837.7 79.3 836.3 79.8 835.3 80.3 834.3 80.8 835.2 81.3 834.6 81.8 829.3 82.3 833.8 82.8 832.7 83.3 831.4 83.8 830.9 84.3 827.2 84.8 828.2 85.3 826.7 85.8 824.7 86.3 823.9 86.8 825.3 87.3 824.8 87.8 822.8 88.3 823.7 88.8 821.1 89.3 821.8 89.8 821.6 90.3 821.1 90.8 818.9 91.3 815.8 91.8 816.6 92.3 814.1 92.8 809.2 93.3 812.1 93.8 810.9 94.3 809.8 94.8 807.8 95.3 808.8 95.8 806 96.3 807.8 96.8 806.3 97.3 800.3 97.8 804.1 98.3 801.1 98.8 802.4 99.3 801.1 99.8 799 100.3 800.4 100.8 797.3 101.3 798.1 101.8 797 102.3 792.9 102.8 792.6 103.3 793.7 103.8 789.6 104.3 792.8 104.8 791.5 105.3 791.4 105.8 789.4 106.3 784.9 106.8 788.1 107.3 787.4 107.8 787.4 108.3 784.9 108.8 785.7 109.3 784.1 109.8 784 110.3 779.1 110.8 782.5 111.3 780.5 111.8 781.7 112.3 779.6 112.8 776.1 113.3 777.8 113.8 771.5 114.3 775.4 114.8 771.5 115.3 774.5 115.8 771.9 116.3 772.2 116.8 771 117.3 772.8 117.8 772.1 118.3 771.2 118.8 771.1 119.3 769.7 119.8 768.8 120.3 764 120.8 762.5 121.3 766.9 121.8 763.5 122.3 763 122.8 763.5 123.3 765.2 123.8 763.8 124.3 764.3 124.8 764.6 125.3 764 125.8 759.9 126.3 762 126.8 762.4 127.3 762.1 127.8 762.8 128.3 759.6 128.8 762.3 129.3 761.9 129.8 762.2 130.3 757.7 130.8 756.3 131.3 761.4 131.8 760.5 132.3 759.9 132.8 760.1 133.3 756.8 133.8 758.7 134.3 754.8 134.8 759.3 135.3 757.3 135.8 754.1 136.3 758.5 136.8 758.6 137.3 757.3 137.8 755 138.3 754.8 138.8 758.5 139.3 758.8 139.8 759.2 140.3 759.1 140.8 759.1 141.3 759 141.8 757 142.3 757.5 142.8 756 143.3 758.6 143.8 754.1 144.3 757.7 144.8 759.4 145.3 760.1 145.8 756.9 146.3 760.2 146.8 759.4 147.3 759.1 147.8 754.6 148.3 759.2 148.8 758.4 149.3 757.4 149.8 756.8 150.3 756 150.8 755.5 151.3 757.9 151.8 759.2 152.3 756.9 152.8 757.5 153.3 759.2 153.8 757.8 154.3 759 154.8 759 155.3 757.2 155.8 757.3 156.3 758.4 156.8 756.1 157.3 755.8 157.8 758.5 158.3 758.2 158.8 758.8 159.3 755.5 159.8 757.6 160.3 754.1 160.8 758 161.3 758.4 161.8 755.9 162.3 759.6 162.8 759.2 163.3 759.3 163.8 759.2 164.3 757.6 164.8 759.1 165.3 756.8 165.8 754.3 166.3 757.8 166.8 758.1 167.3 755.9 167.8 758.8 168.3 757 168.8 755.7 169.3 757.9 169.8 758.1 170.3 755.4 170.8 757.4 171.3 755.2 171.8 755 172.3 757.8 172.8 756.5 173.3 756.8 173.3 771 172.8 772.9 172.3 771.6 171.8 772.3 171.3 776.4 170.8 775.2 170.3 772.6 169.8 773 169.3 771.6 168.8 771.2 168.3 772.1 167.8 770.2 167.3 774.8 166.8 771.1 166.3 770.7 165.8 773.6 165.3 772 164.8 770.7 164.3 770 163.8 770.3 163.3 769.1 162.8 768.9 162.3 772.5 161.8 771.1 161.3 771.5 160.8 769.8 160.3 772.2 159.8 770.6 159.3 770.5 158.8 771.9 158.3 772.2 157.8 770.8 157.3 770.9 156.8 770.7 156.3 771.7 155.8 774.3 155.3 771 154.8 771.3 154.3 772.7 153.8 774.3 153.3 771 152.8 775.6 152.3 775.7 151.8 773.3 151.3 771.8 150.8 770.9 150.3 771.3 149.8 772.3 149.3 774 148.8 771.6 148.3 772.8 147.8 770.3 147.3 770 146.8 770.2 146.3 770 145.8 770.1 145.3 770.7 144.8 770.1 144.3 775.5 143.8 774.1 143.3 771.2 142.8 772.1 142.3 773.3 141.8 771.4 141.3 776.6 140.8 773.1 140.3 772.9 139.8 771.8 139.3 772.2 138.8 771.7 138.3 772.2 137.8 772.6 137.3 775.8 136.8 774 136.3 773.1 135.8 772.7 135.3 774 134.8 774.1 134.3 778 133.8 773.5 133.3 775.5 132.8 774.5 132.3 774.9 131.8 773.7 131.3 774.5 130.8 774.6 130.3 776 129.8 778.8 129.3 775.9 128.8 774.2 128.3 776.9 127.8 775.6 127.3 780.6 126.8 776 126.3 779.3 125.8 776.3 125.3 778.4 124.8 778.6 124.3 778.3 123.8 781.7 123.3 779.1 122.8 779.7 122.3 781.6 121.8 782.1 121.3 781.1 120.8 781.7 120.3 781.6 119.8 782.7 119.3 784.9 118.8 784.3 118.3 784.3 117.8 783.2 117.3 784.2 116.8 784.3 116.3 786 115.8 791 115.3 792.7 114.8 788.9 114.3 794.6 113.8 791 113.3 790.5 112.8 795.6 112.3 791 111.8 792.4 111.3 792.3 110.8 795.5 110.3 793.5 109.8 797.5 109.3 797.8 108.8 798.2 108.3 798.1 107.8 802.5 107.3 799.9 106.8 801.4 106.3 803 105.8 802.2 105.3 806.7 104.8 808.1 104.3 807 103.8 810.3 103.3 808.9 102.8 811.5 102.3 811 101.8 813.1 101.3 810.5 100.8 811.2 100.3 813.3 99.8 817.1 99.3 814.6 98.8 816.5 98.3 817.5 97.8 817.6 97.3 820 96.8 821.2 96.3 824.1 95.8 823.5 95.3 826.7 94.8 826 94.3 829.9 93.8 826.6 93.3 826.6 92.8 830.9 92.3 830.1 91.8 828.8 91.3 832.3 90.8 832.1 90.3 832.6 89.8 833.9 89.3 832.5 88.8 833.7 88.3 839.3 87.8 836.6 87.3 841.8 86.8 840.6 86.3 843.5 85.8 841.3 85.3 846.2 84.8 844.7 84.3 845.8 83.8 845.5 83.3 849.2 82.8 848.7 82.3 849.1 81.8 849.6 81.3 850.7 80.8 853 80.3 854.8 79.8 854.8 79.3 859.3 78.8 857.9 78.3 860.1 77.8 860.3 77.3 858.9 76.8 859.8 76.3 860.5 75.8 861.2 75.3 862.5 74.8 862.6 74.3 863.4 73.8 864.4 73.3 865.1 72.8 871.3 72.3 867.6 71.8 868.2 71.3 869.7 70.8 870.2 70.3 869.6 69.8 872.3 69.3 871.3 68.8 872.1 68.3 874.1 67.8 874 67.3 875 66.8 881.2 66.3 878 65.8 877.3 65.3 878.7 64.8 882.9 64.3 880.6 63.8 883.4 63.3 882.7 62.8 881 62.3 882 61.8 885.7 61.3 884.2 60.8 885.7 60.3 886.1 59.8 890.6 59.3 887.1 58.8 889.9 58.3 888.3 57.8 887.6 57.3 887.7 56.8 887.3 56.3 887.9 55.8 888.6 55.3 893 54.8 889.8 54.3 889.5 53.8 891 53.3 890.1 52.8 890.9 52.3 891.9 51.8 891.9 51.3 893.5 50.8 894.5 50.3 893.4 49.8 894.3 49.3 896.2 48.8 898.4 48.3 895.8 47.8 899.7 47.3 896.8 46.8 897.4 46.3 899.9 45.8 898.9 45.3 903.3 44.8 899.5 44.3 902.5 43.8 900.9 43.3 902.7 42.8 902.5 42.3 903.2 41.8 904.2 41.3 903.7Z" fill="#000"/><path d="M27.8 896.4L28.3 897.6 28.8 895.8 29.3 896.6 29.8 897.1 30.3 894.9 30.8 895.3 31.3 896.5 31.8 894.7 32.3 895.9 32.8 895 33.3 895.6 33.8 894.4 34.3 895.9 34.8 895.1 35.3 893.9 35.8 893.6 36.3 894.7 36.8 895.3 37.3 896.2 37.8 890.2 38.3 893.6 38.8 895.7 39.3 893.6 39.8 895.1 40.3 894.8 40.8 893.8 41.3 895 41.8 895.9 42.3 895.5 42.8 896.2 43.3 894.7 43.8 894.7 44.3 894.8 44.8 895.1 45.3 895.8 45.8 892 46.3 891.7 46.8 895.6 47.3 894.8 47.8 896.8 48.3 896.6 48.8 896.7 49.3 896.7 49.8 896.1 50.3 896.6 50.8 895.5 51.3 896.3 51.8 896.6 52.3 894.8 52.8 896.3 53.3 897 53.8 897.3 54.3 897.2 54.8 898.1 55.3 897.8 55.8 893.1 56.3 897.1 56.8 894.5 57.3 895.9 57.8 895.4 58.3 895.8 58.8 896.6 59.3 896.2 59.8 896.1 60.3 896.3 60.8 895.7 61.3 896.6 61.8 896.8 62.3 896.9 62.8 896.6 63.3 896 63.8 895.9 64.3 895.8 64.8 895.3 65.3 895.4 65.8 893.3 66.3 893.9 66.8 894.5 67.3 893.5 67.8 894.6 68.3 892.4 68.8 893.7 69.3 893.3 69.8 894.7 70.3 895.3 70.8 893.6 71.3 895.5 71.8 895.3 72.3 892.6 72.8 893.6 73.3 895.5 73.8 895.7 74.3 896.3 74.8 896.7 75.3 897.1 75.8 896.5 76.3 896.6 76.8 896.8 77.3 896.4 77.8 894.8 78.3 894.6 78.8 895.5 79.3 896.4 79.8 895.4 80.3 896.3 80.8 895.7 81.3 896.3 81.8 896.5 82.3 896.2 82.8 897.5 83.3 894.9 83.8 897.5 84.3 897.4 84.8 895.6 85.3 895.4 85.8 896.7 86.3 896.4 86.8 896.7 87.3 895.4 87.8 896 88.3 897.3 88.8 897.3 89.3 897.8 89.8 899 90.3 897.7 90.8 898.3 91.3 898.6 91.8 898.1 92.3 895 92.8 897.2 93.3 897 93.8 896.7 94.3 895.8 94.8 896 95.3 897.2 95.8 897.3 96.3 895.7 96.8 898 97.3 898.2 97.8 897.4 98.3 898 98.8 897.3 99.3 897.4 99.8 897.2 100.3 896.9 100.8 896 101.3 895.8 101.8 894.6 102.3 895.6 102.8 894.8 103.3 895.4 103.8 895.1 104.3 895.1 104.8 895 105.3 895.3 105.8 895.7 106.3 895.4 106.8 896.3 107.3 895 107.8 896.9 108.3 896.9 108.8 894.7 109.3 897.5 109.8 897.8 110.3 897.3 110.8 898 111.3 897.3 111.8 898.1 112.3 898.1 112.8 896.4 113.3 898.4 113.8 897.9 114.3 895 114.8 898.1 115.3 896.9 115.8 896.3 116.3 895.9 116.8 897.6 117.3 897.7 117.8 897.6 118.3 895.5 118.8 896.7 119.3 895.8 119.8 896.4 120.3 896.1 120.8 895.8 121.3 895 121.8 894.9 122.3 894.5 122.8 894.6 123.3 894.9 123.8 894.8 124.3 894.7 124.8 894.1 125.3 892.7 125.8 894.6 126.3 895.5 126.8 895.4 127.3 894.9 127.8 894 128.3 895.3 128.8 894.1 129.3 891.9 129.8 895.1 130.3 895.1 130.8 895.9 131.3 896.1 131.8 895.7 132.3 896.4 132.8 895.9 133.3 894.9 133.8 894.9 134.3 895.6 134.8 895.3 135.3 894.9 135.8 896 136.3 895.9 136.8 896.1 137.3 897 137.8 897 138.3 897.9 138.8 898 139.3 898.4 139.8 896.5 140.3 898.4 140.8 897.7 141.3 897.3 141.8 897 142.3 897.2 142.8 897.4 143.3 897.2 143.8 895.9 144.3 897.2 144.8 896.1 145.3 896 145.8 896.1 146.3 897.5 146.8 896.3 147.3 898.4 147.8 897.3 148.3 898.6 148.8 899 149.3 899.6 149.8 899.4 150.3 896 150.8 896.2 151.3 899.2 151.8 899.4 152.3 897.4 152.8 898.2 153.3 898.6 153.8 897.4 154.3 898.6 154.8 896.9 155.3 898.9 155.8 898.8 156.3 897.4 156.8 896.5 157.3 897.8 157.8 897.2 158.3 897.4 158.8 895.9 159.3 896.8 159.8 896.7 160.3 895.7 160.8 895.5 161.3 894 161.8 894.7 162.3 894.6 162.8 894.3 163.3 894.3 163.8 894.1 164.3 894.3 164.8 894.3 165.3 892.3 165.8 891.7 166.3 893.2 166.8 894.4 167.3 896.1 167.8 895.4 168.3 896.5 168.8 896.5 169.3 895.1 169.8 897.1 170.3 897 170.8 897.4 171.3 897.4 171.8 896.7 172.3 897.3 172.8 897 173.3 897.5 173.3 907.1 172.8 907.3 172.3 911.2 171.8 907.4 171.3 908.5 170.8 908 170.3 907.1 169.8 905.8 169.3 905.6 168.8 905 168.3 904.8 167.8 904.1 167.3 904.9 166.8 904.6 166.3 903.9 165.8 905.8 165.3 904.7 164.8 905.2 164.3 907.2 163.8 905.9 163.3 905.6 162.8 907.1 162.3 905.5 161.8 907.2 161.3 906.9 160.8 905.9 160.3 908.7 159.8 906.6 159.3 909.7 158.8 906.1 158.3 907.5 157.8 908.3 157.3 906.1 156.8 912 156.3 906.5 155.8 906.5 155.3 907 154.8 907.4 154.3 907.6 153.8 908.5 153.3 909 152.8 910.2 152.3 909.9 151.8 910.3 151.3 912.9 150.8 912.5 150.3 910.4 149.8 910.9 149.3 910.3 148.8 910.1 148.3 909.6 147.8 909 147.3 909.2 146.8 908.6 146.3 908.6 145.8 908.5 145.3 909.3 144.8 907.8 144.3 909.3 143.8 908.3 143.3 906.9 142.8 909.9 142.3 906.8 141.8 909.8 141.3 906.7 140.8 907.5 140.3 910.4 139.8 906.8 139.3 906.5 138.8 908.1 138.3 906.2 137.8 906.4 137.3 906.7 136.8 909.4 136.3 906.4 135.8 906.3 135.3 906.3 134.8 906.2 134.3 907.2 133.8 907.4 133.3 908.7 132.8 907.9 132.3 906.1 131.8 907 131.3 906.3 130.8 906.8 130.3 907.2 129.8 908.9 129.3 910.1 128.8 907.1 128.3 907.5 127.8 907 127.3 909.2 126.8 907.5 126.3 907.2 125.8 906.7 125.3 907.9 124.8 907.2 124.3 906.3 123.8 906.2 123.3 906 122.8 907.1 122.3 907 121.8 905.7 121.3 905.7 120.8 906.3 120.3 907.3 119.8 906 119.3 907.5 118.8 907.1 118.3 907.5 117.8 908.8 117.3 908.6 116.8 909.7 116.3 909.3 115.8 909.1 115.3 909.1 114.8 909.9 114.3 909.2 113.8 908.2 113.3 908.5 112.8 908.1 112.3 909 111.8 908.5 111.3 907.9 110.8 910.5 110.3 907.1 109.8 907.3 109.3 906.6 108.8 906.5 108.3 909 107.8 907.3 107.3 906.2 106.8 907.1 106.3 907.4 105.8 909 105.3 905.6 104.8 906 104.3 905.4 103.8 906.2 103.3 906.5 102.8 906.9 102.3 908.8 101.8 906.5 101.3 908 100.8 910.1 100.3 907.6 99.8 909.7 99.3 907.9 98.8 908.7 98.3 906.7 97.8 908.2 97.3 907.6 96.8 908.4 96.3 906 95.8 907.5 95.3 906.5 94.8 905.8 94.3 905.7 93.8 906.9 93.3 906.7 92.8 906.7 92.3 907 91.8 905.7 91.3 911.2 90.8 906.6 90.3 908 89.8 908.8 89.3 908.5 88.8 908.4 88.3 908.7 87.8 913.5 87.3 908.3 86.8 908 86.3 907.8 85.8 907.3 85.3 906.4 84.8 907.7 84.3 906.2 83.8 905.8 83.3 905.8 82.8 906.3 82.3 906.4 81.8 908.2 81.3 908 80.8 907.7 80.3 908.8 79.8 908.9 79.3 909 78.8 907.9 78.3 907.8 77.8 907.5 77.3 907.7 76.8 906.4 76.3 906.5 75.8 905.8 75.3 906.6 74.8 905.2 74.3 905.8 73.8 905.8 73.3 907 72.8 906.9 72.3 907.3 71.8 906.3 71.3 907 70.8 909.3 70.3 905.8 69.8 906.8 69.3 904.7 68.8 904.7 68.3 905.3 67.8 906.1 67.3 906.1 66.8 905.6 66.3 905.3 65.8 905.4 65.3 905.2 64.8 905.4 64.3 907 63.8 908.3 63.3 906.1 62.8 905.1 62.3 905.1 61.8 905.5 61.3 905.8 60.8 907.5 60.3 905.3 59.8 906.4 59.3 905.5 58.8 905.7 58.3 905 57.8 905.6 57.3 906.4 56.8 906.6 56.3 908.3 55.8 905.4 55.3 906.1 54.8 905.5 54.3 905.8 53.8 906.2 53.3 906.4 52.8 909.7 52.3 908.4 51.8 907.3 51.3 907.5 50.8 907.3 50.3 907.1 49.8 906.8 49.3 906.2 48.8 906.5 48.3 905.9 47.8 905 47.3 904.7 46.8 906.1 46.3 905 45.8 906.3 45.3 905.5 44.8 906.3 44.3 906.3 43.8 907.9 43.3 904.7 42.8 904.5 42.3 905.1 41.8 905.7 41.3 907.5 40.8 905.8 40.3 906.4 39.8 905.7 39.3 907.8 38.8 907.7 38.3 905.8 37.8 904.8 37.3 905.2 36.8 906.1 36.3 908.9 35.8 906.4 35.3 907.2 34.8 907 34.3 906.6 33.8 906.7 33.3 908.8 32.8 909.6 32.3 908.1 31.8 907.4 31.3 907.5 30.8 908 30.3 907.9 29.8 908.2 29.3 911.1 28.8 909.5 28.3 911.1 27.8 909.1Z" fill="#00ff00"/><path d="M27.8 897.6L28.3 897.7 28.8 896.4 29.3 897.5 29.8 896.5 30.3 896.6 30.8 894.8 31.3 896.6 31.8 896.9 32.3 896.1 32.8 897.7 33.3 895.8 33.8 897.6 34.3 895 34.8 896.4 35.3 899 35.8 899.5 36.3 899.6 36.8 898.8 37.3 897.4 37.8 897.9 38.3 897.7 38.8 898.7 39.3 898.5 39.8 898.1 40.3 898.5 40.8 895.8 41.3 898.5 41.8 897.7 42.3 895.3 42.8 895.9 43.3 896.1 43.8 897.8 44.3 897 44.8 897 45.3 896.2 45.8 894.3 46.3 896.7 46.8 896.9 47.3 895.5 47.8 896.1 48.3 894.9 48.8 893.6 49.3 895.2 49.8 894.7 50.3 895 50.8 896.2 51.3 895.1 51.8 893.9 52.3 897.5 52.8 896.2 53.3 896.9 53.8 895.8 54.3 897.3 54.8 895.7 55.3 897.9 55.8 898.3 56.3 898.3 56.8 897.4 57.3 897.3 57.8 897.1 58.3 896.5 58.8 896.6 59.3 896.2 59.8 896.7 60.3 891.6 60.8 897 61.3 896.2 61.8 896.7 62.3 896.4 62.8 894.4 63.3 896.1 63.8 895.7 64.3 893.6 64.8 896.4 65.3 897 65.8 897.2 66.3 895.7 66.8 896.2 67.3 896.9 67.8 895.7 68.3 896.6 68.8 897.3 69.3 896.6 69.8 897.6 70.3 897.7 70.8 898 71.3 898.7 71.8 898.9 72.3 898.4 72.8 898.2 73.3 898.5 73.8 898.1 74.3 897.9 74.8 898.7 75.3 897.2 75.8 895.6 76.3 898.3 76.8 898.4 77.3 897.9 77.8 899 78.3 898.5 78.8 898.5 79.3 896.9 79.8 899.9 80.3 897.9 80.8 900.3 81.3 899.4 81.8 899.4 82.3 898 82.8 894.9 83.3 897.5 83.8 897.5 84.3 896 84.8 896.8 85.3 896.2 85.8 896.4 86.3 897 86.8 896.4 87.3 896.5 87.8 897.3 88.3 897 88.8 897.5 89.3 897.5 89.8 895.6 90.3 897.9 90.8 898.3 91.3 898.1 91.8 898.3 92.3 897.8 92.8 895.1 93.3 895 93.8 897.2 94.3 898 94.8 894.4 95.3 893.6 95.8 897.6 96.3 896.2 96.8 896.3 97.3 894.8 97.8 896.5 98.3 896.6 98.8 896 99.3 895.8 99.8 896.8 100.3 895.7 100.8 895.7 101.3 896.8 101.8 894.6 102.3 893.2 102.8 896.2 103.3 895.8 103.8 895.1 104.3 891.6 104.8 893.8 105.3 895.3 105.8 895 106.3 894.3 106.8 896.1 107.3 895.5 107.8 896.1 108.3 896.8 108.8 896.3 109.3 896 109.8 891.2 110.3 895.7 110.8 894.1 111.3 894.7 111.8 894.9 112.3 894.8 112.8 895 113.3 894.5 113.8 893.9 114.3 894.4 114.8 895 115.3 895.3 115.8 895 116.3 894.6 116.8 893.3 117.3 894.6 117.8 895.4 118.3 895.6 118.8 896 119.3 896.6 119.8 896.3 120.3 896.3 120.8 896 121.3 894.3 121.8 895 122.3 895.1 122.8 893.9 123.3 894.3 123.8 893.7 124.3 896.9 124.8 897 125.3 896.9 125.8 897.6 126.3 891.8 126.8 896.7 127.3 895.2 127.8 897.1 128.3 895 128.8 896 129.3 896.4 129.8 896.8 130.3 896.9 130.8 896.7 131.3 897.1 131.8 897.1 132.3 896.8 132.8 894.9 133.3 897.4 133.8 896.7 134.3 897.1 134.8 895.8 135.3 896.1 135.8 896.8 136.3 896.9 136.8 895.5 137.3 897.3 137.8 897.8 138.3 897.9 138.8 897.2 139.3 897.5 139.8 897.6 140.3 897.7 140.8 897.1 141.3 897.2 141.8 892.8 142.3 895.9 142.8 893 143.3 896.3 143.8 896.6 144.3 894.7 144.8 897.4 145.3 897.8 145.8 898.4 146.3 896.3 146.8 899.1 147.3 898.7 147.8 899.1 148.3 897 148.8 898.2 149.3 898.1 149.8 896.9 150.3 897.8 150.8 896.2 151.3 897.5 151.8 893.9 152.3 897.5 152.8 896.9 153.3 896.8 153.8 895.8 154.3 897 154.8 897.1 155.3 894.7 155.8 895.7 156.3 895.9 156.8 894.4 157.3 893.7 157.8 893.7 158.3 891.5 158.8 894.8 159.3 895 159.8 894.9 160.3 894.1 160.8 894.1 161.3 895 161.8 895.4 162.3 896 162.8 896.7 163.3 896.8 163.8 896.4 164.3 894.3 164.8 896.4 165.3 896.1 165.8 895.4 166.3 895.1 166.8 895.1 167.3 894.3 167.8 896.1 168.3 896.2 168.8 890.6 169.3 896.8 169.8 896.7 170.3 896.1 170.8 896.1 171.3 896.4 171.8 896.6 172.3 894.6 172.8 896.6 173.3 895.6 173.3 907.1 172.8 907.5 172.3 907.5 171.8 907.3 171.3 907.9 170.8 908.2 170.3 906.3 169.8 906.4 169.3 907.2 168.8 905.6 168.3 905.3 167.8 906.1 167.3 905 166.8 906.3 166.3 905.2 165.8 905.9 165.3 907.9 164.8 904.6 164.3 904.9 163.8 905.9 163.3 907.2 162.8 905.4 162.3 905.4 161.8 905.3 161.3 905 160.8 904.4 160.3 906.5 159.8 904.5 159.3 907 158.8 904.5 158.3 905.7 157.8 908.1 157.3 904.6 156.8 905.2 156.3 905.5 155.8 907.5 155.3 905.7 154.8 907.7 154.3 906.4 153.8 907.1 153.3 907.3 152.8 907.9 152.3 909 151.8 909.4 151.3 908.3 150.8 909.1 150.3 909.8 149.8 908.9 149.3 908.4 148.8 911.1 148.3 907.7 147.8 910.5 147.3 907 146.8 907.3 146.3 906.9 145.8 906.7 145.3 906.8 144.8 906.7 144.3 906.9 143.8 907.4 143.3 906.8 142.8 907.1 142.3 906.5 141.8 908.2 141.3 907.7 140.8 907.4 140.3 908.3 139.8 906.7 139.3 908.3 138.8 907.3 138.3 908 137.8 908.4 137.3 909.1 136.8 909.6 136.3 908.6 135.8 908.6 135.3 907.9 134.8 907 134.3 906.8 133.8 906.2 133.3 906.3 132.8 907.1 132.3 905.7 131.8 906.9 131.3 906.9 130.8 906 130.3 905.7 129.8 906.2 129.3 907.5 128.8 907.1 128.3 907.9 127.8 908.8 127.3 908.3 126.8 908.6 126.3 906.4 125.8 906.7 125.3 906.1 124.8 907.6 124.3 907 123.8 906.1 123.3 906.7 122.8 908.1 122.3 906.7 121.8 907.8 121.3 905.3 120.8 904.2 120.3 904.5 119.8 906.2 119.3 904 118.8 907 118.3 904.4 117.8 905.9 117.3 904.3 116.8 907.2 116.3 904 115.8 906.6 115.3 904.2 114.8 904.2 114.3 903.9 113.8 905.9 113.3 904.9 112.8 905.1 112.3 904.4 111.8 906.5 111.3 905.8 110.8 905.9 110.3 906.1 109.8 907.7 109.3 905.6 108.8 905.8 108.3 906.1 107.8 905.6 107.3 905.8 106.8 906.6 106.3 907.1 105.8 907.2 105.3 906.6 104.8 906.6 104.3 906.7 103.8 907.4 103.3 905.9 102.8 907.5 102.3 907.6 101.8 906.7 101.3 906 100.8 907.7 100.3 906.6 99.8 907 99.3 906.9 98.8 907.4 98.3 907.1 97.8 907.9 97.3 907.3 96.8 908.1 96.3 906.9 95.8 907.7 95.3 909 94.8 909.5 94.3 907.5 93.8 907.3 93.3 908.1 92.8 907.6 92.3 907.2 91.8 907.1 91.3 907.3 90.8 907.1 90.3 907.2 89.8 907.4 89.3 908.7 88.8 907.1 88.3 908.7 87.8 908.3 87.3 907 86.8 908.9 86.3 909.5 85.8 910.9 85.3 910.2 84.8 910.4 84.3 910.2 83.8 910.7 83.3 912.4 82.8 910.3 82.3 909.8 81.8 909.2 81.3 909.7 80.8 909.5 80.3 909.1 79.8 910.8 79.3 909.5 78.8 909.4 78.3 910.9 77.8 910.5 77.3 909.7 76.8 910.4 76.3 909.7 75.8 909.4 75.3 908.9 74.8 910 74.3 908.1 73.8 908.2 73.3 907.5 72.8 909.2 72.3 909.2 71.8 907.4 71.3 907.8 70.8 906.3 70.3 907 69.8 906.6 69.3 908.6 68.8 906.4 68.3 907.8 67.8 910 67.3 906.7 66.8 905.3 66.3 905.6 65.8 906.7 65.3 905.5 64.8 905.9 64.3 905 63.8 904.7 63.3 904.6 62.8 904.4 62.3 904.6 61.8 905.4 61.3 906.7 60.8 906.8 60.3 906.9 59.8 908 59.3 908.1 58.8 911.8 58.3 909.8 57.8 910 57.3 910 56.8 909.7 56.3 909.4 55.8 910.3 55.3 912 54.8 909.3 54.3 911.2 53.8 908.4 53.3 907.1 52.8 906.8 52.3 905.6 51.8 907.7 51.3 905.1 50.8 904.3 50.3 905.5 49.8 905 49.3 906.1 48.8 906.1 48.3 905.8 47.8 907.2 47.3 908.4 46.8 906.9 46.3 907.4 45.8 908.1 45.3 908.7 44.8 907.9 44.3 908.2 43.8 908.1 43.3 908 42.8 908.5 42.3 907 41.8 908.1 41.3 907.3 40.8 907.2 40.3 910.3 39.8 906.7 39.3 907.7 38.8 907.7 38.3 907.9 37.8 909.8 37.3 908.3 36.8 908.2 36.3 908.3 35.8 909.5 35.3 909.2 34.8 909 34.3 909.3 33.8 909.5 33.3 909.7 32.8 908.3 32.3 908.8 31.8 908.8 31.3 907.7 30.8 909.5 30.3 907.8 29.8 912.4 29.3 908.6 28.8 907.5 28.3 907.7 27.8 908.6Z" fill="#0000ff"/><path d="M27.8 896.4L28.3 897.8 28.8 897.7 29.3 896.2 29.8 897 30.3 896.2 30.8 895.9 31.3 893.9 31.8 895.2 32.3 892.8 32.8 894.2 33.3 893.5 33.8 894.2 34.3 894.7 34.8 894.6 35.3 894.7 35.8 891.8 36.3 895.2 36.8 895.6 37.3 895.4 37.8 888.3 38.3 894.9 38.8 894.5 39.3 895.5 39.8 894.7 40.3 892.9 40.8 894.7 41.3 895.3 41.8 893.4 42.3 894 42.8 893.9 43.3 894.6 43.8 893.9 44.3 894 44.8 895.4 45.3 894.7 45.8 892.5 46.3 896.4 46.8 895.2 47.3 893.7 47.8 894.7 48.3 895.2 48.8 894.6 49.3 895.2 49.8 895.7 50.3 896 50.8 896.1 51.3 890.9 51.8 892.9 52.3 896.5 52.8 894.8 53.3 896 53.8 894.2 54.3 895.6 54.8 894.3 55.3 894.1 55.8 895.4 56.3 894.9 56.8 891.2 57.3 895.1 57.8 895.5 58.3 895.5 58.8 894.3 59.3 893.2 59.8 895 60.3 895.5 60.8 895.7 61.3 895.8 61.8 894.1 62.3 894.5 62.8 895.3 63.3 894.5 63.8 894.4 64.3 895.2 64.8 895.1 65.3 894.5 65.8 891.8 66.3 893.7 66.8 893.9 67.3 892.5 67.8 894.2 68.3 891.7 68.8 888.7 69.3 893.7 69.8 894.8 70.3 895.4 70.8 894.2 71.3 894.4 71.8 894.7 72.3 895.5 72.8 894.8 73.3 893.4 73.8 894 74.3 893.7 74.8 891.6 75.3 894 75.8 895 76.3 888.6 76.8 891.7 77.3 895.3 77.8 894.6 78.3 895.3 78.8 896.1 79.3 895.6 79.8 894 80.3 895 80.8 895.4 81.3 895.6 81.8 896.3 82.3 896.5 82.8 893.5 83.3 896.1 83.8 895.7 84.3 895.2 84.8 893.1 85.3 895 85.8 895.1 86.3 894.8 86.8 895.2 87.3 890.5 87.8 893.4 88.3 895.5 88.8 896.2 89.3 894.3 89.8 896.5 90.3 896.4 90.8 894.9 91.3 893.5 91.8 896.8 92.3 895.2 92.8 895.4 93.3 895.8 93.8 895 94.3 893.7 94.8 895.9 95.3 895.1 95.8 895.9 96.3 891.9 96.8 894.6 97.3 895.8 97.8 895.8 98.3 895.1 98.8 895.5 99.3 896.4 99.8 894.1 100.3 896.9 100.8 896.7 101.3 894.1 101.8 896.8 102.3 894.4 102.8 896 103.3 895.3 103.8 894.4 104.3 894.4 104.8 891.3 105.3 895.6 105.8 894 106.3 894.9 106.8 895.8 107.3 895.7 107.8 893.7 108.3 894.3 108.8 895.6 109.3 893.3 109.8 894.7 110.3 892.2 110.8 894.3 111.3 895 111.8 894.8 112.3 893.7 112.8 894.8 113.3 894.6 113.8 896.1 114.3 896.2 114.8 894.2 115.3 895.1 115.8 894.3 116.3 895.6 116.8 893.5 117.3 893.9 117.8 896.3 118.3 895 118.8 895.9 119.3 893.9 119.8 893.2 120.3 894.7 120.8 895.8 121.3 894.7 121.8 895.4 122.3 894.3 122.8 896 123.3 895.6 123.8 894 124.3 894.9 124.8 891.1 125.3 893.8 125.8 895 126.3 895.7 126.8 895 127.3 896.7 127.8 896.4 128.3 892.4 128.8 894.9 129.3 895.2 129.8 895.1 130.3 893.5 130.8 893 131.3 894.2 131.8 895 132.3 894.2 132.8 893.7 133.3 892.8 133.8 895.9 134.3 896 134.8 887.3 135.3 896.4 135.8 893.4 136.3 896.4 136.8 895.6 137.3 894.5 137.8 895.7 138.3 894.4 138.8 895.2 139.3 895.2 139.8 894.2 140.3 894.2 140.8 894.7 141.3 893.9 141.8 890.9 142.3 894.9 142.8 894.2 143.3 893.7 143.8 893.6 144.3 894.9 144.8 894.3 145.3 896 145.8 895.4 146.3 896.1 146.8 896.3 147.3 896.3 147.8 893.3 148.3 892.9 148.8 893 149.3 895.9 149.8 895 150.3 895.9 150.8 894.9 151.3 886.4 151.8 894.8 152.3 895.5 152.8 896.4 153.3 895.2 153.8 896 154.3 896.2 154.8 889 155.3 895.2 155.8 893.2 156.3 894.4 156.8 893.8 157.3 895.2 157.8 895.2 158.3 893.6 158.8 893 159.3 893.9 159.8 892.4 160.3 893.7 160.8 895.2 161.3 887.4 161.8 893.4 162.3 895 162.8 893.8 163.3 892 163.8 893.4 164.3 894.9 164.8 893.5 165.3 893.1 165.8 894.8 166.3 895.4 166.8 890.8 167.3 894.2 167.8 893.5 168.3 892.7 168.8 894.3 169.3 893.4 169.8 888.5 170.3 895.2 170.8 892.9 171.3 895.1 171.8 891.7 172.3 893.2 172.8 894.8 173.3 886.9 173.3 908.6 172.8 908.3 172.3 908.8 171.8 906.9 171.3 911.4 170.8 910.3 170.3 906.5 169.8 909.1 169.3 909.4 168.8 908.3 168.3 907.1 167.8 907.9 167.3 907.3 166.8 908.5 166.3 911 165.8 908.4 165.3 909.4 164.8 911.2 164.3 910.8 163.8 908.7 163.3 908.8 162.8 908.1 162.3 907 161.8 908.7 161.3 907.3 160.8 908.8 160.3 908.2 159.8 908.5 159.3 909 158.8 909.6 158.3 908.4 157.8 908.5 157.3 907.5 156.8 908.5 156.3 908.2 155.8 913.3 155.3 911.2 154.8 908.9 154.3 907.8 153.8 906.2 153.3 906 152.8 907.1 152.3 908.2 151.8 906.6 151.3 907.2 150.8 908.5 150.3 907 149.8 908.6 149.3 910.2 148.8 909.6 148.3 908.3 147.8 909.7 147.3 912.2 146.8 909 146.3 907.3 145.8 908.3 145.3 911.3 144.8 907.5 144.3 908.2 143.8 908 143.3 909.6 142.8 907.7 142.3 907.8 141.8 911.8 141.3 908 140.8 907.9 140.3 910.4 139.8 909.6 139.3 908.9 138.8 907.5 138.3 907.1 137.8 907.5 137.3 908.1 136.8 907.8 136.3 907.2 135.8 909 135.3 907.3 134.8 905.7 134.3 905.7 133.8 907.7 133.3 906.9 132.8 907 132.3 907.4 131.8 908.1 131.3 908 130.8 907.6 130.3 907.9 129.8 910.9 129.3 907.4 128.8 906.6 128.3 908.9 127.8 905.6 127.3 908.5 126.8 906.1 126.3 906.8 125.8 910.8 125.3 913.3 124.8 907.5 124.3 908.9 123.8 908.4 123.3 907.4 122.8 909.4 122.3 908.7 121.8 907.3 121.3 908.6 120.8 908.1 120.3 910.3 119.8 907.1 119.3 907.2 118.8 912.3 118.3 907.2 117.8 909.5 117.3 907.3 116.8 909.2 116.3 909.2 115.8 906.5 115.3 909.3 114.8 907.3 114.3 909.6 113.8 910.8 113.3 907.5 112.8 909 112.3 908.1 111.8 907.9 111.3 912.7 110.8 907.5 110.3 907.1 109.8 911.7 109.3 907.3 108.8 907.6 108.3 908 107.8 909.2 107.3 906.8 106.8 907 106.3 908.3 105.8 907.6 105.3 909.5 104.8 909.4 104.3 908.2 103.8 908.3 103.3 912 102.8 906.5 102.3 906.4 101.8 906.4 101.3 906.4 100.8 913 100.3 907.5 99.8 908.7 99.3 912.7 98.8 906.5 98.3 907.1 97.8 908.6 97.3 912.1 96.8 907 96.3 911.5 95.8 907.9 95.3 907.4 94.8 906.7 94.3 908.8 93.8 906.3 93.3 906.4 92.8 906.4 92.3 906.9 91.8 906.3 91.3 905.8 90.8 908.1 90.3 905.7 89.8 905.4 89.3 905.7 88.8 907.9 88.3 906.6 87.8 907.1 87.3 912.4 86.8 907.9 86.3 907.3 85.8 907 85.3 907.2 84.8 906.6 84.3 909.6 83.8 907.3 83.3 912.3 82.8 911.7 82.3 906.6 81.8 906.7 81.3 908.2 80.8 907.5 80.3 907.6 79.8 908.2 79.3 907.3 78.8 907.4 78.3 906.9 77.8 907.6 77.3 908.7 76.8 909.4 76.3 907.7 75.8 907.9 75.3 908.4 74.8 913.2 74.3 908.3 73.8 909.2 73.3 908 72.8 910.5 72.3 909 71.8 912.4 71.3 911.5 70.8 908.2 70.3 909.2 69.8 908.5 69.3 907.3 68.8 908 68.3 907.8 67.8 909.7 67.3 909 66.8 910.6 66.3 908.3 65.8 908.5 65.3 910.3 64.8 909.9 64.3 908.4 63.8 906.8 63.3 907.1 62.8 906.5 62.3 907.7 61.8 908.6 61.3 912.2 60.8 906.8 60.3 909.7 59.8 909.9 59.3 907.1 58.8 908.7 58.3 908 57.8 908.2 57.3 909.5 56.8 907.8 56.3 908.3 55.8 907.7 55.3 908 54.8 907.9 54.3 907.5 53.8 906.1 53.3 908 52.8 907.3 52.3 908.2 51.8 906.7 51.3 907.5 50.8 908.8 50.3 906.9 49.8 907.6 49.3 907.3 48.8 907.5 48.3 907.5 47.8 906.8 47.3 909.1 46.8 906.5 46.3 906.2 45.8 908.7 45.3 909.3 44.8 916.2 44.3 907.8 43.8 907.9 43.3 908.2 42.8 909.3 42.3 908.3 41.8 907.9 41.3 914.1 40.8 917.5 40.3 907.7 39.8 907.5 39.3 907 38.8 907.7 38.3 909 37.8 908.9 37.3 908.2 36.8 908.2 36.3 907.2 35.8 909.8 35.3 908.3 34.8 911.4 34.3 908.1 33.8 913.5 33.3 908.4 32.8 909.9 32.3 908.9 31.8 911.4 31.3 910.3 30.8 906.7 30.3 907.1 29.8 905.9 29.3 905.6 28.8 912.7 28.3 905.4 27.8 910.2Z" fill="#ff0000"/></g><rect x="27.8" y="753.5" width="152.9" height="172.5" fill="none" stroke="#999" stroke-width="1.25"/><path d="M27.8 926v-1.5M27.8 753.5v1.5M66 926v-1.5M66 753.5v1.5M104.2 926v-1.5M104.2 753.5v1.5M142.5 926v-1.5M142.5 753.5v1.5M180.7 926v-1.5M180.7 753.5v1.5M27.8 926h1.5M180.7 926h-1.5M27.8 901.4h1.5M180.7 901.4h-1.5M27.8 876.7h1.5M180.7 876.7h-1.5M27.8 852.1h1.5M180.7 852.1h-1.5M27.8 827.4h1.5M180.7 827.4h-1.5M27.8 802.8h1.5M180.7 802.8h-1.5M27.8 778.1h1.5M180.7 778.1h-1.5M27.8 753.5h1.5M180.7 753.5h-1.5" stroke="#555" stroke-width="0.7" fill="none"/><g font-size="9.3" fill="#222" stroke="#222" stroke-width="0.3"><text x="27.8" y="938.2" text-anchor="middle">0</text><text x="66" y="938.2" text-anchor="middle">1</text><text x="104.2" y="938.2" text-anchor="middle">2</text><text x="142.5" y="938.2" text-anchor="middle">3</text><text x="180.7" y="938.2" text-anchor="middle">4</text><text x="24.3" y="929.8" text-anchor="end">24</text><text x="24.3" y="905.2" text-anchor="end">25</text><text x="24.3" y="880.5" text-anchor="end">26</text><text x="24.3" y="855.9" text-anchor="end">27</text><text x="24.3" y="831.2" text-anchor="end">28</text><text x="24.3" y="806.6" text-anchor="end">29</text><text x="24.3" y="782" text-anchor="end">30</text><text x="24.3" y="757.3" text-anchor="end">31</text></g><text x="104.2" y="949" text-anchor="middle" font-size="10.23" fill="#1a1a1a" stroke="#1a1a1a" stroke-width="0.25">Time(h)</text><text transform="translate(11.5 839.8) rotate(-90)" text-anchor="middle" font-size="10.23" fill="#1a1a1a" stroke="#1a1a1a" stroke-width="0.22">x-axis CMG(dps)</text></g>
<g><path d="M247.5 753.4V926M285.5 753.4V926M323.6 753.4V926M209.4 908.7H361.6M209.4 891.5H361.6M209.4 874.2H361.6M209.4 857H361.6M209.4 839.7H361.6M209.4 822.4H361.6M209.4 805.2H361.6M209.4 787.9H361.6M209.4 770.7H361.6" stroke="#e3e3e3" stroke-width="0.8" fill="none"/><g clip-path="url(#cd2)"><path d="M224.9 906.4L225.4 906.2 225.9 905.6 226.4 904.8 226.9 903.5 227.4 902.4 227.9 900.4 228.4 898.3 228.9 895.4 229.4 896.8 229.9 895.9 230.4 893.9 230.9 894.4 231.4 891.6 231.9 893.1 232.4 892 232.9 889.1 233.4 891.9 233.9 892 234.4 890.7 234.9 889.8 235.4 890.4 235.9 891.3 236.4 890.4 236.9 890.5 237.4 888.2 237.9 889.6 238.4 885.1 238.9 887.8 239.4 887.9 239.9 885.5 240.4 885.8 240.9 884.8 241.4 885.4 241.9 883.4 242.4 883.7 242.9 882.6 243.4 879.6 243.9 879.3 244.4 879.6 244.9 879.3 245.4 876.9 245.9 877.8 246.4 874.8 246.9 874.2 247.4 874.5 247.9 872.2 248.4 872 248.9 869.9 249.4 870.2 249.9 869.6 250.4 864.7 250.9 863.6 251.4 863.5 251.9 865.1 252.4 862 252.9 862.4 253.4 861.8 253.9 859.3 254.4 860.1 254.9 859.3 255.4 858.2 255.9 856.4 256.4 855.1 256.9 855.3 257.4 853 257.9 851.4 258.4 852.3 258.9 850.5 259.4 850.4 259.9 848.8 260.4 846.4 260.9 842.7 261.4 843.7 261.9 844 262.4 842 262.9 841.8 263.4 841.2 263.9 838.1 264.4 836.8 264.9 836.9 265.4 837.1 265.9 835.8 266.4 834.2 266.9 834.2 267.4 832.5 267.9 830.8 268.4 831 268.9 829.1 269.4 829.4 269.9 827.6 270.4 827.3 270.9 824.6 271.4 826.3 271.9 825.4 272.4 823.4 272.9 822.5 273.4 819.6 273.9 819.5 274.4 819.1 274.9 814.9 275.4 817.6 275.9 816.5 276.4 815.4 276.9 815 277.4 813.4 277.9 814.3 278.4 812.7 278.9 813.3 279.4 810.6 279.9 810.9 280.4 806.4 280.9 809.5 281.4 804.9 281.9 803.5 282.4 806 282.9 805.3 283.4 804.2 283.9 803.6 284.4 802.6 284.9 801.7 285.4 801.5 285.9 798.7 286.4 799.8 286.9 799.4 287.4 798.8 287.9 795.7 288.4 796.8 288.9 797.9 289.4 797.1 289.9 797.2 290.4 796.7 290.9 795.8 291.4 793.4 291.9 793.8 292.4 793.6 292.9 792.8 293.4 791.8 293.9 790.7 294.4 791.6 294.9 791 295.4 790.3 295.9 788.9 296.4 788.9 296.9 785.7 297.4 786.1 297.9 787.4 298.4 783.2 298.9 786.6 299.4 785.6 299.9 783.7 300.4 784.5 300.9 784.9 301.4 784.5 301.9 784.1 302.4 783.1 302.9 781.6 303.4 778.9 303.9 781.1 304.4 781.2 304.9 777.8 305.4 780.5 305.9 778.7 306.4 780.2 306.9 780 307.4 778.8 307.9 779.1 308.4 777 308.9 777.6 309.4 778.9 309.9 777 310.4 774.6 310.9 777.6 311.4 774.9 311.9 777.8 312.4 774.8 312.9 777.2 313.4 777.3 313.9 777.2 314.4 774.4 314.9 776.9 315.4 775.4 315.9 774.5 316.4 776.4 316.9 775.9 317.4 773.8 317.9 777.9 318.4 777.9 318.9 777.9 319.4 776.5 319.9 776.6 320.4 776 320.9 776.8 321.4 775.6 321.9 773.7 322.4 774.5 322.9 774.4 323.4 775.7 323.9 775.4 324.4 775.4 324.9 775.5 325.4 774.1 325.9 775 326.4 776 326.9 775 327.4 773.8 327.9 775.8 328.4 774.8 328.9 775.2 329.4 772.9 329.9 773.4 330.4 774.1 330.9 773.6 331.4 772.2 331.9 774 332.4 771 332.9 770.3 333.4 773 333.9 774 334.4 773.8 334.9 772.3 335.4 773.2 335.9 774.4 336.4 774.4 336.9 774.8 337.4 775.1 337.9 774.8 338.4 774.5 338.9 774.6 339.4 773.1 339.9 772.4 340.4 772.4 340.9 775.3 341.4 771.8 341.9 774.6 342.4 775.8 342.9 775.3 343.4 774.7 343.9 774.1 344.4 772.2 344.9 773.7 345.4 774.9 345.9 772.2 346.4 774.9 346.9 774.7 347.4 774.1 347.9 775.1 348.4 772.9 348.9 775 349.4 774.7 349.9 774.6 350.4 775 350.9 775.5 351.4 775.4 351.9 775.5 352.4 774.2 352.9 775.8 353.4 776.1 353.9 776 353.9 783.7 353.4 783.6 352.9 784.9 352.4 784.2 351.9 785.7 351.4 783.6 350.9 786 350.4 783.7 349.9 783.7 349.4 784.6 348.9 784 348.4 785.1 347.9 785.1 347.4 785.9 346.9 787.7 346.4 783.9 345.9 786.4 345.4 787.9 344.9 784.6 344.4 783.5 343.9 783.3 343.4 783.5 342.9 787 342.4 783.3 341.9 783.9 341.4 786.5 340.9 783.3 340.4 785.2 339.9 787.3 339.4 784.1 338.9 783.7 338.4 784.5 337.9 784.3 337.4 786.9 336.9 787.7 336.4 784.8 335.9 784.5 335.4 786.8 334.9 785.6 334.4 785 333.9 785.7 333.4 787 332.9 786.2 332.4 785.6 331.9 785.9 331.4 784.9 330.9 784.9 330.4 784.7 329.9 786.1 329.4 784.2 328.9 784.7 328.4 786 327.9 783.3 327.4 783.6 326.9 786 326.4 784.7 325.9 784.3 325.4 783.9 324.9 783.8 324.4 786.6 323.9 787.9 323.4 786.5 322.9 788 322.4 785.6 321.9 786.7 321.4 784.4 320.9 784.4 320.4 784.5 319.9 785.4 319.4 786 318.9 785.5 318.4 786 317.9 784.8 317.4 785.9 316.9 785.4 316.4 785.9 315.9 786.7 315.4 789 314.9 789.2 314.4 786.6 313.9 787 313.4 787 312.9 786.9 312.4 787.9 311.9 790.6 311.4 788 310.9 787.6 310.4 788.2 309.9 788.4 309.4 789.5 308.9 790.4 308.4 789.4 307.9 789.8 307.4 789.8 306.9 789.6 306.4 789.8 305.9 790.5 305.4 792.5 304.9 791.7 304.4 794.3 303.9 790.6 303.4 792.5 302.9 794.3 302.4 791.8 301.9 792.3 301.4 793 300.9 793.2 300.4 793.7 299.9 793.9 299.4 796.9 298.9 795.3 298.4 796 297.9 797.2 297.4 799.2 296.9 797.3 296.4 798.9 295.9 799.3 295.4 800.9 294.9 801.5 294.4 800.9 293.9 804 293.4 802.8 292.9 806.9 292.4 804.1 291.9 807.4 291.4 805.3 290.9 805.7 290.4 805.5 289.9 809.8 289.4 806.4 288.9 808.2 288.4 809.1 287.9 812.9 287.4 809.6 286.9 810.7 286.4 811.8 285.9 812.9 285.4 813.3 284.9 814.1 284.4 815.7 283.9 815.4 283.4 817.6 282.9 816.8 282.4 817.3 281.9 818.5 281.4 818.5 280.9 818.7 280.4 819.2 279.9 822 279.4 820.7 278.9 822.3 278.4 822.3 277.9 827.2 277.4 825.5 276.9 826.5 276.4 828.6 275.9 827.7 275.4 828.9 274.9 829.8 274.4 832.2 273.9 831.7 273.4 832.9 272.9 834.3 272.4 833.6 271.9 837.2 271.4 838.4 270.9 838.1 270.4 837.5 269.9 841.2 269.4 840.5 268.9 842.5 268.4 842.7 267.9 843.1 267.4 844 266.9 844.3 266.4 849.3 265.9 848.3 265.4 848.2 264.9 849.1 264.4 850.5 263.9 851.9 263.4 852.3 262.9 853.6 262.4 857.9 261.9 856 261.4 856.3 260.9 859.3 260.4 859.2 259.9 862.3 259.4 860.7 258.9 860.7 258.4 864.3 257.9 865.5 257.4 864.4 256.9 865.1 256.4 866.9 255.9 867.5 255.4 870.9 254.9 870.3 254.4 872.2 253.9 872.1 253.4 873 252.9 874.8 252.4 875.3 251.9 877.2 251.4 877 250.9 879.5 250.4 878.6 249.9 881 249.4 882.7 248.9 883.8 248.4 884 247.9 883.4 247.4 884.5 246.9 886.2 246.4 886.8 245.9 888 245.4 890 244.9 891 244.4 891 243.9 896.1 243.4 894.3 242.9 894.5 242.4 894.5 241.9 895.9 241.4 899.6 240.9 897 240.4 898 239.9 898.5 239.4 899.3 238.9 897.9 238.4 898.4 237.9 898.6 237.4 899.5 236.9 901.5 236.4 900 235.9 900 235.4 900.5 234.9 901.9 234.4 900.8 233.9 901.9 233.4 901.8 232.9 906.1 232.4 903 231.9 905.4 231.4 906.1 230.9 907.9 230.4 907 229.9 904.5 229.4 906.4 228.9 906.4 228.4 906.6 227.9 907.7 227.4 908.6 226.9 908.1 226.4 908.7 225.9 909.5 225.4 910 224.9 910.9Z" fill="#000"/><path d="M209.4 903.3L209.9 903.7 210.4 902 210.9 903.6 211.4 902.5 211.9 904.3 212.4 903.8 212.9 902.7 213.4 903.8 213.9 903 214.4 904.2 214.9 904.2 215.4 903.9 215.9 904 216.4 904.5 216.9 904.5 217.4 903.9 217.9 905 218.4 902.3 218.9 904.6 219.4 905.6 219.9 904.9 220.4 906.2 220.9 905.8 221.4 905.9 221.9 907 222.4 906.7 222.9 904.8 223.4 905.9 223.9 904.5 224.4 905.9 224.9 905.3 225.4 904.4 225.9 903.8 226.4 904.5 226.9 903 227.4 904.1 227.9 902.6 228.4 903.9 228.9 904.6 229.4 904.3 229.9 903.7 230.4 904 230.9 904.1 231.4 903.4 231.9 902.3 232.4 903.6 232.9 903.4 233.4 903.1 233.9 903.3 234.4 903 234.9 902.9 235.4 901.2 235.9 900.7 236.4 901.9 236.9 902.7 237.4 902.6 237.9 900.9 238.4 902.5 238.9 902.5 239.4 902.9 239.9 903.5 240.4 901.5 240.9 902.6 241.4 903 241.9 904.8 242.4 902.8 242.9 903 243.4 904.6 243.9 904 244.4 904.4 244.9 904.2 245.4 903.9 245.9 904.4 246.4 904.7 246.9 903.8 247.4 904 247.9 903.8 248.4 901.8 248.9 903.6 249.4 903.7 249.9 902.6 250.4 903.4 250.9 903.5 251.4 904.3 251.9 900.7 252.4 903.9 252.9 904.6 253.4 904.6 253.9 905.2 254.4 904.7 254.9 904.2 255.4 904.2 255.9 902.6 256.4 904.9 256.9 904.7 257.4 904.9 257.9 904.3 258.4 905.1 258.9 904.7 259.4 903.3 259.9 902.4 260.4 903.7 260.9 902.6 261.4 903 261.9 903.3 262.4 903.5 262.9 903.3 263.4 903.8 263.9 904.1 264.4 902.5 264.9 903.4 265.4 904.4 265.9 905 266.4 903.9 266.9 905.1 267.4 906 267.9 904.7 268.4 903.7 268.9 905.1 269.4 904.5 269.9 904.6 270.4 904.4 270.9 903.7 271.4 904.3 271.9 903.7 272.4 903.7 272.9 901.7 273.4 901.3 273.9 904.6 274.4 904.8 274.9 904.7 275.4 904.8 275.9 904.6 276.4 902.8 276.9 905 277.4 904.9 277.9 904.6 278.4 904.7 278.9 904.7 279.4 903.5 279.9 904.7 280.4 904.5 280.9 905.3 281.4 905.7 281.9 903.3 282.4 905.8 282.9 905.6 283.4 904.5 283.9 905.8 284.4 905.8 284.9 906.1 285.4 906 285.9 905.4 286.4 906 286.9 906.4 287.4 906.4 287.9 905.9 288.4 904.6 288.9 906.2 289.4 906.4 289.9 906.2 290.4 906.1 290.9 905.5 291.4 906.3 291.9 906 292.4 906.4 292.9 906.3 293.4 906.5 293.9 904 294.4 905.6 294.9 904 295.4 903.2 295.9 904.1 296.4 903.4 296.9 903.7 297.4 903.9 297.9 902.5 298.4 903.1 298.9 904.8 299.4 903.8 299.9 904.9 300.4 905.6 300.9 904.4 301.4 904.7 301.9 904.2 302.4 904.4 302.9 904.9 303.4 904.4 303.9 902.2 304.4 904.1 304.9 904.5 305.4 904.5 305.9 903.8 306.4 904.7 306.9 902.6 307.4 905.1 307.9 905 308.4 905.1 308.9 904 309.4 905 309.9 900.4 310.4 904.6 310.9 903.1 311.4 904.2 311.9 904.7 312.4 905.2 312.9 905.1 313.4 903.6 313.9 905.6 314.4 905.9 314.9 904.9 315.4 904 315.9 905 316.4 905 316.9 905.2 317.4 905.2 317.9 905 318.4 902.5 318.9 904 319.4 903.1 319.9 903.8 320.4 904.3 320.9 903.6 321.4 903.3 321.9 902.8 322.4 903.4 322.9 902.9 323.4 901.1 323.9 903.3 324.4 902.8 324.9 901.6 325.4 902.2 325.9 904 326.4 903.6 326.9 903 327.4 901.1 327.9 903.6 328.4 901 328.9 902.6 329.4 902.4 329.9 900.6 330.4 902.7 330.9 902.8 331.4 903 331.9 902.7 332.4 903.6 332.9 904 333.4 902.9 333.9 902.6 334.4 904.2 334.9 903.9 335.4 904.3 335.9 905.5 336.4 905.1 336.9 904.6 337.4 903.4 337.9 904.5 338.4 903.5 338.9 904.1 339.4 904.3 339.9 904.9 340.4 904.8 340.9 905 341.4 904.5 341.9 905.2 342.4 903.4 342.9 905.4 343.4 901.7 343.9 905.2 344.4 905.3 344.9 905.2 345.4 904.8 345.9 904 346.4 904.3 346.9 904.9 347.4 904.8 347.9 904.7 348.4 904 348.9 903.5 349.4 903.2 349.9 902.3 350.4 902.1 350.9 901 351.4 903.5 351.9 902.7 352.4 903.8 352.9 902 353.4 905.1 353.9 903.7 353.9 915.4 353.4 912.3 352.9 911.5 352.4 914.1 351.9 912.1 351.4 914.6 350.9 912 350.4 912.1 349.9 912.1 349.4 914.1 348.9 912.5 348.4 916.1 347.9 912.4 347.4 914.8 346.9 913.1 346.4 913.8 345.9 914.3 345.4 917.1 344.9 914.6 344.4 914.4 343.9 914.7 343.4 914.5 342.9 913.6 342.4 914.2 341.9 913.1 341.4 915.7 340.9 913.5 340.4 916.4 339.9 913.7 339.4 918.3 338.9 914.3 338.4 913.7 337.9 914.7 337.4 914.7 336.9 913.6 336.4 913.3 335.9 914.7 335.4 914.5 334.9 914.4 334.4 913.6 333.9 914.8 333.4 913.6 332.9 913.1 332.4 912.8 331.9 912.3 331.4 912.4 330.9 912 330.4 912.7 329.9 911.8 329.4 912.8 328.9 911.8 328.4 911.3 327.9 911.7 327.4 911.3 326.9 914 326.4 912.3 325.9 912.8 325.4 912.6 324.9 913.9 324.4 913.7 323.9 913.6 323.4 915.1 322.9 914.2 322.4 914.2 321.9 913.8 321.4 914.5 320.9 913.1 320.4 913.1 319.9 913.6 319.4 913.5 318.9 913.6 318.4 913.4 317.9 913.6 317.4 912.8 316.9 913 316.4 912.5 315.9 914.8 315.4 914.1 314.9 913.7 314.4 913.1 313.9 914.2 313.4 913.3 312.9 914.3 312.4 913.8 311.9 912.9 311.4 912.9 310.9 913.2 310.4 912.5 309.9 916.8 309.4 912.9 308.9 915.1 308.4 913.2 307.9 914.6 307.4 912.5 306.9 912.7 306.4 912.7 305.9 913.7 305.4 913 304.9 912.8 304.4 912.8 303.9 913.6 303.4 913.5 302.9 911.9 302.4 911.6 301.9 912.7 301.4 913.3 300.9 911.5 300.4 911.6 299.9 913.3 299.4 913.8 298.9 913.3 298.4 912.9 297.9 913.5 297.4 913.6 296.9 913.8 296.4 914.1 295.9 915.2 295.4 916.5 294.9 915 294.4 914 293.9 913.7 293.4 914 292.9 914.4 292.4 914.3 291.9 914.5 291.4 914.9 290.9 916.8 290.4 917.4 289.9 915.3 289.4 915.7 288.9 915.5 288.4 915.4 287.9 916.8 287.4 915.3 286.9 914.4 286.4 915.6 285.9 914.7 285.4 915.2 284.9 913.8 284.4 914.2 283.9 914.2 283.4 916 282.9 913.8 282.4 913.5 281.9 915.2 281.4 913.2 280.9 914.8 280.4 914.4 279.9 914.5 279.4 913.1 278.9 913.1 278.4 912.6 277.9 912.6 277.4 912.5 276.9 911.6 276.4 912.1 275.9 914.4 275.4 912 274.9 912.3 274.4 912.2 273.9 913.7 273.4 912.8 272.9 912.1 272.4 912.9 271.9 914.2 271.4 913.7 270.9 912.5 270.4 913 269.9 912.9 269.4 913.1 268.9 913.4 268.4 914.9 267.9 912.7 267.4 912.5 266.9 912.9 266.4 913.9 265.9 913.2 265.4 913.3 264.9 912.9 264.4 914.7 263.9 912.7 263.4 914.9 262.9 915.6 262.4 911.9 261.9 915.3 261.4 913.1 260.9 913.1 260.4 911.6 259.9 911.7 259.4 911.4 258.9 911.9 258.4 911.5 257.9 914.2 257.4 912 256.9 912.5 256.4 912.4 255.9 912.8 255.4 914.5 254.9 913 254.4 915.2 253.9 913.3 253.4 913.5 252.9 913 252.4 914.1 251.9 913.5 251.4 913.1 250.9 912.4 250.4 914.7 249.9 913.2 249.4 913.5 248.9 912.1 248.4 911.5 247.9 911.7 247.4 911.6 246.9 912.9 246.4 912.2 245.9 912.7 245.4 913.4 244.9 912.6 244.4 915.1 243.9 912.4 243.4 913.2 242.9 913.3 242.4 911.9 241.9 911 241.4 911.2 240.9 910.7 240.4 911 239.9 911.4 239.4 911.7 238.9 911.4 238.4 912.1 237.9 912.4 237.4 913.6 236.9 913.7 236.4 912.9 235.9 913.7 235.4 913.8 234.9 913.7 234.4 912.7 233.9 912.5 233.4 912.1 232.9 912.3 232.4 912.9 231.9 912.5 231.4 912.4 230.9 913.4 230.4 913.4 229.9 914.5 229.4 912.5 228.9 913.3 228.4 913.2 227.9 913.9 227.4 914.6 226.9 913.9 226.4 914.5 225.9 914.3 225.4 914.5 224.9 915.6 224.4 914.7 223.9 914.3 223.4 914.8 222.9 914.8 222.4 913.9 221.9 915.1 221.4 913.7 220.9 913.9 220.4 914 219.9 913.4 219.4 913.8 218.9 913.6 218.4 915.4 217.9 913.6 217.4 913.9 216.9 913.1 216.4 912.6 215.9 913.9 215.4 914.3 214.9 913 214.4 911.4 213.9 911.6 213.4 910.6 212.9 911.4 212.4 911 211.9 910.2 211.4 910.8 210.9 910.9 210.4 912.7 209.9 911.2 209.4 912.4Z" fill="#00ff00"/><path d="M209.4 905.5L209.9 905.6 210.4 905.6 210.9 904.5 211.4 905.3 211.9 904.8 212.4 902 212.9 903 213.4 904.8 213.9 904.6 214.4 904.7 214.9 904.9 215.4 902.8 215.9 902.7 216.4 903.8 216.9 904.1 217.4 904 217.9 901.2 218.4 902.1 218.9 902.7 219.4 899.2 219.9 902.3 220.4 901.7 220.9 902.8 221.4 900.9 221.9 902 222.4 902.9 222.9 903.9 223.4 899.9 223.9 904 224.4 903.6 224.9 904.2 225.4 904.1 225.9 904.4 226.4 904.3 226.9 905.9 227.4 906.3 227.9 905.8 228.4 906.4 228.9 904.7 229.4 904.5 229.9 905.4 230.4 904.4 230.9 904.6 231.4 904.1 231.9 904.7 232.4 904.5 232.9 904.2 233.4 903.7 233.9 902.3 234.4 903.4 234.9 904.1 235.4 902.8 235.9 901.5 236.4 904.1 236.9 902.6 237.4 903.9 237.9 902.1 238.4 900.5 238.9 902.2 239.4 902.8 239.9 900.8 240.4 902.5 240.9 902.7 241.4 902.4 241.9 902.7 242.4 903.2 242.9 902.7 243.4 902.6 243.9 903.1 244.4 903.6 244.9 903.7 245.4 903.3 245.9 903.6 246.4 901.8 246.9 904.3 247.4 904.4 247.9 899.5 248.4 903.3 248.9 903.9 249.4 904.4 249.9 902.2 250.4 903 250.9 904 251.4 902.8 251.9 901.9 252.4 899.5 252.9 904.4 253.4 904.1 253.9 903.8 254.4 902.6 254.9 904.6 255.4 904.9 255.9 905 256.4 905 256.9 904.6 257.4 904.9 257.9 904.1 258.4 904.7 258.9 904.3 259.4 902.6 259.9 905.1 260.4 905.1 260.9 899.5 261.4 904 261.9 903.7 262.4 904.5 262.9 903.2 263.4 904.3 263.9 904.1 264.4 905.1 264.9 905 265.4 905 265.9 904.8 266.4 904.1 266.9 904.4 267.4 902.5 267.9 904.2 268.4 905.2 268.9 905.6 269.4 901.8 269.9 903.5 270.4 905.4 270.9 905.2 271.4 904 271.9 903.5 272.4 902.8 272.9 904.1 273.4 903.7 273.9 902.3 274.4 904.6 274.9 904.8 275.4 902.2 275.9 903.9 276.4 904.9 276.9 905 277.4 904.4 277.9 903.6 278.4 901.6 278.9 903.3 279.4 904.3 279.9 903 280.4 904.1 280.9 904.2 281.4 905 281.9 905.2 282.4 905.3 282.9 904 283.4 903.2 283.9 904.7 284.4 903.5 284.9 903.8 285.4 903.3 285.9 903.8 286.4 903.4 286.9 904.3 287.4 903.3 287.9 902.2 288.4 898 288.9 902.5 289.4 902.9 289.9 902.7 290.4 902.8 290.9 900.4 291.4 902.6 291.9 901.7 292.4 902.2 292.9 901.9 293.4 902 293.9 902.5 294.4 902.6 294.9 901.3 295.4 903.6 295.9 904.1 296.4 904.9 296.9 904.9 297.4 905.2 297.9 905 298.4 905.4 298.9 904.9 299.4 904 299.9 905.3 300.4 905 300.9 903.9 301.4 904.7 301.9 904.7 302.4 905.8 302.9 904.9 303.4 905 303.9 904.9 304.4 904.1 304.9 904.7 305.4 905 305.9 902 306.4 904 306.9 902.9 307.4 903.7 307.9 902.7 308.4 903.4 308.9 903.4 309.4 903.5 309.9 903.5 310.4 903.9 310.9 903.8 311.4 904.6 311.9 904.8 312.4 904.6 312.9 903.6 313.4 904.6 313.9 905.2 314.4 903.9 314.9 906 315.4 904.3 315.9 905.7 316.4 905.6 316.9 905.3 317.4 904.8 317.9 903.9 318.4 903.2 318.9 904.3 319.4 904.4 319.9 904.1 320.4 904.5 320.9 904.8 321.4 902.6 321.9 904.1 322.4 904.2 322.9 903.7 323.4 903.5 323.9 903.1 324.4 903.7 324.9 903.4 325.4 903.1 325.9 900.4 326.4 903 326.9 903.8 327.4 903.7 327.9 900.6 328.4 905.7 328.9 901.8 329.4 906 329.9 904.5 330.4 906.1 330.9 906.9 331.4 906.8 331.9 906.7 332.4 906.9 332.9 905.5 333.4 905 333.9 903 334.4 905.6 334.9 905.1 335.4 904.8 335.9 904.2 336.4 903 336.9 904.3 337.4 904.2 337.9 904.2 338.4 902.8 338.9 903.9 339.4 905.3 339.9 905.1 340.4 904.9 340.9 904.4 341.4 904.3 341.9 904.7 342.4 904.5 342.9 904.8 343.4 902.4 343.9 904.1 344.4 903.6 344.9 903.4 345.4 903 345.9 903.2 346.4 903.4 346.9 903 347.4 904 347.9 901.2 348.4 904.1 348.9 903.4 349.4 903.7 349.9 901.4 350.4 903.6 350.9 903.1 351.4 903.2 351.9 903 352.4 902.4 352.9 901.2 353.4 901.7 353.9 902 353.9 912 353.4 913.8 352.9 913.8 352.4 913.8 351.9 912.9 351.4 913.5 350.9 912.8 350.4 913.5 349.9 913.6 349.4 912.8 348.9 913.2 348.4 915.3 347.9 913.2 347.4 913.4 346.9 913.4 346.4 913.1 345.9 912.9 345.4 914.4 344.9 913.3 344.4 916.6 343.9 914.5 343.4 913.7 342.9 913.7 342.4 913.5 341.9 913.8 341.4 914 340.9 913.8 340.4 915.5 339.9 914.1 339.4 913.5 338.9 913.5 338.4 913.7 337.9 916.9 337.4 914.2 336.9 913.5 336.4 913.7 335.9 913.8 335.4 916.2 334.9 914 334.4 913.7 333.9 912.8 333.4 912.8 332.9 913.1 332.4 912.6 331.9 913.6 331.4 912.8 330.9 913.8 330.4 913 329.9 913.6 329.4 913.7 328.9 913.3 328.4 913.1 327.9 913.3 327.4 913.6 326.9 914.1 326.4 913.9 325.9 914.4 325.4 915.2 324.9 913.6 324.4 914.1 323.9 914.1 323.4 913.1 322.9 913.7 322.4 914.3 321.9 913.7 321.4 913.6 320.9 913.4 320.4 913.4 319.9 913.4 319.4 914.6 318.9 914.4 318.4 913.6 317.9 915.5 317.4 913.6 316.9 914 316.4 913.5 315.9 914.9 315.4 913.4 314.9 913.2 314.4 913.1 313.9 913 313.4 915.2 312.9 914 312.4 915.4 311.9 912.3 311.4 913.8 310.9 913.1 310.4 912.4 309.9 911.8 309.4 913.3 308.9 911.7 308.4 912.1 307.9 911.8 307.4 912.1 306.9 913.9 306.4 914 305.9 912.9 305.4 914.1 304.9 915.2 304.4 914 303.9 914.2 303.4 914.3 302.9 914.1 302.4 913.5 301.9 913.8 301.4 913.7 300.9 913.1 300.4 913 299.9 913.6 299.4 912.9 298.9 912 298.4 912.2 297.9 912.2 297.4 911.5 296.9 912.4 296.4 912.4 295.9 911.4 295.4 911.4 294.9 912.1 294.4 912.8 293.9 911.3 293.4 911.1 292.9 912.2 292.4 911 291.9 910.8 291.4 912.9 290.9 911.7 290.4 912.9 289.9 912.1 289.4 911.7 288.9 912.6 288.4 912.6 287.9 912.3 287.4 912.4 286.9 913.9 286.4 911.9 285.9 912.2 285.4 912.2 284.9 912.6 284.4 913.1 283.9 913.9 283.4 913.3 282.9 913.4 282.4 914.1 281.9 913.8 281.4 913.6 280.9 913.6 280.4 914.6 279.9 913.5 279.4 913.5 278.9 915.3 278.4 913 277.9 914.7 277.4 912.5 276.9 912.3 276.4 912.6 275.9 911.9 275.4 912.1 274.9 912.8 274.4 913 273.9 913 273.4 912.8 272.9 914.2 272.4 913.5 271.9 914 271.4 914.7 270.9 914.1 270.4 914.4 269.9 914.4 269.4 914.4 268.9 914.3 268.4 914.2 267.9 914.5 267.4 913.8 266.9 913.5 266.4 913.5 265.9 913.8 265.4 912.8 264.9 913.5 264.4 916.8 263.9 912.5 263.4 913.6 262.9 913 262.4 913.2 261.9 913.8 261.4 913.4 260.9 914.2 260.4 913.4 259.9 915.2 259.4 913.8 258.9 914.2 258.4 914.2 257.9 914.4 257.4 915.5 256.9 913.3 256.4 914.6 255.9 913.2 255.4 913.7 254.9 914.6 254.4 913.6 253.9 913 253.4 913.3 252.9 912.7 252.4 913.8 251.9 913.6 251.4 912.7 250.9 913 250.4 915.3 249.9 912.3 249.4 912.2 248.9 911 248.4 911.9 247.9 911.3 247.4 910.7 246.9 912.4 246.4 914 245.9 912 245.4 914.3 244.9 912.1 244.4 912.7 243.9 912.4 243.4 912.9 242.9 912.7 242.4 914.9 241.9 912.5 241.4 913.4 240.9 912.4 240.4 912.4 239.9 915.3 239.4 912.5 238.9 912.9 238.4 911.6 237.9 911.3 237.4 912 236.9 911.4 236.4 910.9 235.9 911.9 235.4 912 234.9 912.4 234.4 912.3 233.9 914.1 233.4 913.4 232.9 912.9 232.4 913.9 231.9 912.9 231.4 912.6 230.9 913.5 230.4 915.1 229.9 913 229.4 912.9 228.9 913.3 228.4 912.8 227.9 915.3 227.4 915 226.9 913.3 226.4 913.5 225.9 913.9 225.4 913.4 224.9 913.9 224.4 913.9 223.9 912.5 223.4 912.9 222.9 912.5 222.4 911.9 221.9 911.5 221.4 911.5 220.9 914.7 220.4 912.7 219.9 911.7 219.4 911.9 218.9 912 218.4 914.3 217.9 911 217.4 913 216.9 911.2 216.4 911.6 215.9 911.4 215.4 912.3 214.9 913.2 214.4 912.6 213.9 913 213.4 913.5 212.9 913.8 212.4 914.6 211.9 913.7 211.4 914.3 210.9 913.7 210.4 913 209.9 912.1 209.4 912.3Z" fill="#0000ff"/><path d="M209.4 903.2L209.9 899 210.4 902.7 210.9 902.1 211.4 902.1 211.9 902.9 212.4 902.5 212.9 902.6 213.4 903.2 213.9 904.2 214.4 904.3 214.9 903.6 215.4 903.4 215.9 903.9 216.4 903.7 216.9 899.7 217.4 901.7 217.9 903.8 218.4 901.2 218.9 903.3 219.4 902.7 219.9 904.1 220.4 904 220.9 900.1 221.4 904.4 221.9 903.1 222.4 904.1 222.9 904 223.4 904 223.9 903 224.4 901.5 224.9 902.8 225.4 904 225.9 903.8 226.4 902.4 226.9 896.6 227.4 902.1 227.9 903.1 228.4 902.7 228.9 903.7 229.4 902.5 229.9 903.9 230.4 901.6 230.9 903.7 231.4 903.7 231.9 903.2 232.4 903 232.9 902.9 233.4 896.1 233.9 902.2 234.4 903.1 234.9 901.2 235.4 903.4 235.9 901.9 236.4 898.9 236.9 900.1 237.4 902.4 237.9 903.2 238.4 904 238.9 899.8 239.4 901.5 239.9 904.2 240.4 903 240.9 899.6 241.4 904.4 241.9 903.7 242.4 903.6 242.9 902.8 243.4 901.8 243.9 904 244.4 904.9 244.9 900.8 245.4 905.2 245.9 903.6 246.4 904.9 246.9 903.7 247.4 900.7 247.9 903.8 248.4 904 248.9 902.1 249.4 903.2 249.9 903 250.4 903.8 250.9 904.3 251.4 904.2 251.9 895.6 252.4 904.7 252.9 902.8 253.4 904.1 253.9 903.2 254.4 903.8 254.9 902.3 255.4 901.3 255.9 904.3 256.4 902.5 256.9 904.6 257.4 904.6 257.9 903 258.4 904.2 258.9 901.7 259.4 903.8 259.9 902.8 260.4 902.3 260.9 901.3 261.4 902.2 261.9 902 262.4 903.5 262.9 900.2 263.4 902.7 263.9 901.3 264.4 902.3 264.9 903.1 265.4 903 265.9 901.6 266.4 901.8 266.9 903.3 267.4 903.5 267.9 900.7 268.4 904.2 268.9 901.8 269.4 904.5 269.9 901.3 270.4 903.4 270.9 904.7 271.4 905.1 271.9 904.3 272.4 903.9 272.9 904.3 273.4 903.6 273.9 903.7 274.4 904.1 274.9 903.8 275.4 900.3 275.9 902 276.4 900.6 276.9 904.6 277.4 904.9 277.9 904.6 278.4 904.6 278.9 904.7 279.4 904.1 279.9 902.8 280.4 902.8 280.9 903.6 281.4 899.6 281.9 903.8 282.4 901.2 282.9 904 283.4 903.4 283.9 903.3 284.4 904 284.9 902.5 285.4 902.3 285.9 903.2 286.4 900.4 286.9 904.4 287.4 904.9 287.9 904.6 288.4 905.2 288.9 904.5 289.4 904.7 289.9 903 290.4 902.9 290.9 903.8 291.4 903 291.9 902.8 292.4 902.9 292.9 902 293.4 900.1 293.9 902.4 294.4 901.6 294.9 903.3 295.4 902.6 295.9 903.3 296.4 903.6 296.9 904.7 297.4 903.9 297.9 900.3 298.4 903.6 298.9 903.9 299.4 901.9 299.9 904.2 300.4 903.9 300.9 902.6 301.4 905 301.9 904.8 302.4 899.7 302.9 904.7 303.4 904.2 303.9 904.2 304.4 903.5 304.9 902.6 305.4 902.1 305.9 903.4 306.4 903.2 306.9 903.6 307.4 904.1 307.9 904.9 308.4 904.2 308.9 903.8 309.4 904.5 309.9 903.1 310.4 904.6 310.9 902.2 311.4 901.6 311.9 903.1 312.4 902.3 312.9 902.6 313.4 902.9 313.9 900.9 314.4 902.5 314.9 903.7 315.4 901.2 315.9 895 316.4 899.9 316.9 899.6 317.4 901.7 317.9 903 318.4 896.5 318.9 902.9 319.4 900.8 319.9 904.2 320.4 901.6 320.9 897.7 321.4 903.6 321.9 902 322.4 903.6 322.9 903.3 323.4 902.5 323.9 899.4 324.4 902.1 324.9 901.6 325.4 903 325.9 903.5 326.4 902.4 326.9 904.7 327.4 902.8 327.9 904.1 328.4 904.2 328.9 901.7 329.4 904 329.9 903.5 330.4 903.2 330.9 902.6 331.4 902 331.9 903.3 332.4 904 332.9 901.3 333.4 904 333.9 904.1 334.4 902.9 334.9 903 335.4 904.3 335.9 901.4 336.4 899.9 336.9 904.1 337.4 903.9 337.9 902.8 338.4 903 338.9 901.8 339.4 903.7 339.9 904.2 340.4 903.9 340.9 900.5 341.4 901.8 341.9 904.4 342.4 902.1 342.9 901.4 343.4 904.7 343.9 904.5 344.4 903.1 344.9 904.6 345.4 903.9 345.9 901.2 346.4 904.5 346.9 904.9 347.4 905.2 347.9 904.1 348.4 904.4 348.9 902.8 349.4 902.7 349.9 902.5 350.4 902.9 350.9 902.8 351.4 903.1 351.9 902.8 352.4 902.9 352.9 903.7 353.4 904.4 353.9 904.7 353.9 912.7 353.4 913.1 352.9 913.5 352.4 915 351.9 914.5 351.4 914.3 350.9 914.9 350.4 914.1 349.9 914.2 349.4 916.1 348.9 916.7 348.4 912.9 347.9 916.2 347.4 912.6 346.9 915.7 346.4 913.1 345.9 913.1 345.4 916.2 344.9 912.5 344.4 916.3 343.9 915.5 343.4 915.8 342.9 919.1 342.4 913.6 341.9 914.8 341.4 914.7 340.9 913.3 340.4 922.4 339.9 913.2 339.4 913.6 338.9 915.6 338.4 915.5 337.9 915.2 337.4 913.8 336.9 914 336.4 915.1 335.9 913.1 335.4 915 334.9 913.4 334.4 913.4 333.9 913.7 333.4 914.1 332.9 913.7 332.4 913.5 331.9 916.9 331.4 916.8 330.9 915.4 330.4 914.7 329.9 915.2 329.4 915.4 328.9 916.7 328.4 913.2 327.9 917.5 327.4 918.5 326.9 913.4 326.4 913.1 325.9 916.4 325.4 913.5 324.9 914.4 324.4 916.9 323.9 914.2 323.4 913.8 322.9 918.6 322.4 918.5 321.9 917 321.4 913.9 320.9 914.6 320.4 914 319.9 914.4 319.4 916.4 318.9 915.8 318.4 914 317.9 915.5 317.4 915.4 316.9 913.8 316.4 913.7 315.9 914.3 315.4 914.3 314.9 914.4 314.4 913.9 313.9 915.6 313.4 915.3 312.9 915.2 312.4 914.3 311.9 914.3 311.4 916.5 310.9 915.3 310.4 913.1 309.9 914.2 309.4 913.8 308.9 915.5 308.4 914.6 307.9 912.8 307.4 913.2 306.9 913.3 306.4 914.8 305.9 917.5 305.4 914.5 304.9 913.9 304.4 913.4 303.9 913 303.4 914.1 302.9 912.8 302.4 912.9 301.9 912.4 301.4 913.5 300.9 913.9 300.4 915.3 299.9 918.1 299.4 913.5 298.9 913.3 298.4 913.1 297.9 918.6 297.4 913.5 296.9 913.8 296.4 914.7 295.9 914.7 295.4 913.9 294.9 916 294.4 915.4 293.9 919.2 293.4 916.2 292.9 919.7 292.4 915.8 291.9 914.1 291.4 915.8 290.9 921.2 290.4 913.9 289.9 912.7 289.4 914.1 288.9 917.6 288.4 913.7 287.9 913.4 287.4 915.1 286.9 913 286.4 914.5 285.9 917.7 285.4 917.2 284.9 913.7 284.4 915.7 283.9 915 283.4 914.4 282.9 915.5 282.4 915.7 281.9 913.9 281.4 916.6 280.9 914.1 280.4 918.5 279.9 917 279.4 915.9 278.9 913 278.4 914.4 277.9 912.7 277.4 915 276.9 913.8 276.4 913.7 275.9 914.5 275.4 914.9 274.9 913.9 274.4 916.4 273.9 913.1 273.4 915.7 272.9 913.8 272.4 913.5 271.9 912.5 271.4 914.1 270.9 913.4 270.4 913.2 269.9 917.7 269.4 913.5 268.9 914.1 268.4 915.1 267.9 914.3 267.4 915.3 266.9 915 266.4 916.4 265.9 915 265.4 914.2 264.9 914.6 264.4 915.9 263.9 914.3 263.4 916.4 262.9 914.1 262.4 914.5 261.9 917.9 261.4 917.1 260.9 915.1 260.4 914.4 259.9 913.6 259.4 913.5 258.9 915.4 258.4 913.9 257.9 914.7 257.4 916.2 256.9 913.4 256.4 915.8 255.9 918.8 255.4 913.5 254.9 917.3 254.4 914.4 253.9 916 253.4 913.5 252.9 916.9 252.4 913.1 251.9 912.9 251.4 913.5 250.9 914 250.4 913.5 249.9 916.8 249.4 915.4 248.9 914.3 248.4 915.1 247.9 917 247.4 914 246.9 915.6 246.4 912.7 245.9 916.6 245.4 913 244.9 914 244.4 913.5 243.9 917.6 243.4 914 242.9 913 242.4 912.7 241.9 913.1 241.4 912.6 240.9 913.2 240.4 913.1 239.9 913.8 239.4 915.7 238.9 914.2 238.4 914.6 237.9 914.6 237.4 916.9 236.9 916.8 236.4 914.7 235.9 914.8 235.4 914.8 234.9 916.2 234.4 914.7 233.9 917.3 233.4 914.3 232.9 914.3 232.4 914.7 231.9 913.8 231.4 914.3 230.9 916.2 230.4 914 229.9 913.5 229.4 915.3 228.9 915.6 228.4 913.4 227.9 914.1 227.4 914.1 226.9 914.3 226.4 915.7 225.9 916.6 225.4 914.3 224.9 914 224.4 916 223.9 914 223.4 914.6 222.9 914.2 222.4 914 221.9 914.3 221.4 913.5 220.9 913.1 220.4 913.2 219.9 914.2 219.4 914.1 218.9 913.5 218.4 917.1 217.9 913.4 217.4 914.2 216.9 917.3 216.4 914.4 215.9 915.1 215.4 914.4 214.9 914.4 214.4 915.3 213.9 915.5 213.4 913.7 212.9 915.3 212.4 914.3 211.9 915.4 211.4 918.8 210.9 916 210.4 915.1 209.9 915 209.4 915.7Z" fill="#ff0000"/></g><rect x="209.4" y="753.4" width="152.2" height="172.6" fill="none" stroke="#999" stroke-width="1.25"/><path d="M209.4 926v-1.5M209.4 753.4v1.5M247.5 926v-1.5M247.5 753.4v1.5M285.5 926v-1.5M285.5 753.4v1.5M323.6 926v-1.5M323.6 753.4v1.5M361.6 926v-1.5M361.6 753.4v1.5M209.4 926h1.5M361.6 926h-1.5M209.4 908.7h1.5M361.6 908.7h-1.5M209.4 891.5h1.5M361.6 891.5h-1.5M209.4 874.2h1.5M361.6 874.2h-1.5M209.4 857h1.5M361.6 857h-1.5M209.4 839.7h1.5M361.6 839.7h-1.5M209.4 822.4h1.5M361.6 822.4h-1.5M209.4 805.2h1.5M361.6 805.2h-1.5M209.4 787.9h1.5M361.6 787.9h-1.5M209.4 770.7h1.5M361.6 770.7h-1.5M209.4 753.4h1.5M361.6 753.4h-1.5" stroke="#555" stroke-width="0.7" fill="none"/><g font-size="9.3" fill="#222" stroke="#222" stroke-width="0.3"><text x="209.4" y="938.2" text-anchor="middle">0</text><text x="247.5" y="938.2" text-anchor="middle">1</text><text x="285.5" y="938.2" text-anchor="middle">2</text><text x="323.6" y="938.2" text-anchor="middle">3</text><text x="361.6" y="938.2" text-anchor="middle">4</text><text x="205.9" y="929.8" text-anchor="end">4</text><text x="205.9" y="912.6" text-anchor="end">5</text><text x="205.9" y="895.3" text-anchor="end">6</text><text x="205.9" y="878" text-anchor="end">7</text><text x="205.9" y="860.8" text-anchor="end">8</text><text x="205.9" y="843.5" text-anchor="end">9</text><text x="205.9" y="826.3" text-anchor="end">10</text><text x="205.9" y="809" text-anchor="end">11</text><text x="205.9" y="791.7" text-anchor="end">12</text><text x="205.9" y="774.5" text-anchor="end">13</text><text x="205.9" y="757.2" text-anchor="end">14</text></g><text x="285.5" y="949" text-anchor="middle" font-size="10.23" fill="#1a1a1a" stroke="#1a1a1a" stroke-width="0.25">Time(h)</text><text transform="translate(194.2 839.7) rotate(-90)" text-anchor="middle" font-size="10.23" fill="#1a1a1a" stroke="#1a1a1a" stroke-width="0.22">y-axis CMG(dps)</text></g>
<g><path d="M430 753.6V926.5M468.1 753.6V926.5M506.3 753.6V926.5M391.9 901.8H544.4M391.9 877.1H544.4M391.9 852.4H544.4M391.9 827.7H544.4M391.9 803H544.4M391.9 778.3H544.4" stroke="#e3e3e3" stroke-width="0.8" fill="none"/><g clip-path="url(#cd3)"><path d="M409.4 850.4L409.9 848.7 410.4 850.4 410.9 850.9 411.4 850.9 411.9 848 412.4 849.7 412.9 849.8 413.4 850.6 413.9 845.7 414.4 848.6 414.9 849.6 415.4 849.5 415.9 849.3 416.4 849.2 416.9 846.6 417.4 850.9 417.9 850.2 418.4 850.1 418.9 852.1 419.4 849.4 419.9 850.1 420.4 854.5 420.9 855.5 421.4 855.7 421.9 856 422.4 857.8 422.9 858.5 423.4 858 423.9 857.9 424.4 856.6 424.9 857.9 425.4 858.4 425.9 859 426.4 858.4 426.9 859.8 427.4 860.3 427.9 858.6 428.4 860.9 428.9 859.6 429.4 859.4 429.9 860.3 430.4 861.3 430.9 861.5 431.4 861.5 431.9 858.9 432.4 861.9 432.9 864.5 433.4 863.5 433.9 864.2 434.4 861.9 434.9 864.8 435.4 863 435.9 863.1 436.4 864.4 436.9 866.1 437.4 865.6 437.9 863.2 438.4 867.7 438.9 868.2 439.4 868.3 439.9 864.6 440.4 867.4 440.9 865 441.4 869.2 441.9 868.9 442.4 869.5 442.9 869.1 443.4 868.4 443.9 870 444.4 867.9 444.9 870.7 445.4 871.2 445.9 871.7 446.4 871.6 446.9 872.6 447.4 869.2 447.9 872 448.4 868.9 448.9 872.2 449.4 870.1 449.9 874 450.4 873.2 450.9 875.9 451.4 874.6 451.9 874.3 452.4 876.8 452.9 877.3 453.4 877 453.9 877.5 454.4 879 454.9 878.9 455.4 874.4 455.9 878.5 456.4 879.7 456.9 878.2 457.4 879.9 457.9 879.1 458.4 875.8 458.9 877.5 459.4 881.1 459.9 881.9 460.4 879.3 460.9 882.2 461.4 882.4 461.9 883.7 462.4 884 462.9 882.9 463.4 882.2 463.9 881.7 464.4 882.1 464.9 884.1 465.4 882.8 465.9 885.4 466.4 885.9 466.9 881.2 467.4 885.4 467.9 884.2 468.4 882.6 468.9 886.7 469.4 888.3 469.9 885 470.4 888.8 470.9 888.8 471.4 886.9 471.9 887.3 472.4 888.9 472.9 887.8 473.4 887.3 473.9 888.5 474.4 889.4 474.9 885 475.4 890.3 475.9 891.2 476.4 892 476.9 890.6 477.4 890.6 477.9 889.9 478.4 892.6 478.9 890 479.4 892.5 479.9 892.3 480.4 892.9 480.9 892.3 481.4 891.4 481.9 891.3 482.4 892 482.9 887.5 483.4 891.9 483.9 892.8 484.4 892.5 484.9 893.1 485.4 891.2 485.9 893.4 486.4 892.6 486.9 893.4 487.4 893.5 487.9 890.3 488.4 891.1 488.9 894.7 489.4 894.2 489.9 894.2 490.4 892.3 490.9 894.1 491.4 891.6 491.9 894 492.4 894 492.9 894.1 493.4 893.2 493.9 892.9 494.4 894.1 494.9 893.6 495.4 891.9 495.9 892.6 496.4 892.6 496.9 891.6 497.4 892.2 497.9 891.3 498.4 892 498.9 893.4 499.4 892.5 499.9 890.5 500.4 891.4 500.9 894 501.4 893.6 501.9 892.7 502.4 893 502.9 892.3 503.4 893.2 503.9 892.8 504.4 892.5 504.9 888.5 505.4 888.5 505.9 892.7 506.4 891.8 506.9 890.2 507.4 894.6 507.9 893 508.4 892.5 508.9 892.9 509.4 893.9 509.9 895.5 510.4 893.2 510.9 892.7 511.4 892.2 511.9 894.4 512.4 893.4 512.9 894.4 513.4 890.1 513.9 893.4 514.4 891.6 514.9 891.5 515.4 891.8 515.9 892.2 516.4 893 516.9 892.8 517.4 889.7 517.9 889 518.4 892.1 518.9 890.7 519.4 892 519.9 893.9 520.4 893.9 520.9 894 521.4 893.9 521.9 892.2 522.4 890.5 522.9 889.2 523.4 893.8 523.9 894.7 524.4 893.8 524.9 894.6 525.4 890.6 525.9 894 526.4 892.5 526.9 894.3 527.4 894.3 527.9 894.2 528.4 893.8 528.9 893.6 529.4 892.7 529.9 893.8 530.4 893.2 530.9 894.3 531.4 893.3 531.9 891.9 532.4 893.9 532.9 894.5 533.4 893 533.9 894 534.4 894.5 534.9 894.8 535.4 893.1 535.9 894.7 536.4 893.1 536.9 892.7 537.4 892.1 537.9 894 538.4 889.3 538.9 891.3 539.4 894.6 539.9 894.1 540.4 893.6 540.9 893.2 541.4 892.2 541.9 893.4 542.4 893.5 542.9 892.3 543.4 892 543.9 893.4 543.9 911.2 543.4 907 542.9 909.2 542.4 908.9 541.9 906.5 541.4 908.7 540.9 907.2 540.4 905.7 539.9 907.1 539.4 909.7 538.9 908.3 538.4 907.1 537.9 906 537.4 908.8 536.9 906.1 536.4 906.5 535.9 907.5 535.4 910.3 534.9 906.4 534.4 907.1 533.9 909.1 533.4 909.9 532.9 906 532.4 905.8 531.9 907.1 531.4 907.5 530.9 910.3 530.4 908.8 529.9 906.8 529.4 908.7 528.9 909.3 528.4 910.6 527.9 905.8 527.4 907.7 526.9 906.2 526.4 908.3 525.9 906.4 525.4 908.1 524.9 907.5 524.4 904.9 523.9 905 523.4 905.6 522.9 905.6 522.4 908.2 521.9 909.1 521.4 906.9 520.9 908.1 520.4 906.6 519.9 906.9 519.4 906.3 518.9 910.2 518.4 909.7 517.9 910.4 517.4 907.9 516.9 907.8 516.4 907.9 515.9 908.1 515.4 907.9 514.9 906 514.4 905.5 513.9 905.6 513.4 906.5 512.9 904.8 512.4 905.6 511.9 905.4 511.4 905.9 510.9 907.3 510.4 904.2 509.9 903.9 509.4 904 508.9 907 508.4 904 507.9 904.3 507.4 906.9 506.9 906.2 506.4 905.9 505.9 907.7 505.4 907.8 504.9 906.4 504.4 906.2 503.9 905.5 503.4 905.3 502.9 907 502.4 906.9 501.9 905 501.4 905.6 500.9 906.3 500.4 909.9 499.9 905.9 499.4 905.3 498.9 905.6 498.4 910.3 497.9 906.1 497.4 906.5 496.9 909.1 496.4 906.4 495.9 905.2 495.4 905.4 494.9 907.2 494.4 904.7 493.9 907.8 493.4 907.8 492.9 904.7 492.4 905.2 491.9 904.8 491.4 906.2 490.9 906.2 490.4 904.9 489.9 904.6 489.4 904.5 488.9 904.1 488.4 907.7 487.9 904.7 487.4 907.3 486.9 905 486.4 908 485.9 906.2 485.4 905.8 484.9 906.4 484.4 907.1 483.9 905.7 483.4 907.2 482.9 910 482.4 908.2 481.9 909.3 481.4 905.9 480.9 904.6 480.4 905 479.9 902.9 479.4 902.4 478.9 905.2 478.4 903 477.9 904.5 477.4 905.1 476.9 902.2 476.4 904.1 475.9 902.4 475.4 902.4 474.9 902.7 474.4 902.4 473.9 902.2 473.4 906.7 472.9 901.8 472.4 901.5 471.9 900 471.4 899.6 470.9 902.5 470.4 899.2 469.9 901.3 469.4 903.3 468.9 898.9 468.4 902.8 467.9 900 467.4 898.6 466.9 897.7 466.4 900.3 465.9 901.8 465.4 901.9 464.9 898.3 464.4 896.4 463.9 896.9 463.4 895.3 462.9 894.7 462.4 893.9 461.9 893.6 461.4 896.2 460.9 897.7 460.4 893.1 459.9 892.7 459.4 892.5 458.9 893.6 458.4 892.4 457.9 892.8 457.4 892 456.9 894 456.4 892 455.9 890.9 455.4 891.4 454.9 889.5 454.4 890.7 453.9 888.6 453.4 889.7 452.9 889.6 452.4 888.6 451.9 888.9 451.4 892.8 450.9 887.8 450.4 889.2 449.9 886.6 449.4 891.1 448.9 886.5 448.4 886.7 447.9 886.9 447.4 885.3 446.9 887.9 446.4 884.7 445.9 884.6 445.4 884.3 444.9 884.7 444.4 883.7 443.9 883.2 443.4 886.2 442.9 882.5 442.4 881.3 441.9 883.5 441.4 881.6 440.9 880.3 440.4 878.9 439.9 878.4 439.4 877.6 438.9 877.3 438.4 878.9 437.9 879.3 437.4 878.7 436.9 879.3 436.4 878.9 435.9 877 435.4 879.6 434.9 878.9 434.4 876.9 433.9 877.3 433.4 875.4 432.9 880 432.4 879.5 431.9 874.8 431.4 875.7 430.9 874.5 430.4 879.3 429.9 874.4 429.4 873.9 428.9 874.4 428.4 874.1 427.9 872.6 427.4 874.7 426.9 874 426.4 871.6 425.9 873.9 425.4 870.7 424.9 870.7 424.4 869.6 423.9 870.8 423.4 868.9 422.9 868.1 422.4 869.9 421.9 868.9 421.4 866.7 420.9 869.9 420.4 866.3 419.9 866.9 419.4 866.7 418.9 868.8 418.4 871.7 417.9 871.4 417.4 866.8 416.9 866.9 416.4 867.7 415.9 866.4 415.4 864.4 414.9 865.2 414.4 867.4 413.9 862 413.4 864.5 412.9 862.8 412.4 857.9 411.9 857 411.4 856.9 410.9 855.9 410.4 855.1 409.9 856.5 409.4 855.2Z" fill="#000"/><path d="M391.9 846.7L392.4 843.8 392.9 846.2 393.4 845.2 393.9 844.5 394.4 845.1 394.9 844.7 395.4 844.8 395.9 843.8 396.4 842.8 396.9 842.6 397.4 844.7 397.9 843.1 398.4 842.9 398.9 843.3 399.4 845 399.9 845.7 400.4 847.3 400.9 847.5 401.4 846.5 401.9 847.6 402.4 847.6 402.9 846.3 403.4 846.1 403.9 846.5 404.4 845.9 404.9 842.7 405.4 843.1 405.9 844.3 406.4 844.3 406.9 841 407.4 843.4 407.9 844.2 408.4 844.1 408.9 844.8 409.4 844 409.9 842.8 410.4 844.6 410.9 842.6 411.4 843.3 411.9 844 412.4 843.7 412.9 843.4 413.4 844.5 413.9 844 414.4 842.5 414.9 843.6 415.4 841.4 415.9 844.2 416.4 841.8 416.9 842.1 417.4 845.4 417.9 844.1 418.4 844 418.9 839.7 419.4 843.3 419.9 842.9 420.4 843.2 420.9 841.1 421.4 843.8 421.9 842.9 422.4 840 422.9 841.4 423.4 843.3 423.9 843.5 424.4 843.4 424.9 843.5 425.4 842 425.9 840.9 426.4 842 426.9 842.6 427.4 837.1 427.9 842.5 428.4 843.2 428.9 843.7 429.4 843.3 429.9 841 430.4 844.1 430.9 845.7 431.4 842.2 431.9 846.7 432.4 847.2 432.9 846.6 433.4 840.9 433.9 847.9 434.4 847.3 434.9 849.1 435.4 848.5 435.9 848 436.4 849.1 436.9 849.2 437.4 848.6 437.9 848.6 438.4 847.7 438.9 845.4 439.4 847.2 439.9 845.4 440.4 847.2 440.9 848.5 441.4 847.2 441.9 848.5 442.4 845.4 442.9 844 443.4 845.2 443.9 846.8 444.4 846.8 444.9 847.2 445.4 846.6 445.9 844 446.4 846.8 446.9 848.1 447.4 848.2 447.9 848.5 448.4 849.3 448.9 848.1 449.4 849.9 449.9 849.4 450.4 848.5 450.9 848 451.4 848.8 451.9 847.8 452.4 847.9 452.9 848.7 453.4 844.1 453.9 847.2 454.4 848 454.9 847.7 455.4 847.3 455.9 846.2 456.4 846.6 456.9 845.5 457.4 847.4 457.9 846.7 458.4 847.4 458.9 849.5 459.4 848.9 459.9 849.1 460.4 849.3 460.9 848.6 461.4 848.5 461.9 845.2 462.4 847.6 462.9 846.9 463.4 846.5 463.9 844.8 464.4 844.5 464.9 846 465.4 846.1 465.9 844.7 466.4 846.1 466.9 843.2 467.4 846.3 467.9 847.1 468.4 845.8 468.9 846.6 469.4 843.3 469.9 845.8 470.4 846.7 470.9 846.6 471.4 844.5 471.9 846.2 472.4 844.6 472.9 844.4 473.4 844.1 473.9 844.7 474.4 844.8 474.9 845.4 475.4 846 475.9 846 476.4 847.2 476.9 847.1 477.4 846.7 477.9 844.5 478.4 841.8 478.9 843.4 479.4 847.2 479.9 846.7 480.4 847.6 480.9 845.2 481.4 846.6 481.9 846.8 482.4 847 482.9 847.6 483.4 848 483.9 848 484.4 848.3 484.9 848.9 485.4 849 485.9 847.8 486.4 848.8 486.9 847.7 487.4 849 487.9 847.2 488.4 847.6 488.9 847.3 489.4 844.1 489.9 842.9 490.4 845.2 490.9 847.5 491.4 847.3 491.9 848.3 492.4 846.9 492.9 847.5 493.4 846.6 493.9 846.9 494.4 846.8 494.9 846 495.4 844.2 495.9 845.4 496.4 845.7 496.9 845.9 497.4 844.1 497.9 846.4 498.4 846.3 498.9 846.4 499.4 847.8 499.9 846.8 500.4 847.7 500.9 846.3 501.4 847.5 501.9 848.3 502.4 847.8 502.9 848.3 503.4 848.6 503.9 846 504.4 845.4 504.9 844.2 505.4 846.8 505.9 846.5 506.4 844.2 506.9 846.9 507.4 847 507.9 847.3 508.4 847.6 508.9 846.6 509.4 843.5 509.9 844.6 510.4 843.9 510.9 846.7 511.4 847.5 511.9 846.4 512.4 847.4 512.9 847.6 513.4 843.3 513.9 846.7 514.4 845.1 514.9 843.9 515.4 842.4 515.9 847.9 516.4 849 516.9 847.9 517.4 848.3 517.9 847.4 518.4 846.8 518.9 844.9 519.4 846.8 519.9 845.9 520.4 845.5 520.9 847.4 521.4 846 521.9 845.7 522.4 845.4 522.9 844.8 523.4 841.4 523.9 843.3 524.4 842 524.9 842.7 525.4 839.6 525.9 842.9 526.4 845.2 526.9 847.2 527.4 846.2 527.9 847.5 528.4 847.4 528.9 847.9 529.4 847.8 529.9 847.4 530.4 847.2 530.9 847.3 531.4 845.7 531.9 845.7 532.4 846.4 532.9 840 533.4 845.7 533.9 844.8 534.4 845.1 534.9 843.9 535.4 838.9 535.9 844.2 536.4 843.4 536.9 845 537.4 843.8 537.9 843.1 538.4 844.7 538.9 844.3 539.4 838 539.9 845.4 540.4 845.1 540.9 844.3 541.4 845.7 541.9 845.5 542.4 845.5 542.9 844.7 543.4 843.7 543.9 845.4 543.9 857.5 543.4 859 542.9 856.3 542.4 859.4 541.9 858 541.4 856.4 540.9 856.8 540.4 862.9 539.9 857.6 539.4 858.2 538.9 860.7 538.4 858.2 537.9 858.1 537.4 858.4 536.9 858.2 536.4 860.3 535.9 857.9 535.4 858.2 534.9 857.6 534.4 858.7 533.9 857.4 533.4 857.3 532.9 857.9 532.4 857.9 531.9 858.4 531.4 857.6 530.9 857.9 530.4 857.3 529.9 857.5 529.4 857.5 528.9 860.1 528.4 857.5 527.9 857.5 527.4 857.2 526.9 857.9 526.4 856.7 525.9 857.2 525.4 859.4 524.9 858.4 524.4 860.3 523.9 858.6 523.4 858.9 522.9 857.4 522.4 857.1 521.9 857.6 521.4 855.9 520.9 858 520.4 858.3 519.9 858.1 519.4 857.9 518.9 860 518.4 860.6 517.9 860.6 517.4 859.8 516.9 859.1 516.4 863.5 515.9 859 515.4 859.3 514.9 858.6 514.4 860.5 513.9 860.7 513.4 860.4 512.9 860.9 512.4 860.9 511.9 859.7 511.4 858.6 510.9 860.7 510.4 858.6 509.9 859.3 509.4 858.4 508.9 857.9 508.4 858 507.9 862.7 507.4 859.4 506.9 859.7 506.4 858.2 505.9 864 505.4 858.5 504.9 863.3 504.4 858 503.9 862.1 503.4 858.3 502.9 861 502.4 861.1 501.9 862.5 501.4 862.5 500.9 859.2 500.4 859.5 499.9 859.5 499.4 859.3 498.9 858 498.4 859 497.9 860.4 497.4 860.1 496.9 857.6 496.4 858.6 495.9 858.4 495.4 859.2 494.9 858.7 494.4 866.3 493.9 862.3 493.4 862.1 492.9 861.5 492.4 859.3 491.9 859.5 491.4 859.8 490.9 862.1 490.4 861.5 489.9 860.9 489.4 862.6 488.9 861.8 488.4 860.8 487.9 862.4 487.4 861.8 486.9 863.1 486.4 862 485.9 860.4 485.4 860.8 484.9 859.7 484.4 861.9 483.9 865.5 483.4 860.7 482.9 857.9 482.4 858.7 481.9 857.1 481.4 856.8 480.9 860.7 480.4 856.9 479.9 857.2 479.4 856.9 478.9 856.8 478.4 858.3 477.9 860.1 477.4 858.4 476.9 858.5 476.4 856.5 475.9 857.3 475.4 856.2 474.9 856.9 474.4 858.3 473.9 857.9 473.4 857.3 472.9 859.4 472.4 857.4 471.9 857.8 471.4 858.6 470.9 858.4 470.4 863.7 469.9 859 469.4 860.6 468.9 859.2 468.4 858.6 467.9 858.3 467.4 858.2 466.9 857.8 466.4 858.5 465.9 857.4 465.4 856.9 464.9 857.5 464.4 858.6 463.9 858.5 463.4 858.4 462.9 858.9 462.4 860.2 461.9 862.3 461.4 860.6 460.9 861.4 460.4 861 459.9 861.6 459.4 859 458.9 859.3 458.4 858.7 457.9 858.5 457.4 859.7 456.9 859 456.4 860.8 455.9 860.3 455.4 858.7 454.9 857.7 454.4 860 453.9 858.4 453.4 858.3 452.9 858.9 452.4 859.6 451.9 860.1 451.4 859.6 450.9 859.8 450.4 861.6 449.9 860.1 449.4 860 448.9 863.1 448.4 859.8 447.9 860.4 447.4 860.3 446.9 860.5 446.4 862 445.9 862.2 445.4 860.6 444.9 864.7 444.4 859.4 443.9 859.5 443.4 860.3 442.9 857.5 442.4 857.4 441.9 859.6 441.4 857.6 440.9 857.6 440.4 857.7 439.9 859 439.4 859.6 438.9 858.9 438.4 859.6 437.9 864.3 437.4 858.9 436.9 860.3 436.4 859.2 435.9 860.5 435.4 859.7 434.9 858.8 434.4 858.6 433.9 858.8 433.4 858.1 432.9 858.5 432.4 857.7 431.9 859 431.4 859.6 430.9 859.1 430.4 857.8 429.9 857 429.4 858.9 428.9 858.8 428.4 857.4 427.9 858.2 427.4 857.6 426.9 857 426.4 858.4 425.9 855.9 425.4 857.9 424.9 856.7 424.4 853.9 423.9 853.9 423.4 855.8 422.9 854.6 422.4 855.4 421.9 855.8 421.4 855.3 420.9 856.6 420.4 858.3 419.9 856.7 419.4 854.8 418.9 855.3 418.4 857.1 417.9 853.8 417.4 854.1 416.9 859.2 416.4 855.9 415.9 859.6 415.4 857.2 414.9 864.2 414.4 857.8 413.9 859.5 413.4 856.7 412.9 856.7 412.4 855.8 411.9 856.8 411.4 855.4 410.9 855.9 410.4 854.5 409.9 854.4 409.4 854 408.9 854.7 408.4 854.7 407.9 855.7 407.4 855.3 406.9 855.2 406.4 856.2 405.9 856.7 405.4 857.7 404.9 860.7 404.4 858.9 403.9 859.3 403.4 859.1 402.9 859.9 402.4 859 401.9 859.5 401.4 859.2 400.9 859.7 400.4 858.2 399.9 860.3 399.4 857.7 398.9 857.2 398.4 858.7 397.9 859.6 397.4 856.3 396.9 857 396.4 856.6 395.9 857.1 395.4 857 394.9 857.6 394.4 858.9 393.9 861.5 393.4 859.3 392.9 860.1 392.4 860.9 391.9 860.4Z" fill="#00ff00"/><path d="M391.9 843.6L392.4 846 392.9 846.2 393.4 847.4 393.9 846.2 394.4 846.6 394.9 846.3 395.4 845.8 395.9 844.4 396.4 846.4 396.9 843.8 397.4 844.3 397.9 846 398.4 844.2 398.9 845.3 399.4 844.9 399.9 844.9 400.4 846.6 400.9 846.6 401.4 844 401.9 846.5 402.4 846.1 402.9 843 403.4 845.8 403.9 845.4 404.4 845.5 404.9 845.7 405.4 846.2 405.9 845.8 406.4 846.5 406.9 843.1 407.4 842.9 407.9 844.8 408.4 843.6 408.9 845.8 409.4 844.8 409.9 843.6 410.4 844.2 410.9 844.3 411.4 845 411.9 844.5 412.4 843.8 412.9 845.5 413.4 844.5 413.9 846.5 414.4 846 414.9 847.3 415.4 842.5 415.9 844.3 416.4 848.4 416.9 845.1 417.4 848.1 417.9 848.9 418.4 846.8 418.9 849.8 419.4 849.2 419.9 849.9 420.4 849.9 420.9 848.9 421.4 848 421.9 849.8 422.4 849.7 422.9 848.5 423.4 847.8 423.9 847.5 424.4 847.4 424.9 847.2 425.4 846.8 425.9 847 426.4 845.3 426.9 845.3 427.4 844.1 427.9 843.5 428.4 843.7 428.9 843.3 429.4 844.5 429.9 844.4 430.4 844.6 430.9 842.9 431.4 844.8 431.9 844.9 432.4 845.3 432.9 846.2 433.4 846.8 433.9 847.4 434.4 847.6 434.9 847.3 435.4 845.8 435.9 847.6 436.4 847.2 436.9 845.8 437.4 846.4 437.9 846.1 438.4 844.8 438.9 843.6 439.4 843.4 439.9 846.1 440.4 843.3 440.9 844.5 441.4 846.4 441.9 845 442.4 847.2 442.9 845.4 443.4 845.1 443.9 845.4 444.4 844.4 444.9 844.9 445.4 842.3 445.9 845.2 446.4 845.1 446.9 843.2 447.4 842.2 447.9 843.5 448.4 842.7 448.9 844.4 449.4 845 449.9 843.7 450.4 845.7 450.9 844.9 451.4 844.4 451.9 842.3 452.4 845.7 452.9 844.9 453.4 845.2 453.9 846.5 454.4 845 454.9 844.9 455.4 847.9 455.9 847.3 456.4 846.8 456.9 846 457.4 846.2 457.9 844.3 458.4 845 458.9 845.8 459.4 846.7 459.9 847.1 460.4 847.6 460.9 847.6 461.4 846.7 461.9 848.8 462.4 847.8 462.9 846.7 463.4 848.6 463.9 847.3 464.4 846.8 464.9 848 465.4 846.3 465.9 847 466.4 847.3 466.9 846.4 467.4 848.1 467.9 849.1 468.4 849.9 468.9 850.1 469.4 846.7 469.9 849.2 470.4 849.6 470.9 845.1 471.4 849.7 471.9 847.6 472.4 847.3 472.9 848.5 473.4 848.5 473.9 847.9 474.4 848.1 474.9 848.5 475.4 845.4 475.9 847.8 476.4 846.3 476.9 846.8 477.4 847.5 477.9 847.3 478.4 847.6 478.9 846.2 479.4 846.4 479.9 846.7 480.4 847.3 480.9 846.8 481.4 845.9 481.9 847.5 482.4 847.6 482.9 847.8 483.4 847.1 483.9 847.5 484.4 845.4 484.9 846.5 485.4 846.2 485.9 846.2 486.4 845.3 486.9 844.7 487.4 844.6 487.9 845.6 488.4 845.7 488.9 845.9 489.4 842.7 489.9 845.2 490.4 843.3 490.9 847.4 491.4 847.4 491.9 847.3 492.4 845.3 492.9 846.9 493.4 847.4 493.9 847.5 494.4 843.7 494.9 847.3 495.4 846.9 495.9 845.9 496.4 843.6 496.9 845.6 497.4 846.1 497.9 845.3 498.4 845.3 498.9 847.1 499.4 847.5 499.9 847.2 500.4 848.4 500.9 847.4 501.4 848.1 501.9 848.3 502.4 847 502.9 847.6 503.4 847.6 503.9 843.5 504.4 843.6 504.9 846.2 505.4 846.2 505.9 846.1 506.4 845.7 506.9 846.5 507.4 848.2 507.9 848.9 508.4 849.1 508.9 849.6 509.4 849.9 509.9 847.1 510.4 849.2 510.9 849.2 511.4 848 511.9 847.6 512.4 847.9 512.9 846.7 513.4 845.8 513.9 846.4 514.4 846.8 514.9 847.8 515.4 848.2 515.9 847.6 516.4 848.3 516.9 846 517.4 843 517.9 847.1 518.4 847 518.9 845.8 519.4 845.5 519.9 844.8 520.4 846.1 520.9 845.1 521.4 844.3 521.9 844.4 522.4 844.9 522.9 845.6 523.4 842.6 523.9 845.6 524.4 845.8 524.9 846.2 525.4 843.9 525.9 844.3 526.4 846.7 526.9 848.4 527.4 846.2 527.9 848.6 528.4 849.3 528.9 849 529.4 845.8 529.9 846.7 530.4 847.2 530.9 845.6 531.4 843.9 531.9 846.3 532.4 846 532.9 844.7 533.4 844.4 533.9 847.3 534.4 847.3 534.9 845.5 535.4 847.8 535.9 848.8 536.4 848 536.9 849.2 537.4 848.9 537.9 846.9 538.4 849.3 538.9 848.6 539.4 846.2 539.9 846.6 540.4 846.4 540.9 845.7 541.4 842.6 541.9 845.9 542.4 845.3 542.9 846.4 543.4 845.6 543.9 845.6 543.9 857.8 543.4 856.8 542.9 857.8 542.4 858.2 541.9 856.6 541.4 858.9 540.9 858.7 540.4 860 539.9 858.2 539.4 859.4 538.9 858.5 538.4 859.8 537.9 859.8 537.4 859.8 536.9 859.4 536.4 863.6 535.9 859 535.4 859.5 534.9 861.1 534.4 857.6 533.9 859.7 533.4 857.7 532.9 857.4 532.4 858.6 531.9 857.3 531.4 856.6 530.9 856.8 530.4 859 529.9 861.6 529.4 859.3 528.9 856.6 528.4 857.1 527.9 857.6 527.4 861.6 526.9 858.9 526.4 859.3 525.9 862.3 525.4 859.6 524.9 860.4 524.4 860.6 523.9 857.6 523.4 857.3 522.9 857.6 522.4 857.4 521.9 857.9 521.4 856.8 520.9 857.1 520.4 858.2 519.9 858.8 519.4 859.3 518.9 859.7 518.4 860.8 517.9 858.4 517.4 858.9 516.9 858.2 516.4 858.3 515.9 859 515.4 859.1 514.9 858.1 514.4 857.8 513.9 858.8 513.4 860.5 512.9 859.4 512.4 861 511.9 860.2 511.4 861 510.9 861.2 510.4 861.6 509.9 863.6 509.4 859.2 508.9 859 508.4 859 507.9 858.7 507.4 857.9 506.9 858.4 506.4 859.4 505.9 858.8 505.4 861.6 504.9 859 504.4 859.6 503.9 860 503.4 861.4 502.9 860.6 502.4 859.7 501.9 860.8 501.4 860.3 500.9 861.7 500.4 860.9 499.9 860.4 499.4 860.4 498.9 861.9 498.4 861.6 497.9 860.4 497.4 859.2 496.9 859.2 496.4 859.2 495.9 864 495.4 859.2 494.9 860.4 494.4 859.8 493.9 859.2 493.4 858.2 492.9 860.8 492.4 858.8 491.9 859.9 491.4 859.3 490.9 861.2 490.4 859.7 489.9 859.5 489.4 860.3 488.9 860.2 488.4 859.8 487.9 858.9 487.4 861.9 486.9 859.2 486.4 859.3 485.9 858.7 485.4 857.9 484.9 858.7 484.4 857.7 483.9 863.2 483.4 860 482.9 859.6 482.4 858.7 481.9 860.1 481.4 858.3 480.9 857.8 480.4 859.2 479.9 857.7 479.4 859.6 478.9 858.5 478.4 859.8 477.9 859.6 477.4 858.2 476.9 858.3 476.4 860 475.9 858.3 475.4 860.2 474.9 858.8 474.4 860.5 473.9 859 473.4 859.3 472.9 859.9 472.4 860.5 471.9 859.5 471.4 860 470.9 861.1 470.4 860.2 469.9 860.4 469.4 862.6 468.9 862.6 468.4 861 467.9 860.1 467.4 860.7 466.9 860.3 466.4 860.9 465.9 862.2 465.4 860.2 464.9 860.5 464.4 860.1 463.9 859.2 463.4 860.7 462.9 859.6 462.4 858.3 461.9 859.7 461.4 861.5 460.9 858.9 460.4 858.9 459.9 859.3 459.4 859 458.9 863.8 458.4 863.5 457.9 861.2 457.4 857.7 456.9 860.2 456.4 857.5 455.9 858.9 455.4 858.8 454.9 859.2 454.4 859.2 453.9 858.4 453.4 860.1 452.9 863.9 452.4 860.2 451.9 858.8 451.4 860.3 450.9 858 450.4 857.7 449.9 856.8 449.4 856.9 448.9 856.6 448.4 856.6 447.9 857 447.4 860.3 446.9 858.5 446.4 860.4 445.9 859.3 445.4 860.4 444.9 858.5 444.4 858 443.9 859.3 443.4 858.7 442.9 857.8 442.4 861.2 441.9 862.9 441.4 859.3 440.9 859.4 440.4 858.6 439.9 858.5 439.4 859.2 438.9 859.8 438.4 858.8 437.9 860.4 437.4 859.6 436.9 859.2 436.4 860.3 435.9 863.3 435.4 858.8 434.9 858.9 434.4 859.6 433.9 861.6 433.4 858.9 432.9 860 432.4 861.9 431.9 858.5 431.4 857.4 430.9 857.3 430.4 856.2 429.9 856.4 429.4 856.5 428.9 859.1 428.4 857.5 427.9 856.4 427.4 857.3 426.9 857.7 426.4 857.8 425.9 858.3 425.4 859.1 424.9 858.8 424.4 861.1 423.9 859.5 423.4 859.1 422.9 861.5 422.4 859.5 421.9 861.5 421.4 861.1 420.9 860.2 420.4 862.4 419.9 859.5 419.4 859.8 418.9 859.9 418.4 860.2 417.9 861.4 417.4 860.4 416.9 862.4 416.4 863.2 415.9 859.8 415.4 860 414.9 860.6 414.4 858.3 413.9 862.2 413.4 856.8 412.9 857.3 412.4 856.9 411.9 856.8 411.4 855.5 410.9 858.1 410.4 854.8 409.9 857.1 409.4 855.6 408.9 856.1 408.4 857.9 407.9 855.8 407.4 856.4 406.9 857.4 406.4 856.3 405.9 857 405.4 860 404.9 856.8 404.4 859.6 403.9 855.6 403.4 855.8 402.9 857.4 402.4 857.1 401.9 858.6 401.4 857.1 400.9 857.8 400.4 859.2 399.9 858.1 399.4 858.2 398.9 858.4 398.4 859.4 397.9 858.5 397.4 859.3 396.9 858.3 396.4 858.6 395.9 858 395.4 856.5 394.9 856.9 394.4 858.4 393.9 855.4 393.4 856.3 392.9 854.8 392.4 855.1 391.9 856.4Z" fill="#0000ff"/><path d="M391.9 841L392.4 845.7 392.9 845.4 393.4 844.1 393.9 846.6 394.4 846.2 394.9 846.6 395.4 845.5 395.9 846.2 396.4 846.5 396.9 846.4 397.4 842.4 397.9 846 398.4 842.7 398.9 842.6 399.4 842.4 399.9 845.8 400.4 844.4 400.9 838.3 401.4 846.2 401.9 846.3 402.4 843.5 402.9 846.1 403.4 845 403.9 844.5 404.4 845 404.9 844.8 405.4 838.7 405.9 837.6 406.4 841.4 406.9 838.5 407.4 844.5 407.9 845.1 408.4 843.4 408.9 843 409.4 846.4 409.9 844.4 410.4 845.7 410.9 844.4 411.4 840 411.9 839.1 412.4 843.6 412.9 845.1 413.4 843.2 413.9 844.1 414.4 844.8 414.9 843.7 415.4 845.2 415.9 844.1 416.4 834.4 416.9 844 417.4 845.8 417.9 833.5 418.4 842.2 418.9 847 419.4 846.9 419.9 844.5 420.4 845.8 420.9 844.4 421.4 846.3 421.9 835.1 422.4 835.1 422.9 846.5 423.4 845.6 423.9 845.5 424.4 846.4 424.9 844.5 425.4 844.6 425.9 842.4 426.4 844 426.9 844.5 427.4 841.8 427.9 843.9 428.4 840.1 428.9 843.6 429.4 842.6 429.9 842.8 430.4 842.4 430.9 845.7 431.4 843.5 431.9 846.1 432.4 845 432.9 846.4 433.4 844.9 433.9 839.5 434.4 843.2 434.9 837.3 435.4 843.9 435.9 843.1 436.4 845.1 436.9 844.9 437.4 842.6 437.9 841.8 438.4 845.6 438.9 846 439.4 846.1 439.9 845.5 440.4 845.7 440.9 844.8 441.4 841.4 441.9 845.3 442.4 844.8 442.9 845.1 443.4 842.5 443.9 838.9 444.4 835.2 444.9 846.2 445.4 845.9 445.9 845.9 446.4 845.6 446.9 842.5 447.4 837.1 447.9 844.4 448.4 845.5 448.9 847.2 449.4 843.9 449.9 847.7 450.4 844.3 450.9 843 451.4 839.5 451.9 840 452.4 840.3 452.9 844.3 453.4 845.9 453.9 845.3 454.4 844.8 454.9 837.3 455.4 842.8 455.9 844.4 456.4 844.4 456.9 844.3 457.4 842.2 457.9 845.6 458.4 844.7 458.9 844.7 459.4 840.8 459.9 844.6 460.4 844 460.9 845.5 461.4 844 461.9 845.4 462.4 843.1 462.9 842.3 463.4 844.6 463.9 845.2 464.4 843.6 464.9 845.4 465.4 845.3 465.9 843.8 466.4 842.9 466.9 845.4 467.4 846.9 467.9 846.3 468.4 841.8 468.9 843.6 469.4 845.7 469.9 845 470.4 842.7 470.9 845 471.4 842.6 471.9 840 472.4 844.7 472.9 840.2 473.4 842.5 473.9 844.6 474.4 844.4 474.9 844 475.4 844.1 475.9 844.3 476.4 842.7 476.9 842 477.4 843.7 477.9 840.2 478.4 842.8 478.9 843.4 479.4 842.5 479.9 844.4 480.4 845.2 480.9 846.2 481.4 846.3 481.9 845.4 482.4 845.1 482.9 844.9 483.4 846 483.9 844 484.4 844 484.9 844.6 485.4 843.9 485.9 846.3 486.4 843.2 486.9 833 487.4 844.7 487.9 842.7 488.4 845.5 488.9 844.5 489.4 843.3 489.9 842.6 490.4 845.7 490.9 840.3 491.4 846.3 491.9 845.2 492.4 843.3 492.9 841.6 493.4 843.5 493.9 845.2 494.4 845.6 494.9 840.7 495.4 844.7 495.9 834.3 496.4 841.8 496.9 844 497.4 841.2 497.9 843.1 498.4 844.8 498.9 844.9 499.4 844.6 499.9 845.5 500.4 845 500.9 844.2 501.4 843.4 501.9 839.1 502.4 844.1 502.9 846.1 503.4 847.2 503.9 847.1 504.4 846.9 504.9 847.6 505.4 840.8 505.9 846.2 506.4 846.5 506.9 845.8 507.4 845.8 507.9 845.6 508.4 844.8 508.9 845.4 509.4 842.3 509.9 843.5 510.4 845.1 510.9 845.4 511.4 844 511.9 840.4 512.4 844.8 512.9 845.9 513.4 845.5 513.9 846.3 514.4 847.2 514.9 846.9 515.4 846.5 515.9 847.7 516.4 844.4 516.9 846.5 517.4 843.5 517.9 846.8 518.4 843.7 518.9 845 519.4 843.5 519.9 840.9 520.4 845.3 520.9 845.3 521.4 839.2 521.9 832.1 522.4 841.5 522.9 844.6 523.4 844.5 523.9 843.1 524.4 843.4 524.9 842.7 525.4 845.3 525.9 841.7 526.4 844.4 526.9 845.6 527.4 841.9 527.9 845.5 528.4 845.8 528.9 844.5 529.4 841.7 529.9 839.4 530.4 845.3 530.9 844.9 531.4 842.2 531.9 844.6 532.4 846 532.9 841.7 533.4 845.4 533.9 845 534.4 845.5 534.9 841.9 535.4 844 535.9 844.4 536.4 843.3 536.9 842.8 537.4 837.1 537.9 844.9 538.4 844.6 538.9 845.8 539.4 843.7 539.9 846 540.4 843.6 540.9 844.7 541.4 845.6 541.9 844.6 542.4 844.8 542.9 845 543.4 843.7 543.9 843.9 543.9 864.2 543.4 859.5 542.9 859.7 542.4 861.6 541.9 860.4 541.4 860.3 540.9 862.7 540.4 863.8 539.9 862.3 539.4 859.3 538.9 862.2 538.4 862 537.9 867 537.4 862.3 536.9 860.1 536.4 861.3 535.9 863.9 535.4 861.1 534.9 868.8 534.4 859 533.9 859.3 533.4 858.7 532.9 860.7 532.4 860.1 531.9 862.3 531.4 861.1 530.9 865.8 530.4 864.3 529.9 862.7 529.4 862.8 528.9 862.2 528.4 860.1 527.9 862.3 527.4 858.9 526.9 859.8 526.4 859.2 525.9 870.2 525.4 860.6 524.9 861 524.4 866.2 523.9 860.5 523.4 860.3 522.9 859.2 522.4 861 521.9 859.4 521.4 860.1 520.9 860.5 520.4 864.6 519.9 859.7 519.4 859.6 518.9 859.8 518.4 864.4 517.9 859 517.4 861.1 516.9 858 516.4 859.5 515.9 857.9 515.4 857.6 514.9 857.4 514.4 858.2 513.9 858.1 513.4 858.5 512.9 860.3 512.4 859 511.9 860 511.4 863.8 510.9 859.4 510.4 860.4 509.9 861 509.4 860.3 508.9 858.6 508.4 859.3 507.9 871.5 507.4 858.5 506.9 859 506.4 858.6 505.9 863.4 505.4 859.7 504.9 858.5 504.4 859.4 503.9 857.4 503.4 858.1 502.9 858.8 502.4 858.6 501.9 867.1 501.4 859.2 500.9 859.2 500.4 859.5 499.9 859.7 499.4 859.5 498.9 860.4 498.4 861.8 497.9 864.7 497.4 863 496.9 860.1 496.4 861.5 495.9 861.6 495.4 859.6 494.9 860.9 494.4 861.3 493.9 863.7 493.4 858.8 492.9 859.7 492.4 858.6 491.9 860.3 491.4 859.5 490.9 858.3 490.4 859.6 489.9 859.5 489.4 859.1 488.9 861.9 488.4 859.9 487.9 860.9 487.4 860.2 486.9 859.3 486.4 860.9 485.9 860 485.4 860 484.9 859.6 484.4 866.1 483.9 859.9 483.4 860.5 482.9 866.3 482.4 861.7 481.9 860.8 481.4 859.5 480.9 862.8 480.4 859.3 479.9 862.2 479.4 861.3 478.9 862.8 478.4 865.1 477.9 860.4 477.4 864.5 476.9 860.4 476.4 863.3 475.9 865.2 475.4 860.6 474.9 860.8 474.4 862.2 473.9 864.2 473.4 871.8 472.9 860 472.4 860.8 471.9 860.9 471.4 859.6 470.9 861.7 470.4 859.3 469.9 859.9 469.4 859.1 468.9 861.7 468.4 860.7 467.9 863.3 467.4 862.1 466.9 864.2 466.4 862.2 465.9 862.4 465.4 860.8 464.9 860 464.4 861.4 463.9 859.5 463.4 864.5 462.9 861 462.4 859.8 461.9 862.3 461.4 862.2 460.9 860.5 460.4 859.5 459.9 863.4 459.4 860.9 458.9 860.1 458.4 859.3 457.9 859.1 457.4 859.2 456.9 858.6 456.4 858.8 455.9 859 455.4 860 454.9 859.3 454.4 859 453.9 862.6 453.4 859.1 452.9 863.6 452.4 859.7 451.9 861.9 451.4 860.2 450.9 858.2 450.4 857.8 449.9 857.1 449.4 857 448.9 857 448.4 857.3 447.9 858.4 447.4 858.7 446.9 860.1 446.4 858.5 445.9 859.2 445.4 859.1 444.9 859.9 444.4 861.3 443.9 860.7 443.4 859.8 442.9 859.6 442.4 865 441.9 860.8 441.4 864 440.9 858.9 440.4 862 439.9 863 439.4 858.1 438.9 858.4 438.4 860.4 437.9 858.8 437.4 859.7 436.9 860.9 436.4 861 435.9 860 435.4 865.4 434.9 861 434.4 858.9 433.9 857.5 433.4 862 432.9 859.8 432.4 859.1 431.9 861.4 431.4 860.4 430.9 858.9 430.4 859.4 429.9 861.9 429.4 862.6 428.9 861.4 428.4 861 427.9 862.1 427.4 867.1 426.9 860 426.4 861.3 425.9 860.2 425.4 859.1 424.9 863.1 424.4 862.8 423.9 861.1 423.4 859.9 422.9 862.1 422.4 859.4 421.9 859 421.4 861.4 420.9 862 420.4 860 419.9 859.1 419.4 860.1 418.9 864.4 418.4 863.2 417.9 864.5 417.4 864.7 416.9 862.3 416.4 858.7 415.9 858.5 415.4 859.1 414.9 866.8 414.4 864 413.9 864.1 413.4 859.6 412.9 860.1 412.4 862.7 411.9 859 411.4 860.9 410.9 858.8 410.4 858.1 409.9 861.1 409.4 862.4 408.9 859 408.4 859.9 407.9 864.8 407.4 861.6 406.9 863.1 406.4 862 405.9 859.9 405.4 865.1 404.9 860.8 404.4 859.5 403.9 866.1 403.4 860.9 402.9 861.5 402.4 865 401.9 860.4 401.4 860.6 400.9 858.7 400.4 859.7 399.9 858.9 399.4 858.9 398.9 867.9 398.4 860.7 397.9 858.9 397.4 858.6 396.9 866 396.4 859.4 395.9 864.1 395.4 867.1 394.9 859.2 394.4 870 393.9 860 393.4 860.3 392.9 861.5 392.4 858.7 391.9 860.8Z" fill="#ff0000"/></g><rect x="391.9" y="753.6" width="152.5" height="172.9" fill="none" stroke="#999" stroke-width="1.25"/><path d="M391.9 926.5v-1.5M391.9 753.6v1.5M430 926.5v-1.5M430 753.6v1.5M468.1 926.5v-1.5M468.1 753.6v1.5M506.3 926.5v-1.5M506.3 753.6v1.5M544.4 926.5v-1.5M544.4 753.6v1.5M391.9 926.5h1.5M544.4 926.5h-1.5M391.9 901.8h1.5M544.4 901.8h-1.5M391.9 877.1h1.5M544.4 877.1h-1.5M391.9 852.4h1.5M544.4 852.4h-1.5M391.9 827.7h1.5M544.4 827.7h-1.5M391.9 803h1.5M544.4 803h-1.5M391.9 778.3h1.5M544.4 778.3h-1.5M391.9 753.6h1.5M544.4 753.6h-1.5" stroke="#555" stroke-width="0.7" fill="none"/><g font-size="9.3" fill="#222" stroke="#222" stroke-width="0.3"><text x="391.9" y="938.7" text-anchor="middle">0</text><text x="430" y="938.7" text-anchor="middle">1</text><text x="468.1" y="938.7" text-anchor="middle">2</text><text x="506.3" y="938.7" text-anchor="middle">3</text><text x="544.4" y="938.7" text-anchor="middle">4</text><text x="388.4" y="930.3" text-anchor="end">50</text><text x="388.4" y="905.6" text-anchor="end">51</text><text x="388.4" y="880.9" text-anchor="end">52</text><text x="388.4" y="856.2" text-anchor="end">53</text><text x="388.4" y="831.5" text-anchor="end">54</text><text x="388.4" y="806.8" text-anchor="end">55</text><text x="388.4" y="782.1" text-anchor="end">56</text><text x="388.4" y="757.4" text-anchor="end">57</text></g><text x="468.1" y="949.5" text-anchor="middle" font-size="10.23" fill="#1a1a1a" stroke="#1a1a1a" stroke-width="0.25">Time(h)</text><text transform="translate(376.5 840) rotate(-90)" text-anchor="middle" font-size="10.23" fill="#1a1a1a" stroke="#1a1a1a" stroke-width="0.22">z-axis CMG(dps)</text><rect x="448.7" y="773.7" width="80.7" height="38.2" fill="#fff" stroke="#666" stroke-width="0.8"/><path d="M450.9 779.3H470.6" stroke="#000" stroke-width="0.8"/><text x="473.1" y="782.3" font-size="8.70" fill="#111" stroke="#111" stroke-width="0.2">Primary</text><path d="M450.9 788.3H470.6" stroke="#00ff00" stroke-width="0.8"/><text x="473.1" y="791.3" font-size="8.70" fill="#111" stroke="#111" stroke-width="0.2">Conventional 1</text><path d="M450.9 797.3H470.6" stroke="#0000ff" stroke-width="0.8"/><text x="473.1" y="800.3" font-size="8.70" fill="#111" stroke="#111" stroke-width="0.2">Conventional 2</text><path d="M450.9 806.2H470.6" stroke="#ff0000" stroke-width="0.8"/><text x="473.1" y="809.2" font-size="8.70" fill="#111" stroke="#111" stroke-width="0.2">Novel</text></g>
<text transform="translate(277.6 239.8) scale(0.93 1)" text-anchor="middle" font-size="16.6" fill="#111">(<tspan font-weight="bold">a</tspan>)</text>
<text transform="translate(277.3 485.8) scale(0.93 1)" text-anchor="middle" font-size="16.6" fill="#111">(<tspan font-weight="bold">b</tspan>)</text>
<text transform="translate(277.3 739.1) scale(0.93 1)" text-anchor="middle" font-size="16.6" fill="#111">(<tspan font-weight="bold">c</tspan>)</text>
<text transform="translate(277.5 973) scale(0.93 1)" text-anchor="middle" font-size="16.6" fill="#111">(<tspan font-weight="bold">d</tspan>)</text>
</g></svg>
</body></html>
